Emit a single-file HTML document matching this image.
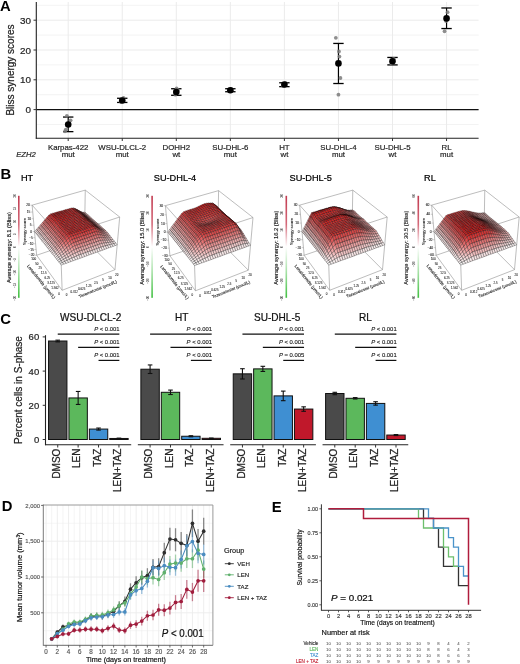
<!DOCTYPE html>
<html><head><meta charset="utf-8"><title>Figure</title>
<style>
html,body{margin:0;padding:0;background:#fff;}
svg{display:block;font-family:"Liberation Sans",Arial,sans-serif;}
</style></head><body>
<svg width="520" height="664" viewBox="0 0 520 664">
<rect width="520" height="664" fill="#fff"/>
<text x="0" y="10.8" font-size="14.8" font-weight="bold">A</text>
<text x="0.6" y="178.7" font-size="14.8" font-weight="bold">B</text>
<text x="0.2" y="324.4" font-size="14.8" font-weight="bold">C</text>
<text x="1.8" y="510.9" font-size="14.8" font-weight="bold">D</text>
<text x="271.8" y="512.2" font-size="14.8" font-weight="bold">E</text>
<line x1="36.3" y1="124.5" x2="478.6" y2="124.5" stroke="#ebebeb" stroke-width="0.6"/>
<line x1="36.3" y1="94.7" x2="478.6" y2="94.7" stroke="#ebebeb" stroke-width="0.6"/>
<line x1="36.3" y1="64.9" x2="478.6" y2="64.9" stroke="#ebebeb" stroke-width="0.6"/>
<line x1="36.3" y1="35.1" x2="478.6" y2="35.1" stroke="#ebebeb" stroke-width="0.6"/>
<line x1="36.3" y1="5.3" x2="478.6" y2="5.3" stroke="#ebebeb" stroke-width="0.6"/>
<line x1="36.3" y1="109.6" x2="478.6" y2="109.6" stroke="#ebebeb" stroke-width="1"/>
<line x1="36.3" y1="79.8" x2="478.6" y2="79.8" stroke="#ebebeb" stroke-width="1"/>
<line x1="36.3" y1="50" x2="478.6" y2="50" stroke="#ebebeb" stroke-width="1"/>
<line x1="36.3" y1="20.2" x2="478.6" y2="20.2" stroke="#ebebeb" stroke-width="1"/>
<line x1="68.2" y1="2" x2="68.2" y2="138.2" stroke="#ebebeb" stroke-width="1"/>
<line x1="122.25" y1="2" x2="122.25" y2="138.2" stroke="#ebebeb" stroke-width="1"/>
<line x1="176.3" y1="2" x2="176.3" y2="138.2" stroke="#ebebeb" stroke-width="1"/>
<line x1="230.35" y1="2" x2="230.35" y2="138.2" stroke="#ebebeb" stroke-width="1"/>
<line x1="284.4" y1="2" x2="284.4" y2="138.2" stroke="#ebebeb" stroke-width="1"/>
<line x1="338.45" y1="2" x2="338.45" y2="138.2" stroke="#ebebeb" stroke-width="1"/>
<line x1="392.5" y1="2" x2="392.5" y2="138.2" stroke="#ebebeb" stroke-width="1"/>
<line x1="446.55" y1="2" x2="446.55" y2="138.2" stroke="#ebebeb" stroke-width="1"/>
<line x1="36.3" y1="109.6" x2="478.6" y2="109.6" stroke="#111" stroke-width="1.1"/>
<line x1="36.3" y1="2" x2="36.3" y2="138.7" stroke="#222" stroke-width="1.1"/>
<line x1="35.8" y1="138.2" x2="478.6" y2="138.2" stroke="#222" stroke-width="1.1"/>
<line x1="33.5" y1="109.6" x2="36.3" y2="109.6" stroke="#333" stroke-width="1"/>
<text x="31" y="113.1" font-size="9.9" text-anchor="end" fill="#262626" stroke="#262626" stroke-width="0.22">0</text>
<line x1="33.5" y1="79.8" x2="36.3" y2="79.8" stroke="#333" stroke-width="1"/>
<text x="31" y="83.3" font-size="9.9" text-anchor="end" fill="#262626" stroke="#262626" stroke-width="0.22">10</text>
<line x1="33.5" y1="50" x2="36.3" y2="50" stroke="#333" stroke-width="1"/>
<text x="31" y="53.5" font-size="9.9" text-anchor="end" fill="#262626" stroke="#262626" stroke-width="0.22">20</text>
<line x1="33.5" y1="20.2" x2="36.3" y2="20.2" stroke="#333" stroke-width="1"/>
<text x="31" y="23.7" font-size="9.9" text-anchor="end" fill="#262626" stroke="#262626" stroke-width="0.22">30</text>
<line x1="68.2" y1="138.2" x2="68.2" y2="141" stroke="#333" stroke-width="1"/>
<text x="68.2" y="149.6" font-size="7.85" text-anchor="middle" fill="#262626" stroke="#262626" stroke-width="0.19">Karpas-422</text>
<text x="68.2" y="157.1" font-size="7.85" text-anchor="middle" fill="#262626" stroke="#262626" stroke-width="0.19">mut</text>
<line x1="122.25" y1="138.2" x2="122.25" y2="141" stroke="#333" stroke-width="1"/>
<text x="122.25" y="149.6" font-size="7.85" text-anchor="middle" fill="#262626" stroke="#262626" stroke-width="0.19">WSU-DLCL-2</text>
<text x="122.25" y="157.1" font-size="7.85" text-anchor="middle" fill="#262626" stroke="#262626" stroke-width="0.19">mut</text>
<line x1="176.3" y1="138.2" x2="176.3" y2="141" stroke="#333" stroke-width="1"/>
<text x="176.3" y="149.6" font-size="7.85" text-anchor="middle" fill="#262626" stroke="#262626" stroke-width="0.19">DOHH2</text>
<text x="176.3" y="157.1" font-size="7.85" text-anchor="middle" fill="#262626" stroke="#262626" stroke-width="0.19">wt</text>
<line x1="230.35" y1="138.2" x2="230.35" y2="141" stroke="#333" stroke-width="1"/>
<text x="230.35" y="149.6" font-size="7.85" text-anchor="middle" fill="#262626" stroke="#262626" stroke-width="0.19">SU-DHL-6</text>
<text x="230.35" y="157.1" font-size="7.85" text-anchor="middle" fill="#262626" stroke="#262626" stroke-width="0.19">mut</text>
<line x1="284.4" y1="138.2" x2="284.4" y2="141" stroke="#333" stroke-width="1"/>
<text x="284.4" y="149.6" font-size="7.85" text-anchor="middle" fill="#262626" stroke="#262626" stroke-width="0.19">HT</text>
<text x="284.4" y="157.1" font-size="7.85" text-anchor="middle" fill="#262626" stroke="#262626" stroke-width="0.19">wt</text>
<line x1="338.45" y1="138.2" x2="338.45" y2="141" stroke="#333" stroke-width="1"/>
<text x="338.45" y="149.6" font-size="7.85" text-anchor="middle" fill="#262626" stroke="#262626" stroke-width="0.19">SU-DHL-4</text>
<text x="338.45" y="157.1" font-size="7.85" text-anchor="middle" fill="#262626" stroke="#262626" stroke-width="0.19">mut</text>
<line x1="392.5" y1="138.2" x2="392.5" y2="141" stroke="#333" stroke-width="1"/>
<text x="392.5" y="149.6" font-size="7.85" text-anchor="middle" fill="#262626" stroke="#262626" stroke-width="0.19">SU-DHL-5</text>
<text x="392.5" y="157.1" font-size="7.85" text-anchor="middle" fill="#262626" stroke="#262626" stroke-width="0.19">wt</text>
<line x1="446.55" y1="138.2" x2="446.55" y2="141" stroke="#333" stroke-width="1"/>
<text x="446.55" y="149.6" font-size="7.85" text-anchor="middle" fill="#262626" stroke="#262626" stroke-width="0.19">RL</text>
<text x="446.55" y="157.1" font-size="7.85" text-anchor="middle" fill="#262626" stroke="#262626" stroke-width="0.19">mut</text>
<text x="16.2" y="157.1" font-size="7.7" fill="#262626" font-style="italic" stroke="#262626" stroke-width="0.19">EZH2</text>
<text x="14.3" y="70" font-size="10" text-anchor="middle" fill="#222" transform="rotate(-90 14.3 70)" stroke="#222" stroke-width="0.22">Bliss synergy scores</text>
<line x1="68.2" y1="117.05" x2="68.2" y2="131.65" stroke="#000" stroke-width="1.2"/>
<line x1="63" y1="117.05" x2="73.4" y2="117.05" stroke="#000" stroke-width="1.3"/>
<line x1="63" y1="131.65" x2="73.4" y2="131.65" stroke="#000" stroke-width="1.3"/>
<circle cx="66.9" cy="115.86" r="1.9" fill="#7a7a7a" fill-opacity="0.85"/>
<circle cx="70.6" cy="120.33" r="1.9" fill="#7a7a7a" fill-opacity="0.85"/>
<circle cx="65.8" cy="129.57" r="1.9" fill="#7a7a7a" fill-opacity="0.85"/>
<circle cx="65" cy="131.35" r="1.9" fill="#7a7a7a" fill-opacity="0.85"/>
<circle cx="68.2" cy="124.5" r="3.3" fill="#000"/>
<line x1="122.25" y1="98.28" x2="122.25" y2="102.45" stroke="#000" stroke-width="1.2"/>
<line x1="117.05" y1="98.28" x2="127.45" y2="98.28" stroke="#000" stroke-width="1.3"/>
<line x1="117.05" y1="102.45" x2="127.45" y2="102.45" stroke="#000" stroke-width="1.3"/>
<circle cx="120.75" cy="101.85" r="1.9" fill="#7a7a7a" fill-opacity="0.85"/>
<circle cx="123.45" cy="97.98" r="1.9" fill="#7a7a7a" fill-opacity="0.85"/>
<circle cx="122.75" cy="99.77" r="1.9" fill="#7a7a7a" fill-opacity="0.85"/>
<circle cx="122.25" cy="100.51" r="3.3" fill="#000"/>
<line x1="176.3" y1="88.74" x2="176.3" y2="95.3" stroke="#000" stroke-width="1.2"/>
<line x1="171.1" y1="88.74" x2="181.5" y2="88.74" stroke="#000" stroke-width="1.3"/>
<line x1="171.1" y1="95.3" x2="181.5" y2="95.3" stroke="#000" stroke-width="1.3"/>
<circle cx="175.3" cy="94.7" r="1.9" fill="#7a7a7a" fill-opacity="0.85"/>
<circle cx="177.8" cy="89.93" r="1.9" fill="#7a7a7a" fill-opacity="0.85"/>
<circle cx="176.6" cy="88.44" r="1.9" fill="#7a7a7a" fill-opacity="0.85"/>
<circle cx="176.3" cy="92.02" r="3.3" fill="#000"/>
<line x1="230.35" y1="88.74" x2="230.35" y2="91.72" stroke="#000" stroke-width="1.2"/>
<line x1="225.15" y1="88.74" x2="235.55" y2="88.74" stroke="#000" stroke-width="1.3"/>
<line x1="225.15" y1="91.72" x2="235.55" y2="91.72" stroke="#000" stroke-width="1.3"/>
<circle cx="229.35" cy="91.12" r="1.9" fill="#7a7a7a" fill-opacity="0.85"/>
<circle cx="231.35" cy="89.04" r="1.9" fill="#7a7a7a" fill-opacity="0.85"/>
<circle cx="230.35" cy="90.23" r="3.3" fill="#000"/>
<line x1="284.4" y1="82.78" x2="284.4" y2="86.65" stroke="#000" stroke-width="1.2"/>
<line x1="279.2" y1="82.78" x2="289.6" y2="82.78" stroke="#000" stroke-width="1.3"/>
<line x1="279.2" y1="86.65" x2="289.6" y2="86.65" stroke="#000" stroke-width="1.3"/>
<circle cx="282.9" cy="85.76" r="1.9" fill="#7a7a7a" fill-opacity="0.85"/>
<circle cx="285.6" cy="83.08" r="1.9" fill="#7a7a7a" fill-opacity="0.85"/>
<circle cx="284.4" cy="84.57" r="3.3" fill="#000"/>
<line x1="338.45" y1="43.44" x2="338.45" y2="83.52" stroke="#000" stroke-width="1.2"/>
<line x1="333.25" y1="43.44" x2="343.65" y2="43.44" stroke="#000" stroke-width="1.3"/>
<line x1="333.25" y1="83.52" x2="343.65" y2="83.52" stroke="#000" stroke-width="1.3"/>
<circle cx="335.85" cy="37.78" r="1.9" fill="#7a7a7a" fill-opacity="0.85"/>
<circle cx="338.95" cy="51.49" r="1.9" fill="#7a7a7a" fill-opacity="0.85"/>
<circle cx="339.45" cy="56.56" r="1.9" fill="#7a7a7a" fill-opacity="0.85"/>
<circle cx="340.45" cy="78.01" r="1.9" fill="#7a7a7a" fill-opacity="0.85"/>
<circle cx="338.45" cy="94.7" r="1.9" fill="#7a7a7a" fill-opacity="0.85"/>
<circle cx="338.45" cy="63.41" r="3.3" fill="#000"/>
<line x1="392.5" y1="57.45" x2="392.5" y2="64.9" stroke="#000" stroke-width="1.2"/>
<line x1="387.3" y1="57.45" x2="397.7" y2="57.45" stroke="#000" stroke-width="1.3"/>
<line x1="387.3" y1="64.9" x2="397.7" y2="64.9" stroke="#000" stroke-width="1.3"/>
<circle cx="391.3" cy="63.41" r="1.9" fill="#7a7a7a" fill-opacity="0.85"/>
<circle cx="393.8" cy="58.94" r="1.9" fill="#7a7a7a" fill-opacity="0.85"/>
<circle cx="392.5" cy="59.54" r="1.9" fill="#7a7a7a" fill-opacity="0.85"/>
<circle cx="392.5" cy="61.32" r="3.3" fill="#000"/>
<line x1="446.55" y1="7.98" x2="446.55" y2="28.54" stroke="#000" stroke-width="1.2"/>
<line x1="441.35" y1="7.98" x2="451.75" y2="7.98" stroke="#000" stroke-width="1.3"/>
<line x1="441.35" y1="28.54" x2="451.75" y2="28.54" stroke="#000" stroke-width="1.3"/>
<circle cx="447.55" cy="12.15" r="1.9" fill="#7a7a7a" fill-opacity="0.85"/>
<circle cx="446.05" cy="21.09" r="1.9" fill="#7a7a7a" fill-opacity="0.85"/>
<circle cx="444.55" cy="31.23" r="1.9" fill="#7a7a7a" fill-opacity="0.85"/>
<circle cx="446.55" cy="18.41" r="3.3" fill="#000"/>
<line x1="62.14" y1="290.31" x2="60.23" y2="236.53" stroke="#909090" stroke-width="0.6"/>
<line x1="62.14" y1="290.31" x2="36.65" y2="255.26" stroke="#909090" stroke-width="0.6"/>
<line x1="62.14" y1="290.31" x2="114.99" y2="269.68" stroke="#909090" stroke-width="0.6"/>
<line x1="60.23" y1="236.53" x2="32.13" y2="205.17" stroke="#909090" stroke-width="0.6"/>
<line x1="60.23" y1="236.53" x2="119.7" y2="217.02" stroke="#909090" stroke-width="0.6"/>
<line x1="36.65" y1="255.26" x2="32.13" y2="205.17" stroke="#909090" stroke-width="0.6"/>
<line x1="36.65" y1="255.26" x2="84.45" y2="238.99" stroke="#909090" stroke-width="0.6"/>
<line x1="32.13" y1="205.17" x2="85.28" y2="190.12" stroke="#909090" stroke-width="0.6"/>
<line x1="114.99" y1="269.68" x2="119.7" y2="217.02" stroke="#909090" stroke-width="0.6"/>
<line x1="114.99" y1="269.68" x2="84.45" y2="238.99" stroke="#909090" stroke-width="0.6"/>
<line x1="119.7" y1="217.02" x2="85.28" y2="190.12" stroke="#909090" stroke-width="0.6"/>
<line x1="84.45" y1="238.99" x2="85.28" y2="190.12" stroke="#909090" stroke-width="0.6"/>
<g stroke="#000" stroke-opacity="0.78" stroke-width="0.36">
<path d="M84.1 213.3L86.0 213.2L84.9 212.2L83.0 212.3Z" fill="#dba2a2"/>
<path d="M82.2 212.7L84.1 213.3L83.0 212.3L81.1 211.7Z" fill="#cf8e8e"/>
<path d="M85.3 214.3L87.2 214.2L86.0 213.2L84.1 213.3Z" fill="#dba2a2"/>
<path d="M83.4 213.8L85.3 214.3L84.1 213.3L82.2 212.7Z" fill="#cf8e8e"/>
<path d="M80.3 211.7L82.2 212.7L81.1 211.7L79.1 210.7Z" fill="#c67676"/>
<path d="M86.4 215.4L88.4 215.2L87.2 214.2L85.3 214.3Z" fill="#dba2a2"/>
<path d="M84.5 214.8L86.4 215.4L85.3 214.3L83.4 213.8Z" fill="#cf8e8e"/>
<path d="M81.4 212.7L83.4 213.8L82.2 212.7L80.3 211.7Z" fill="#c67676"/>
<path d="M87.6 216.4L89.6 216.3L88.4 215.2L86.4 215.4Z" fill="#dba2a2"/>
<path d="M78.3 210.5L80.3 211.7L79.1 210.7L77.2 209.5Z" fill="#c05d5d"/>
<path d="M85.7 215.8L87.6 216.4L86.4 215.4L84.5 214.8Z" fill="#cf8e8e"/>
<path d="M88.8 217.5L90.7 217.3L89.6 216.3L87.6 216.4Z" fill="#dba2a2"/>
<path d="M82.6 213.8L84.5 214.8L83.4 213.8L81.4 212.7Z" fill="#c67676"/>
<path d="M79.4 211.5L81.4 212.7L80.3 211.7L78.3 210.5Z" fill="#c05d5d"/>
<path d="M76.3 209.5L78.3 210.5L77.2 209.5L75.2 208.5Z" fill="#bd4747"/>
<path d="M86.9 216.9L88.8 217.5L87.6 216.4L85.7 215.8Z" fill="#cf8e8e"/>
<path d="M90.0 218.6L92.0 218.4L90.7 217.3L88.8 217.5Z" fill="#dba2a2"/>
<path d="M83.7 214.8L85.7 215.8L84.5 214.8L82.6 213.8Z" fill="#c67676"/>
<path d="M80.6 212.6L82.6 213.8L81.4 212.7L79.4 211.5Z" fill="#c05d5d"/>
<path d="M77.5 210.5L79.4 211.5L78.3 210.5L76.3 209.5Z" fill="#bd4747"/>
<path d="M74.3 208.9L76.3 209.5L75.2 208.5L73.2 207.9Z" fill="#bf3636"/>
<path d="M88.1 218.0L90.0 218.6L88.8 217.5L86.9 216.9Z" fill="#cf8e8e"/>
<path d="M91.2 219.6L93.2 219.5L92.0 218.4L90.0 218.6Z" fill="#dba2a2"/>
<path d="M84.9 215.9L86.9 216.9L85.7 215.8L83.7 214.8Z" fill="#c67676"/>
<path d="M81.8 213.6L83.7 214.8L82.6 213.8L80.6 212.6Z" fill="#c05d5d"/>
<path d="M72.3 209.1L74.3 208.9L73.2 207.9L71.2 208.1Z" fill="#c62d2d"/>
<path d="M78.6 211.5L80.6 212.6L79.4 211.5L77.5 210.5Z" fill="#bd4747"/>
<path d="M75.4 209.9L77.5 210.5L76.3 209.5L74.3 208.9Z" fill="#bf3535"/>
<path d="M70.3 209.6L72.3 209.1L71.2 208.1L69.2 208.7Z" fill="#c92a2a"/>
<path d="M89.3 219.1L91.2 219.6L90.0 218.6L88.1 218.0Z" fill="#cf8e8e"/>
<path d="M92.4 220.7L94.4 220.6L93.2 219.5L91.2 219.6Z" fill="#dba2a2"/>
<path d="M86.1 217.0L88.1 218.0L86.9 216.9L84.9 215.9Z" fill="#c67676"/>
<path d="M82.9 214.7L84.9 215.9L83.7 214.8L81.8 213.6Z" fill="#c05d5d"/>
<path d="M73.4 210.0L75.4 209.9L74.3 208.9L72.3 209.1Z" fill="#c62c2c"/>
<path d="M79.8 212.6L81.8 213.6L80.6 212.6L78.6 211.5Z" fill="#bd4646"/>
<path d="M68.2 210.2L70.3 209.6L69.2 208.7L67.1 209.2Z" fill="#c92a2a"/>
<path d="M76.6 210.9L78.6 211.5L77.5 210.5L75.4 209.9Z" fill="#bf3535"/>
<path d="M90.5 220.2L92.4 220.7L91.2 219.6L89.3 219.1Z" fill="#cf8e8e"/>
<path d="M93.7 221.8L95.6 221.7L94.4 220.6L92.4 220.7Z" fill="#dba2a2"/>
<path d="M71.4 210.6L73.4 210.0L72.3 209.1L70.3 209.6Z" fill="#c92929"/>
<path d="M87.3 218.0L89.3 219.1L88.1 218.0L86.1 217.0Z" fill="#c67676"/>
<path d="M66.2 210.7L68.2 210.2L67.1 209.2L65.1 209.8Z" fill="#c82929"/>
<path d="M84.1 215.8L86.1 217.0L84.9 215.9L82.9 214.7Z" fill="#c05d5d"/>
<path d="M74.6 211.0L76.6 210.9L75.4 209.9L73.4 210.0Z" fill="#c62c2c"/>
<path d="M80.9 213.6L82.9 214.7L81.8 213.6L79.8 212.6Z" fill="#bd4747"/>
<path d="M77.7 211.9L79.8 212.6L78.6 211.5L76.6 210.9Z" fill="#bf3535"/>
<path d="M69.3 211.1L71.4 210.6L70.3 209.6L68.2 210.2Z" fill="#c82828"/>
<path d="M64.1 211.2L66.2 210.7L65.1 209.8L63.1 210.4Z" fill="#c82828"/>
<path d="M91.7 221.3L93.7 221.8L92.4 220.7L90.5 220.2Z" fill="#cf8e8e"/>
<path d="M94.9 222.9L96.9 222.8L95.6 221.7L93.7 221.8Z" fill="#dba2a2"/>
<path d="M72.5 211.6L74.6 211.0L73.4 210.0L71.4 210.6Z" fill="#c92929"/>
<path d="M88.5 219.1L90.5 220.2L89.3 219.1L87.3 218.0Z" fill="#c67676"/>
<path d="M67.3 211.6L69.3 211.1L68.2 210.2L66.2 210.7Z" fill="#c72727"/>
<path d="M62.1 211.8L64.1 211.2L63.1 210.4L61.0 210.9Z" fill="#c72727"/>
<path d="M85.3 216.9L87.3 218.0L86.1 217.0L84.1 215.8Z" fill="#c05d5d"/>
<path d="M75.7 212.1L77.7 211.9L76.6 210.9L74.6 211.0Z" fill="#c62b2b"/>
<path d="M82.1 214.7L84.1 215.8L82.9 214.7L80.9 213.6Z" fill="#bd4747"/>
<path d="M78.9 213.0L80.9 213.6L79.8 212.6L77.7 211.9Z" fill="#bf3535"/>
<path d="M70.5 212.1L72.5 211.6L71.4 210.6L69.3 211.1Z" fill="#c82727"/>
<path d="M65.2 212.1L67.3 211.6L66.2 210.7L64.1 211.2Z" fill="#c72525"/>
<path d="M60.0 212.3L62.1 211.8L61.0 210.9L58.9 211.5Z" fill="#c62626"/>
<path d="M93.0 222.4L94.9 222.9L93.7 221.8L91.7 221.3Z" fill="#cf8e8e"/>
<path d="M96.2 224.1L98.2 223.9L96.9 222.8L94.9 222.9Z" fill="#dba2a2"/>
<path d="M89.8 220.3L91.7 221.3L90.5 220.2L88.5 219.1Z" fill="#c67676"/>
<path d="M73.7 212.6L75.7 212.1L74.6 211.0L72.5 211.6Z" fill="#c92828"/>
<path d="M68.4 212.6L70.5 212.1L69.3 211.1L67.3 211.6Z" fill="#c72525"/>
<path d="M86.5 218.0L88.5 219.1L87.3 218.0L85.3 216.9Z" fill="#c05e5e"/>
<path d="M57.9 212.9L60.0 212.3L58.9 211.5L56.9 212.1Z" fill="#c62525"/>
<path d="M63.1 212.6L65.2 212.1L64.1 211.2L62.1 211.8Z" fill="#c62424"/>
<path d="M76.9 213.2L78.9 213.0L77.7 211.9L75.7 212.1Z" fill="#c62c2c"/>
<path d="M83.3 215.8L85.3 216.9L84.1 215.8L82.1 214.7Z" fill="#be4747"/>
<path d="M80.1 214.1L82.1 214.7L80.9 213.6L78.9 213.0Z" fill="#bf3535"/>
<path d="M71.6 213.1L73.7 212.6L72.5 211.6L70.5 212.1Z" fill="#c92727"/>
<path d="M55.8 213.5L57.9 212.9L56.9 212.1L54.8 212.7Z" fill="#c52424"/>
<path d="M66.3 213.0L68.4 212.6L67.3 211.6L65.2 212.1Z" fill="#c72424"/>
<path d="M94.2 223.5L96.2 224.1L94.9 222.9L93.0 222.4Z" fill="#cf8e8e"/>
<path d="M97.5 225.2L99.5 225.0L98.2 223.9L96.2 224.1Z" fill="#dba2a2"/>
<path d="M61.1 213.1L63.1 212.6L62.1 211.8L60.0 212.3Z" fill="#c52222"/>
<path d="M91.0 221.4L93.0 222.4L91.7 221.3L89.8 220.3Z" fill="#c67676"/>
<path d="M74.8 213.7L76.9 213.2L75.7 212.1L73.7 212.6Z" fill="#ca2929"/>
<path d="M35.4 232.7L37.4 230.4L36.5 229.3L34.5 231.6Z" fill="#f0e2e2"/>
<path d="M87.8 219.1L89.8 220.3L88.5 219.1L86.5 218.0Z" fill="#c05e5e"/>
<path d="M69.5 213.6L71.6 213.1L70.5 212.1L68.4 212.6Z" fill="#c82525"/>
<path d="M53.7 214.1L55.8 213.5L54.8 212.7L52.7 213.3Z" fill="#c52424"/>
<path d="M37.4 230.4L39.4 228.1L38.5 227.0L36.5 229.3Z" fill="#ebc4c4"/>
<path d="M64.2 213.5L66.3 213.0L65.2 212.1L63.1 212.6Z" fill="#c62222"/>
<path d="M59.0 213.7L61.1 213.1L60.0 212.3L57.9 212.9Z" fill="#c52121"/>
<path d="M78.0 214.3L80.1 214.1L78.9 213.0L76.9 213.2Z" fill="#c72c2c"/>
<path d="M84.5 217.0L86.5 218.0L85.3 216.9L83.3 215.8Z" fill="#be4747"/>
<path d="M39.4 228.1L41.5 225.8L40.5 224.7L38.5 227.0Z" fill="#e5a8a8"/>
<path d="M81.3 215.3L83.3 215.8L82.1 214.7L80.1 214.1Z" fill="#bf3636"/>
<path d="M72.7 214.3L74.8 213.7L73.7 212.6L71.6 213.1Z" fill="#ca2727"/>
<path d="M41.5 225.8L43.5 223.5L42.5 222.4L40.5 224.7Z" fill="#e08d8d"/>
<path d="M51.6 214.7L53.7 214.1L52.7 213.3L50.6 213.9Z" fill="#c52424"/>
<path d="M95.5 224.7L97.5 225.2L96.2 224.1L94.2 223.5Z" fill="#cf8e8e"/>
<path d="M98.8 226.4L100.8 226.2L99.5 225.0L97.5 225.2Z" fill="#dba2a2"/>
<path d="M43.5 223.5L45.5 221.1L44.5 220.1L42.5 222.4Z" fill="#db7272"/>
<path d="M67.4 214.1L69.5 213.6L68.4 212.6L66.3 213.0Z" fill="#c82323"/>
<path d="M56.9 214.2L59.0 213.7L57.9 212.9L55.8 213.5Z" fill="#c42020"/>
<path d="M92.3 222.5L94.2 223.5L93.0 222.4L91.0 221.4Z" fill="#c67676"/>
<path d="M62.1 214.0L64.2 213.5L63.1 212.6L61.1 213.1Z" fill="#c52020"/>
<path d="M45.5 221.1L47.5 218.7L46.5 217.8L44.5 220.1Z" fill="#d55858"/>
<path d="M76.0 214.9L78.0 214.3L76.9 213.2L74.8 213.7Z" fill="#cb2929"/>
<path d="M49.5 216.2L51.6 214.7L50.6 213.9L48.5 215.4Z" fill="#cc2b2b"/>
<path d="M47.5 218.7L49.5 216.2L48.5 215.4L46.5 217.8Z" fill="#d03e3e"/>
<path d="M89.0 220.2L91.0 221.4L89.8 220.3L87.8 219.1Z" fill="#c05e5e"/>
<path d="M36.4 233.9L38.4 231.6L37.4 230.4L35.4 232.7Z" fill="#f0e2e2"/>
<path d="M70.7 214.8L72.7 214.3L71.6 213.1L69.5 213.6Z" fill="#c92525"/>
<path d="M79.2 215.5L81.3 215.3L80.1 214.1L78.0 214.3Z" fill="#c72d2d"/>
<path d="M38.4 231.6L40.4 229.3L39.4 228.1L37.4 230.4Z" fill="#eac3c3"/>
<path d="M54.7 214.8L56.9 214.2L55.8 213.5L53.7 214.1Z" fill="#c42020"/>
<path d="M85.7 218.1L87.8 219.1L86.5 218.0L84.5 217.0Z" fill="#be4747"/>
<path d="M65.3 214.6L67.4 214.1L66.3 213.0L64.2 213.5Z" fill="#c72121"/>
<path d="M60.0 214.5L62.1 214.0L61.1 213.1L59.0 213.7Z" fill="#c51e1e"/>
<path d="M82.5 216.4L84.5 217.0L83.3 215.8L81.3 215.3Z" fill="#c03636"/>
<path d="M40.4 229.3L42.4 226.9L41.5 225.8L39.4 228.1Z" fill="#e5a7a7"/>
<path d="M73.9 215.4L76.0 214.9L74.8 213.7L72.7 214.3Z" fill="#ca2828"/>
<path d="M96.8 225.8L98.8 226.4L97.5 225.2L95.5 224.7Z" fill="#cf8e8e"/>
<path d="M100.1 227.5L102.1 227.3L100.8 226.2L98.8 226.4Z" fill="#dba2a2"/>
<path d="M42.4 226.9L44.4 224.5L43.5 223.5L41.5 225.8Z" fill="#e08b8b"/>
<path d="M68.6 215.3L70.7 214.8L69.5 213.6L67.4 214.1Z" fill="#c92323"/>
<path d="M93.5 223.7L95.5 224.7L94.2 223.5L92.3 222.5Z" fill="#c67676"/>
<path d="M52.6 215.5L54.7 214.8L53.7 214.1L51.6 214.7Z" fill="#c42020"/>
<path d="M44.4 224.5L46.5 222.0L45.5 221.1L43.5 223.5Z" fill="#da7070"/>
<path d="M63.2 215.1L65.3 214.6L64.2 213.5L62.1 214.0Z" fill="#c71f1f"/>
<path d="M57.9 215.1L60.0 214.5L59.0 213.7L56.9 214.2Z" fill="#c51d1d"/>
<path d="M77.1 216.1L79.2 215.5L78.0 214.3L76.0 214.9Z" fill="#cb2a2a"/>
<path d="M46.5 222.0L48.5 219.6L47.5 218.7L45.5 221.1Z" fill="#d55555"/>
<path d="M90.3 221.3L92.3 222.5L91.0 221.4L89.0 220.2Z" fill="#c05e5e"/>
<path d="M50.5 217.1L52.6 215.5L51.6 214.7L49.5 216.2Z" fill="#cb2727"/>
<path d="M48.5 219.6L50.5 217.1L49.5 216.2L47.5 218.7Z" fill="#cf3b3b"/>
<path d="M37.3 235.1L39.4 232.8L38.4 231.6L36.4 233.9Z" fill="#f0e2e2"/>
<path d="M71.8 216.0L73.9 215.4L72.7 214.3L70.7 214.8Z" fill="#ca2727"/>
<path d="M80.4 216.6L82.5 216.4L81.3 215.3L79.2 215.5Z" fill="#c72d2d"/>
<path d="M87.0 219.2L89.0 220.2L87.8 219.1L85.7 218.1Z" fill="#be4848"/>
<path d="M66.5 215.8L68.6 215.3L67.4 214.1L65.3 214.6Z" fill="#c92121"/>
<path d="M39.4 232.8L41.4 230.4L40.4 229.3L38.4 231.6Z" fill="#eac3c3"/>
<path d="M83.7 217.5L85.7 218.1L84.5 217.0L82.5 216.4Z" fill="#c03636"/>
<path d="M55.8 215.7L57.9 215.1L56.9 214.2L54.7 214.8Z" fill="#c51c1c"/>
<path d="M61.1 215.6L63.2 215.1L62.1 214.0L60.0 214.5Z" fill="#c71d1d"/>
<path d="M101.4 228.7L103.4 228.5L102.1 227.3L100.1 227.5Z" fill="#dba2a2"/>
<path d="M75.1 216.7L77.1 216.1L76.0 214.9L73.9 215.4Z" fill="#cb2929"/>
<path d="M98.1 227.0L100.1 227.5L98.8 226.4L96.8 225.8Z" fill="#cf8e8e"/>
<path d="M41.4 230.4L43.4 228.0L42.4 226.9L40.4 229.3Z" fill="#e5a6a6"/>
<path d="M43.4 228.0L45.4 225.6L44.4 224.5L42.4 226.9Z" fill="#e08a8a"/>
<path d="M94.8 224.8L96.8 225.8L95.5 224.7L93.5 223.7Z" fill="#c67676"/>
<path d="M69.7 216.5L71.8 216.0L70.7 214.8L68.6 215.3Z" fill="#ca2525"/>
<path d="M45.4 225.6L47.5 223.1L46.5 222.0L44.4 224.5Z" fill="#da6e6e"/>
<path d="M64.3 216.3L66.5 215.8L65.3 214.6L63.2 215.1Z" fill="#c91f1f"/>
<path d="M78.3 217.2L80.4 216.6L79.2 215.5L77.1 216.1Z" fill="#cb2b2b"/>
<path d="M53.7 216.4L55.8 215.7L54.7 214.8L52.6 215.5Z" fill="#c51c1c"/>
<path d="M59.0 216.1L61.1 215.6L60.0 214.5L57.9 215.1Z" fill="#c71b1b"/>
<path d="M91.5 222.5L93.5 223.7L92.3 222.5L90.3 221.3Z" fill="#c05e5e"/>
<path d="M47.5 223.1L49.5 220.5L48.5 219.6L46.5 222.0Z" fill="#d55353"/>
<path d="M73.0 217.2L75.1 216.7L73.9 215.4L71.8 216.0Z" fill="#cb2828"/>
<path d="M38.3 236.3L40.3 234.0L39.4 232.8L37.3 235.1Z" fill="#f0e2e2"/>
<path d="M81.6 217.7L83.7 217.5L82.5 216.4L80.4 216.6Z" fill="#c72e2e"/>
<path d="M88.2 220.3L90.3 221.3L89.0 220.2L87.0 219.2Z" fill="#be4848"/>
<path d="M51.6 218.0L53.7 216.4L52.6 215.5L50.5 217.1Z" fill="#cb2424"/>
<path d="M49.5 220.5L51.6 218.0L50.5 217.1L48.5 219.6Z" fill="#cf3838"/>
<path d="M67.6 217.1L69.7 216.5L68.6 215.3L66.5 215.8Z" fill="#cb2424"/>
<path d="M84.9 218.7L87.0 219.2L85.7 218.1L83.7 217.5Z" fill="#c03737"/>
<path d="M40.3 234.0L42.4 231.6L41.4 230.4L39.4 232.8Z" fill="#ebc3c3"/>
<path d="M102.7 229.9L104.8 229.7L103.4 228.5L101.4 228.7Z" fill="#dba2a2"/>
<path d="M99.4 228.2L101.4 228.7L100.1 227.5L98.1 227.0Z" fill="#cf8e8e"/>
<path d="M62.2 216.8L64.3 216.3L63.2 215.1L61.1 215.6Z" fill="#c91e1e"/>
<path d="M76.2 217.9L78.3 217.2L77.1 216.1L75.1 216.7Z" fill="#cb2b2b"/>
<path d="M56.9 216.8L59.0 216.1L57.9 215.1L55.8 215.7Z" fill="#c71b1b"/>
<path d="M42.4 231.6L44.4 229.2L43.4 228.0L41.4 230.4Z" fill="#e5a6a6"/>
<path d="M96.1 226.0L98.1 227.0L96.8 225.8L94.8 224.8Z" fill="#c67676"/>
<path d="M70.9 217.8L73.0 217.2L71.8 216.0L69.7 216.5Z" fill="#cb2727"/>
<path d="M44.4 229.2L46.4 226.7L45.4 225.6L43.4 228.0Z" fill="#e08a8a"/>
<path d="M65.5 217.6L67.6 217.1L66.5 215.8L64.3 216.3Z" fill="#cb2222"/>
<path d="M79.5 218.4L81.6 217.7L80.4 216.6L78.3 217.2Z" fill="#cb2c2c"/>
<path d="M92.8 223.6L94.8 224.8L93.5 223.7L91.5 222.5Z" fill="#c05e5e"/>
<path d="M46.4 226.7L48.5 224.2L47.5 223.1L45.4 225.6Z" fill="#db6e6e"/>
<path d="M54.7 217.4L56.9 216.8L55.8 215.7L53.7 216.4Z" fill="#c71a1a"/>
<path d="M60.1 217.4L62.2 216.8L61.1 215.6L59.0 216.1Z" fill="#c91c1c"/>
<path d="M74.1 218.5L76.2 217.9L75.1 216.7L73.0 217.2Z" fill="#cb2a2a"/>
<path d="M48.5 224.2L50.5 221.6L49.5 220.5L47.5 223.1Z" fill="#d65252"/>
<path d="M89.5 221.5L91.5 222.5L90.3 221.3L88.2 220.3Z" fill="#be4848"/>
<path d="M39.3 237.5L41.3 235.2L40.3 234.0L38.3 236.3Z" fill="#f0e2e2"/>
<path d="M82.8 218.9L84.9 218.7L83.7 217.5L81.6 217.7Z" fill="#c72e2e"/>
<path d="M68.7 218.4L70.9 217.8L69.7 216.5L67.6 217.1Z" fill="#cc2626"/>
<path d="M86.2 219.8L88.2 220.3L87.0 219.2L84.9 218.7Z" fill="#c03737"/>
<path d="M50.5 221.6L52.6 219.1L51.6 218.0L49.5 220.5Z" fill="#d03737"/>
<path d="M52.6 219.1L54.7 217.4L53.7 216.4L51.6 218.0Z" fill="#cd2222"/>
<path d="M104.1 231.1L106.1 230.9L104.8 229.7L102.7 229.9Z" fill="#dba2a2"/>
<path d="M100.7 229.4L102.7 229.9L101.4 228.7L99.4 228.2Z" fill="#cf8e8e"/>
<path d="M41.3 235.2L43.4 232.8L42.4 231.6L40.3 234.0Z" fill="#ebc3c3"/>
<path d="M63.3 218.2L65.5 217.6L64.3 216.3L62.2 216.8Z" fill="#cb2121"/>
<path d="M77.4 219.0L79.5 218.4L78.3 217.2L76.2 217.9Z" fill="#cb2c2c"/>
<path d="M57.9 218.0L60.1 217.4L59.0 216.1L56.9 216.8Z" fill="#c91c1c"/>
<path d="M97.4 227.2L99.4 228.2L98.1 227.0L96.1 226.0Z" fill="#c67676"/>
<path d="M43.4 232.8L45.4 230.4L44.4 229.2L42.4 231.6Z" fill="#e6a7a7"/>
<path d="M72.0 219.1L74.1 218.5L73.0 217.2L70.9 217.8Z" fill="#cc2929"/>
<path d="M45.4 230.4L47.5 227.9L46.4 226.7L44.4 229.2Z" fill="#e18b8b"/>
<path d="M66.6 219.0L68.7 218.4L67.6 217.1L65.5 217.6Z" fill="#cc2525"/>
<path d="M80.7 219.5L82.8 218.9L81.6 217.7L79.5 218.4Z" fill="#cb2c2c"/>
<path d="M94.1 224.8L96.1 226.0L94.8 224.8L92.8 223.6Z" fill="#c05e5e"/>
<path d="M61.2 218.8L63.3 218.2L62.2 216.8L60.1 217.4Z" fill="#cb1f1f"/>
<path d="M47.5 227.9L49.5 225.4L48.5 224.2L46.4 226.7Z" fill="#dc6f6f"/>
<path d="M55.8 218.7L57.9 218.0L56.9 216.8L54.7 217.4Z" fill="#ca1c1c"/>
<path d="M75.3 219.7L77.4 219.0L76.2 217.9L74.1 218.5Z" fill="#cb2b2b"/>
<path d="M90.8 222.6L92.8 223.6L91.5 222.5L89.5 221.5Z" fill="#be4848"/>
<path d="M49.5 225.4L51.6 222.9L50.5 221.6L48.5 224.2Z" fill="#d75353"/>
<path d="M84.1 220.0L86.2 219.8L84.9 218.7L82.8 218.9Z" fill="#c72e2e"/>
<path d="M69.9 219.7L72.0 219.1L70.9 217.8L68.7 218.4Z" fill="#cc2929"/>
<path d="M105.4 232.6L107.5 232.4L106.1 230.9L104.1 231.1Z" fill="#e0a7a7"/>
<path d="M40.2 238.8L42.3 236.4L41.3 235.2L39.3 237.5Z" fill="#f0e2e2"/>
<path d="M87.4 220.9L89.5 221.5L88.2 220.3L86.2 219.8Z" fill="#c03737"/>
<path d="M102.1 230.6L104.1 231.1L102.7 229.9L100.7 229.4Z" fill="#cf8e8e"/>
<path d="M51.6 222.9L53.7 220.3L52.6 219.1L50.5 221.6Z" fill="#d23737"/>
<path d="M53.7 220.3L55.8 218.7L54.7 217.4L52.6 219.1Z" fill="#d02323"/>
<path d="M64.5 219.6L66.6 219.0L65.5 217.6L63.3 218.2Z" fill="#cc2424"/>
<path d="M42.3 236.4L44.4 234.0L43.4 232.8L41.3 235.2Z" fill="#ebc4c4"/>
<path d="M78.6 220.2L80.7 219.5L79.5 218.4L77.4 219.0Z" fill="#cb2c2c"/>
<path d="M59.0 219.4L61.2 218.8L60.1 217.4L57.9 218.0Z" fill="#cc1f1f"/>
<path d="M98.8 228.4L100.7 229.4L99.4 228.2L97.4 227.2Z" fill="#c67676"/>
<path d="M73.2 220.3L75.3 219.7L74.1 218.5L72.0 219.1Z" fill="#cc2b2b"/>
<path d="M44.4 234.0L46.4 231.6L45.4 230.4L43.4 232.8Z" fill="#e6a7a7"/>
<path d="M67.8 220.4L69.9 219.7L68.7 218.4L66.6 219.0Z" fill="#cc2828"/>
<path d="M46.4 231.6L48.5 229.2L47.5 227.9L45.4 230.4Z" fill="#e18c8c"/>
<path d="M95.4 226.0L97.4 227.2L96.1 226.0L94.1 224.8Z" fill="#c05e5e"/>
<path d="M82.0 220.7L84.1 220.0L82.8 218.9L80.7 219.5Z" fill="#cb2c2c"/>
<path d="M62.3 220.2L64.5 219.6L63.3 218.2L61.2 218.8Z" fill="#cc2323"/>
<path d="M106.8 234.4L108.8 234.1L107.5 232.4L105.4 232.6Z" fill="#e5b1b1"/>
<path d="M56.9 220.1L59.0 219.4L57.9 218.0L55.8 218.7Z" fill="#cc1f1f"/>
<path d="M48.5 229.2L50.6 226.7L49.5 225.4L47.5 227.9Z" fill="#dd7070"/>
<path d="M76.5 220.9L78.6 220.2L77.4 219.0L75.3 219.7Z" fill="#cb2c2c"/>
<path d="M92.1 223.8L94.1 224.8L92.8 223.6L90.8 222.6Z" fill="#be4848"/>
<path d="M103.4 232.2L105.4 232.6L104.1 231.1L102.1 230.6Z" fill="#d49494"/>
<path d="M85.3 221.2L87.4 220.9L86.2 219.8L84.1 220.0Z" fill="#c72e2e"/>
<path d="M71.1 221.0L73.2 220.3L72.0 219.1L69.9 219.7Z" fill="#cc2b2b"/>
<path d="M50.6 226.7L52.7 224.2L51.6 222.9L49.5 225.4Z" fill="#d85555"/>
<path d="M88.7 222.1L90.8 222.6L89.5 221.5L87.4 220.9Z" fill="#c03737"/>
<path d="M41.2 240.0L43.3 237.7L42.3 236.4L40.2 238.8Z" fill="#f0e2e2"/>
<path d="M65.6 221.0L67.8 220.4L66.6 219.0L64.5 219.6Z" fill="#cc2828"/>
<path d="M54.8 221.7L56.9 220.1L55.8 218.7L53.7 220.3Z" fill="#d12626"/>
<path d="M52.7 224.2L54.8 221.7L53.7 220.3L51.6 222.9Z" fill="#d43a3a"/>
<path d="M60.2 220.9L62.3 220.2L61.2 218.8L59.0 219.4Z" fill="#cd2323"/>
<path d="M79.9 221.4L82.0 220.7L80.7 219.5L78.6 220.2Z" fill="#cb2c2c"/>
<path d="M43.3 237.7L45.4 235.3L44.4 234.0L42.3 236.4Z" fill="#ebc4c4"/>
<path d="M100.1 229.6L102.1 230.6L100.7 229.4L98.8 228.4Z" fill="#c67676"/>
<path d="M74.4 221.5L76.5 220.9L75.3 219.7L73.2 220.3Z" fill="#cb2c2c"/>
<path d="M45.4 235.3L47.5 232.9L46.4 231.6L44.4 234.0Z" fill="#e6a8a8"/>
<path d="M108.1 236.2L110.2 235.9L108.8 234.1L106.8 234.4Z" fill="#e7baba"/>
<path d="M68.9 221.6L71.1 221.0L69.9 219.7L67.8 220.4Z" fill="#cc2a2a"/>
<path d="M96.7 227.2L98.8 228.4L97.4 227.2L95.4 226.0Z" fill="#c05e5e"/>
<path d="M47.5 232.9L49.6 230.5L48.5 229.2L46.4 231.6Z" fill="#e28d8d"/>
<path d="M83.2 221.9L85.3 221.2L84.1 220.0L82.0 220.7Z" fill="#cb2c2c"/>
<path d="M63.5 221.7L65.6 221.0L64.5 219.6L62.3 220.2Z" fill="#cd2727"/>
<path d="M104.8 234.1L106.8 234.4L105.4 232.6L103.4 232.2Z" fill="#da9f9f"/>
<path d="M58.0 221.6L60.2 220.9L59.0 219.4L56.9 220.1Z" fill="#cd2323"/>
<path d="M49.6 230.5L51.7 228.1L50.6 226.7L48.5 229.2Z" fill="#dd7272"/>
<path d="M77.7 222.1L79.9 221.4L78.6 220.2L76.5 220.9Z" fill="#cb2c2c"/>
<path d="M93.4 225.0L95.4 226.0L94.1 224.8L92.1 223.8Z" fill="#be4848"/>
<path d="M86.6 222.4L88.7 222.1L87.4 220.9L85.3 221.2Z" fill="#c72e2e"/>
<path d="M72.2 222.2L74.4 221.5L73.2 220.3L71.1 221.0Z" fill="#cb2c2c"/>
<path d="M51.7 228.1L53.8 225.6L52.7 224.2L50.6 226.7Z" fill="#d95858"/>
<path d="M90.0 223.3L92.1 223.8L90.8 222.6L88.7 222.1Z" fill="#c03737"/>
<path d="M66.8 222.3L68.9 221.6L67.8 220.4L65.6 221.0Z" fill="#cc2a2a"/>
<path d="M55.9 223.2L58.0 221.6L56.9 220.1L54.8 221.7Z" fill="#d22a2a"/>
<path d="M42.2 241.3L44.3 238.9L43.3 237.7L41.2 240.0Z" fill="#f0e2e2"/>
<path d="M53.8 225.6L55.9 223.2L54.8 221.7L52.7 224.2Z" fill="#d53e3e"/>
<path d="M101.4 231.3L103.4 232.2L102.1 230.6L100.1 229.6Z" fill="#cc7c7c"/>
<path d="M61.3 222.3L63.5 221.7L62.3 220.2L60.2 220.9Z" fill="#cd2727"/>
<path d="M109.5 238.1L111.6 237.6L110.2 235.9L108.1 236.2Z" fill="#e9c4c4"/>
<path d="M81.1 222.5L83.2 221.9L82.0 220.7L79.9 221.4Z" fill="#cb2c2c"/>
<path d="M44.3 238.9L46.4 236.6L45.4 235.3L43.3 237.7Z" fill="#ebc5c5"/>
<path d="M106.1 236.1L108.1 236.2L106.8 234.4L104.8 234.1Z" fill="#dfabab"/>
<path d="M75.6 222.7L77.7 222.1L76.5 220.9L74.4 221.5Z" fill="#cb2c2c"/>
<path d="M46.4 236.6L48.5 234.2L47.5 232.9L45.4 235.3Z" fill="#e6a9a9"/>
<path d="M70.1 222.9L72.2 222.2L71.1 221.0L68.9 221.6Z" fill="#cc2b2b"/>
<path d="M98.1 228.4L100.1 229.6L98.8 228.4L96.7 227.2Z" fill="#c05e5e"/>
<path d="M64.6 223.0L66.8 222.3L65.6 221.0L63.5 221.7Z" fill="#cc2a2a"/>
<path d="M84.5 223.0L86.6 222.4L85.3 221.2L83.2 221.9Z" fill="#cb2c2c"/>
<path d="M48.5 234.2L50.6 231.8L49.6 230.5L47.5 232.9Z" fill="#e28e8e"/>
<path d="M59.1 223.0L61.3 222.3L60.2 220.9L58.0 221.6Z" fill="#cd2727"/>
<path d="M50.6 231.8L52.7 229.4L51.7 228.1L49.6 230.5Z" fill="#dd7474"/>
<path d="M79.0 223.2L81.1 222.5L79.9 221.4L77.7 222.1Z" fill="#cb2c2c"/>
<path d="M102.8 233.5L104.8 234.1L103.4 232.2L101.4 231.3Z" fill="#d38989"/>
<path d="M94.7 226.2L96.7 227.2L95.4 226.0L93.4 225.0Z" fill="#be4848"/>
<path d="M110.9 240.0L113.0 239.4L111.6 237.6L109.5 238.1Z" fill="#eccece"/>
<path d="M87.9 223.5L90.0 223.3L88.7 222.1L86.6 222.4Z" fill="#c72e2e"/>
<path d="M52.7 229.4L54.8 227.0L53.8 225.6L51.7 228.1Z" fill="#d95a5a"/>
<path d="M73.4 223.4L75.6 222.7L74.4 221.5L72.2 222.2Z" fill="#cb2c2c"/>
<path d="M91.3 224.5L93.4 225.0L92.1 223.8L90.0 223.3Z" fill="#c03737"/>
<path d="M57.0 224.6L59.1 223.0L58.0 221.6L55.9 223.2Z" fill="#d32e2e"/>
<path d="M107.5 238.2L109.5 238.1L108.1 236.2L106.1 236.1Z" fill="#e3b7b7"/>
<path d="M67.9 223.6L70.1 222.9L68.9 221.6L66.8 222.3Z" fill="#cc2b2b"/>
<path d="M54.8 227.0L57.0 224.6L55.9 223.2L53.8 225.6Z" fill="#d54141"/>
<path d="M43.3 242.5L45.4 240.2L44.3 238.9L42.2 241.3Z" fill="#f0e2e2"/>
<path d="M62.4 223.7L64.6 223.0L63.5 221.7L61.3 222.3Z" fill="#cc2a2a"/>
<path d="M82.3 223.7L84.5 223.0L83.2 221.9L81.1 222.5Z" fill="#cb2c2c"/>
<path d="M45.4 240.2L47.5 237.8L46.4 236.6L44.3 238.9Z" fill="#ebc5c5"/>
<path d="M99.4 230.2L101.4 231.3L100.1 229.6L98.1 228.4Z" fill="#c76565"/>
<path d="M76.8 223.9L79.0 223.2L77.7 222.1L75.6 222.7Z" fill="#cb2c2c"/>
<path d="M104.1 235.7L106.1 236.1L104.8 234.1L102.8 233.5Z" fill="#d99898"/>
<path d="M47.5 237.8L49.6 235.5L48.5 234.2L46.4 236.6Z" fill="#e6a9a9"/>
<path d="M71.3 224.1L73.4 223.4L72.2 222.2L70.1 222.9Z" fill="#cb2c2c"/>
<path d="M112.3 241.8L114.4 241.2L113.0 239.4L110.9 240.0Z" fill="#eed8d8"/>
<path d="M65.8 224.2L67.9 223.6L66.8 222.3L64.6 223.0Z" fill="#cc2b2b"/>
<path d="M85.8 224.2L87.9 223.5L86.6 222.4L84.5 223.0Z" fill="#cb2c2c"/>
<path d="M60.2 224.3L62.4 223.7L61.3 222.3L59.1 223.0Z" fill="#cd2a2a"/>
<path d="M49.6 235.5L51.7 233.1L50.6 231.8L48.5 234.2Z" fill="#e28f8f"/>
<path d="M108.8 240.2L110.9 240.0L109.5 238.1L107.5 238.2Z" fill="#e7c4c4"/>
<path d="M96.0 227.4L98.1 228.4L96.7 227.2L94.7 226.2Z" fill="#be4848"/>
<path d="M51.7 233.1L53.8 230.7L52.7 229.4L50.6 231.8Z" fill="#dd7575"/>
<path d="M80.2 224.4L82.3 223.7L81.1 222.5L79.0 223.2Z" fill="#cb2c2c"/>
<path d="M89.2 224.7L91.3 224.5L90.0 223.3L87.9 223.5Z" fill="#c72e2e"/>
<path d="M53.8 230.7L55.9 228.3L54.8 227.0L52.7 229.4Z" fill="#d95c5c"/>
<path d="M74.6 224.6L76.8 223.9L75.6 222.7L73.4 223.4Z" fill="#cb2c2c"/>
<path d="M92.6 225.7L94.7 226.2L93.4 225.0L91.3 224.5Z" fill="#c03737"/>
<path d="M58.1 225.9L60.2 224.3L59.1 223.0L57.0 224.6Z" fill="#d23131"/>
<path d="M100.7 232.7L102.8 233.5L101.4 231.3L99.4 230.2Z" fill="#d07474"/>
<path d="M105.4 238.0L107.5 238.2L106.1 236.1L104.1 235.7Z" fill="#dea8a8"/>
<path d="M55.9 228.3L58.1 225.9L57.0 224.6L54.8 227.0Z" fill="#d54343"/>
<path d="M69.1 224.8L71.3 224.1L70.1 222.9L67.9 223.6Z" fill="#cb2c2c"/>
<path d="M63.6 224.9L65.8 224.2L64.6 223.0L62.4 223.7Z" fill="#cc2b2b"/>
<path d="M44.3 243.8L46.4 241.5L45.4 240.2L43.3 242.5Z" fill="#f0e2e2"/>
<path d="M83.6 224.9L85.8 224.2L84.5 223.0L82.3 223.7Z" fill="#cb2c2c"/>
<path d="M113.7 243.7L115.8 243.0L114.4 241.2L112.3 241.8Z" fill="#f1e3e3"/>
<path d="M46.4 241.5L48.5 239.1L47.5 237.8L45.4 240.2Z" fill="#ebc5c5"/>
<path d="M110.2 242.2L112.3 241.8L110.9 240.0L108.8 240.2Z" fill="#ecd1d1"/>
<path d="M78.0 225.1L80.2 224.4L79.0 223.2L76.8 223.9Z" fill="#cb2c2c"/>
<path d="M72.5 225.3L74.6 224.6L73.4 223.4L71.3 224.1Z" fill="#cb2c2c"/>
<path d="M48.5 239.1L50.7 236.7L49.6 235.5L47.5 237.8Z" fill="#e6aaaa"/>
<path d="M102.0 235.2L104.1 235.7L102.8 233.5L100.7 232.7Z" fill="#d68585"/>
<path d="M87.0 225.4L89.2 224.7L87.9 223.5L85.8 224.2Z" fill="#cb2c2c"/>
<path d="M66.9 225.5L69.1 224.8L67.9 223.6L65.8 224.2Z" fill="#cb2c2c"/>
<path d="M106.8 240.3L108.8 240.2L107.5 238.2L105.4 238.0Z" fill="#e4b8b8"/>
<path d="M97.4 229.4L99.4 230.2L98.1 228.4L96.0 227.4Z" fill="#c64f4f"/>
<path d="M61.4 225.6L63.6 224.9L62.4 223.7L60.2 224.3Z" fill="#cc2b2b"/>
<path d="M50.7 236.7L52.8 234.4L51.7 233.1L49.6 235.5Z" fill="#e28f8f"/>
<path d="M81.4 225.6L83.6 224.9L82.3 223.7L80.2 224.4Z" fill="#cb2c2c"/>
<path d="M52.8 234.4L54.9 232.0L53.8 230.7L51.7 233.1Z" fill="#dd7676"/>
<path d="M90.5 225.9L92.6 225.7L91.3 224.5L89.2 224.7Z" fill="#c72e2e"/>
<path d="M115.1 245.6L117.2 244.9L115.8 243.0L113.7 243.7Z" fill="#f4eeee"/>
<path d="M94.0 226.9L96.0 227.4L94.7 226.2L92.6 225.7Z" fill="#c03737"/>
<path d="M54.9 232.0L57.1 229.6L55.9 228.3L53.8 230.7Z" fill="#d95d5d"/>
<path d="M75.9 225.8L78.0 225.1L76.8 223.9L74.6 224.6Z" fill="#cb2c2c"/>
<path d="M111.6 244.3L113.7 243.7L112.3 241.8L110.2 242.2Z" fill="#f0dfdf"/>
<path d="M59.2 227.2L61.4 225.6L60.2 224.3L58.1 225.9Z" fill="#d23232"/>
<path d="M57.1 229.6L59.2 227.2L58.1 225.9L55.9 228.3Z" fill="#d44444"/>
<path d="M70.3 226.0L72.5 225.3L71.3 224.1L69.1 224.8Z" fill="#cb2c2c"/>
<path d="M103.4 237.7L105.4 238.0L104.1 235.7L102.0 235.2Z" fill="#dc9898"/>
<path d="M64.7 226.2L66.9 225.5L65.8 224.2L63.6 224.9Z" fill="#cb2c2c"/>
<path d="M45.3 245.1L47.5 242.8L46.4 241.5L44.3 243.8Z" fill="#f0e2e2"/>
<path d="M84.9 226.1L87.0 225.4L85.8 224.2L83.6 224.9Z" fill="#cb2c2c"/>
<path d="M108.1 242.5L110.2 242.2L108.8 240.2L106.8 240.3Z" fill="#eac8c8"/>
<path d="M98.7 232.1L100.7 232.7L99.4 230.2L97.4 229.4Z" fill="#cf6060"/>
<path d="M47.5 242.8L49.6 240.4L48.5 239.1L46.4 241.5Z" fill="#ebc5c5"/>
<path d="M79.3 226.3L81.4 225.6L80.2 224.4L78.0 225.1Z" fill="#cb2c2c"/>
<path d="M73.7 226.5L75.9 225.8L74.6 224.6L72.5 225.3Z" fill="#cb2c2c"/>
<path d="M49.6 240.4L51.7 238.0L50.7 236.7L48.5 239.1Z" fill="#e6aaaa"/>
<path d="M88.3 226.6L90.5 225.9L89.2 224.7L87.0 225.4Z" fill="#cb2c2c"/>
<path d="M104.7 240.3L106.8 240.3L105.4 238.0L103.4 237.7Z" fill="#e2abab"/>
<path d="M68.1 226.7L70.3 226.0L69.1 224.8L66.9 225.5Z" fill="#cb2c2c"/>
<path d="M113.0 246.4L115.1 245.6L113.7 243.7L111.6 244.3Z" fill="#f4eeee"/>
<path d="M62.5 226.9L64.7 226.2L63.6 224.9L61.4 225.6Z" fill="#cb2c2c"/>
<path d="M100.0 234.8L102.0 235.2L100.7 232.7L98.7 232.1Z" fill="#d57474"/>
<path d="M51.7 238.0L53.9 235.6L52.8 234.4L50.7 236.7Z" fill="#e19090"/>
<path d="M95.3 228.9L97.4 229.4L96.0 227.4L94.0 226.9Z" fill="#c93e3e"/>
<path d="M109.5 244.8L111.6 244.3L110.2 242.2L108.1 242.5Z" fill="#efdada"/>
<path d="M82.7 226.8L84.9 226.1L83.6 224.9L81.4 225.6Z" fill="#cb2c2c"/>
<path d="M53.9 235.6L56.0 233.2L54.9 232.0L52.8 234.4Z" fill="#dd7676"/>
<path d="M91.8 227.2L94.0 226.9L92.6 225.7L90.5 225.9Z" fill="#c72e2e"/>
<path d="M77.1 227.0L79.3 226.3L78.0 225.1L75.9 225.8Z" fill="#cb2c2c"/>
<path d="M56.0 233.2L58.2 230.8L57.1 229.6L54.9 232.0Z" fill="#d95d5d"/>
<path d="M60.3 228.4L62.5 226.9L61.4 225.6L59.2 227.2Z" fill="#d13333"/>
<path d="M58.2 230.8L60.3 228.4L59.2 227.2L57.1 229.6Z" fill="#d44545"/>
<path d="M71.5 227.2L73.7 226.5L72.5 225.3L70.3 226.0Z" fill="#cb2c2c"/>
<path d="M106.0 242.8L108.1 242.5L106.8 240.3L104.7 240.3Z" fill="#e9bfbf"/>
<path d="M101.3 237.6L103.4 237.7L102.0 235.2L100.0 234.8Z" fill="#dc8a8a"/>
<path d="M65.9 227.4L68.1 226.7L66.9 225.5L64.7 226.2Z" fill="#cb2c2c"/>
<path d="M86.2 227.4L88.3 226.6L87.0 225.4L84.9 226.1Z" fill="#cb2c2c"/>
<path d="M46.4 246.4L48.5 244.1L47.5 242.8L45.3 245.1Z" fill="#f0e2e2"/>
<path d="M96.6 231.8L98.7 232.1L97.4 229.4L95.3 228.9Z" fill="#d25050"/>
<path d="M110.9 247.2L113.0 246.4L111.6 244.3L109.5 244.8Z" fill="#f5eded"/>
<path d="M80.5 227.5L82.7 226.8L81.4 225.6L79.3 226.3Z" fill="#cb2c2c"/>
<path d="M48.5 244.1L50.7 241.7L49.6 240.4L47.5 242.8Z" fill="#ebc5c5"/>
<path d="M74.9 227.7L77.1 227.0L75.9 225.8L73.7 226.5Z" fill="#cb2c2c"/>
<path d="M89.7 227.9L91.8 227.2L90.5 225.9L88.3 226.6Z" fill="#cb2c2c"/>
<path d="M102.6 240.3L104.7 240.3L103.4 237.7L101.3 237.6Z" fill="#e2a0a0"/>
<path d="M107.4 245.4L109.5 244.8L108.1 242.5L106.0 242.8Z" fill="#efd5d5"/>
<path d="M50.7 241.7L52.8 239.3L51.7 238.0L49.6 240.4Z" fill="#e6aaaa"/>
<path d="M69.3 227.9L71.5 227.2L70.3 226.0L68.1 226.7Z" fill="#cb2c2c"/>
<path d="M93.1 229.3L95.3 228.9L94.0 226.9L91.8 227.2Z" fill="#d13636"/>
<path d="M63.7 228.1L65.9 227.4L64.7 226.2L62.5 226.9Z" fill="#cb2c2c"/>
<path d="M97.9 234.7L100.0 234.8L98.7 232.1L96.6 231.8Z" fill="#d86767"/>
<path d="M52.8 239.3L55.0 236.9L53.9 235.6L51.7 238.0Z" fill="#e19090"/>
<path d="M84.0 228.1L86.2 227.4L84.9 226.1L82.7 226.8Z" fill="#cb2c2c"/>
<path d="M55.0 236.9L57.1 234.5L56.0 233.2L53.9 235.6Z" fill="#dd7676"/>
<path d="M78.3 228.3L80.5 227.5L79.3 226.3L77.1 227.0Z" fill="#cb2c2c"/>
<path d="M103.9 243.1L106.0 242.8L104.7 240.3L102.6 240.3Z" fill="#e9b7b7"/>
<path d="M57.1 234.5L59.3 232.1L58.2 230.8L56.0 233.2Z" fill="#d85e5e"/>
<path d="M61.5 229.7L63.7 228.1L62.5 226.9L60.3 228.4Z" fill="#d13333"/>
<path d="M108.7 247.9L110.9 247.2L109.5 244.8L107.4 245.4Z" fill="#f6ecec"/>
<path d="M99.2 237.7L101.3 237.6L100.0 234.8L97.9 234.7Z" fill="#de7f7f"/>
<path d="M72.7 228.4L74.9 227.7L73.7 226.5L71.5 227.2Z" fill="#cb2c2c"/>
<path d="M59.3 232.1L61.5 229.7L60.3 228.4L58.2 230.8Z" fill="#d44545"/>
<path d="M87.5 228.6L89.7 227.9L88.3 226.6L86.2 227.4Z" fill="#cb2c2c"/>
<path d="M67.1 228.6L69.3 227.9L68.1 226.7L65.9 227.4Z" fill="#cb2c2c"/>
<path d="M94.4 232.2L96.6 231.8L95.3 228.9L93.1 229.3Z" fill="#d74949"/>
<path d="M47.4 247.8L49.6 245.4L48.5 244.1L46.4 246.4Z" fill="#f0e2e2"/>
<path d="M105.3 245.9L107.4 245.4L106.0 242.8L103.9 243.1Z" fill="#efd0d0"/>
<path d="M91.0 230.0L93.1 229.3L91.8 227.2L89.7 227.9Z" fill="#d43434"/>
<path d="M81.8 228.8L84.0 228.1L82.7 226.8L80.5 227.5Z" fill="#cb2c2c"/>
<path d="M49.6 245.4L51.8 243.0L50.7 241.7L48.5 244.1Z" fill="#ebc5c5"/>
<path d="M100.5 240.6L102.6 240.3L101.3 237.6L99.2 237.7Z" fill="#e49898"/>
<path d="M76.1 229.0L78.3 228.3L77.1 227.0L74.9 227.7Z" fill="#cb2c2c"/>
<path d="M95.7 235.2L97.9 234.7L96.6 231.8L94.4 232.2Z" fill="#dc6161"/>
<path d="M51.8 243.0L53.9 240.6L52.8 239.3L50.7 241.7Z" fill="#e6aaaa"/>
<path d="M70.5 229.2L72.7 228.4L71.5 227.2L69.3 227.9Z" fill="#cb2c2c"/>
<path d="M64.9 229.4L67.1 228.6L65.9 227.4L63.7 228.1Z" fill="#cb2c2c"/>
<path d="M106.6 248.7L108.7 247.9L107.4 245.4L105.3 245.9Z" fill="#f6eaea"/>
<path d="M53.9 240.6L56.1 238.2L55.0 236.9L52.8 239.3Z" fill="#e19090"/>
<path d="M85.3 229.3L87.5 228.6L86.2 227.4L84.0 228.1Z" fill="#cb2c2c"/>
<path d="M101.8 243.5L103.9 243.1L102.6 240.3L100.5 240.6Z" fill="#eab1b1"/>
<path d="M92.2 232.9L94.4 232.2L93.1 229.3L91.0 230.0Z" fill="#da4747"/>
<path d="M97.0 238.2L99.2 237.7L97.9 234.7L95.7 235.2Z" fill="#e17b7b"/>
<path d="M56.1 238.2L58.3 235.8L57.1 234.5L55.0 236.9Z" fill="#dd7676"/>
<path d="M79.6 229.5L81.8 228.8L80.5 227.5L78.3 228.3Z" fill="#cb2c2c"/>
<path d="M88.8 230.7L91.0 230.0L89.7 227.9L87.5 228.6Z" fill="#d43434"/>
<path d="M58.3 235.8L60.5 233.4L59.3 232.1L57.1 234.5Z" fill="#d85e5e"/>
<path d="M62.6 230.9L64.9 229.4L63.7 228.1L61.5 229.7Z" fill="#d13333"/>
<path d="M73.9 229.7L76.1 229.0L74.9 227.7L72.7 228.4Z" fill="#cb2c2c"/>
<path d="M103.1 246.5L105.3 245.9L103.9 243.1L101.8 243.5Z" fill="#f0cccc"/>
<path d="M60.5 233.4L62.6 230.9L61.5 229.7L59.3 232.1Z" fill="#d44545"/>
<path d="M68.3 229.9L70.5 229.2L69.3 227.9L67.1 228.6Z" fill="#cb2c2c"/>
<path d="M98.3 241.2L100.5 240.6L99.2 237.7L97.0 238.2Z" fill="#e69494"/>
<path d="M93.5 235.9L95.7 235.2L94.4 232.2L92.2 232.9Z" fill="#de6060"/>
<path d="M48.5 249.1L50.7 246.7L49.6 245.4L47.4 247.8Z" fill="#f0e2e2"/>
<path d="M83.1 230.0L85.3 229.3L84.0 228.1L81.8 228.8Z" fill="#cb2c2c"/>
<path d="M104.4 249.5L106.6 248.7L105.3 245.9L103.1 246.5Z" fill="#f7e9e9"/>
<path d="M50.7 246.7L52.9 244.3L51.8 243.0L49.6 245.4Z" fill="#ebc5c5"/>
<path d="M90.1 233.7L92.2 232.9L91.0 230.0L88.8 230.7Z" fill="#da4747"/>
<path d="M77.4 230.2L79.6 229.5L78.3 228.3L76.1 229.0Z" fill="#cb2c2c"/>
<path d="M99.6 244.2L101.8 243.5L100.5 240.6L98.3 241.2Z" fill="#ecafaf"/>
<path d="M94.8 238.9L97.0 238.2L95.7 235.2L93.5 235.9Z" fill="#e37a7a"/>
<path d="M86.6 231.4L88.8 230.7L87.5 228.6L85.3 229.3Z" fill="#d43434"/>
<path d="M52.9 244.3L55.0 241.9L53.9 240.6L51.8 243.0Z" fill="#e6aaaa"/>
<path d="M71.7 230.4L73.9 229.7L72.7 228.4L70.5 229.2Z" fill="#cb2c2c"/>
<path d="M66.0 230.6L68.3 229.9L67.1 228.6L64.9 229.4Z" fill="#cb2c2c"/>
<path d="M55.0 241.9L57.2 239.5L56.1 238.2L53.9 240.6Z" fill="#e19090"/>
<path d="M100.9 247.2L103.1 246.5L101.8 243.5L99.6 244.2Z" fill="#f1cbcb"/>
<path d="M91.4 236.7L93.5 235.9L92.2 232.9L90.1 233.7Z" fill="#de6060"/>
<path d="M96.1 241.9L98.3 241.2L97.0 238.2L94.8 238.9Z" fill="#e89494"/>
<path d="M57.2 239.5L59.4 237.1L58.3 235.8L56.1 238.2Z" fill="#dd7676"/>
<path d="M80.9 230.8L83.1 230.0L81.8 228.8L79.6 229.5Z" fill="#cb2c2c"/>
<path d="M59.4 237.1L61.6 234.6L60.5 233.4L58.3 235.8Z" fill="#d85e5e"/>
<path d="M63.8 232.2L66.0 230.6L64.9 229.4L62.6 230.9Z" fill="#d13333"/>
<path d="M75.2 230.9L77.4 230.2L76.1 229.0L73.9 229.7Z" fill="#cb2c2c"/>
<path d="M102.3 250.3L104.4 249.5L103.1 246.5L100.9 247.2Z" fill="#f7e9e9"/>
<path d="M87.9 234.4L90.1 233.7L88.8 230.7L86.6 231.4Z" fill="#da4747"/>
<path d="M61.6 234.6L63.8 232.2L62.6 230.9L60.5 233.4Z" fill="#d44545"/>
<path d="M97.5 245.0L99.6 244.2L98.3 241.2L96.1 241.9Z" fill="#edafaf"/>
<path d="M84.4 232.2L86.6 231.4L85.3 229.3L83.1 230.0Z" fill="#d43434"/>
<path d="M92.7 239.7L94.8 238.9L93.5 235.9L91.4 236.7Z" fill="#e37a7a"/>
<path d="M69.5 231.1L71.7 230.4L70.5 229.2L68.3 229.9Z" fill="#cb2c2c"/>
<path d="M49.6 250.5L51.8 248.1L50.7 246.7L48.5 249.1Z" fill="#f0e2e2"/>
<path d="M51.8 248.1L54.0 245.7L52.9 244.3L50.7 246.7Z" fill="#ebc5c5"/>
<path d="M89.2 237.4L91.4 236.7L90.1 233.7L87.9 234.4Z" fill="#de6060"/>
<path d="M98.8 248.0L100.9 247.2L99.6 244.2L97.5 245.0Z" fill="#f2caca"/>
<path d="M94.0 242.7L96.1 241.9L94.8 238.9L92.7 239.7Z" fill="#e89494"/>
<path d="M78.7 231.5L80.9 230.8L79.6 229.5L77.4 230.2Z" fill="#cb2c2c"/>
<path d="M54.0 245.7L56.2 243.2L55.0 241.9L52.9 244.3Z" fill="#e6aaaa"/>
<path d="M73.0 231.7L75.2 230.9L73.9 229.7L71.7 230.4Z" fill="#cb2c2c"/>
<path d="M85.7 235.2L87.9 234.4L86.6 231.4L84.4 232.2Z" fill="#da4747"/>
<path d="M67.2 231.9L69.5 231.1L68.3 229.9L66.0 230.6Z" fill="#cb2c2c"/>
<path d="M100.1 251.1L102.3 250.3L100.9 247.2L98.8 248.0Z" fill="#f7e9e9"/>
<path d="M82.2 232.9L84.4 232.2L83.1 230.0L80.9 230.8Z" fill="#d43434"/>
<path d="M56.2 243.2L58.4 240.8L57.2 239.5L55.0 241.9Z" fill="#e19090"/>
<path d="M90.5 240.4L92.7 239.7L91.4 236.7L89.2 237.4Z" fill="#e37a7a"/>
<path d="M95.3 245.7L97.5 245.0L96.1 241.9L94.0 242.7Z" fill="#edafaf"/>
<path d="M58.4 240.8L60.6 238.4L59.4 237.1L57.2 239.5Z" fill="#dd7676"/>
<path d="M60.6 238.4L62.8 235.9L61.6 234.6L59.4 237.1Z" fill="#d85e5e"/>
<path d="M87.0 238.2L89.2 237.4L87.9 234.4L85.7 235.2Z" fill="#de6060"/>
<path d="M76.4 232.2L78.7 231.5L77.4 230.2L75.2 230.9Z" fill="#cb2c2c"/>
<path d="M96.6 248.8L98.8 248.0L97.5 245.0L95.3 245.7Z" fill="#f2caca"/>
<path d="M65.0 233.5L67.2 231.9L66.0 230.6L63.8 232.2Z" fill="#d13333"/>
<path d="M91.8 243.5L94.0 242.7L92.7 239.7L90.5 240.4Z" fill="#e89494"/>
<path d="M62.8 235.9L65.0 233.5L63.8 232.2L61.6 234.6Z" fill="#d44545"/>
<path d="M70.7 232.4L73.0 231.7L71.7 230.4L69.5 231.1Z" fill="#cb2c2c"/>
<path d="M50.7 251.9L52.9 249.4L51.8 248.1L49.6 250.5Z" fill="#f0e2e2"/>
<path d="M83.5 235.9L85.7 235.2L84.4 232.2L82.2 232.9Z" fill="#da4747"/>
<path d="M80.0 233.6L82.2 232.9L80.9 230.8L78.7 231.5Z" fill="#d43434"/>
<path d="M97.9 251.8L100.1 251.1L98.8 248.0L96.6 248.8Z" fill="#f7e9e9"/>
<path d="M88.3 241.2L90.5 240.4L89.2 237.4L87.0 238.2Z" fill="#e37a7a"/>
<path d="M93.1 246.5L95.3 245.7L94.0 242.7L91.8 243.5Z" fill="#edafaf"/>
<path d="M52.9 249.4L55.1 247.0L54.0 245.7L51.8 248.1Z" fill="#ebc5c5"/>
<path d="M55.1 247.0L57.3 244.6L56.2 243.2L54.0 245.7Z" fill="#e6aaaa"/>
<path d="M74.2 233.0L76.4 232.2L75.2 230.9L73.0 231.7Z" fill="#cb2c2c"/>
<path d="M84.7 238.9L87.0 238.2L85.7 235.2L83.5 235.9Z" fill="#de6060"/>
<path d="M94.4 249.6L96.6 248.8L95.3 245.7L93.1 246.5Z" fill="#f2caca"/>
<path d="M89.6 244.2L91.8 243.5L90.5 240.4L88.3 241.2Z" fill="#e89494"/>
<path d="M68.5 233.2L70.7 232.4L69.5 231.1L67.2 231.9Z" fill="#cb2c2c"/>
<path d="M57.3 244.6L59.5 242.1L58.4 240.8L56.2 243.2Z" fill="#e19090"/>
<path d="M81.2 236.6L83.5 235.9L82.2 232.9L80.0 233.6Z" fill="#da4747"/>
<path d="M77.7 234.4L80.0 233.6L78.7 231.5L76.4 232.2Z" fill="#d43434"/>
<path d="M59.5 242.1L61.8 239.7L60.6 238.4L58.4 240.8Z" fill="#dd7676"/>
<path d="M95.7 252.6L97.9 251.8L96.6 248.8L94.4 249.6Z" fill="#f7e9e9"/>
<path d="M86.0 242.0L88.3 241.2L87.0 238.2L84.7 238.9Z" fill="#e37a7a"/>
<path d="M90.9 247.3L93.1 246.5L91.8 243.5L89.6 244.2Z" fill="#edafaf"/>
<path d="M61.8 239.7L64.0 237.2L62.8 235.9L60.6 238.4Z" fill="#d85e5e"/>
<path d="M66.2 234.8L68.5 233.2L67.2 231.9L65.0 233.5Z" fill="#d13333"/>
<path d="M64.0 237.2L66.2 234.8L65.0 233.5L62.8 235.9Z" fill="#d44545"/>
<path d="M71.9 233.7L74.2 233.0L73.0 231.7L70.7 232.4Z" fill="#cb2c2c"/>
<path d="M82.5 239.7L84.7 238.9L83.5 235.9L81.2 236.6Z" fill="#de6060"/>
<path d="M51.8 253.3L54.0 250.8L52.9 249.4L50.7 251.9Z" fill="#f0e2e2"/>
<path d="M92.2 250.4L94.4 249.6L93.1 246.5L90.9 247.3Z" fill="#f2caca"/>
<path d="M87.3 245.0L89.6 244.2L88.3 241.2L86.0 242.0Z" fill="#e89494"/>
<path d="M79.0 237.4L81.2 236.6L80.0 233.6L77.7 234.4Z" fill="#da4747"/>
<path d="M54.0 250.8L56.3 248.4L55.1 247.0L52.9 249.4Z" fill="#ebc5c5"/>
<path d="M75.5 235.1L77.7 234.4L76.4 232.2L74.2 233.0Z" fill="#d43434"/>
<path d="M83.8 242.7L86.0 242.0L84.7 238.9L82.5 239.7Z" fill="#e37a7a"/>
<path d="M93.5 253.4L95.7 252.6L94.4 249.6L92.2 250.4Z" fill="#f7e9e9"/>
<path d="M88.6 248.1L90.9 247.3L89.6 244.2L87.3 245.0Z" fill="#edafaf"/>
<path d="M56.3 248.4L58.5 245.9L57.3 244.6L55.1 247.0Z" fill="#e6aaaa"/>
<path d="M69.7 234.4L71.9 233.7L70.7 232.4L68.5 233.2Z" fill="#cb2c2c"/>
<path d="M58.5 245.9L60.7 243.5L59.5 242.1L57.3 244.6Z" fill="#e19090"/>
<path d="M80.3 240.4L82.5 239.7L81.2 236.6L79.0 237.4Z" fill="#de6060"/>
<path d="M85.1 245.8L87.3 245.0L86.0 242.0L83.8 242.7Z" fill="#e89494"/>
<path d="M89.9 251.2L92.2 250.4L90.9 247.3L88.6 248.1Z" fill="#f2caca"/>
<path d="M60.7 243.5L62.9 241.0L61.8 239.7L59.5 242.1Z" fill="#dd7676"/>
<path d="M76.7 238.2L79.0 237.4L77.7 234.4L75.5 235.1Z" fill="#da4747"/>
<path d="M73.2 235.9L75.5 235.1L74.2 233.0L71.9 233.7Z" fill="#d43434"/>
<path d="M62.9 241.0L65.2 238.5L64.0 237.2L61.8 239.7Z" fill="#d85e5e"/>
<path d="M67.4 236.1L69.7 234.4L68.5 233.2L66.2 234.8Z" fill="#d13333"/>
<path d="M81.6 243.5L83.8 242.7L82.5 239.7L80.3 240.4Z" fill="#e37a7a"/>
<path d="M91.3 254.2L93.5 253.4L92.2 250.4L89.9 251.2Z" fill="#f7e9e9"/>
<path d="M65.2 238.5L67.4 236.1L66.2 234.8L64.0 237.2Z" fill="#d44545"/>
<path d="M86.4 248.9L88.6 248.1L87.3 245.0L85.1 245.8Z" fill="#edafaf"/>
<path d="M53.0 254.7L55.2 252.3L54.0 250.8L51.8 253.3Z" fill="#f1e3e3"/>
<path d="M78.0 241.2L80.3 240.4L79.0 237.4L76.7 238.2Z" fill="#de6060"/>
<path d="M55.2 252.3L57.4 250.0L56.3 248.4L54.0 250.8Z" fill="#edc8c8"/>
<path d="M82.9 246.6L85.1 245.8L83.8 242.7L81.6 243.5Z" fill="#e89494"/>
<path d="M87.7 251.9L89.9 251.2L88.6 248.1L86.4 248.9Z" fill="#f2caca"/>
<path d="M74.5 238.9L76.7 238.2L75.5 235.1L73.2 235.9Z" fill="#da4747"/>
<path d="M70.9 236.6L73.2 235.9L71.9 233.7L69.7 234.4Z" fill="#d43434"/>
<path d="M57.4 250.0L59.7 247.6L58.5 245.9L56.3 248.4Z" fill="#eaaeae"/>
<path d="M79.3 244.3L81.6 243.5L80.3 240.4L78.0 241.2Z" fill="#e37a7a"/>
<path d="M59.7 247.6L61.9 245.3L60.7 243.5L58.5 245.9Z" fill="#e69595"/>
<path d="M89.0 255.0L91.3 254.2L89.9 251.2L87.7 251.9Z" fill="#f7e9e9"/>
<path d="M84.2 249.7L86.4 248.9L85.1 245.8L82.9 246.6Z" fill="#edafaf"/>
<path d="M61.9 245.3L64.2 242.9L62.9 241.0L60.7 243.5Z" fill="#e37d7d"/>
<path d="M75.8 242.0L78.0 241.2L76.7 238.2L74.5 238.9Z" fill="#de6060"/>
<path d="M64.2 242.9L66.4 240.6L65.2 238.5L62.9 241.0Z" fill="#df6565"/>
<path d="M68.7 238.2L70.9 236.6L69.7 234.4L67.4 236.1Z" fill="#d93b3b"/>
<path d="M80.6 247.4L82.9 246.6L81.6 243.5L79.3 244.3Z" fill="#e89494"/>
<path d="M66.4 240.6L68.7 238.2L67.4 236.1L65.2 238.5Z" fill="#db4d4d"/>
<path d="M85.5 252.7L87.7 251.9L86.4 248.9L84.2 249.7Z" fill="#f2caca"/>
<path d="M72.2 239.7L74.5 238.9L73.2 235.9L70.9 236.6Z" fill="#da4747"/>
<path d="M54.1 256.1L56.4 254.0L55.2 252.3L53.0 254.7Z" fill="#f2e6e6"/>
<path d="M77.0 245.1L79.3 244.3L78.0 241.2L75.8 242.0Z" fill="#e37a7a"/>
<path d="M56.4 254.0L58.6 251.8L57.4 250.0L55.2 252.3Z" fill="#f0cece"/>
<path d="M86.8 255.9L89.0 255.0L87.7 251.9L85.5 252.7Z" fill="#f7e9e9"/>
<path d="M81.9 250.4L84.2 249.7L82.9 246.6L80.6 247.4Z" fill="#edafaf"/>
<path d="M58.6 251.8L60.9 249.7L59.7 247.6L57.4 250.0Z" fill="#eeb7b7"/>
<path d="M73.5 242.8L75.8 242.0L74.5 238.9L72.2 239.7Z" fill="#de6060"/>
<path d="M60.9 249.7L63.1 247.6L61.9 245.3L59.7 247.6Z" fill="#eba1a1"/>
<path d="M69.9 241.1L72.2 239.7L70.9 236.6L68.7 238.2Z" fill="#de4e4e"/>
<path d="M63.1 247.6L65.4 245.4L64.2 242.9L61.9 245.3Z" fill="#e88b8b"/>
<path d="M78.3 248.1L80.6 247.4L79.3 244.3L77.0 245.1Z" fill="#e89494"/>
<path d="M65.4 245.4L67.7 243.3L66.4 240.6L64.2 242.9Z" fill="#e57575"/>
<path d="M67.7 243.3L69.9 241.1L68.7 238.2L66.4 240.6Z" fill="#e25e5e"/>
<path d="M83.2 253.6L85.5 252.7L84.2 249.7L81.9 250.4Z" fill="#f2caca"/>
<path d="M74.8 245.8L77.0 245.1L75.8 242.0L73.5 242.8Z" fill="#e37a7a"/>
<path d="M71.2 244.1L73.5 242.8L72.2 239.7L69.9 241.1Z" fill="#e36666"/>
<path d="M79.6 251.2L81.9 250.4L80.6 247.4L78.3 248.1Z" fill="#edafaf"/>
<path d="M84.5 256.7L86.8 255.9L85.5 252.7L83.2 253.6Z" fill="#f7e9e9"/>
<path d="M68.9 246.0L71.2 244.1L69.9 241.1L67.7 243.3Z" fill="#e67575"/>
<path d="M66.6 247.9L68.9 246.0L67.7 243.3L65.4 245.4Z" fill="#e98888"/>
<path d="M76.1 248.9L78.3 248.1L77.0 245.1L74.8 245.8Z" fill="#e89494"/>
<path d="M55.3 257.6L57.5 255.6L56.4 254.0L54.1 256.1Z" fill="#f3e8e8"/>
<path d="M64.4 249.9L66.6 247.9L65.4 245.4L63.1 247.6Z" fill="#eb9b9b"/>
<path d="M57.5 255.6L59.8 253.7L58.6 251.8L56.4 254.0Z" fill="#f2d4d4"/>
<path d="M62.1 251.8L64.4 249.9L63.1 247.6L60.9 249.7Z" fill="#eeaeae"/>
<path d="M59.8 253.7L62.1 251.8L60.9 249.7L58.6 251.8Z" fill="#f0c1c1"/>
<path d="M80.9 254.4L83.2 253.6L81.9 250.4L79.6 251.2Z" fill="#f2caca"/>
<path d="M72.5 247.1L74.8 245.8L73.5 242.8L71.2 244.1Z" fill="#e77f7f"/>
<path d="M77.4 252.1L79.6 251.2L78.3 248.1L76.1 248.9Z" fill="#edafaf"/>
<path d="M82.2 257.5L84.5 256.7L83.2 253.6L80.9 254.4Z" fill="#f7e9e9"/>
<path d="M70.2 248.8L72.5 247.1L71.2 244.1L68.9 246.0Z" fill="#ea8c8c"/>
<path d="M73.8 250.1L76.1 248.9L74.8 245.8L72.5 247.1Z" fill="#eb9898"/>
<path d="M67.9 250.5L70.2 248.8L68.9 246.0L66.6 247.9Z" fill="#ec9b9b"/>
<path d="M78.7 255.2L80.9 254.4L79.6 251.2L77.4 252.1Z" fill="#f2caca"/>
<path d="M65.6 252.2L67.9 250.5L66.6 247.9L64.4 249.9Z" fill="#eeabab"/>
<path d="M63.3 253.9L65.6 252.2L64.4 249.9L62.1 251.8Z" fill="#f0bbbb"/>
<path d="M71.5 251.6L73.8 250.1L72.5 247.1L70.2 248.8Z" fill="#eea3a3"/>
<path d="M75.1 253.1L77.4 252.1L76.1 248.9L73.8 250.1Z" fill="#efb2b2"/>
<path d="M61.0 255.6L63.3 253.9L62.1 251.8L59.8 253.7Z" fill="#f2caca"/>
<path d="M80.0 258.3L82.2 257.5L80.9 254.4L78.7 255.2Z" fill="#f7e9e9"/>
<path d="M58.7 257.3L61.0 255.6L59.8 253.7L57.5 255.6Z" fill="#f3dada"/>
<path d="M56.4 259.0L58.7 257.3L57.5 255.6L55.3 257.6Z" fill="#f3eaea"/>
<path d="M69.2 253.0L71.5 251.6L70.2 248.8L67.9 250.5Z" fill="#f0afaf"/>
<path d="M76.4 256.1L78.7 255.2L77.4 252.1L75.1 253.1Z" fill="#f3cdcd"/>
<path d="M72.8 254.4L75.1 253.1L73.8 250.1L71.5 251.6Z" fill="#f1baba"/>
<path d="M66.9 254.5L69.2 253.0L67.9 250.5L65.6 252.2Z" fill="#f1bcbc"/>
<path d="M64.6 256.0L66.9 254.5L65.6 252.2L63.3 253.9Z" fill="#f2c8c8"/>
<path d="M77.7 259.2L80.0 258.3L78.7 255.2L76.4 256.1Z" fill="#f8e9e9"/>
<path d="M70.5 255.6L72.8 254.4L71.5 251.6L69.2 253.0Z" fill="#f3c3c3"/>
<path d="M74.1 257.2L76.4 256.1L75.1 253.1L72.8 254.4Z" fill="#f5d2d2"/>
<path d="M62.2 257.5L64.6 256.0L63.3 253.9L61.0 255.6Z" fill="#f3d4d4"/>
<path d="M59.9 259.0L62.2 257.5L61.0 255.6L58.7 257.3Z" fill="#f3e0e0"/>
<path d="M68.1 256.9L70.5 255.6L69.2 253.0L66.9 254.5Z" fill="#f4cccc"/>
<path d="M57.6 260.5L59.9 259.0L58.7 257.3L56.4 259.0Z" fill="#f3ecec"/>
<path d="M75.4 260.0L77.7 259.2L76.4 256.1L74.1 257.2Z" fill="#f8ebeb"/>
<path d="M71.7 258.2L74.1 257.2L72.8 254.4L70.5 255.6Z" fill="#f5d8d8"/>
<path d="M65.8 258.2L68.1 256.9L66.9 254.5L64.6 256.0Z" fill="#f4d5d5"/>
<path d="M63.5 259.4L65.8 258.2L64.6 256.0L62.2 257.5Z" fill="#f4dddd"/>
<path d="M69.4 259.3L71.7 258.2L70.5 255.6L68.1 256.9Z" fill="#f6dddd"/>
<path d="M73.0 260.8L75.4 260.0L74.1 257.2L71.7 258.2Z" fill="#f8eded"/>
<path d="M61.1 260.7L63.5 259.4L62.2 257.5L59.9 259.0Z" fill="#f4e5e5"/>
<path d="M67.1 260.3L69.4 259.3L68.1 256.9L65.8 258.2Z" fill="#f6e2e2"/>
<path d="M58.8 262.0L61.1 260.7L59.9 259.0L57.6 260.5Z" fill="#f3eeee"/>
<path d="M70.7 261.7L73.0 260.8L71.7 258.2L69.4 259.3Z" fill="#f8eeee"/>
<path d="M64.7 261.4L67.1 260.3L65.8 258.2L63.5 259.4Z" fill="#f5e6e6"/>
<path d="M68.4 262.5L70.7 261.7L69.4 259.3L67.1 260.3Z" fill="#f7efef"/>
<path d="M62.4 262.5L64.7 261.4L63.5 259.4L61.1 260.7Z" fill="#f4ebeb"/>
<path d="M60.0 263.5L62.4 262.5L61.1 260.7L58.8 262.0Z" fill="#f2efef"/>
<path d="M66.0 263.4L68.4 262.5L67.1 260.3L64.7 261.4Z" fill="#f5f0f0"/>
<path d="M63.6 264.2L66.0 263.4L64.7 261.4L62.4 262.5Z" fill="#f3f0f0"/>
<path d="M61.2 265.1L63.6 264.2L62.4 262.5L60.0 263.5Z" fill="#f1efef"/>
</g>
<text x="20.9" y="181.2" font-size="9.2" stroke="#000" stroke-width="0.22">HT</text>
<defs><linearGradient id="cb0" x1="0" y1="0" x2="0" y2="1"><stop offset="0" stop-color="#c23a50"/><stop offset="0.28" stop-color="#d46a7a"/><stop offset="0.5" stop-color="#ffffff"/><stop offset="0.72" stop-color="#b0e4b0"/><stop offset="1" stop-color="#40c040"/></linearGradient></defs>
<rect x="18" y="195.8" width="1.6" height="102" fill="url(#cb0)"/>
<text x="15.6" y="298.3" font-size="3" text-anchor="middle" fill="#444" transform="rotate(-90 15.6 298.3)" stroke="#444" stroke-width="0.07">−20</text>
<text x="15.6" y="285.49" font-size="3" text-anchor="middle" fill="#444" transform="rotate(-90 15.6 285.49)" stroke="#444" stroke-width="0.07">−15</text>
<text x="15.6" y="272.68" font-size="3" text-anchor="middle" fill="#444" transform="rotate(-90 15.6 272.68)" stroke="#444" stroke-width="0.07">−10</text>
<text x="15.6" y="259.86" font-size="3" text-anchor="middle" fill="#444" transform="rotate(-90 15.6 259.86)" stroke="#444" stroke-width="0.07">−5</text>
<text x="15.6" y="247.05" font-size="3" text-anchor="middle" fill="#444" transform="rotate(-90 15.6 247.05)" stroke="#444" stroke-width="0.07">0</text>
<text x="15.6" y="234.24" font-size="3" text-anchor="middle" fill="#444" transform="rotate(-90 15.6 234.24)" stroke="#444" stroke-width="0.07">5</text>
<text x="15.6" y="221.43" font-size="3" text-anchor="middle" fill="#444" transform="rotate(-90 15.6 221.43)" stroke="#444" stroke-width="0.07">10</text>
<text x="15.6" y="208.61" font-size="3" text-anchor="middle" fill="#444" transform="rotate(-90 15.6 208.61)" stroke="#444" stroke-width="0.07">15</text>
<text x="15.6" y="195.8" font-size="3" text-anchor="middle" fill="#444" transform="rotate(-90 15.6 195.8)" stroke="#444" stroke-width="0.07">20</text>
<text x="10.6" y="247.6" font-size="5.7" text-anchor="middle" fill="#111" transform="rotate(-90 10.6 247.6)" stroke="#111" stroke-width="0.14">Average synergy: 8.1 (Bliss)</text>
<line x1="34.85" y1="255.26" x2="36.65" y2="255.26" stroke="#888" stroke-width="0.4"/>
<text x="34.35" y="256.46" font-size="3.3" text-anchor="end" fill="#222" stroke="#222" stroke-width="0.08">−20</text>
<line x1="34.33" y1="249.56" x2="36.13" y2="249.56" stroke="#888" stroke-width="0.4"/>
<text x="33.83" y="250.76" font-size="3.3" text-anchor="end" fill="#222" stroke="#222" stroke-width="0.08">−15</text>
<line x1="33.8" y1="243.72" x2="35.6" y2="243.72" stroke="#888" stroke-width="0.4"/>
<text x="33.3" y="244.92" font-size="3.3" text-anchor="end" fill="#222" stroke="#222" stroke-width="0.08">−10</text>
<line x1="33.26" y1="237.72" x2="35.06" y2="237.72" stroke="#888" stroke-width="0.4"/>
<text x="32.76" y="238.92" font-size="3.3" text-anchor="end" fill="#222" stroke="#222" stroke-width="0.08">−5</text>
<line x1="32.71" y1="231.56" x2="34.51" y2="231.56" stroke="#888" stroke-width="0.4"/>
<text x="32.21" y="232.76" font-size="3.3" text-anchor="end" fill="#222" stroke="#222" stroke-width="0.08">0</text>
<line x1="32.14" y1="225.23" x2="33.94" y2="225.23" stroke="#888" stroke-width="0.4"/>
<text x="31.64" y="226.43" font-size="3.3" text-anchor="end" fill="#222" stroke="#222" stroke-width="0.08">5</text>
<line x1="31.55" y1="218.73" x2="33.35" y2="218.73" stroke="#888" stroke-width="0.4"/>
<text x="31.05" y="219.93" font-size="3.3" text-anchor="end" fill="#222" stroke="#222" stroke-width="0.08">10</text>
<line x1="30.95" y1="212.05" x2="32.75" y2="212.05" stroke="#888" stroke-width="0.4"/>
<text x="30.45" y="213.25" font-size="3.3" text-anchor="end" fill="#222" stroke="#222" stroke-width="0.08">15</text>
<line x1="30.33" y1="205.17" x2="32.13" y2="205.17" stroke="#888" stroke-width="0.4"/>
<text x="29.83" y="206.37" font-size="3.3" text-anchor="end" fill="#222" stroke="#222" stroke-width="0.08">20</text>
<text x="25.91" y="231.56" font-size="4.2" text-anchor="middle" fill="#222" transform="rotate(-90 25.91 231.56)" stroke="#222" stroke-width="0.1">Synergy score</text>
<text x="59.14" y="295.11" font-size="3" text-anchor="middle" fill="#222" stroke="#222" stroke-width="0.07">0</text>
<text x="55.05" y="289.48" font-size="3" text-anchor="middle" fill="#222" stroke="#222" stroke-width="0.07">1.562</text>
<text x="51.12" y="284.09" font-size="3" text-anchor="middle" fill="#222" stroke="#222" stroke-width="0.07">3.125</text>
<text x="47.35" y="278.9" font-size="3" text-anchor="middle" fill="#222" stroke="#222" stroke-width="0.07">6.25</text>
<text x="43.73" y="273.92" font-size="3" text-anchor="middle" fill="#222" stroke="#222" stroke-width="0.07">12.5</text>
<text x="40.24" y="269.12" font-size="3" text-anchor="middle" fill="#222" stroke="#222" stroke-width="0.07">25</text>
<text x="36.88" y="264.51" font-size="3" text-anchor="middle" fill="#222" stroke="#222" stroke-width="0.07">50</text>
<text x="33.65" y="260.06" font-size="3" text-anchor="middle" fill="#222" stroke="#222" stroke-width="0.07">100</text>
<text x="40.12" y="282.69" font-size="4.3" text-anchor="middle" fill="#222" transform="rotate(51 40.12 282.69)" stroke="#222" stroke-width="0.11">Lenalidomide (µmol/L)</text>
<text x="66.64" y="296.41" font-size="2.9" text-anchor="middle" fill="#222" stroke="#222" stroke-width="0.07">0</text>
<text x="74.2" y="293.3" font-size="2.9" text-anchor="middle" fill="#222" stroke="#222" stroke-width="0.07">0.312</text>
<text x="81.62" y="290.25" font-size="2.9" text-anchor="middle" fill="#222" stroke="#222" stroke-width="0.07">0.625</text>
<text x="88.9" y="287.25" font-size="2.9" text-anchor="middle" fill="#222" stroke="#222" stroke-width="0.07">1.25</text>
<text x="96.04" y="284.31" font-size="2.9" text-anchor="middle" fill="#222" stroke="#222" stroke-width="0.07">2.5</text>
<text x="103.05" y="281.42" font-size="2.9" text-anchor="middle" fill="#222" stroke="#222" stroke-width="0.07">5</text>
<text x="109.93" y="278.58" font-size="2.9" text-anchor="middle" fill="#222" stroke="#222" stroke-width="0.07">10</text>
<text x="116.69" y="275.78" font-size="2.9" text-anchor="middle" fill="#222" stroke="#222" stroke-width="0.07">20</text>
<text x="98.39" y="290.28" font-size="4.1" text-anchor="middle" fill="#222" transform="rotate(-22 98.39 290.28)" stroke="#222" stroke-width="0.1">Tazemetostat (µmol/L)</text>
<line x1="195.44" y1="290.81" x2="193.53" y2="237.03" stroke="#909090" stroke-width="0.6"/>
<line x1="195.44" y1="290.81" x2="169.95" y2="255.76" stroke="#909090" stroke-width="0.6"/>
<line x1="195.44" y1="290.81" x2="248.29" y2="270.18" stroke="#909090" stroke-width="0.6"/>
<line x1="193.53" y1="237.03" x2="165.43" y2="205.67" stroke="#909090" stroke-width="0.6"/>
<line x1="193.53" y1="237.03" x2="253" y2="217.52" stroke="#909090" stroke-width="0.6"/>
<line x1="169.95" y1="255.76" x2="165.43" y2="205.67" stroke="#909090" stroke-width="0.6"/>
<line x1="169.95" y1="255.76" x2="217.75" y2="239.49" stroke="#909090" stroke-width="0.6"/>
<line x1="165.43" y1="205.67" x2="218.58" y2="190.62" stroke="#909090" stroke-width="0.6"/>
<line x1="248.29" y1="270.18" x2="253" y2="217.52" stroke="#909090" stroke-width="0.6"/>
<line x1="248.29" y1="270.18" x2="217.75" y2="239.49" stroke="#909090" stroke-width="0.6"/>
<line x1="253" y1="217.52" x2="218.58" y2="190.62" stroke="#909090" stroke-width="0.6"/>
<line x1="217.75" y1="239.49" x2="218.58" y2="190.62" stroke="#909090" stroke-width="0.6"/>
<g stroke="#000" stroke-opacity="0.78" stroke-width="0.36">
<path d="M217.5 208.8L219.4 210.5L218.3 209.5L216.4 207.8Z" fill="#bf7070"/>
<path d="M218.7 209.8L220.6 211.5L219.4 210.5L217.5 208.8Z" fill="#bf7070"/>
<path d="M215.6 205.3L217.5 208.8L216.4 207.8L214.4 204.3Z" fill="#b14b4b"/>
<path d="M219.8 210.9L221.8 212.5L220.6 211.5L218.7 209.8Z" fill="#bf7070"/>
<path d="M216.8 206.3L218.7 209.8L217.5 208.8L215.6 205.3Z" fill="#b14b4b"/>
<path d="M221.0 212.0L222.9 213.6L221.8 212.5L219.8 210.9Z" fill="#c07171"/>
<path d="M213.6 203.8L215.6 205.3L214.4 204.3L212.5 202.9Z" fill="#b63030"/>
<path d="M217.9 207.4L219.8 210.9L218.7 209.8L216.8 206.3Z" fill="#b14c4c"/>
<path d="M222.2 213.1L224.1 214.7L222.9 213.6L221.0 212.0Z" fill="#c07272"/>
<path d="M211.6 203.9L213.6 203.8L212.5 202.9L210.5 203.0Z" fill="#c42727"/>
<path d="M214.8 204.9L216.8 206.3L215.6 205.3L213.6 203.8Z" fill="#b73131"/>
<path d="M219.1 208.6L221.0 212.0L219.8 210.9L217.9 207.4Z" fill="#b14d4d"/>
<path d="M223.4 214.2L225.4 215.7L224.1 214.7L222.2 213.1Z" fill="#c17272"/>
<path d="M209.6 204.0L211.6 203.9L210.5 203.0L208.5 203.1Z" fill="#c32222"/>
<path d="M216.0 206.1L217.9 207.4L216.8 206.3L214.8 204.9Z" fill="#b83232"/>
<path d="M212.8 205.0L214.8 204.9L213.6 203.8L211.6 203.9Z" fill="#c72828"/>
<path d="M220.3 209.8L222.2 213.1L221.0 212.0L219.1 208.6Z" fill="#b14e4e"/>
<path d="M207.6 204.2L209.6 204.0L208.5 203.1L206.5 203.3Z" fill="#c41d1d"/>
<path d="M224.7 215.3L226.6 216.8L225.4 215.7L223.4 214.2Z" fill="#c17373"/>
<path d="M210.8 205.2L212.8 205.0L211.6 203.9L209.6 204.0Z" fill="#c62323"/>
<path d="M217.1 207.3L219.1 208.6L217.9 207.4L216.0 206.1Z" fill="#b93434"/>
<path d="M214.0 206.3L216.0 206.1L214.8 204.9L212.8 205.0Z" fill="#c92a2a"/>
<path d="M205.6 204.7L207.6 204.2L206.5 203.3L204.4 203.7Z" fill="#c61b1b"/>
<path d="M221.5 210.9L223.4 214.2L222.2 213.1L220.3 209.8Z" fill="#b14e4e"/>
<path d="M208.7 205.4L210.8 205.2L209.6 204.0L207.6 204.2Z" fill="#c71f1f"/>
<path d="M225.9 216.4L227.8 217.9L226.6 216.8L224.7 215.3Z" fill="#c17373"/>
<path d="M203.5 205.4L205.6 204.7L204.4 203.7L202.4 204.5Z" fill="#c81b1b"/>
<path d="M211.9 206.5L214.0 206.3L212.8 205.0L210.8 205.2Z" fill="#c92626"/>
<path d="M218.3 208.6L220.3 209.8L219.1 208.6L217.1 207.3Z" fill="#bb3636"/>
<path d="M215.1 207.7L217.1 207.3L216.0 206.1L214.0 206.3Z" fill="#cb2d2d"/>
<path d="M206.7 205.9L208.7 205.4L207.6 204.2L205.6 204.7Z" fill="#c91c1c"/>
<path d="M201.5 206.4L203.5 205.4L202.4 204.5L200.4 205.4Z" fill="#ca1e1e"/>
<path d="M222.8 212.1L224.7 215.3L223.4 214.2L221.5 210.9Z" fill="#b14f4f"/>
<path d="M209.9 206.9L211.9 206.5L210.8 205.2L208.7 205.4Z" fill="#ca2222"/>
<path d="M227.1 217.5L229.1 219.0L227.8 217.9L225.9 216.4Z" fill="#c17474"/>
<path d="M199.4 207.4L201.5 206.4L200.4 205.4L198.3 206.4Z" fill="#cb2222"/>
<path d="M213.1 208.0L215.1 207.7L214.0 206.3L211.9 206.5Z" fill="#cc2a2a"/>
<path d="M204.6 206.6L206.7 205.9L205.6 204.7L203.5 205.4Z" fill="#cc1c1c"/>
<path d="M216.3 209.0L218.3 208.6L217.1 207.3L215.1 207.7Z" fill="#cd3131"/>
<path d="M219.5 209.8L221.5 210.9L220.3 209.8L218.3 208.6Z" fill="#bb3838"/>
<path d="M197.4 208.4L199.4 207.4L198.3 206.4L196.3 207.4Z" fill="#cc2727"/>
<path d="M207.8 207.4L209.9 206.9L208.7 205.4L206.7 205.9Z" fill="#cc2020"/>
<path d="M202.6 207.6L204.6 206.6L203.5 205.4L201.5 206.4Z" fill="#cd1f1f"/>
<path d="M224.0 213.2L225.9 216.4L224.7 215.3L222.8 212.1Z" fill="#b15050"/>
<path d="M211.1 208.4L213.1 208.0L211.9 206.5L209.9 206.9Z" fill="#cd2727"/>
<path d="M195.3 209.2L197.4 208.4L196.3 207.4L194.2 208.2Z" fill="#cb2a2a"/>
<path d="M214.3 209.5L216.3 209.0L215.1 207.7L213.1 208.0Z" fill="#cd2e2e"/>
<path d="M228.4 218.6L230.3 220.1L229.1 219.0L227.1 217.5Z" fill="#c17474"/>
<path d="M200.5 208.6L202.6 207.6L201.5 206.4L199.4 207.4Z" fill="#ce2323"/>
<path d="M205.8 208.1L207.8 207.4L206.7 205.9L204.6 206.6Z" fill="#ce2020"/>
<path d="M217.5 210.4L219.5 209.8L218.3 208.6L216.3 209.0Z" fill="#ce3333"/>
<path d="M220.8 211.0L222.8 212.1L221.5 210.9L219.5 209.8Z" fill="#bc3939"/>
<path d="M193.2 209.9L195.3 209.2L194.2 208.2L192.1 208.9Z" fill="#ca2b2b"/>
<path d="M209.0 208.9L211.1 208.4L209.9 206.9L207.8 207.4Z" fill="#cf2626"/>
<path d="M198.5 209.5L200.5 208.6L199.4 207.4L197.4 208.4Z" fill="#ce2727"/>
<path d="M203.7 209.0L205.8 208.1L204.6 206.6L202.6 207.6Z" fill="#d02323"/>
<path d="M212.2 210.0L214.3 209.5L213.1 208.0L211.1 208.4Z" fill="#cf2c2c"/>
<path d="M225.3 214.3L227.1 217.5L225.9 216.4L224.0 213.2Z" fill="#b15050"/>
<path d="M215.5 210.9L217.5 210.4L216.3 209.0L214.3 209.5Z" fill="#cf3232"/>
<path d="M191.1 210.5L193.2 209.9L192.1 208.9L190.0 209.5Z" fill="#c92b2b"/>
<path d="M168.7 233.2L170.7 230.5L169.8 229.3L167.8 232.1Z" fill="#efe1e1"/>
<path d="M229.7 219.8L231.6 221.2L230.3 220.1L228.4 218.6Z" fill="#c17474"/>
<path d="M196.4 210.3L198.5 209.5L197.4 208.4L195.3 209.2Z" fill="#cd2a2a"/>
<path d="M206.9 209.6L209.0 208.9L207.8 207.4L205.8 208.1Z" fill="#d02626"/>
<path d="M201.6 209.9L203.7 209.0L202.6 207.6L200.5 208.6Z" fill="#d02626"/>
<path d="M218.7 211.7L220.8 211.0L219.5 209.8L217.5 210.4Z" fill="#cf3636"/>
<path d="M222.0 212.2L224.0 213.2L222.8 212.1L220.8 211.0Z" fill="#bd3b3b"/>
<path d="M210.2 210.6L212.2 210.0L211.1 208.4L209.0 208.9Z" fill="#d02b2b"/>
<path d="M170.7 230.5L172.7 227.8L171.7 226.6L169.8 229.3Z" fill="#eac3c3"/>
<path d="M189.0 211.1L191.1 210.5L190.0 209.5L187.9 210.2Z" fill="#c92b2b"/>
<path d="M194.3 211.0L196.4 210.3L195.3 209.2L193.2 209.9Z" fill="#cc2b2b"/>
<path d="M199.6 210.8L201.6 209.9L200.5 208.6L198.5 209.5Z" fill="#d02a2a"/>
<path d="M204.9 210.5L206.9 209.6L205.8 208.1L203.7 209.0Z" fill="#d12828"/>
<path d="M213.4 211.5L215.5 210.9L214.3 209.5L212.2 210.0Z" fill="#d03131"/>
<path d="M172.7 227.8L174.7 225.1L173.7 223.9L171.7 226.6Z" fill="#e5a8a8"/>
<path d="M226.5 215.5L228.4 218.6L227.1 217.5L225.3 214.3Z" fill="#b25151"/>
<path d="M216.7 212.3L218.7 211.7L217.5 210.4L215.5 210.9Z" fill="#d03636"/>
<path d="M208.1 211.2L210.2 210.6L209.0 208.9L206.9 209.6Z" fill="#d12c2c"/>
<path d="M174.7 225.1L176.7 222.4L175.7 221.3L173.7 223.9Z" fill="#e08f8f"/>
<path d="M186.9 211.9L189.0 211.1L187.9 210.2L185.8 210.9Z" fill="#ca2c2c"/>
<path d="M231.0 220.9L232.9 222.4L231.6 221.2L229.7 219.8Z" fill="#c17474"/>
<path d="M197.5 211.6L199.6 210.8L198.5 209.5L196.4 210.3Z" fill="#cf2c2c"/>
<path d="M192.2 211.6L194.3 211.0L193.2 209.9L191.1 210.5Z" fill="#cb2b2b"/>
<path d="M202.8 211.3L204.9 210.5L203.7 209.0L201.6 209.9Z" fill="#d12b2b"/>
<path d="M169.7 234.4L171.7 231.7L170.7 230.5L168.7 233.2Z" fill="#efe1e1"/>
<path d="M220.0 212.9L222.0 212.2L220.8 211.0L218.7 211.7Z" fill="#d03838"/>
<path d="M211.3 212.1L213.4 211.5L212.2 210.0L210.2 210.6Z" fill="#d13131"/>
<path d="M176.7 222.4L178.7 219.7L177.7 218.6L175.7 221.3Z" fill="#dc7676"/>
<path d="M223.3 213.4L225.3 214.3L224.0 213.2L222.0 212.2Z" fill="#bd3c3c"/>
<path d="M184.8 212.7L186.9 211.9L185.8 210.9L183.7 211.7Z" fill="#cc2e2e"/>
<path d="M171.7 231.7L173.6 228.9L172.7 227.8L170.7 230.5Z" fill="#eac3c3"/>
<path d="M206.0 212.0L208.1 211.2L206.9 209.6L204.9 210.5Z" fill="#d22d2d"/>
<path d="M178.7 219.7L180.7 217.1L179.7 216.0L177.7 218.6Z" fill="#d75e5e"/>
<path d="M214.6 213.0L216.7 212.3L215.5 210.9L213.4 211.5Z" fill="#d13636"/>
<path d="M200.7 212.2L202.8 211.3L201.6 209.9L199.6 210.8Z" fill="#d12d2d"/>
<path d="M195.4 212.2L197.5 211.6L196.4 210.3L194.3 211.0Z" fill="#ce2d2d"/>
<path d="M190.1 212.2L192.2 211.6L191.1 210.5L189.0 211.1Z" fill="#cc2b2b"/>
<path d="M180.7 217.1L182.7 214.4L181.7 213.4L179.7 216.0Z" fill="#d34747"/>
<path d="M227.8 216.6L229.7 219.8L228.4 218.6L226.5 215.5Z" fill="#b25151"/>
<path d="M182.7 214.4L184.8 212.7L183.7 211.7L181.7 213.4Z" fill="#d13636"/>
<path d="M173.6 228.9L175.6 226.2L174.7 225.1L172.7 227.8Z" fill="#e5a8a8"/>
<path d="M209.3 212.9L211.3 212.1L210.2 210.6L208.1 211.2Z" fill="#d23232"/>
<path d="M217.9 213.7L220.0 212.9L218.7 211.7L216.7 212.3Z" fill="#d13939"/>
<path d="M203.9 212.8L206.0 212.0L204.9 210.5L202.8 211.3Z" fill="#d22f2f"/>
<path d="M232.3 222.0L234.2 223.5L232.9 222.4L231.0 220.9Z" fill="#c17373"/>
<path d="M198.6 212.9L200.7 212.2L199.6 210.8L197.5 211.6Z" fill="#d02f2f"/>
<path d="M175.6 226.2L177.6 223.5L176.7 222.4L174.7 225.1Z" fill="#e08f8f"/>
<path d="M187.9 213.0L190.1 212.2L189.0 211.1L186.9 211.9Z" fill="#cd2c2c"/>
<path d="M212.5 213.8L214.6 213.0L213.4 211.5L211.3 212.1Z" fill="#d33737"/>
<path d="M193.3 212.9L195.4 212.2L194.3 211.0L192.2 211.6Z" fill="#cd2d2d"/>
<path d="M170.6 235.6L172.6 232.8L171.7 231.7L169.7 234.4Z" fill="#efe1e1"/>
<path d="M221.2 214.2L223.3 213.4L222.0 212.2L220.0 212.9Z" fill="#d03a3a"/>
<path d="M224.5 214.6L226.5 215.5L225.3 214.3L223.3 213.4Z" fill="#bd3c3c"/>
<path d="M177.6 223.5L179.7 220.9L178.7 219.7L176.7 222.4Z" fill="#dc7676"/>
<path d="M207.2 213.6L209.3 212.9L208.1 211.2L206.0 212.0Z" fill="#d33333"/>
<path d="M215.8 214.5L217.9 213.7L216.7 212.3L214.6 213.0Z" fill="#d33b3b"/>
<path d="M201.8 213.6L203.9 212.8L202.8 211.3L200.7 212.2Z" fill="#d23131"/>
<path d="M172.6 232.8L174.6 230.1L173.6 228.9L171.7 231.7Z" fill="#eac3c3"/>
<path d="M185.8 213.8L187.9 213.0L186.9 211.9L184.8 212.7Z" fill="#cd2e2e"/>
<path d="M196.5 213.6L198.6 212.9L197.5 211.6L195.4 212.2Z" fill="#cf3030"/>
<path d="M179.7 220.9L181.7 218.2L180.7 217.1L178.7 219.7Z" fill="#d85e5e"/>
<path d="M191.1 213.5L193.3 212.9L192.2 211.6L190.1 212.2Z" fill="#ce2d2d"/>
<path d="M210.4 214.6L212.5 213.8L211.3 212.1L209.3 212.9Z" fill="#d43838"/>
<path d="M229.1 217.6L231.0 220.9L229.7 219.8L227.8 216.6Z" fill="#b15050"/>
<path d="M219.1 215.1L221.2 214.2L220.0 212.9L217.9 213.7Z" fill="#d23c3c"/>
<path d="M181.7 218.2L183.7 215.5L182.7 214.4L180.7 217.1Z" fill="#d44747"/>
<path d="M183.7 215.5L185.8 213.8L184.8 212.7L182.7 214.4Z" fill="#d23636"/>
<path d="M174.6 230.1L176.6 227.4L175.6 226.2L173.6 228.9Z" fill="#e5a8a8"/>
<path d="M205.1 214.4L207.2 213.6L206.0 212.0L203.9 212.8Z" fill="#d33535"/>
<path d="M213.7 215.4L215.8 214.5L214.6 213.0L212.5 213.8Z" fill="#d53d3d"/>
<path d="M233.6 223.1L235.6 224.6L234.2 223.5L232.3 222.0Z" fill="#c17373"/>
<path d="M199.7 214.3L201.8 213.6L200.7 212.2L198.6 212.9Z" fill="#d13333"/>
<path d="M194.4 214.2L196.5 213.6L195.4 212.2L193.3 212.9Z" fill="#cf3030"/>
<path d="M189.0 214.2L191.1 213.5L190.1 212.2L187.9 213.0Z" fill="#ce2e2e"/>
<path d="M176.6 227.4L178.6 224.7L177.6 223.5L175.6 226.2Z" fill="#e08f8f"/>
<path d="M222.4 215.4L224.5 214.6L223.3 213.4L221.2 214.2Z" fill="#d03b3b"/>
<path d="M208.4 215.4L210.4 214.6L209.3 212.9L207.2 213.6Z" fill="#d53a3a"/>
<path d="M171.6 236.8L173.6 234.0L172.6 232.8L170.6 235.6Z" fill="#efe1e1"/>
<path d="M225.8 215.6L227.8 216.6L226.5 215.5L224.5 214.6Z" fill="#bd3c3c"/>
<path d="M217.0 216.0L219.1 215.1L217.9 213.7L215.8 214.5Z" fill="#d43f3f"/>
<path d="M203.0 215.2L205.1 214.4L203.9 212.8L201.8 213.6Z" fill="#d33636"/>
<path d="M178.6 224.7L180.7 222.0L179.7 220.9L177.6 223.5Z" fill="#dc7676"/>
<path d="M211.6 216.3L213.7 215.4L212.5 213.8L210.4 214.6Z" fill="#d63f3f"/>
<path d="M197.6 215.0L199.7 214.3L198.6 212.9L196.5 213.6Z" fill="#d03333"/>
<path d="M186.9 215.1L189.0 214.2L187.9 213.0L185.8 213.8Z" fill="#cf2f2f"/>
<path d="M173.6 234.0L175.6 231.3L174.6 230.1L172.6 232.8Z" fill="#eac3c3"/>
<path d="M192.2 214.9L194.4 214.2L193.3 212.9L191.1 213.5Z" fill="#cf3030"/>
<path d="M180.7 222.0L182.7 219.3L181.7 218.2L179.7 220.9Z" fill="#d85e5e"/>
<path d="M230.4 218.7L232.3 222.0L231.0 220.9L229.1 217.6Z" fill="#b15050"/>
<path d="M220.4 216.3L222.4 215.4L221.2 214.2L219.1 215.1Z" fill="#d13d3d"/>
<path d="M206.3 216.2L208.4 215.4L207.2 213.6L205.1 214.4Z" fill="#d63c3c"/>
<path d="M214.9 217.0L217.0 216.0L215.8 214.5L213.7 215.4Z" fill="#d64242"/>
<path d="M182.7 219.3L184.8 216.7L183.7 215.5L181.7 218.2Z" fill="#d44747"/>
<path d="M184.8 216.7L186.9 215.1L185.8 213.8L183.7 215.5Z" fill="#d33737"/>
<path d="M175.6 231.3L177.6 228.5L176.6 227.4L174.6 230.1Z" fill="#e5a8a8"/>
<path d="M200.9 215.9L203.0 215.2L201.8 213.6L199.7 214.3Z" fill="#d23737"/>
<path d="M235.0 224.3L236.9 225.8L235.6 224.6L233.6 223.1Z" fill="#c17373"/>
<path d="M209.5 217.2L211.6 216.3L210.4 214.6L208.4 215.4Z" fill="#d84242"/>
<path d="M195.5 215.6L197.6 215.0L196.5 213.6L194.4 214.2Z" fill="#d03333"/>
<path d="M190.1 215.6L192.2 214.9L191.1 213.5L189.0 214.2Z" fill="#d03030"/>
<path d="M223.7 216.4L225.8 215.6L224.5 214.6L222.4 215.4Z" fill="#ce3b3b"/>
<path d="M177.6 228.5L179.7 225.8L178.6 224.7L176.6 227.4Z" fill="#e08f8f"/>
<path d="M218.3 217.3L220.4 216.3L219.1 215.1L217.0 216.0Z" fill="#d34141"/>
<path d="M204.1 216.9L206.3 216.2L205.1 214.4L203.0 215.2Z" fill="#d53d3d"/>
<path d="M227.1 216.7L229.1 217.6L227.8 216.6L225.8 215.6Z" fill="#bc3c3c"/>
<path d="M172.6 238.0L174.6 235.2L173.6 234.0L171.6 236.8Z" fill="#efe1e1"/>
<path d="M212.8 218.0L214.9 217.0L213.7 215.4L211.6 216.3Z" fill="#d84646"/>
<path d="M198.7 216.5L200.9 215.9L199.7 214.3L197.6 215.0Z" fill="#d23737"/>
<path d="M179.7 225.8L181.7 223.2L180.7 222.0L178.6 224.7Z" fill="#dc7676"/>
<path d="M207.4 218.1L209.5 217.2L208.4 215.4L206.3 216.2Z" fill="#d84444"/>
<path d="M193.3 216.3L195.5 215.6L194.4 214.2L192.2 214.9Z" fill="#d03333"/>
<path d="M187.9 216.4L190.1 215.6L189.0 214.2L186.9 215.1Z" fill="#d03232"/>
<path d="M174.6 235.2L176.6 232.5L175.6 231.3L173.6 234.0Z" fill="#eac3c3"/>
<path d="M231.7 219.9L233.6 223.1L232.3 222.0L230.4 218.7Z" fill="#b15050"/>
<path d="M181.7 223.2L183.8 220.5L182.7 219.3L180.7 222.0Z" fill="#d85f5f"/>
<path d="M221.6 217.3L223.7 216.4L222.4 215.4L220.4 216.3Z" fill="#cf3d3d"/>
<path d="M216.2 218.3L218.3 217.3L217.0 216.0L214.9 217.0Z" fill="#d44545"/>
<path d="M202.0 217.6L204.1 216.9L203.0 215.2L200.9 215.9Z" fill="#d53e3e"/>
<path d="M210.7 219.1L212.8 218.0L211.6 216.3L209.5 217.2Z" fill="#d94a4a"/>
<path d="M236.3 225.4L238.2 227.0L236.9 225.8L235.0 224.3Z" fill="#c17373"/>
<path d="M185.8 217.9L187.9 216.4L186.9 215.1L184.8 216.7Z" fill="#d43838"/>
<path d="M183.8 220.5L185.8 217.9L184.8 216.7L182.7 219.3Z" fill="#d54848"/>
<path d="M176.6 232.5L178.6 229.7L177.6 228.5L175.6 231.3Z" fill="#e5a8a8"/>
<path d="M196.6 217.1L198.7 216.5L197.6 215.0L195.5 215.6Z" fill="#d13737"/>
<path d="M205.3 218.9L207.4 218.1L206.3 216.2L204.1 216.9Z" fill="#d84646"/>
<path d="M191.2 217.0L193.3 216.3L192.2 214.9L190.1 215.6Z" fill="#d03333"/>
<path d="M225.0 217.5L227.1 216.7L225.8 215.6L223.7 216.4Z" fill="#cd3a3a"/>
<path d="M214.1 219.4L216.2 218.3L214.9 217.0L212.8 218.0Z" fill="#d64949"/>
<path d="M219.5 218.3L221.6 217.3L220.4 216.3L218.3 217.3Z" fill="#d04040"/>
<path d="M178.6 229.7L180.7 227.0L179.7 225.8L177.6 228.5Z" fill="#e18f8f"/>
<path d="M228.4 217.8L230.4 218.7L229.1 217.6L227.1 216.7Z" fill="#bc3b3b"/>
<path d="M208.6 220.0L210.7 219.1L209.5 217.2L207.4 218.1Z" fill="#da4d4d"/>
<path d="M199.9 218.2L202.0 217.6L200.9 215.9L198.7 216.5Z" fill="#d43d3d"/>
<path d="M173.5 239.3L175.6 236.5L174.6 235.2L172.6 238.0Z" fill="#efe1e1"/>
<path d="M194.4 217.7L196.6 217.1L195.5 215.6L193.3 216.3Z" fill="#d13737"/>
<path d="M180.7 227.0L182.7 224.3L181.7 223.2L179.7 225.8Z" fill="#dc7777"/>
<path d="M203.2 219.5L205.3 218.9L204.1 216.9L202.0 217.6Z" fill="#d74646"/>
<path d="M189.0 217.7L191.2 217.0L190.1 215.6L187.9 216.4Z" fill="#d03434"/>
<path d="M233.1 221.0L235.0 224.3L233.6 223.1L231.7 219.9Z" fill="#b15050"/>
<path d="M211.9 220.5L214.1 219.4L212.8 218.0L210.7 219.1Z" fill="#d74e4e"/>
<path d="M175.6 236.5L177.6 233.7L176.6 232.5L174.6 235.2Z" fill="#eac3c3"/>
<path d="M217.4 219.3L219.5 218.3L218.3 217.3L216.2 218.3Z" fill="#d04444"/>
<path d="M222.9 218.3L225.0 217.5L223.7 216.4L221.6 217.3Z" fill="#cd3b3b"/>
<path d="M182.7 224.3L184.8 221.7L183.8 220.5L181.7 223.2Z" fill="#d95f5f"/>
<path d="M206.5 220.8L208.6 220.0L207.4 218.1L205.3 218.9Z" fill="#da4f4f"/>
<path d="M237.7 226.6L239.6 228.2L238.2 227.0L236.3 225.4Z" fill="#c17373"/>
<path d="M197.7 218.8L199.9 218.2L198.7 216.5L196.6 217.1Z" fill="#d33d3d"/>
<path d="M186.9 219.2L189.0 217.7L187.9 216.4L185.8 217.9Z" fill="#d43a3a"/>
<path d="M184.8 221.7L186.9 219.2L185.8 217.9L183.8 220.5Z" fill="#d54a4a"/>
<path d="M177.6 233.7L179.7 230.9L178.6 229.7L176.6 232.5Z" fill="#e5a8a8"/>
<path d="M192.3 218.4L194.4 217.7L193.3 216.3L191.2 217.0Z" fill="#d03636"/>
<path d="M209.8 221.5L211.9 220.5L210.7 219.1L208.6 220.0Z" fill="#d75252"/>
<path d="M201.0 220.1L203.2 219.5L202.0 217.6L199.9 218.2Z" fill="#d64545"/>
<path d="M226.3 218.5L228.4 217.8L227.1 216.7L225.0 217.5Z" fill="#cd3939"/>
<path d="M215.3 220.4L217.4 219.3L216.2 218.3L214.1 219.4Z" fill="#d04848"/>
<path d="M229.7 218.9L231.7 219.9L230.4 218.7L228.4 217.8Z" fill="#bb3b3b"/>
<path d="M220.8 219.2L222.9 218.3L221.6 217.3L219.5 218.3Z" fill="#cd3d3d"/>
<path d="M179.7 230.9L181.7 228.2L180.7 227.0L178.6 229.7Z" fill="#e18f8f"/>
<path d="M204.4 221.4L206.5 220.8L205.3 218.9L203.2 219.5Z" fill="#d84f4f"/>
<path d="M174.5 240.5L176.6 237.7L175.6 236.5L173.5 239.3Z" fill="#efe1e1"/>
<path d="M195.6 219.3L197.7 218.8L196.6 217.1L194.4 217.7Z" fill="#d23b3b"/>
<path d="M190.1 219.0L192.3 218.4L191.2 217.0L189.0 217.7Z" fill="#d03636"/>
<path d="M181.7 228.2L183.8 225.5L182.7 224.3L180.7 227.0Z" fill="#dc7777"/>
<path d="M234.4 222.2L236.3 225.4L235.0 224.3L233.1 221.0Z" fill="#b15050"/>
<path d="M207.7 222.3L209.8 221.5L208.6 220.0L206.5 220.8Z" fill="#d75454"/>
<path d="M213.2 221.4L215.3 220.4L214.1 219.4L211.9 220.5Z" fill="#d04c4c"/>
<path d="M239.0 228.3L241.0 229.7L239.6 228.2L237.7 226.6Z" fill="#c67878"/>
<path d="M198.9 220.5L201.0 220.1L199.9 218.2L197.7 218.8Z" fill="#d54444"/>
<path d="M176.6 237.7L178.6 234.9L177.6 233.7L175.6 236.5Z" fill="#eac3c3"/>
<path d="M224.2 219.2L226.3 218.5L225.0 217.5L222.9 218.3Z" fill="#cc3939"/>
<path d="M183.8 225.5L185.9 222.9L184.8 221.7L182.7 224.3Z" fill="#d96060"/>
<path d="M218.7 220.1L220.8 219.2L219.5 218.3L217.4 219.3Z" fill="#cc4040"/>
<path d="M188.0 220.5L190.1 219.0L189.0 217.7L186.9 219.2Z" fill="#d43c3c"/>
<path d="M202.2 221.9L204.4 221.4L203.2 219.5L201.0 220.1Z" fill="#d74d4d"/>
<path d="M185.9 222.9L188.0 220.5L186.9 219.2L184.8 221.7Z" fill="#d64b4b"/>
<path d="M193.4 219.8L195.6 219.3L194.4 217.7L192.3 218.4Z" fill="#d13a3a"/>
<path d="M178.6 234.9L180.7 232.1L179.7 230.9L177.6 233.7Z" fill="#e5a8a8"/>
<path d="M211.0 222.3L213.2 221.4L211.9 220.5L209.8 221.5Z" fill="#d04f4f"/>
<path d="M205.5 222.9L207.7 222.3L206.5 220.8L204.4 221.4Z" fill="#d65454"/>
<path d="M227.6 219.6L229.7 218.9L228.4 217.8L226.3 218.5Z" fill="#cd3838"/>
<path d="M231.1 220.0L233.1 221.0L231.7 219.9L229.7 218.9Z" fill="#bb3a3a"/>
<path d="M216.5 221.0L218.7 220.1L217.4 219.3L215.3 220.4Z" fill="#cb4343"/>
<path d="M196.7 220.9L198.9 220.5L197.7 218.8L195.6 219.3Z" fill="#d34141"/>
<path d="M222.1 220.0L224.2 219.2L222.9 218.3L220.8 219.2Z" fill="#cc3b3b"/>
<path d="M240.4 230.7L242.3 231.8L241.0 229.7L239.0 228.3Z" fill="#ce8484"/>
<path d="M180.7 232.1L182.8 229.4L181.7 228.2L179.7 230.9Z" fill="#e18f8f"/>
<path d="M175.5 241.8L177.6 238.9L176.6 237.7L174.5 240.5Z" fill="#efe1e1"/>
<path d="M191.2 220.4L193.4 219.8L192.3 218.4L190.1 219.0Z" fill="#d03939"/>
<path d="M200.1 222.3L202.2 221.9L201.0 220.1L198.9 220.5Z" fill="#d54a4a"/>
<path d="M235.8 223.3L237.7 226.6L236.3 225.4L234.4 222.2Z" fill="#b15050"/>
<path d="M182.8 229.4L184.9 226.8L183.8 225.5L181.7 228.2Z" fill="#dd7777"/>
<path d="M208.9 223.1L211.0 222.3L209.8 221.5L207.7 222.3Z" fill="#cf5151"/>
<path d="M203.4 223.4L205.5 222.9L204.4 221.4L202.2 221.9Z" fill="#d35252"/>
<path d="M214.4 221.9L216.5 221.0L215.3 220.4L213.2 221.4Z" fill="#ca4646"/>
<path d="M225.5 220.3L227.6 219.6L226.3 218.5L224.2 219.2Z" fill="#cc3838"/>
<path d="M177.6 238.9L179.7 236.1L178.6 234.9L176.6 237.7Z" fill="#eac3c3"/>
<path d="M184.9 226.8L187.0 224.2L185.9 222.9L183.8 225.5Z" fill="#d96161"/>
<path d="M194.5 221.4L196.7 220.9L195.6 219.3L193.4 219.8Z" fill="#d23f3f"/>
<path d="M219.9 220.8L222.1 220.0L220.8 219.2L218.7 220.1Z" fill="#cb3c3c"/>
<path d="M241.7 233.1L243.7 233.9L242.3 231.8L240.4 230.7Z" fill="#d49292"/>
<path d="M189.1 221.8L191.2 220.4L190.1 219.0L188.0 220.5Z" fill="#d53e3e"/>
<path d="M187.0 224.2L189.1 221.8L188.0 220.5L185.9 222.9Z" fill="#d64c4c"/>
<path d="M179.7 236.1L181.7 233.4L180.7 232.1L178.6 234.9Z" fill="#e5a8a8"/>
<path d="M197.9 222.6L200.1 222.3L198.9 220.5L196.7 220.9Z" fill="#d24747"/>
<path d="M228.9 220.7L231.1 220.0L229.7 218.9L227.6 219.6Z" fill="#cd3737"/>
<path d="M206.7 223.8L208.9 223.1L207.7 222.3L205.5 222.9Z" fill="#cd5151"/>
<path d="M232.4 221.2L234.4 222.2L233.1 221.0L231.1 220.0Z" fill="#bb3a3a"/>
<path d="M212.3 222.8L214.4 221.9L213.2 221.4L211.0 222.3Z" fill="#c84848"/>
<path d="M237.2 225.2L239.0 228.3L237.7 226.6L235.8 223.3Z" fill="#b55454"/>
<path d="M223.4 221.0L225.5 220.3L224.2 219.2L222.1 220.0Z" fill="#cc3939"/>
<path d="M201.2 223.7L203.4 223.4L202.2 221.9L200.1 222.3Z" fill="#d14e4e"/>
<path d="M181.7 233.4L183.8 230.6L182.8 229.4L180.7 232.1Z" fill="#e18f8f"/>
<path d="M243.0 235.6L245.0 236.2L243.7 233.9L241.7 233.1Z" fill="#daa2a2"/>
<path d="M217.8 221.7L219.9 220.8L218.7 220.1L216.5 221.0Z" fill="#c93e3e"/>
<path d="M192.4 221.8L194.5 221.4L193.4 219.8L191.2 220.4Z" fill="#d03c3c"/>
<path d="M176.6 243.0L178.6 240.2L177.6 238.9L175.5 241.8Z" fill="#efe1e1"/>
<path d="M183.8 230.6L185.9 228.0L184.9 226.8L182.8 229.4Z" fill="#dd7777"/>
<path d="M204.6 224.3L206.7 223.8L205.5 222.9L203.4 223.4Z" fill="#cb4f4f"/>
<path d="M195.7 222.9L197.9 222.6L196.7 220.9L194.5 221.4Z" fill="#d14343"/>
<path d="M226.8 221.4L228.9 220.7L227.6 219.6L225.5 220.3Z" fill="#cd3737"/>
<path d="M210.1 223.6L212.3 222.8L211.0 222.3L208.9 223.1Z" fill="#c74949"/>
<path d="M178.6 240.2L180.7 237.4L179.7 236.1L177.6 238.9Z" fill="#eac3c3"/>
<path d="M185.9 228.0L188.1 225.4L187.0 224.2L184.9 226.8Z" fill="#d96161"/>
<path d="M190.2 223.1L192.4 221.8L191.2 220.4L189.1 221.8Z" fill="#d54040"/>
<path d="M244.4 238.2L246.4 238.4L245.0 236.2L243.0 235.6Z" fill="#e1b3b3"/>
<path d="M215.7 222.5L217.8 221.7L216.5 221.0L214.4 221.9Z" fill="#c83f3f"/>
<path d="M238.5 228.1L240.4 230.7L239.0 228.3L237.2 225.2Z" fill="#be6161"/>
<path d="M221.2 221.7L223.4 221.0L222.1 220.0L219.9 220.8Z" fill="#cb3939"/>
<path d="M188.1 225.4L190.2 223.1L189.1 221.8L187.0 224.2Z" fill="#d74d4d"/>
<path d="M199.0 224.0L201.2 223.7L200.1 222.3L197.9 222.6Z" fill="#cf4949"/>
<path d="M230.3 221.8L232.4 221.2L231.1 220.0L228.9 220.7Z" fill="#cd3737"/>
<path d="M233.8 222.3L235.8 223.3L234.4 222.2L232.4 221.2Z" fill="#bc3a3a"/>
<path d="M180.7 237.4L182.8 234.6L181.7 233.4L179.7 236.1Z" fill="#e5a8a8"/>
<path d="M207.9 224.2L210.1 223.6L208.9 223.1L206.7 223.8Z" fill="#c54848"/>
<path d="M245.7 240.8L247.7 240.7L246.4 238.4L244.4 238.2Z" fill="#e8c5c5"/>
<path d="M193.5 223.2L195.7 222.9L194.5 221.4L192.4 221.8Z" fill="#cf3f3f"/>
<path d="M224.7 222.1L226.8 221.4L225.5 220.3L223.4 221.0Z" fill="#cc3838"/>
<path d="M239.8 231.1L241.7 233.1L240.4 230.7L238.5 228.1Z" fill="#c57272"/>
<path d="M202.4 224.6L204.6 224.3L203.4 223.4L201.2 223.7Z" fill="#ca4b4b"/>
<path d="M182.8 234.6L184.9 231.9L183.8 230.6L181.7 233.4Z" fill="#e18f8f"/>
<path d="M177.6 244.3L179.7 241.5L178.6 240.2L176.6 243.0Z" fill="#efe1e1"/>
<path d="M213.5 223.3L215.7 222.5L214.4 221.9L212.3 222.8Z" fill="#c64040"/>
<path d="M219.1 222.5L221.2 221.7L219.9 220.8L217.8 221.7Z" fill="#ca3a3a"/>
<path d="M184.9 231.9L187.0 229.2L185.9 228.0L183.8 230.6Z" fill="#dd7878"/>
<path d="M196.8 224.2L199.0 224.0L197.9 222.6L195.7 222.9Z" fill="#ce4545"/>
<path d="M228.2 222.5L230.3 221.8L228.9 220.7L226.8 221.4Z" fill="#cd3737"/>
<path d="M241.1 234.1L243.0 235.6L241.7 233.1L239.8 231.1Z" fill="#cd8585"/>
<path d="M247.1 243.4L249.1 243.0L247.7 240.7L245.7 240.8Z" fill="#efd8d8"/>
<path d="M179.7 241.5L181.8 238.6L180.7 237.4L178.6 240.2Z" fill="#eac3c3"/>
<path d="M191.3 224.4L193.5 223.2L192.4 221.8L190.2 223.1Z" fill="#d54242"/>
<path d="M187.0 229.2L189.2 226.7L188.1 225.4L185.9 228.0Z" fill="#d96262"/>
<path d="M205.8 224.8L207.9 224.2L206.7 223.8L204.6 224.3Z" fill="#c44747"/>
<path d="M235.1 224.3L237.2 225.2L235.8 223.3L233.8 222.3Z" fill="#c44040"/>
<path d="M189.2 226.7L191.3 224.4L190.2 223.1L188.1 225.4Z" fill="#d74f4f"/>
<path d="M222.5 222.8L224.7 222.1L223.4 221.0L221.2 221.7Z" fill="#cc3838"/>
<path d="M211.3 224.0L213.5 223.3L212.3 222.8L210.1 223.6Z" fill="#c54141"/>
<path d="M200.2 225.0L202.4 224.6L201.2 223.7L199.0 224.0Z" fill="#c94747"/>
<path d="M231.7 223.0L233.8 222.3L232.4 221.2L230.3 221.8Z" fill="#cd3737"/>
<path d="M216.9 223.2L219.1 222.5L217.8 221.7L215.7 222.5Z" fill="#c93b3b"/>
<path d="M242.4 237.2L244.4 238.2L243.0 235.6L241.1 234.1Z" fill="#d69a9a"/>
<path d="M181.8 238.6L183.9 235.9L182.8 234.6L180.7 237.4Z" fill="#e5a8a8"/>
<path d="M248.4 246.1L250.5 245.4L249.1 243.0L247.1 243.4Z" fill="#f6eded"/>
<path d="M194.6 224.5L196.8 224.2L195.7 222.9L193.5 223.2Z" fill="#cd4141"/>
<path d="M226.0 223.2L228.2 222.5L226.8 221.4L224.7 222.1Z" fill="#cd3737"/>
<path d="M243.7 240.4L245.7 240.8L244.4 238.2L242.4 237.2Z" fill="#e0b2b2"/>
<path d="M183.9 235.9L186.0 233.1L184.9 231.9L182.8 234.6Z" fill="#e18f8f"/>
<path d="M236.4 227.4L238.5 228.1L237.2 225.2L235.1 224.3Z" fill="#ce5050"/>
<path d="M178.6 245.6L180.7 242.8L179.7 241.5L177.6 244.3Z" fill="#efe1e1"/>
<path d="M203.6 225.3L205.8 224.8L204.6 224.3L202.4 224.6Z" fill="#c44545"/>
<path d="M209.2 224.7L211.3 224.0L210.1 223.6L207.9 224.2Z" fill="#c44141"/>
<path d="M220.4 223.5L222.5 222.8L221.2 221.7L219.1 222.5Z" fill="#cb3838"/>
<path d="M214.8 224.0L216.9 223.2L215.7 222.5L213.5 223.3Z" fill="#c83b3b"/>
<path d="M186.0 233.1L188.1 230.5L187.0 229.2L184.9 231.9Z" fill="#dd7878"/>
<path d="M229.5 223.7L231.7 223.0L230.3 221.8L228.2 222.5Z" fill="#cd3737"/>
<path d="M198.0 225.3L200.2 225.0L199.0 224.0L196.8 224.2Z" fill="#c94343"/>
<path d="M245.0 243.6L247.1 243.4L245.7 240.8L243.7 240.4Z" fill="#eacdcd"/>
<path d="M237.7 230.6L239.8 231.1L238.5 228.1L236.4 227.4Z" fill="#d46565"/>
<path d="M192.4 225.7L194.6 224.5L193.5 223.2L191.3 224.4Z" fill="#d34343"/>
<path d="M180.7 242.8L182.8 239.9L181.8 238.6L179.7 241.5Z" fill="#eac3c3"/>
<path d="M188.1 230.5L190.3 228.0L189.2 226.7L187.0 229.2Z" fill="#d96262"/>
<path d="M233.0 225.0L235.1 224.3L233.8 222.3L231.7 223.0Z" fill="#d53e3e"/>
<path d="M190.3 228.0L192.4 225.7L191.3 224.4L189.2 226.7Z" fill="#d64f4f"/>
<path d="M223.9 223.9L226.0 223.2L224.7 222.1L222.5 222.8Z" fill="#cd3737"/>
<path d="M246.3 246.9L248.4 246.1L247.1 243.4L245.0 243.6Z" fill="#f5eaea"/>
<path d="M239.0 233.9L241.1 234.1L239.8 231.1L237.7 230.6Z" fill="#da7b7b"/>
<path d="M207.0 225.3L209.2 224.7L207.9 224.2L205.8 224.8Z" fill="#c34040"/>
<path d="M218.2 224.2L220.4 223.5L219.1 222.5L216.9 223.2Z" fill="#cb3838"/>
<path d="M201.4 225.7L203.6 225.3L202.4 224.6L200.2 225.0Z" fill="#c54242"/>
<path d="M182.8 239.9L185.0 237.1L183.9 235.9L181.8 238.6Z" fill="#e5a8a8"/>
<path d="M212.6 224.7L214.8 224.0L213.5 223.3L211.3 224.0Z" fill="#c73b3b"/>
<path d="M240.3 237.3L242.4 237.2L241.1 234.1L239.0 233.9Z" fill="#e19494"/>
<path d="M227.4 224.4L229.5 223.7L228.2 222.5L226.0 223.2Z" fill="#cd3737"/>
<path d="M195.8 225.6L198.0 225.3L196.8 224.2L194.6 224.5Z" fill="#ca4040"/>
<path d="M234.3 228.1L236.4 227.4L235.1 224.3L233.0 225.0Z" fill="#db4d4d"/>
<path d="M185.0 237.1L187.1 234.4L186.0 233.1L183.9 235.9Z" fill="#e18f8f"/>
<path d="M241.6 240.7L243.7 240.4L242.4 237.2L240.3 237.3Z" fill="#e8aeae"/>
<path d="M179.7 246.9L181.8 244.1L180.7 242.8L178.6 245.6Z" fill="#efe1e1"/>
<path d="M230.8 225.7L233.0 225.0L231.7 223.0L229.5 223.7Z" fill="#d53e3e"/>
<path d="M221.7 224.7L223.9 223.9L222.5 222.8L220.4 223.5Z" fill="#cc3737"/>
<path d="M242.9 244.1L245.0 243.6L243.7 240.4L241.6 240.7Z" fill="#efc9c9"/>
<path d="M235.6 231.3L237.7 230.6L236.4 227.4L234.3 228.1Z" fill="#df6363"/>
<path d="M187.1 234.4L189.2 231.7L188.1 230.5L186.0 233.1Z" fill="#dd7878"/>
<path d="M244.2 247.7L246.3 246.9L245.0 243.6L242.9 244.1Z" fill="#f6e8e8"/>
<path d="M216.0 224.9L218.2 224.2L216.9 223.2L214.8 224.0Z" fill="#ca3939"/>
<path d="M204.8 225.9L207.0 225.3L205.8 224.8L203.6 225.3Z" fill="#c43f3f"/>
<path d="M210.4 225.4L212.6 224.7L211.3 224.0L209.2 224.7Z" fill="#c73b3b"/>
<path d="M199.2 226.2L201.4 225.7L200.2 225.0L198.0 225.3Z" fill="#c64040"/>
<path d="M193.6 226.8L195.8 225.6L194.6 224.5L192.4 225.7Z" fill="#d14343"/>
<path d="M181.8 244.1L183.9 241.2L182.8 239.9L180.7 242.8Z" fill="#eac3c3"/>
<path d="M189.2 231.7L191.4 229.2L190.3 228.0L188.1 230.5Z" fill="#d96262"/>
<path d="M236.9 234.6L239.0 233.9L237.7 230.6L235.6 231.3Z" fill="#e37b7b"/>
<path d="M225.2 225.1L227.4 224.4L226.0 223.2L223.9 223.9Z" fill="#cd3737"/>
<path d="M191.4 229.2L193.6 226.8L192.4 225.7L190.3 228.0Z" fill="#d54f4f"/>
<path d="M232.1 228.8L234.3 228.1L233.0 225.0L230.8 225.7Z" fill="#db4d4d"/>
<path d="M238.2 238.0L240.3 237.3L239.0 233.9L236.9 234.6Z" fill="#e89393"/>
<path d="M228.7 226.4L230.8 225.7L229.5 223.7L227.4 224.4Z" fill="#d53e3e"/>
<path d="M219.5 225.4L221.7 224.7L220.4 223.5L218.2 224.2Z" fill="#cc3737"/>
<path d="M183.9 241.2L186.1 238.4L185.0 237.1L182.8 239.9Z" fill="#e5a8a8"/>
<path d="M239.5 241.4L241.6 240.7L240.3 237.3L238.2 238.0Z" fill="#ecaeae"/>
<path d="M233.4 232.0L235.6 231.3L234.3 228.1L232.1 228.8Z" fill="#df6363"/>
<path d="M213.9 225.7L216.0 224.9L214.8 224.0L212.6 224.7Z" fill="#ca3939"/>
<path d="M240.7 244.9L242.9 244.1L241.6 240.7L239.5 241.4Z" fill="#f1caca"/>
<path d="M208.2 226.1L210.4 225.4L209.2 224.7L207.0 225.3Z" fill="#c73b3b"/>
<path d="M202.6 226.5L204.8 225.9L203.6 225.3L201.4 225.7Z" fill="#c53d3d"/>
<path d="M242.0 248.4L244.2 247.7L242.9 244.1L240.7 244.9Z" fill="#f7e8e8"/>
<path d="M196.9 226.6L199.2 226.2L198.0 225.3L195.8 225.6Z" fill="#c83d3d"/>
<path d="M186.1 238.4L188.2 235.6L187.1 234.4L185.0 237.1Z" fill="#e18f8f"/>
<path d="M180.7 248.3L182.9 245.4L181.8 244.1L179.7 246.9Z" fill="#efe1e1"/>
<path d="M234.7 235.4L236.9 234.6L235.6 231.3L233.4 232.0Z" fill="#e37b7b"/>
<path d="M223.0 225.9L225.2 225.1L223.9 223.9L221.7 224.7Z" fill="#cd3737"/>
<path d="M230.0 229.5L232.1 228.8L230.8 225.7L228.7 226.4Z" fill="#db4d4d"/>
<path d="M236.0 238.7L238.2 238.0L236.9 234.6L234.7 235.4Z" fill="#e89393"/>
<path d="M188.2 235.6L190.4 232.9L189.2 231.7L187.1 234.4Z" fill="#dc7878"/>
<path d="M217.3 226.1L219.5 225.4L218.2 224.2L216.0 224.9Z" fill="#cc3838"/>
<path d="M226.5 227.2L228.7 226.4L227.4 224.4L225.2 225.1Z" fill="#d53e3e"/>
<path d="M182.9 245.4L185.0 242.5L183.9 241.2L181.8 244.1Z" fill="#eac3c3"/>
<path d="M237.3 242.2L239.5 241.4L238.2 238.0L236.0 238.7Z" fill="#ecaeae"/>
<path d="M211.7 226.4L213.9 225.7L212.6 224.7L210.4 225.4Z" fill="#ca3939"/>
<path d="M194.7 227.9L196.9 226.6L195.8 225.6L193.6 226.8Z" fill="#d04141"/>
<path d="M190.4 232.9L192.5 230.3L191.4 229.2L189.2 231.7Z" fill="#d86262"/>
<path d="M206.0 226.7L208.2 226.1L207.0 225.3L204.8 225.9Z" fill="#c73b3b"/>
<path d="M231.3 232.8L233.4 232.0L232.1 228.8L230.0 229.5Z" fill="#df6363"/>
<path d="M200.3 227.0L202.6 226.5L201.4 225.7L199.2 226.2Z" fill="#c73c3c"/>
<path d="M238.6 245.7L240.7 244.9L239.5 241.4L237.3 242.2Z" fill="#f1caca"/>
<path d="M192.5 230.3L194.7 227.9L193.6 226.8L191.4 229.2Z" fill="#d54e4e"/>
<path d="M239.9 249.2L242.0 248.4L240.7 244.9L238.6 245.7Z" fill="#f7e8e8"/>
<path d="M220.8 226.6L223.0 225.9L221.7 224.7L219.5 225.4Z" fill="#cd3737"/>
<path d="M232.6 236.1L234.7 235.4L233.4 232.0L231.3 232.8Z" fill="#e37b7b"/>
<path d="M185.0 242.5L187.2 239.7L186.1 238.4L183.9 241.2Z" fill="#e5a8a8"/>
<path d="M227.8 230.3L230.0 229.5L228.7 226.4L226.5 227.2Z" fill="#db4d4d"/>
<path d="M215.1 226.8L217.3 226.1L216.0 224.9L213.9 225.7Z" fill="#cc3838"/>
<path d="M233.9 239.5L236.0 238.7L234.7 235.4L232.6 236.1Z" fill="#e89393"/>
<path d="M224.3 227.9L226.5 227.2L225.2 225.1L223.0 225.9Z" fill="#d53e3e"/>
<path d="M209.4 227.1L211.7 226.4L210.4 225.4L208.2 226.1Z" fill="#ca3939"/>
<path d="M187.2 239.7L189.3 236.9L188.2 235.6L186.1 238.4Z" fill="#e08f8f"/>
<path d="M181.8 249.6L184.0 246.7L182.9 245.4L180.7 248.3Z" fill="#efe1e1"/>
<path d="M203.8 227.4L206.0 226.7L204.8 225.9L202.6 226.5Z" fill="#c83a3a"/>
<path d="M235.2 242.9L237.3 242.2L236.0 238.7L233.9 239.5Z" fill="#ecaeae"/>
<path d="M198.1 227.6L200.3 227.0L199.2 226.2L196.9 226.6Z" fill="#c83b3b"/>
<path d="M229.1 233.5L231.3 232.8L230.0 229.5L227.8 230.3Z" fill="#df6363"/>
<path d="M236.4 246.4L238.6 245.7L237.3 242.2L235.2 242.9Z" fill="#f1caca"/>
<path d="M237.7 250.0L239.9 249.2L238.6 245.7L236.4 246.4Z" fill="#f7e8e8"/>
<path d="M189.3 236.9L191.5 234.1L190.4 232.9L188.2 235.6Z" fill="#dc7777"/>
<path d="M218.6 227.3L220.8 226.6L219.5 225.4L217.3 226.1Z" fill="#cd3737"/>
<path d="M230.4 236.8L232.6 236.1L231.3 232.8L229.1 233.5Z" fill="#e37b7b"/>
<path d="M184.0 246.7L186.1 243.8L185.0 242.5L182.9 245.4Z" fill="#eac3c3"/>
<path d="M225.6 231.0L227.8 230.3L226.5 227.2L224.3 227.9Z" fill="#db4d4d"/>
<path d="M212.9 227.5L215.1 226.8L213.9 225.7L211.7 226.4Z" fill="#cc3838"/>
<path d="M191.5 234.1L193.7 231.5L192.5 230.3L190.4 232.9Z" fill="#d86161"/>
<path d="M195.9 229.0L198.1 227.6L196.9 226.6L194.7 227.9Z" fill="#d03f3f"/>
<path d="M231.7 240.2L233.9 239.5L232.6 236.1L230.4 236.8Z" fill="#e89393"/>
<path d="M222.1 228.6L224.3 227.9L223.0 225.9L220.8 226.6Z" fill="#d53e3e"/>
<path d="M207.2 227.8L209.4 227.1L208.2 226.1L206.0 226.7Z" fill="#ca3838"/>
<path d="M201.5 228.0L203.8 227.4L202.6 226.5L200.3 227.0Z" fill="#c93939"/>
<path d="M193.7 231.5L195.9 229.0L194.7 227.9L192.5 230.3Z" fill="#d44d4d"/>
<path d="M233.0 243.7L235.2 242.9L233.9 239.5L231.7 240.2Z" fill="#ecaeae"/>
<path d="M226.9 234.2L229.1 233.5L227.8 230.3L225.6 231.0Z" fill="#df6363"/>
<path d="M186.1 243.8L188.3 241.0L187.2 239.7L185.0 242.5Z" fill="#e5a8a8"/>
<path d="M234.3 247.2L236.4 246.4L235.2 242.9L233.0 243.7Z" fill="#f1caca"/>
<path d="M235.6 250.8L237.7 250.0L236.4 246.4L234.3 247.2Z" fill="#f7e8e8"/>
<path d="M216.4 228.0L218.6 227.3L217.3 226.1L215.1 226.8Z" fill="#cd3737"/>
<path d="M228.2 237.6L230.4 236.8L229.1 233.5L226.9 234.2Z" fill="#e37b7b"/>
<path d="M182.9 251.0L185.1 248.1L184.0 246.7L181.8 249.6Z" fill="#efe1e1"/>
<path d="M210.7 228.2L212.9 227.5L211.7 226.4L209.4 227.1Z" fill="#cc3737"/>
<path d="M188.3 241.0L190.5 238.2L189.3 236.9L187.2 239.7Z" fill="#e08f8f"/>
<path d="M223.4 231.7L225.6 231.0L224.3 227.9L222.1 228.6Z" fill="#db4d4d"/>
<path d="M205.0 228.5L207.2 227.8L206.0 226.7L203.8 227.4Z" fill="#cb3838"/>
<path d="M219.9 229.3L222.1 228.6L220.8 226.6L218.6 227.3Z" fill="#d53e3e"/>
<path d="M229.5 241.0L231.7 240.2L230.4 236.8L228.2 237.6Z" fill="#e89393"/>
<path d="M199.3 228.7L201.5 228.0L200.3 227.0L198.1 227.6Z" fill="#ca3939"/>
<path d="M190.5 238.2L192.6 235.4L191.5 234.1L189.3 236.9Z" fill="#dc7777"/>
<path d="M230.8 244.5L233.0 243.7L231.7 240.2L229.5 241.0Z" fill="#ecaeae"/>
<path d="M224.7 235.0L226.9 234.2L225.6 231.0L223.4 231.7Z" fill="#df6363"/>
<path d="M185.1 248.1L187.2 245.2L186.1 243.8L184.0 246.7Z" fill="#eac3c3"/>
<path d="M232.1 248.0L234.3 247.2L233.0 243.7L230.8 244.5Z" fill="#f1caca"/>
<path d="M214.2 228.7L216.4 228.0L215.1 226.8L212.9 227.5Z" fill="#cd3737"/>
<path d="M233.4 251.6L235.6 250.8L234.3 247.2L232.1 248.0Z" fill="#f7e8e8"/>
<path d="M192.6 235.4L194.8 232.7L193.7 231.5L191.5 234.1Z" fill="#d86060"/>
<path d="M197.0 230.2L199.3 228.7L198.1 227.6L195.9 229.0Z" fill="#d13e3e"/>
<path d="M226.0 238.3L228.2 237.6L226.9 234.2L224.7 235.0Z" fill="#e37b7b"/>
<path d="M208.5 228.9L210.7 228.2L209.4 227.1L207.2 227.8Z" fill="#cc3737"/>
<path d="M221.2 232.4L223.4 231.7L222.1 228.6L219.9 229.3Z" fill="#db4d4d"/>
<path d="M194.8 232.7L197.0 230.2L195.9 229.0L193.7 231.5Z" fill="#d44c4c"/>
<path d="M202.7 229.2L205.0 228.5L203.8 227.4L201.5 228.0Z" fill="#cb3838"/>
<path d="M217.7 230.1L219.9 229.3L218.6 227.3L216.4 228.0Z" fill="#d53e3e"/>
<path d="M187.2 245.2L189.4 242.3L188.3 241.0L186.1 243.8Z" fill="#e5a8a8"/>
<path d="M227.3 241.8L229.5 241.0L228.2 237.6L226.0 238.3Z" fill="#e89393"/>
<path d="M228.6 245.2L230.8 244.5L229.5 241.0L227.3 241.8Z" fill="#ecaeae"/>
<path d="M222.5 235.7L224.7 235.0L223.4 231.7L221.2 232.4Z" fill="#df6363"/>
<path d="M184.0 252.4L186.2 249.4L185.1 248.1L182.9 251.0Z" fill="#efe1e1"/>
<path d="M229.9 248.8L232.1 248.0L230.8 244.5L228.6 245.2Z" fill="#f1caca"/>
<path d="M212.0 229.5L214.2 228.7L212.9 227.5L210.7 228.2Z" fill="#cd3737"/>
<path d="M189.4 242.3L191.6 239.5L190.5 238.2L188.3 241.0Z" fill="#e08f8f"/>
<path d="M231.2 252.3L233.4 251.6L232.1 248.0L229.9 248.8Z" fill="#f7e8e8"/>
<path d="M206.2 229.7L208.5 228.9L207.2 227.8L205.0 228.5Z" fill="#cc3737"/>
<path d="M223.8 239.1L226.0 238.3L224.7 235.0L222.5 235.7Z" fill="#e37b7b"/>
<path d="M200.5 229.9L202.7 229.2L201.5 228.0L199.3 228.7Z" fill="#cc3838"/>
<path d="M219.0 233.2L221.2 232.4L219.9 229.3L217.7 230.1Z" fill="#db4d4d"/>
<path d="M215.5 230.8L217.7 230.1L216.4 228.0L214.2 228.7Z" fill="#d53e3e"/>
<path d="M191.6 239.5L193.8 236.7L192.6 235.4L190.5 238.2Z" fill="#dc7777"/>
<path d="M225.1 242.5L227.3 241.8L226.0 238.3L223.8 239.1Z" fill="#e89393"/>
<path d="M186.2 249.4L188.4 246.5L187.2 245.2L185.1 248.1Z" fill="#eac3c3"/>
<path d="M226.4 246.0L228.6 245.2L227.3 241.8L225.1 242.5Z" fill="#ecaeae"/>
<path d="M193.8 236.7L196.0 234.0L194.8 232.7L192.6 235.4Z" fill="#d86060"/>
<path d="M220.3 236.5L222.5 235.7L221.2 232.4L219.0 233.2Z" fill="#df6363"/>
<path d="M209.7 230.2L212.0 229.5L210.7 228.2L208.5 228.9Z" fill="#cd3737"/>
<path d="M198.2 231.4L200.5 229.9L199.3 228.7L197.0 230.2Z" fill="#d13d3d"/>
<path d="M227.7 249.6L229.9 248.8L228.6 245.2L226.4 246.0Z" fill="#f1caca"/>
<path d="M196.0 234.0L198.2 231.4L197.0 230.2L194.8 232.7Z" fill="#d54b4b"/>
<path d="M204.0 230.4L206.2 229.7L205.0 228.5L202.7 229.2Z" fill="#cc3737"/>
<path d="M229.0 253.1L231.2 252.3L229.9 248.8L227.7 249.6Z" fill="#f7e8e8"/>
<path d="M188.4 246.5L190.6 243.6L189.4 242.3L187.2 245.2Z" fill="#e5a8a8"/>
<path d="M221.6 239.8L223.8 239.1L222.5 235.7L220.3 236.5Z" fill="#e37b7b"/>
<path d="M216.8 233.9L219.0 233.2L217.7 230.1L215.5 230.8Z" fill="#db4d4d"/>
<path d="M213.3 231.5L215.5 230.8L214.2 228.7L212.0 229.5Z" fill="#d53e3e"/>
<path d="M222.9 243.3L225.1 242.5L223.8 239.1L221.6 239.8Z" fill="#e89393"/>
<path d="M185.1 253.8L187.3 250.8L186.2 249.4L184.0 252.4Z" fill="#efe1e1"/>
<path d="M190.6 243.6L192.8 240.8L191.6 239.5L189.4 242.3Z" fill="#e08f8f"/>
<path d="M224.2 246.8L226.4 246.0L225.1 242.5L222.9 243.3Z" fill="#ecaeae"/>
<path d="M218.1 237.2L220.3 236.5L219.0 233.2L216.8 233.9Z" fill="#df6363"/>
<path d="M207.5 230.9L209.7 230.2L208.5 228.9L206.2 229.7Z" fill="#cd3737"/>
<path d="M225.5 250.3L227.7 249.6L226.4 246.0L224.2 246.8Z" fill="#f1caca"/>
<path d="M201.7 231.1L204.0 230.4L202.7 229.2L200.5 229.9Z" fill="#cc3737"/>
<path d="M192.8 240.8L195.0 238.0L193.8 236.7L191.6 239.5Z" fill="#dc7777"/>
<path d="M226.8 253.9L229.0 253.1L227.7 249.6L225.5 250.3Z" fill="#f7e8e8"/>
<path d="M219.4 240.6L221.6 239.8L220.3 236.5L218.1 237.2Z" fill="#e37b7b"/>
<path d="M187.3 250.8L189.5 247.9L188.4 246.5L186.2 249.4Z" fill="#eac3c3"/>
<path d="M214.6 234.7L216.8 233.9L215.5 230.8L213.3 231.5Z" fill="#db4d4d"/>
<path d="M211.0 232.3L213.3 231.5L212.0 229.5L209.7 230.2Z" fill="#d53e3e"/>
<path d="M195.0 238.0L197.2 235.3L196.0 234.0L193.8 236.7Z" fill="#d86060"/>
<path d="M220.7 244.1L222.9 243.3L221.6 239.8L219.4 240.6Z" fill="#e89393"/>
<path d="M199.4 232.7L201.7 231.1L200.5 229.9L198.2 231.4Z" fill="#d23d3d"/>
<path d="M197.2 235.3L199.4 232.7L198.2 231.4L196.0 234.0Z" fill="#d54b4b"/>
<path d="M205.2 231.7L207.5 230.9L206.2 229.7L204.0 230.4Z" fill="#cd3737"/>
<path d="M215.8 238.0L218.1 237.2L216.8 233.9L214.6 234.7Z" fill="#df6363"/>
<path d="M222.0 247.6L224.2 246.8L222.9 243.3L220.7 244.1Z" fill="#ecaeae"/>
<path d="M189.5 247.9L191.7 245.0L190.6 243.6L188.4 246.5Z" fill="#e5a8a8"/>
<path d="M223.3 251.1L225.5 250.3L224.2 246.8L222.0 247.6Z" fill="#f1caca"/>
<path d="M224.6 254.7L226.8 253.9L225.5 250.3L223.3 251.1Z" fill="#f7e8e8"/>
<path d="M217.1 241.4L219.4 240.6L218.1 237.2L215.8 238.0Z" fill="#e37b7b"/>
<path d="M212.3 235.4L214.6 234.7L213.3 231.5L211.0 232.3Z" fill="#db4d4d"/>
<path d="M186.3 255.2L188.5 252.3L187.3 250.8L185.1 253.8Z" fill="#f0e2e2"/>
<path d="M208.8 233.0L211.0 232.3L209.7 230.2L207.5 230.9Z" fill="#d53e3e"/>
<path d="M191.7 245.0L193.9 242.1L192.8 240.8L190.6 243.6Z" fill="#e08f8f"/>
<path d="M218.4 244.8L220.7 244.1L219.4 240.6L217.1 241.4Z" fill="#e89393"/>
<path d="M202.9 232.4L205.2 231.7L204.0 230.4L201.7 231.1Z" fill="#cd3737"/>
<path d="M213.6 238.7L215.8 238.0L214.6 234.7L212.3 235.4Z" fill="#df6363"/>
<path d="M219.7 248.4L222.0 247.6L220.7 244.1L218.4 244.8Z" fill="#ecaeae"/>
<path d="M193.9 242.1L196.2 239.3L195.0 238.0L192.8 240.8Z" fill="#dc7777"/>
<path d="M188.5 252.3L190.7 249.5L189.5 247.9L187.3 250.8Z" fill="#ecc6c6"/>
<path d="M221.0 251.9L223.3 251.1L222.0 247.6L219.7 248.4Z" fill="#f1caca"/>
<path d="M222.3 255.5L224.6 254.7L223.3 251.1L221.0 251.9Z" fill="#f7e8e8"/>
<path d="M214.9 242.1L217.1 241.4L215.8 238.0L213.6 238.7Z" fill="#e37b7b"/>
<path d="M196.2 239.3L198.4 236.6L197.2 235.3L195.0 238.0Z" fill="#d86060"/>
<path d="M210.0 236.2L212.3 235.4L211.0 232.3L208.8 233.0Z" fill="#db4d4d"/>
<path d="M206.5 233.8L208.8 233.0L207.5 230.9L205.2 231.7Z" fill="#d53e3e"/>
<path d="M200.7 233.9L202.9 232.4L201.7 231.1L199.4 232.7Z" fill="#d23d3d"/>
<path d="M190.7 249.5L192.9 246.7L191.7 245.0L189.5 247.9Z" fill="#e8acac"/>
<path d="M198.4 236.6L200.7 233.9L199.4 232.7L197.2 235.3Z" fill="#d54b4b"/>
<path d="M216.2 245.6L218.4 244.8L217.1 241.4L214.9 242.1Z" fill="#e89393"/>
<path d="M211.3 239.5L213.6 238.7L212.3 235.4L210.0 236.2Z" fill="#df6363"/>
<path d="M217.5 249.2L219.7 248.4L218.4 244.8L216.2 245.6Z" fill="#ecaeae"/>
<path d="M187.4 256.6L189.6 254.0L188.5 252.3L186.3 255.2Z" fill="#f1e4e4"/>
<path d="M192.9 246.7L195.1 243.9L193.9 242.1L191.7 245.0Z" fill="#e59494"/>
<path d="M218.8 252.7L221.0 251.9L219.7 248.4L217.5 249.2Z" fill="#f1caca"/>
<path d="M220.1 256.4L222.3 255.5L221.0 251.9L218.8 252.7Z" fill="#f7e8e8"/>
<path d="M212.6 242.9L214.9 242.1L213.6 238.7L211.3 239.5Z" fill="#e37b7b"/>
<path d="M207.8 236.9L210.0 236.2L208.8 233.0L206.5 233.8Z" fill="#db4d4d"/>
<path d="M204.2 234.5L206.5 233.8L205.2 231.7L202.9 232.4Z" fill="#d53e3e"/>
<path d="M195.1 243.9L197.4 241.2L196.2 239.3L193.9 242.1Z" fill="#e17c7c"/>
<path d="M189.6 254.0L191.9 251.4L190.7 249.5L188.5 252.3Z" fill="#efcccc"/>
<path d="M213.9 246.4L216.2 245.6L214.9 242.1L212.6 242.9Z" fill="#e89393"/>
<path d="M209.1 240.3L211.3 239.5L210.0 236.2L207.8 236.9Z" fill="#df6363"/>
<path d="M197.4 241.2L199.7 238.5L198.4 236.6L196.2 239.3Z" fill="#de6666"/>
<path d="M215.2 249.9L217.5 249.2L216.2 245.6L213.9 246.4Z" fill="#ecaeae"/>
<path d="M191.9 251.4L194.1 248.9L192.9 246.7L190.7 249.5Z" fill="#edb5b5"/>
<path d="M201.9 236.0L204.2 234.5L202.9 232.4L200.7 233.9Z" fill="#da4343"/>
<path d="M216.5 253.5L218.8 252.7L217.5 249.2L215.2 249.9Z" fill="#f1caca"/>
<path d="M199.7 238.5L201.9 236.0L200.7 233.9L198.4 236.6Z" fill="#db5151"/>
<path d="M217.8 257.2L220.1 256.4L218.8 252.7L216.5 253.5Z" fill="#f7e8e8"/>
<path d="M205.5 237.7L207.8 236.9L206.5 233.8L204.2 234.5Z" fill="#db4d4d"/>
<path d="M210.3 243.7L212.6 242.9L211.3 239.5L209.1 240.3Z" fill="#e37b7b"/>
<path d="M194.1 248.9L196.4 246.3L195.1 243.9L192.9 246.7Z" fill="#ea9e9e"/>
<path d="M211.6 247.2L213.9 246.4L212.6 242.9L210.3 243.7Z" fill="#e89393"/>
<path d="M188.6 258.1L190.8 255.7L189.6 254.0L187.4 256.6Z" fill="#f3e7e7"/>
<path d="M196.4 246.3L198.6 243.8L197.4 241.2L195.1 243.9Z" fill="#e88989"/>
<path d="M206.8 241.0L209.1 240.3L207.8 236.9L205.5 237.7Z" fill="#df6363"/>
<path d="M212.9 250.7L215.2 249.9L213.9 246.4L211.6 247.2Z" fill="#ecaeae"/>
<path d="M203.2 239.1L205.5 237.7L204.2 234.5L201.9 236.0Z" fill="#df5252"/>
<path d="M190.8 255.7L193.1 253.4L191.9 251.4L189.6 254.0Z" fill="#f1d2d2"/>
<path d="M198.6 243.8L200.9 241.4L199.7 238.5L197.4 241.2Z" fill="#e57474"/>
<path d="M214.2 254.4L216.5 253.5L215.2 249.9L212.9 250.7Z" fill="#f1caca"/>
<path d="M200.9 241.4L203.2 239.1L201.9 236.0L199.7 238.5Z" fill="#e26060"/>
<path d="M208.1 244.5L210.3 243.7L209.1 240.3L206.8 241.0Z" fill="#e37b7b"/>
<path d="M215.6 258.0L217.8 257.2L216.5 253.5L214.2 254.4Z" fill="#f7e8e8"/>
<path d="M193.1 253.4L195.4 251.1L194.1 248.9L191.9 251.4Z" fill="#f0bebe"/>
<path d="M195.4 251.1L197.6 248.8L196.4 246.3L194.1 248.9Z" fill="#eeabab"/>
<path d="M204.5 242.4L206.8 241.0L205.5 237.7L203.2 239.1Z" fill="#e36868"/>
<path d="M209.4 248.0L211.6 247.2L210.3 243.7L208.1 244.5Z" fill="#e89393"/>
<path d="M197.6 248.8L199.9 246.6L198.6 243.8L196.4 246.3Z" fill="#eb9898"/>
<path d="M199.9 246.6L202.2 244.4L200.9 241.4L198.6 243.8Z" fill="#e98686"/>
<path d="M202.2 244.4L204.5 242.4L203.2 239.1L200.9 241.4Z" fill="#e67474"/>
<path d="M210.7 251.6L212.9 250.7L211.6 247.2L209.4 248.0Z" fill="#ecaeae"/>
<path d="M205.8 245.7L208.1 244.5L206.8 241.0L204.5 242.4Z" fill="#e77f7f"/>
<path d="M212.0 255.2L214.2 254.4L212.9 250.7L210.7 251.6Z" fill="#f1caca"/>
<path d="M213.3 258.8L215.6 258.0L214.2 254.4L212.0 255.2Z" fill="#f7e8e8"/>
<path d="M189.7 259.5L192.0 257.5L190.8 255.7L188.6 258.1Z" fill="#f4eaea"/>
<path d="M207.1 249.1L209.4 248.0L208.1 244.5L205.8 245.7Z" fill="#ea9797"/>
<path d="M203.5 247.5L205.8 245.7L204.5 242.4L202.2 244.4Z" fill="#ea8a8a"/>
<path d="M192.0 257.5L194.3 255.4L193.1 253.4L190.8 255.7Z" fill="#f3d9d9"/>
<path d="M194.3 255.4L196.6 253.4L195.4 251.1L193.1 253.4Z" fill="#f2c8c8"/>
<path d="M201.2 249.5L203.5 247.5L202.2 244.4L199.9 246.6Z" fill="#ec9999"/>
<path d="M196.6 253.4L198.9 251.4L197.6 248.8L195.4 251.1Z" fill="#f1b8b8"/>
<path d="M198.9 251.4L201.2 249.5L199.9 246.6L197.6 248.8Z" fill="#efa8a8"/>
<path d="M208.4 252.6L210.7 251.6L209.4 248.0L207.1 249.1Z" fill="#eeb1b1"/>
<path d="M204.8 250.7L207.1 249.1L205.8 245.7L203.5 247.5Z" fill="#eea1a1"/>
<path d="M209.7 256.1L212.0 255.2L210.7 251.6L208.4 252.6Z" fill="#f3cccc"/>
<path d="M211.0 259.7L213.3 258.8L212.0 255.2L209.7 256.1Z" fill="#f7e9e9"/>
<path d="M202.5 252.4L204.8 250.7L203.5 247.5L201.2 249.5Z" fill="#f0acac"/>
<path d="M206.1 253.9L208.4 252.6L207.1 249.1L204.8 250.7Z" fill="#f1b8b8"/>
<path d="M200.2 254.0L202.5 252.4L201.2 249.5L198.9 251.4Z" fill="#f2b9b9"/>
<path d="M197.8 255.8L200.2 254.0L198.9 251.4L196.6 253.4Z" fill="#f3c6c6"/>
<path d="M207.4 257.2L209.7 256.1L208.4 252.6L206.1 253.9Z" fill="#f5d1d1"/>
<path d="M195.5 257.5L197.8 255.8L196.6 253.4L194.3 255.4Z" fill="#f4d3d3"/>
<path d="M203.7 255.3L206.1 253.9L204.8 250.7L202.5 252.4Z" fill="#f3c1c1"/>
<path d="M193.2 259.2L195.5 257.5L194.3 255.4L192.0 257.5Z" fill="#f5dfdf"/>
<path d="M190.9 261.0L193.2 259.2L192.0 257.5L189.7 259.5Z" fill="#f4ecec"/>
<path d="M208.7 260.5L211.0 259.7L209.7 256.1L207.4 257.2Z" fill="#f8ebeb"/>
<path d="M201.4 256.7L203.7 255.3L202.5 252.4L200.2 254.0Z" fill="#f5caca"/>
<path d="M205.0 258.3L207.4 257.2L206.1 253.9L203.7 255.3Z" fill="#f6d6d6"/>
<path d="M199.1 258.1L201.4 256.7L200.2 254.0L197.8 255.8Z" fill="#f6d4d4"/>
<path d="M206.3 261.3L208.7 260.5L207.4 257.2L205.0 258.3Z" fill="#f9eded"/>
<path d="M196.8 259.6L199.1 258.1L197.8 255.8L195.5 257.5Z" fill="#f6dddd"/>
<path d="M202.7 259.4L205.0 258.3L203.7 255.3L201.4 256.7Z" fill="#f7dcdc"/>
<path d="M194.4 261.0L196.8 259.6L195.5 257.5L193.2 259.2Z" fill="#f6e6e6"/>
<path d="M192.1 262.5L194.4 261.0L193.2 259.2L190.9 261.0Z" fill="#f4eeee"/>
<path d="M200.4 260.6L202.7 259.4L201.4 256.7L199.1 258.1Z" fill="#f7e2e2"/>
<path d="M204.0 262.2L206.3 261.3L205.0 258.3L202.7 259.4Z" fill="#f9efef"/>
<path d="M198.0 261.7L200.4 260.6L199.1 258.1L196.8 259.6Z" fill="#f7e7e7"/>
<path d="M201.7 263.0L204.0 262.2L202.7 259.4L200.4 260.6Z" fill="#f8f1f1"/>
<path d="M195.7 262.9L198.0 261.7L196.8 259.6L194.4 261.0Z" fill="#f6ecec"/>
<path d="M193.3 264.0L195.7 262.9L194.4 261.0L192.1 262.5Z" fill="#f3f0f0"/>
<path d="M199.3 263.9L201.7 263.0L200.4 260.6L198.0 261.7Z" fill="#f7f1f1"/>
<path d="M196.9 264.7L199.3 263.9L198.0 261.7L195.7 262.9Z" fill="#f5f1f1"/>
<path d="M194.5 265.6L196.9 264.7L195.7 262.9L193.3 264.0Z" fill="#f2f0f0"/>
</g>
<text x="153.8" y="181.2" font-size="9.2" stroke="#000" stroke-width="0.22">SU-DHL-4</text>
<defs><linearGradient id="cb133" x1="0" y1="0" x2="0" y2="1"><stop offset="0" stop-color="#c23a50"/><stop offset="0.28" stop-color="#d46a7a"/><stop offset="0.5" stop-color="#ffffff"/><stop offset="0.72" stop-color="#b0e4b0"/><stop offset="1" stop-color="#40c040"/></linearGradient></defs>
<rect x="151.3" y="195.8" width="1.6" height="102" fill="url(#cb133)"/>
<text x="148.9" y="298.3" font-size="3" text-anchor="middle" fill="#444" transform="rotate(-90 148.9 298.3)" stroke="#444" stroke-width="0.07">−30</text>
<text x="148.9" y="281.22" font-size="3" text-anchor="middle" fill="#444" transform="rotate(-90 148.9 281.22)" stroke="#444" stroke-width="0.07">−20</text>
<text x="148.9" y="264.13" font-size="3" text-anchor="middle" fill="#444" transform="rotate(-90 148.9 264.13)" stroke="#444" stroke-width="0.07">−10</text>
<text x="148.9" y="247.05" font-size="3" text-anchor="middle" fill="#444" transform="rotate(-90 148.9 247.05)" stroke="#444" stroke-width="0.07">0</text>
<text x="148.9" y="229.97" font-size="3" text-anchor="middle" fill="#444" transform="rotate(-90 148.9 229.97)" stroke="#444" stroke-width="0.07">10</text>
<text x="148.9" y="212.88" font-size="3" text-anchor="middle" fill="#444" transform="rotate(-90 148.9 212.88)" stroke="#444" stroke-width="0.07">20</text>
<text x="148.9" y="195.8" font-size="3" text-anchor="middle" fill="#444" transform="rotate(-90 148.9 195.8)" stroke="#444" stroke-width="0.07">30</text>
<text x="143.9" y="247.6" font-size="5.7" text-anchor="middle" fill="#111" transform="rotate(-90 143.9 247.6)" stroke="#111" stroke-width="0.14">Average synergy: 15.0 (Bliss)</text>
<line x1="168.15" y1="255.76" x2="169.95" y2="255.76" stroke="#888" stroke-width="0.4"/>
<text x="167.65" y="256.96" font-size="3.3" text-anchor="end" fill="#222" stroke="#222" stroke-width="0.08">−30</text>
<line x1="167.46" y1="248.13" x2="169.26" y2="248.13" stroke="#888" stroke-width="0.4"/>
<text x="166.96" y="249.33" font-size="3.3" text-anchor="end" fill="#222" stroke="#222" stroke-width="0.08">−20</text>
<line x1="166.75" y1="240.23" x2="168.55" y2="240.23" stroke="#888" stroke-width="0.4"/>
<text x="166.25" y="241.43" font-size="3.3" text-anchor="end" fill="#222" stroke="#222" stroke-width="0.08">−10</text>
<line x1="166.01" y1="232.06" x2="167.81" y2="232.06" stroke="#888" stroke-width="0.4"/>
<text x="165.51" y="233.26" font-size="3.3" text-anchor="end" fill="#222" stroke="#222" stroke-width="0.08">0</text>
<line x1="165.24" y1="223.58" x2="167.04" y2="223.58" stroke="#888" stroke-width="0.4"/>
<text x="164.74" y="224.78" font-size="3.3" text-anchor="end" fill="#222" stroke="#222" stroke-width="0.08">10</text>
<line x1="164.45" y1="214.79" x2="166.25" y2="214.79" stroke="#888" stroke-width="0.4"/>
<text x="163.95" y="215.99" font-size="3.3" text-anchor="end" fill="#222" stroke="#222" stroke-width="0.08">20</text>
<line x1="163.63" y1="205.67" x2="165.43" y2="205.67" stroke="#888" stroke-width="0.4"/>
<text x="163.13" y="206.87" font-size="3.3" text-anchor="end" fill="#222" stroke="#222" stroke-width="0.08">30</text>
<text x="159.21" y="232.06" font-size="4.2" text-anchor="middle" fill="#222" transform="rotate(-90 159.21 232.06)" stroke="#222" stroke-width="0.1">Synergy score</text>
<text x="192.44" y="295.61" font-size="3" text-anchor="middle" fill="#222" stroke="#222" stroke-width="0.07">0</text>
<text x="188.35" y="289.98" font-size="3" text-anchor="middle" fill="#222" stroke="#222" stroke-width="0.07">1.562</text>
<text x="184.42" y="284.59" font-size="3" text-anchor="middle" fill="#222" stroke="#222" stroke-width="0.07">3.125</text>
<text x="180.65" y="279.4" font-size="3" text-anchor="middle" fill="#222" stroke="#222" stroke-width="0.07">6.25</text>
<text x="177.03" y="274.42" font-size="3" text-anchor="middle" fill="#222" stroke="#222" stroke-width="0.07">12.5</text>
<text x="173.54" y="269.62" font-size="3" text-anchor="middle" fill="#222" stroke="#222" stroke-width="0.07">25</text>
<text x="170.18" y="265.01" font-size="3" text-anchor="middle" fill="#222" stroke="#222" stroke-width="0.07">50</text>
<text x="166.95" y="260.56" font-size="3" text-anchor="middle" fill="#222" stroke="#222" stroke-width="0.07">100</text>
<text x="173.42" y="283.19" font-size="4.3" text-anchor="middle" fill="#222" transform="rotate(51 173.42 283.19)" stroke="#222" stroke-width="0.11">Lenalidomide (µmol/L)</text>
<text x="199.94" y="296.91" font-size="2.9" text-anchor="middle" fill="#222" stroke="#222" stroke-width="0.07">0</text>
<text x="207.5" y="293.8" font-size="2.9" text-anchor="middle" fill="#222" stroke="#222" stroke-width="0.07">0.312</text>
<text x="214.92" y="290.75" font-size="2.9" text-anchor="middle" fill="#222" stroke="#222" stroke-width="0.07">0.625</text>
<text x="222.2" y="287.75" font-size="2.9" text-anchor="middle" fill="#222" stroke="#222" stroke-width="0.07">1.25</text>
<text x="229.34" y="284.81" font-size="2.9" text-anchor="middle" fill="#222" stroke="#222" stroke-width="0.07">2.5</text>
<text x="236.35" y="281.92" font-size="2.9" text-anchor="middle" fill="#222" stroke="#222" stroke-width="0.07">5</text>
<text x="243.23" y="279.08" font-size="2.9" text-anchor="middle" fill="#222" stroke="#222" stroke-width="0.07">10</text>
<text x="249.99" y="276.28" font-size="2.9" text-anchor="middle" fill="#222" stroke="#222" stroke-width="0.07">20</text>
<text x="231.69" y="290.77" font-size="4.1" text-anchor="middle" fill="#222" transform="rotate(-22 231.69 290.77)" stroke="#222" stroke-width="0.1">Tazemetostat (µmol/L)</text>
<line x1="329.64" y1="290.31" x2="327.73" y2="236.53" stroke="#909090" stroke-width="0.6"/>
<line x1="329.64" y1="290.31" x2="304.15" y2="255.26" stroke="#909090" stroke-width="0.6"/>
<line x1="329.64" y1="290.31" x2="382.49" y2="269.68" stroke="#909090" stroke-width="0.6"/>
<line x1="327.73" y1="236.53" x2="299.63" y2="205.17" stroke="#909090" stroke-width="0.6"/>
<line x1="327.73" y1="236.53" x2="387.2" y2="217.02" stroke="#909090" stroke-width="0.6"/>
<line x1="304.15" y1="255.26" x2="299.63" y2="205.17" stroke="#909090" stroke-width="0.6"/>
<line x1="304.15" y1="255.26" x2="351.95" y2="238.99" stroke="#909090" stroke-width="0.6"/>
<line x1="299.63" y1="205.17" x2="352.78" y2="190.12" stroke="#909090" stroke-width="0.6"/>
<line x1="382.49" y1="269.68" x2="387.2" y2="217.02" stroke="#909090" stroke-width="0.6"/>
<line x1="382.49" y1="269.68" x2="351.95" y2="238.99" stroke="#909090" stroke-width="0.6"/>
<line x1="387.2" y1="217.02" x2="352.78" y2="190.12" stroke="#909090" stroke-width="0.6"/>
<line x1="351.95" y1="238.99" x2="352.78" y2="190.12" stroke="#909090" stroke-width="0.6"/>
<g stroke="#000" stroke-opacity="0.78" stroke-width="0.36">
<path d="M351.7 210.9L353.6 210.6L352.4 209.8L350.5 210.2Z" fill="#d89393"/>
<path d="M349.7 210.9L351.7 210.9L350.5 210.2L348.6 210.2Z" fill="#d28b8b"/>
<path d="M352.8 211.6L354.8 211.3L353.6 210.6L351.7 210.9Z" fill="#d58e8e"/>
<path d="M347.8 210.6L349.7 210.9L348.6 210.2L346.6 210.0Z" fill="#cc8080"/>
<path d="M350.9 211.5L352.8 211.6L351.7 210.9L349.7 210.9Z" fill="#ce8585"/>
<path d="M354.0 212.6L355.9 212.3L354.8 211.3L352.8 211.6Z" fill="#da9090"/>
<path d="M345.8 210.1L347.8 210.6L346.6 210.0L344.7 209.5Z" fill="#c77373"/>
<path d="M348.9 211.1L350.9 211.5L349.7 210.9L347.8 210.6Z" fill="#c87979"/>
<path d="M352.0 212.5L354.0 212.6L352.8 211.6L350.9 211.5Z" fill="#d48686"/>
<path d="M355.2 214.0L357.1 213.7L355.9 212.3L354.0 212.6Z" fill="#df9595"/>
<path d="M343.8 209.5L345.8 210.1L344.7 209.5L342.7 208.9Z" fill="#c26666"/>
<path d="M347.0 210.5L348.9 211.1L347.8 210.6L345.8 210.1Z" fill="#c26c6c"/>
<path d="M350.1 212.2L352.0 212.5L350.9 211.5L348.9 211.1Z" fill="#ce7b7b"/>
<path d="M353.2 214.0L355.2 214.0L354.0 212.6L352.0 212.5Z" fill="#da8d8d"/>
<path d="M356.4 215.3L358.3 214.9L357.1 213.7L355.2 214.0Z" fill="#df9898"/>
<path d="M341.8 208.8L343.8 209.5L342.7 208.9L340.7 208.3Z" fill="#bf5858"/>
<path d="M345.0 209.8L347.0 210.5L345.8 210.1L343.8 209.5Z" fill="#be5e5e"/>
<path d="M354.4 215.4L356.4 215.3L355.2 214.0L353.2 214.0Z" fill="#da9090"/>
<path d="M351.2 213.7L353.2 214.0L352.0 212.5L350.1 212.2Z" fill="#d58181"/>
<path d="M348.1 211.6L350.1 212.2L348.9 211.1L347.0 210.5Z" fill="#c96d6d"/>
<path d="M357.6 216.5L359.5 216.0L358.3 214.9L356.4 215.3Z" fill="#dd9898"/>
<path d="M339.8 208.1L341.8 208.8L340.7 208.3L338.7 207.7Z" fill="#bc4b4b"/>
<path d="M352.4 215.1L354.4 215.4L353.2 214.0L351.2 213.7Z" fill="#d58686"/>
<path d="M355.6 216.5L357.6 216.5L356.4 215.3L354.4 215.4Z" fill="#d89191"/>
<path d="M342.9 209.0L345.0 209.8L343.8 209.5L341.8 208.8Z" fill="#ba5050"/>
<path d="M349.3 213.2L351.2 213.7L350.1 212.2L348.1 211.6Z" fill="#d17474"/>
<path d="M346.1 210.9L348.1 211.6L347.0 210.5L345.0 209.8Z" fill="#c55f5f"/>
<path d="M358.8 217.5L360.8 217.1L359.5 216.0L357.6 216.5Z" fill="#dc9898"/>
<path d="M337.8 207.6L339.8 208.1L338.7 207.7L336.7 207.2Z" fill="#bb4040"/>
<path d="M353.6 216.3L355.6 216.5L354.4 215.4L352.4 215.1Z" fill="#d38686"/>
<path d="M350.4 214.7L352.4 215.1L351.2 213.7L349.3 213.2Z" fill="#d17979"/>
<path d="M356.8 217.5L358.8 217.5L357.6 216.5L355.6 216.5Z" fill="#d69090"/>
<path d="M340.9 208.3L342.9 209.0L341.8 208.8L339.8 208.1Z" fill="#b74343"/>
<path d="M347.3 212.6L349.3 213.2L348.1 211.6L346.1 210.9Z" fill="#cd6666"/>
<path d="M344.1 210.1L346.1 210.9L345.0 209.8L342.9 209.0Z" fill="#c25050"/>
<path d="M360.0 218.4L362.0 218.0L360.8 217.1L358.8 217.5Z" fill="#d99494"/>
<path d="M335.7 207.2L337.8 207.6L336.7 207.2L334.6 206.8Z" fill="#ba3636"/>
<path d="M351.6 215.9L353.6 216.3L352.4 215.1L350.4 214.7Z" fill="#ce7a7a"/>
<path d="M354.8 217.3L356.8 217.5L355.6 216.5L353.6 216.3Z" fill="#d18585"/>
<path d="M348.4 214.1L350.4 214.7L349.3 213.2L347.3 212.6Z" fill="#cd6b6b"/>
<path d="M338.9 207.7L340.9 208.3L339.8 208.1L337.8 207.6Z" fill="#b53737"/>
<path d="M358.0 218.4L360.0 218.4L358.8 217.5L356.8 217.5Z" fill="#d38c8c"/>
<path d="M345.2 211.9L347.3 212.6L346.1 210.9L344.1 210.1Z" fill="#cb5858"/>
<path d="M342.1 209.3L344.1 210.1L342.9 209.0L340.9 208.3Z" fill="#c04343"/>
<path d="M361.3 219.1L363.3 218.8L362.0 218.0L360.0 218.4Z" fill="#d69090"/>
<path d="M333.6 207.1L335.7 207.2L334.6 206.8L332.5 206.8Z" fill="#bb2e2e"/>
<path d="M349.6 215.3L351.6 215.9L350.4 214.7L348.4 214.1Z" fill="#ca6c6c"/>
<path d="M352.8 216.9L354.8 217.3L353.6 216.3L351.6 215.9Z" fill="#cc7979"/>
<path d="M346.4 213.5L348.4 214.1L347.3 212.6L345.2 211.9Z" fill="#cb5e5e"/>
<path d="M356.0 218.1L358.0 218.4L356.8 217.5L354.8 217.3Z" fill="#cd8181"/>
<path d="M336.8 207.2L338.9 207.7L337.8 207.6L335.7 207.2Z" fill="#b42d2d"/>
<path d="M343.2 211.3L345.2 211.9L344.1 210.1L342.1 209.3Z" fill="#c94a4a"/>
<path d="M359.3 219.1L361.3 219.1L360.0 218.4L358.0 218.4Z" fill="#d08787"/>
<path d="M331.5 207.4L333.6 207.1L332.5 206.8L330.5 207.1Z" fill="#bd2a2a"/>
<path d="M340.0 208.7L342.1 209.3L340.9 208.3L338.9 207.7Z" fill="#bf3636"/>
<path d="M362.5 220.2L364.5 219.9L363.3 218.8L361.3 219.1Z" fill="#da9191"/>
<path d="M329.5 207.9L331.5 207.4L330.5 207.1L328.4 207.7Z" fill="#bf2929"/>
<path d="M334.7 207.1L336.8 207.2L335.7 207.2L333.6 207.1Z" fill="#b42525"/>
<path d="M350.8 216.3L352.8 216.9L351.6 215.9L349.6 215.3Z" fill="#c86b6b"/>
<path d="M347.6 214.7L349.6 215.3L348.4 214.1L346.4 213.5Z" fill="#c75f5f"/>
<path d="M354.0 217.6L356.0 218.1L354.8 217.3L352.8 216.9Z" fill="#c87474"/>
<path d="M344.4 212.9L346.4 213.5L345.2 211.9L343.2 211.3Z" fill="#c95151"/>
<path d="M357.3 218.7L359.3 219.1L358.0 218.4L356.0 218.1Z" fill="#c97b7b"/>
<path d="M341.1 210.7L343.2 211.3L342.1 209.3L340.0 208.7Z" fill="#c93d3d"/>
<path d="M360.5 220.2L362.5 220.2L361.3 219.1L359.3 219.1Z" fill="#d48888"/>
<path d="M337.9 208.3L340.0 208.7L338.9 207.7L336.8 207.2Z" fill="#bf2b2b"/>
<path d="M363.8 221.7L365.8 221.3L364.5 219.9L362.5 220.2Z" fill="#df9696"/>
<path d="M327.4 208.5L329.5 207.9L328.4 207.7L326.3 208.3Z" fill="#bf2828"/>
<path d="M332.6 207.3L334.7 207.1L333.6 207.1L331.5 207.4Z" fill="#b52020"/>
<path d="M345.5 214.1L347.6 214.7L346.4 213.5L344.4 212.9Z" fill="#c55252"/>
<path d="M348.8 215.7L350.8 216.3L349.6 215.3L347.6 214.7Z" fill="#c55e5e"/>
<path d="M325.3 209.2L327.4 208.5L326.3 208.3L324.2 208.9Z" fill="#bf2828"/>
<path d="M302.9 232.7L304.8 228.9L303.9 227.9L302.0 231.6Z" fill="#ead6d6"/>
<path d="M352.0 217.0L354.0 217.6L352.8 216.9L350.8 216.3Z" fill="#c36767"/>
<path d="M342.3 212.4L344.4 212.9L343.2 211.3L341.1 210.7Z" fill="#c94545"/>
<path d="M335.8 208.1L337.9 208.3L336.8 207.2L334.7 207.1Z" fill="#c12222"/>
<path d="M355.3 218.2L357.3 218.7L356.0 218.1L354.0 217.6Z" fill="#c46e6e"/>
<path d="M339.1 210.3L341.1 210.7L340.0 208.7L337.9 208.3Z" fill="#ca3232"/>
<path d="M361.8 221.7L363.8 221.7L362.5 220.2L360.5 220.2Z" fill="#da8d8d"/>
<path d="M358.5 219.9L360.5 220.2L359.3 219.1L357.3 218.7Z" fill="#ce7c7c"/>
<path d="M330.5 207.8L332.6 207.3L331.5 207.4L329.5 207.9Z" fill="#b71e1e"/>
<path d="M365.1 223.0L367.1 222.6L365.8 221.3L363.8 221.7Z" fill="#df9898"/>
<path d="M323.2 209.8L325.3 209.2L324.2 208.9L322.1 209.5Z" fill="#bf2828"/>
<path d="M304.8 228.9L306.7 225.1L305.8 224.1L303.9 227.9Z" fill="#e2adad"/>
<path d="M328.4 208.4L330.5 207.8L329.5 207.9L327.4 208.5Z" fill="#b71e1e"/>
<path d="M333.7 208.3L335.8 208.1L334.7 207.1L332.6 207.3Z" fill="#c41d1d"/>
<path d="M343.5 213.6L345.5 214.1L344.4 212.9L342.3 212.4Z" fill="#c54747"/>
<path d="M340.2 212.1L342.3 212.4L341.1 210.7L339.1 210.3Z" fill="#ca3a3a"/>
<path d="M346.7 215.1L348.8 215.7L347.6 214.7L345.5 214.1Z" fill="#c35151"/>
<path d="M321.0 210.4L323.2 209.8L322.1 209.5L320.0 210.1Z" fill="#bf2828"/>
<path d="M337.0 210.2L339.1 210.3L337.9 208.3L335.8 208.1Z" fill="#cc2a2a"/>
<path d="M350.0 216.3L352.0 217.0L350.8 216.3L348.8 215.7Z" fill="#c05959"/>
<path d="M363.1 223.1L365.1 223.0L363.8 221.7L361.8 221.7Z" fill="#d99090"/>
<path d="M303.9 233.9L305.8 230.0L304.8 228.9L302.9 232.7Z" fill="#ead5d5"/>
<path d="M359.8 221.4L361.8 221.7L360.5 220.2L358.5 219.9Z" fill="#d58282"/>
<path d="M353.3 217.5L355.3 218.2L354.0 217.6L352.0 217.0Z" fill="#bf6060"/>
<path d="M366.4 224.2L368.4 223.8L367.1 222.6L365.1 223.0Z" fill="#dd9898"/>
<path d="M356.5 219.3L358.5 219.9L357.3 218.7L355.3 218.2Z" fill="#c96f6f"/>
<path d="M326.3 209.0L328.4 208.4L327.4 208.5L325.3 209.2Z" fill="#b71e1e"/>
<path d="M306.7 225.1L308.6 221.2L307.7 220.4L305.8 224.1Z" fill="#da8686"/>
<path d="M318.9 211.1L321.0 210.4L320.0 210.1L317.9 210.8Z" fill="#c02929"/>
<path d="M331.6 208.9L333.7 208.3L332.6 207.3L330.5 207.8Z" fill="#c71b1b"/>
<path d="M334.9 210.5L337.0 210.2L335.8 208.1L333.7 208.3Z" fill="#cf2424"/>
<path d="M338.1 212.0L340.2 212.1L339.1 210.3L337.0 210.2Z" fill="#cc3232"/>
<path d="M341.4 213.3L343.5 213.6L342.3 212.4L340.2 212.1Z" fill="#c53d3d"/>
<path d="M324.2 209.7L326.3 209.0L325.3 209.2L323.2 209.8Z" fill="#b71e1e"/>
<path d="M305.8 230.0L307.7 226.0L306.7 225.1L304.8 228.9Z" fill="#e1aaaa"/>
<path d="M316.8 211.8L318.9 211.1L317.9 210.8L315.8 211.4Z" fill="#c02929"/>
<path d="M344.6 214.6L346.7 215.1L345.5 214.1L343.5 213.6Z" fill="#c24646"/>
<path d="M361.1 222.9L363.1 223.1L361.8 221.7L359.8 221.4Z" fill="#d48686"/>
<path d="M364.4 224.3L366.4 224.2L365.1 223.0L363.1 223.1Z" fill="#d89191"/>
<path d="M329.5 209.5L331.6 208.9L330.5 207.8L328.4 208.4Z" fill="#c71a1a"/>
<path d="M347.9 215.6L350.0 216.3L348.8 215.7L346.7 215.1Z" fill="#bd4c4c"/>
<path d="M357.8 221.0L359.8 221.4L358.5 219.9L356.5 219.3Z" fill="#d07575"/>
<path d="M308.6 221.2L310.5 217.2L309.6 216.5L307.7 220.4Z" fill="#d26161"/>
<path d="M367.7 225.4L369.7 224.9L368.4 223.8L366.4 224.2Z" fill="#dd9898"/>
<path d="M304.8 235.1L306.7 231.2L305.8 230.0L303.9 233.9Z" fill="#ead5d5"/>
<path d="M351.2 216.7L353.3 217.5L352.0 217.0L350.0 216.3Z" fill="#bb5252"/>
<path d="M354.5 218.6L356.5 219.3L355.3 218.2L353.3 217.5Z" fill="#c56060"/>
<path d="M322.0 210.4L324.2 209.7L323.2 209.8L321.0 210.4Z" fill="#b81e1e"/>
<path d="M332.8 211.1L334.9 210.5L333.7 208.3L331.6 208.9Z" fill="#d22222"/>
<path d="M314.6 212.5L316.8 211.8L315.8 211.4L313.6 212.1Z" fill="#c12a2a"/>
<path d="M336.0 212.3L338.1 212.0L337.0 210.2L334.9 210.5Z" fill="#cf2e2e"/>
<path d="M327.4 210.1L329.5 209.5L328.4 208.4L326.3 209.0Z" fill="#c81a1a"/>
<path d="M307.7 226.0L309.6 221.9L308.6 221.2L306.7 225.1Z" fill="#d88282"/>
<path d="M339.3 213.3L341.4 213.3L340.2 212.1L338.1 212.0Z" fill="#c73636"/>
<path d="M310.5 217.2L312.5 213.2L311.5 212.7L309.6 216.5Z" fill="#cb3d3d"/>
<path d="M319.9 211.1L322.0 210.4L321.0 210.4L318.9 211.1Z" fill="#b81e1e"/>
<path d="M312.5 213.2L314.6 212.5L313.6 212.1L311.5 212.7Z" fill="#c22a2a"/>
<path d="M362.3 224.1L364.4 224.3L363.1 223.1L361.1 222.9Z" fill="#d38686"/>
<path d="M342.6 214.3L344.6 214.6L343.5 213.6L341.4 213.3Z" fill="#c23c3c"/>
<path d="M365.7 225.5L367.7 225.4L366.4 224.2L364.4 224.3Z" fill="#d79191"/>
<path d="M330.6 211.7L332.8 211.1L331.6 208.9L329.5 209.5Z" fill="#d22222"/>
<path d="M359.0 222.5L361.1 222.9L359.8 221.4L357.8 221.0Z" fill="#d07979"/>
<path d="M306.7 231.2L308.6 227.1L307.7 226.0L305.8 230.0Z" fill="#e2aaaa"/>
<path d="M345.8 215.1L347.9 215.6L346.7 215.1L344.6 214.6Z" fill="#bb4040"/>
<path d="M369.0 226.6L371.0 226.1L369.7 224.9L367.7 225.4Z" fill="#dd9898"/>
<path d="M325.2 210.8L327.4 210.1L326.3 209.0L324.2 209.7Z" fill="#c81a1a"/>
<path d="M333.9 213.0L336.0 212.3L334.9 210.5L332.8 211.1Z" fill="#d22d2d"/>
<path d="M355.7 220.3L357.8 221.0L356.5 219.3L354.5 218.6Z" fill="#cd6767"/>
<path d="M305.8 236.3L307.7 232.5L306.7 231.2L304.8 235.1Z" fill="#ebd6d6"/>
<path d="M349.1 215.9L351.2 216.7L350.0 216.3L347.9 215.6Z" fill="#b84444"/>
<path d="M317.7 211.8L319.9 211.1L318.9 211.1L316.8 211.8Z" fill="#b91f1f"/>
<path d="M352.4 217.8L354.5 218.6L353.3 217.5L351.2 216.7Z" fill="#c25252"/>
<path d="M309.6 221.9L311.5 217.7L310.5 217.2L308.6 221.2Z" fill="#d05b5b"/>
<path d="M337.2 213.6L339.3 213.3L338.1 212.0L336.0 212.3Z" fill="#cb3131"/>
<path d="M328.5 212.4L330.6 211.7L329.5 209.5L327.4 210.1Z" fill="#d22222"/>
<path d="M323.1 211.4L325.2 210.8L324.2 209.7L322.0 210.4Z" fill="#c81b1b"/>
<path d="M331.8 213.6L333.9 213.0L332.8 211.1L330.6 211.7Z" fill="#d22c2c"/>
<path d="M340.4 214.2L342.6 214.3L341.4 213.3L339.3 213.3Z" fill="#c43535"/>
<path d="M308.6 227.1L310.6 223.0L309.6 221.9L307.7 226.0Z" fill="#db8181"/>
<path d="M315.6 212.6L317.7 211.8L316.8 211.8L314.6 212.5Z" fill="#ba2020"/>
<path d="M363.6 225.3L365.7 225.5L364.4 224.3L362.3 224.1Z" fill="#d28686"/>
<path d="M360.3 223.7L362.3 224.1L361.1 222.9L359.0 222.5Z" fill="#ce7a7a"/>
<path d="M367.0 226.7L369.0 226.6L367.7 225.4L365.7 225.5Z" fill="#d79191"/>
<path d="M357.0 221.9L359.0 222.5L357.8 221.0L355.7 220.3Z" fill="#cd6c6c"/>
<path d="M326.4 213.0L328.5 212.4L327.4 210.1L325.2 210.8Z" fill="#d32222"/>
<path d="M307.7 232.5L309.6 228.6L308.6 227.1L306.7 231.2Z" fill="#e4adad"/>
<path d="M335.0 214.2L337.2 213.6L336.0 212.3L333.9 213.0Z" fill="#ce3030"/>
<path d="M343.7 214.7L345.8 215.1L344.6 214.6L342.6 214.3Z" fill="#bb3636"/>
<path d="M370.4 227.7L372.4 227.3L371.0 226.1L369.0 226.6Z" fill="#dd9898"/>
<path d="M311.5 217.7L313.4 213.3L312.5 213.2L310.5 217.2Z" fill="#c73535"/>
<path d="M321.0 212.2L323.1 211.4L322.0 210.4L319.9 211.1Z" fill="#c91b1b"/>
<path d="M329.6 214.3L331.8 213.6L330.6 211.7L328.5 212.4Z" fill="#d22c2c"/>
<path d="M313.4 213.3L315.6 212.6L314.6 212.5L312.5 213.2Z" fill="#bc2121"/>
<path d="M353.7 219.7L355.7 220.3L354.5 218.6L352.4 217.8Z" fill="#ca5959"/>
<path d="M306.8 237.5L308.7 233.7L307.7 232.5L305.8 236.3Z" fill="#ebd7d7"/>
<path d="M347.1 215.3L349.1 215.9L347.9 215.6L345.8 215.1Z" fill="#b63838"/>
<path d="M350.4 217.1L352.4 217.8L351.2 216.7L349.1 215.9Z" fill="#c04444"/>
<path d="M338.3 214.6L340.4 214.2L339.3 213.3L337.2 213.6Z" fill="#c73131"/>
<path d="M324.2 213.7L326.4 213.0L325.2 210.8L323.1 211.4Z" fill="#d32222"/>
<path d="M310.6 223.0L312.5 218.8L311.5 217.7L309.6 221.9Z" fill="#d35a5a"/>
<path d="M318.8 212.9L321.0 212.2L319.9 211.1L317.7 211.8Z" fill="#c91c1c"/>
<path d="M332.9 214.9L335.0 214.2L333.9 213.0L331.8 213.6Z" fill="#ce3030"/>
<path d="M327.5 214.9L329.6 214.3L328.5 212.4L326.4 213.0Z" fill="#d32c2c"/>
<path d="M309.6 228.6L311.6 224.6L310.6 223.0L308.6 227.1Z" fill="#de8585"/>
<path d="M365.0 226.5L367.0 226.7L365.7 225.5L363.6 225.3Z" fill="#d28686"/>
<path d="M361.6 224.9L363.6 225.3L362.3 224.1L360.3 223.7Z" fill="#cd7a7a"/>
<path d="M368.3 227.8L370.4 227.7L369.0 226.6L367.0 226.7Z" fill="#d79191"/>
<path d="M341.6 214.7L343.7 214.7L342.6 214.3L340.4 214.2Z" fill="#bc2f2f"/>
<path d="M358.3 223.2L360.3 223.7L359.0 222.5L357.0 221.9Z" fill="#ca6d6d"/>
<path d="M371.7 228.9L373.8 228.4L372.4 227.3L370.4 227.7Z" fill="#dd9898"/>
<path d="M322.1 214.4L324.2 213.7L323.1 211.4L321.0 212.2Z" fill="#d32323"/>
<path d="M308.7 233.7L310.7 229.9L309.6 228.6L307.7 232.5Z" fill="#e4aeae"/>
<path d="M316.6 213.7L318.8 212.9L317.7 211.8L315.6 212.6Z" fill="#c91d1d"/>
<path d="M354.9 221.3L357.0 221.9L355.7 220.3L353.7 219.7Z" fill="#ca5e5e"/>
<path d="M336.2 215.2L338.3 214.6L337.2 213.6L335.0 214.2Z" fill="#ca3030"/>
<path d="M330.8 215.5L332.9 214.9L331.8 213.6L329.6 214.3Z" fill="#ce3030"/>
<path d="M325.3 215.6L327.5 214.9L326.4 213.0L324.2 213.7Z" fill="#d32d2d"/>
<path d="M344.9 214.9L347.1 215.3L345.8 215.1L343.7 214.7Z" fill="#b52e2e"/>
<path d="M312.5 218.8L314.4 214.5L313.4 213.3L311.5 217.7Z" fill="#cc3333"/>
<path d="M351.6 219.0L353.7 219.7L352.4 217.8L350.4 217.1Z" fill="#c94b4b"/>
<path d="M307.7 238.8L309.7 235.0L308.7 233.7L306.8 237.5Z" fill="#ebd7d7"/>
<path d="M314.4 214.5L316.6 213.7L315.6 212.6L313.4 213.3Z" fill="#ca1f1f"/>
<path d="M319.9 215.1L322.1 214.4L321.0 212.2L318.8 212.9Z" fill="#d32323"/>
<path d="M348.3 216.4L350.4 217.1L349.1 215.9L347.1 215.3Z" fill="#bf3737"/>
<path d="M311.6 224.6L313.6 220.6L312.5 218.8L310.6 223.0Z" fill="#d85e5e"/>
<path d="M334.0 215.9L336.2 215.2L335.0 214.2L332.9 214.9Z" fill="#ca2f2f"/>
<path d="M339.5 215.0L341.6 214.7L340.4 214.2L338.3 214.6Z" fill="#be2b2b"/>
<path d="M328.6 216.2L330.8 215.5L329.6 214.3L327.5 214.9Z" fill="#ce3030"/>
<path d="M366.3 227.7L368.3 227.8L367.0 226.7L365.0 226.5Z" fill="#d28686"/>
<path d="M310.7 229.9L312.6 226.1L311.6 224.6L309.6 228.6Z" fill="#de8888"/>
<path d="M323.2 216.2L325.3 215.6L324.2 213.7L322.1 214.4Z" fill="#d22d2d"/>
<path d="M362.9 226.1L365.0 226.5L363.6 225.3L361.6 224.9Z" fill="#cd7a7a"/>
<path d="M369.7 229.0L371.7 228.9L370.4 227.7L368.3 227.8Z" fill="#d79191"/>
<path d="M359.6 224.3L361.6 224.9L360.3 223.7L358.3 223.2Z" fill="#c96d6d"/>
<path d="M373.1 230.1L375.1 229.7L373.8 228.4L371.7 228.9Z" fill="#dd9898"/>
<path d="M317.7 215.8L319.9 215.1L318.8 212.9L316.6 213.7Z" fill="#d32424"/>
<path d="M356.2 222.6L358.3 223.2L357.0 221.9L354.9 221.3Z" fill="#c75f5f"/>
<path d="M309.7 235.0L311.7 231.2L310.7 229.9L308.7 233.7Z" fill="#e4afaf"/>
<path d="M352.8 220.7L354.9 221.3L353.7 219.7L351.6 219.0Z" fill="#c95151"/>
<path d="M331.9 216.5L334.0 215.9L332.9 214.9L330.8 215.5Z" fill="#ca2f2f"/>
<path d="M326.5 216.9L328.6 216.2L327.5 214.9L325.3 215.6Z" fill="#ce3030"/>
<path d="M342.8 214.8L344.9 214.9L343.7 214.7L341.6 214.7Z" fill="#b52626"/>
<path d="M337.3 215.6L339.5 215.0L338.3 214.6L336.2 215.2Z" fill="#c02929"/>
<path d="M321.0 216.9L323.2 216.2L322.1 214.4L319.9 215.1Z" fill="#d22d2d"/>
<path d="M313.6 220.6L315.5 216.5L314.4 214.5L312.5 218.8Z" fill="#d23838"/>
<path d="M349.5 218.5L351.6 219.0L350.4 217.1L348.3 216.4Z" fill="#c93e3e"/>
<path d="M308.7 240.0L310.7 236.2L309.7 235.0L307.7 238.8Z" fill="#ebd7d7"/>
<path d="M315.5 216.5L317.7 215.8L316.6 213.7L314.4 214.5Z" fill="#d32525"/>
<path d="M312.6 226.1L314.6 222.2L313.6 220.6L311.6 224.6Z" fill="#d86363"/>
<path d="M346.2 216.0L348.3 216.4L347.1 215.3L344.9 214.9Z" fill="#bf2c2c"/>
<path d="M324.3 217.5L326.5 216.9L325.3 215.6L323.2 216.2Z" fill="#ce3030"/>
<path d="M329.7 217.2L331.9 216.5L330.8 215.5L328.6 216.2Z" fill="#ca3030"/>
<path d="M367.6 228.9L369.7 229.0L368.3 227.8L366.3 227.7Z" fill="#d28686"/>
<path d="M371.0 230.3L373.1 230.1L371.7 228.9L369.7 229.0Z" fill="#d79191"/>
<path d="M318.8 217.6L321.0 216.9L319.9 215.1L317.7 215.8Z" fill="#d22d2d"/>
<path d="M364.2 227.3L366.3 227.7L365.0 226.5L362.9 226.1Z" fill="#cd7a7a"/>
<path d="M311.7 231.2L313.7 227.3L312.6 226.1L310.7 229.9Z" fill="#dd8989"/>
<path d="M374.5 231.6L376.5 231.1L375.1 229.7L373.1 230.1Z" fill="#e09c9c"/>
<path d="M335.2 216.3L337.3 215.6L336.2 215.2L334.0 215.9Z" fill="#c02929"/>
<path d="M360.9 225.5L362.9 226.1L361.6 224.9L359.6 224.3Z" fill="#c96d6d"/>
<path d="M357.5 223.8L359.6 224.3L358.3 223.2L356.2 222.6Z" fill="#c65f5f"/>
<path d="M340.7 215.1L342.8 214.8L341.6 214.7L339.5 215.0Z" fill="#b72121"/>
<path d="M354.1 222.0L356.2 222.6L354.9 221.3L352.8 220.7Z" fill="#c65252"/>
<path d="M310.7 236.2L312.7 232.4L311.7 231.2L309.7 235.0Z" fill="#e3afaf"/>
<path d="M314.6 222.2L316.6 218.3L315.5 216.5L313.6 220.6Z" fill="#d23f3f"/>
<path d="M350.7 220.2L352.8 220.7L351.6 219.0L349.5 218.5Z" fill="#c84545"/>
<path d="M322.1 218.2L324.3 217.5L323.2 216.2L321.0 216.9Z" fill="#ce3030"/>
<path d="M316.6 218.3L318.8 217.6L317.7 215.8L315.5 216.5Z" fill="#d22e2e"/>
<path d="M327.6 217.9L329.7 217.2L328.6 216.2L326.5 216.9Z" fill="#ca3030"/>
<path d="M347.4 218.1L349.5 218.5L348.3 216.4L346.2 216.0Z" fill="#ca3333"/>
<path d="M333.0 217.0L335.2 216.3L334.0 215.9L331.9 216.5Z" fill="#c12929"/>
<path d="M344.0 215.9L346.2 216.0L344.9 214.9L342.8 214.8Z" fill="#c12424"/>
<path d="M309.7 241.3L311.7 237.4L310.7 236.2L308.7 240.0Z" fill="#ebd7d7"/>
<path d="M313.7 227.3L315.7 223.4L314.6 222.2L312.6 226.1Z" fill="#d76565"/>
<path d="M375.8 233.9L377.9 233.4L376.5 231.1L374.5 231.6Z" fill="#e9a9a9"/>
<path d="M338.5 215.7L340.7 215.1L339.5 215.0L337.3 215.6Z" fill="#b92020"/>
<path d="M372.4 231.8L374.5 231.6L373.1 230.1L371.0 230.3Z" fill="#db9595"/>
<path d="M369.0 230.1L371.0 230.3L369.7 229.0L367.6 228.9Z" fill="#d28686"/>
<path d="M319.9 218.9L322.1 218.2L321.0 216.9L318.8 217.6Z" fill="#ce3030"/>
<path d="M365.6 228.5L367.6 228.9L366.3 227.7L364.2 227.3Z" fill="#cd7a7a"/>
<path d="M325.4 218.5L327.6 217.9L326.5 216.9L324.3 217.5Z" fill="#ca3030"/>
<path d="M362.2 226.7L364.2 227.3L362.9 226.1L360.9 225.5Z" fill="#c96d6d"/>
<path d="M312.7 232.4L314.7 228.5L313.7 227.3L311.7 231.2Z" fill="#dc8989"/>
<path d="M330.8 217.7L333.0 217.0L331.9 216.5L329.7 217.2Z" fill="#c12a2a"/>
<path d="M358.8 224.9L360.9 225.5L359.6 224.3L357.5 223.8Z" fill="#c65f5f"/>
<path d="M355.4 223.2L357.5 223.8L356.2 222.6L354.1 222.0Z" fill="#c45353"/>
<path d="M352.0 221.5L354.1 222.0L352.8 220.7L350.7 220.2Z" fill="#c54747"/>
<path d="M377.1 236.2L379.2 235.6L377.9 233.4L375.8 233.9Z" fill="#ebb6b6"/>
<path d="M315.7 223.4L317.7 219.5L316.6 218.3L314.6 222.2Z" fill="#d14242"/>
<path d="M348.6 219.9L350.7 220.2L349.5 218.5L347.4 218.1Z" fill="#c93b3b"/>
<path d="M336.3 216.3L338.5 215.7L337.3 215.6L335.2 216.3Z" fill="#b92020"/>
<path d="M341.9 216.2L344.0 215.9L342.8 214.8L340.7 215.1Z" fill="#c51f1f"/>
<path d="M317.7 219.5L319.9 218.9L318.8 217.6L316.6 218.3Z" fill="#ce3030"/>
<path d="M311.7 237.4L313.7 233.5L312.7 232.4L310.7 236.2Z" fill="#e3aeae"/>
<path d="M345.2 218.1L347.4 218.1L346.2 216.0L344.0 215.9Z" fill="#cc2b2b"/>
<path d="M323.2 219.2L325.4 218.5L324.3 217.5L322.1 218.2Z" fill="#ca3030"/>
<path d="M373.7 234.2L375.8 233.9L374.5 231.6L372.4 231.8Z" fill="#e5a2a2"/>
<path d="M328.7 218.4L330.8 217.7L329.7 217.2L327.6 217.9Z" fill="#c22a2a"/>
<path d="M310.8 242.5L312.8 238.6L311.7 237.4L309.7 241.3Z" fill="#ead6d6"/>
<path d="M314.7 228.5L316.7 224.6L315.7 223.4L313.7 227.3Z" fill="#d66565"/>
<path d="M370.4 231.6L372.4 231.8L371.0 230.3L369.0 230.1Z" fill="#d68a8a"/>
<path d="M378.5 238.6L380.6 237.9L379.2 235.6L377.1 236.2Z" fill="#eec4c4"/>
<path d="M366.9 229.7L369.0 230.1L367.6 228.9L365.6 228.5Z" fill="#cd7a7a"/>
<path d="M334.2 217.0L336.3 216.3L335.2 216.3L333.0 217.0Z" fill="#ba2020"/>
<path d="M321.0 219.9L323.2 219.2L322.1 218.2L319.9 218.9Z" fill="#ca3030"/>
<path d="M363.5 227.9L365.6 228.5L364.2 227.3L362.2 226.7Z" fill="#c96d6d"/>
<path d="M339.7 216.8L341.9 216.2L340.7 215.1L338.5 215.7Z" fill="#c81d1d"/>
<path d="M375.1 236.6L377.1 236.2L375.8 233.9L373.7 234.2Z" fill="#e8b1b1"/>
<path d="M360.1 226.1L362.2 226.7L360.9 225.5L358.8 224.9Z" fill="#c65f5f"/>
<path d="M313.7 233.5L315.7 229.5L314.7 228.5L312.7 232.4Z" fill="#db8787"/>
<path d="M326.5 219.1L328.7 218.4L327.6 217.9L325.4 218.5Z" fill="#c22a2a"/>
<path d="M356.7 224.4L358.8 224.9L357.5 223.8L355.4 223.2Z" fill="#c45353"/>
<path d="M346.5 219.9L348.6 219.9L347.4 218.1L345.2 218.1Z" fill="#cc3333"/>
<path d="M349.9 221.2L352.0 221.5L350.7 220.2L348.6 219.9Z" fill="#c53d3d"/>
<path d="M353.3 222.7L355.4 223.2L354.1 222.0L352.0 221.5Z" fill="#c44747"/>
<path d="M343.1 218.4L345.2 218.1L344.0 215.9L341.9 216.2Z" fill="#cf2626"/>
<path d="M379.9 240.9L381.9 240.2L380.6 237.9L378.5 238.6Z" fill="#f1d1d1"/>
<path d="M316.7 224.6L318.8 220.6L317.7 219.5L315.7 223.4Z" fill="#cf4242"/>
<path d="M371.7 234.2L373.7 234.2L372.4 231.8L370.4 231.6Z" fill="#e19999"/>
<path d="M332.0 217.8L334.2 217.0L333.0 217.0L330.8 217.7Z" fill="#ba2020"/>
<path d="M318.8 220.6L321.0 219.9L319.9 218.9L317.7 219.5Z" fill="#cb3030"/>
<path d="M312.8 238.6L314.8 234.6L313.7 233.5L311.7 237.4Z" fill="#e2acac"/>
<path d="M376.4 239.0L378.5 238.6L377.1 236.2L375.1 236.6Z" fill="#ecbfbf"/>
<path d="M337.5 217.5L339.7 216.8L338.5 215.7L336.3 216.3Z" fill="#c81d1d"/>
<path d="M324.3 219.9L326.5 219.1L325.4 218.5L323.2 219.2Z" fill="#c32b2b"/>
<path d="M311.8 243.8L313.8 239.9L312.8 238.6L310.8 242.5Z" fill="#ead6d6"/>
<path d="M368.3 231.3L370.4 231.6L369.0 230.1L366.9 229.7Z" fill="#d27e7e"/>
<path d="M381.2 243.3L383.3 242.5L381.9 240.2L379.9 240.9Z" fill="#f4e0e0"/>
<path d="M315.7 229.5L317.8 225.5L316.7 224.6L314.7 228.5Z" fill="#d46262"/>
<path d="M340.9 219.1L343.1 218.4L341.9 216.2L339.7 216.8Z" fill="#d22424"/>
<path d="M373.0 236.8L375.1 236.6L373.7 234.2L371.7 234.2Z" fill="#e5a9a9"/>
<path d="M364.9 229.2L366.9 229.7L365.6 228.5L363.5 227.9Z" fill="#c96d6d"/>
<path d="M329.8 218.6L332.0 217.8L330.8 217.7L328.7 218.4Z" fill="#bb2121"/>
<path d="M344.3 220.3L346.5 219.9L345.2 218.1L343.1 218.4Z" fill="#cf2e2e"/>
<path d="M377.8 241.5L379.9 240.9L378.5 238.6L376.4 239.0Z" fill="#efcece"/>
<path d="M361.4 227.4L363.5 227.9L362.2 226.7L360.1 226.1Z" fill="#c65f5f"/>
<path d="M347.7 221.3L349.9 221.2L348.6 219.9L346.5 219.9Z" fill="#c73636"/>
<path d="M322.0 220.6L324.3 219.9L323.2 219.2L321.0 219.9Z" fill="#c42b2b"/>
<path d="M335.3 218.2L337.5 217.5L336.3 216.3L334.2 217.0Z" fill="#c91d1d"/>
<path d="M358.0 225.6L360.1 226.1L358.8 224.9L356.7 224.4Z" fill="#c45353"/>
<path d="M351.1 222.4L353.3 222.7L352.0 221.5L349.9 221.2Z" fill="#c43d3d"/>
<path d="M354.6 223.9L356.7 224.4L355.4 223.2L353.3 222.7Z" fill="#c44747"/>
<path d="M314.8 234.6L316.8 230.5L315.7 229.5L313.7 233.5Z" fill="#da8585"/>
<path d="M382.6 245.6L384.7 244.9L383.3 242.5L381.2 243.3Z" fill="#f7f0f0"/>
<path d="M374.3 239.3L376.4 239.0L375.1 236.6L373.0 236.8Z" fill="#e9b9b9"/>
<path d="M369.6 234.0L371.7 234.2L370.4 231.6L368.3 231.3Z" fill="#dd8e8e"/>
<path d="M338.7 219.7L340.9 219.1L339.7 216.8L337.5 217.5Z" fill="#d22424"/>
<path d="M327.6 219.4L329.8 218.6L328.7 218.4L326.5 219.1Z" fill="#bc2222"/>
<path d="M317.8 225.5L319.8 221.4L318.8 220.6L316.7 224.6Z" fill="#cc3f3f"/>
<path d="M379.1 243.9L381.2 243.3L379.9 240.9L377.8 241.5Z" fill="#f3dede"/>
<path d="M313.8 239.9L315.8 235.8L314.8 234.6L312.8 238.6Z" fill="#e3acac"/>
<path d="M342.1 220.9L344.3 220.3L343.1 218.4L340.9 219.1Z" fill="#d22d2d"/>
<path d="M319.8 221.4L322.0 220.6L321.0 219.9L318.8 220.6Z" fill="#c52c2c"/>
<path d="M333.1 219.0L335.3 218.2L334.2 217.0L332.0 217.8Z" fill="#c91d1d"/>
<path d="M312.8 245.1L314.9 241.2L313.8 239.9L311.8 243.8Z" fill="#ebd7d7"/>
<path d="M366.2 230.8L368.3 231.3L366.9 229.7L364.9 229.2Z" fill="#ce7171"/>
<path d="M370.9 236.8L373.0 236.8L371.7 234.2L369.6 234.0Z" fill="#e29f9f"/>
<path d="M375.7 241.9L377.8 241.5L376.4 239.0L374.3 239.3Z" fill="#eecaca"/>
<path d="M345.5 221.6L347.7 221.3L346.5 219.9L344.3 220.3Z" fill="#cb3232"/>
<path d="M325.4 220.2L327.6 219.4L326.5 219.1L324.3 219.9Z" fill="#be2323"/>
<path d="M336.5 220.4L338.7 219.7L337.5 217.5L335.3 218.2Z" fill="#d22424"/>
<path d="M316.8 230.5L318.8 226.2L317.8 225.5L315.7 229.5Z" fill="#d25f5f"/>
<path d="M380.5 246.4L382.6 245.6L381.2 243.3L379.1 243.9Z" fill="#f7efef"/>
<path d="M362.8 228.6L364.9 229.2L363.5 227.9L361.4 227.4Z" fill="#c65f5f"/>
<path d="M349.0 222.5L351.1 222.4L349.9 221.2L347.7 221.3Z" fill="#c63636"/>
<path d="M359.3 226.8L361.4 227.4L360.1 226.1L358.0 225.6Z" fill="#c45353"/>
<path d="M330.9 219.7L333.1 219.0L332.0 217.8L329.8 218.6Z" fill="#c91e1e"/>
<path d="M339.9 221.6L342.1 220.9L340.9 219.1L338.7 219.7Z" fill="#d22d2d"/>
<path d="M352.4 223.6L354.6 223.9L353.3 222.7L351.1 222.4Z" fill="#c43d3d"/>
<path d="M355.9 225.1L358.0 225.6L356.7 224.4L354.6 223.9Z" fill="#c44747"/>
<path d="M372.2 239.6L374.3 239.3L373.0 236.8L370.9 236.8Z" fill="#e7b2b2"/>
<path d="M377.0 244.5L379.1 243.9L377.8 241.5L375.7 241.9Z" fill="#f2dbdb"/>
<path d="M315.8 235.8L317.9 231.7L316.8 230.5L314.8 234.6Z" fill="#db8484"/>
<path d="M323.1 221.0L325.4 220.2L324.3 219.9L322.0 220.6Z" fill="#bf2424"/>
<path d="M367.5 233.8L369.6 234.0L368.3 231.3L366.2 230.8Z" fill="#da8282"/>
<path d="M343.4 222.3L345.5 221.6L344.3 220.3L342.1 220.9Z" fill="#ce3131"/>
<path d="M334.3 221.2L336.5 220.4L335.3 218.2L333.1 219.0Z" fill="#d32424"/>
<path d="M314.9 241.2L316.9 237.3L315.8 235.8L313.8 239.9Z" fill="#e4aeae"/>
<path d="M373.6 242.3L375.7 241.9L374.3 239.3L372.2 239.6Z" fill="#edc4c4"/>
<path d="M328.7 220.5L330.9 219.7L329.8 218.6L327.6 219.4Z" fill="#ca2020"/>
<path d="M378.4 247.2L380.5 246.4L379.1 243.9L377.0 244.5Z" fill="#f7eeee"/>
<path d="M337.7 222.3L339.9 221.6L338.7 219.7L336.5 220.4Z" fill="#d22d2d"/>
<path d="M318.8 226.2L320.9 221.9L319.8 221.4L317.8 225.5Z" fill="#ca3939"/>
<path d="M368.8 236.7L370.9 236.8L369.6 234.0L367.5 233.8Z" fill="#e09595"/>
<path d="M313.9 246.4L315.9 242.6L314.9 241.2L312.8 245.1Z" fill="#ebd7d7"/>
<path d="M346.8 222.8L349.0 222.5L347.7 221.3L345.5 221.6Z" fill="#c93232"/>
<path d="M320.9 221.9L323.1 221.0L322.0 220.6L319.8 221.4Z" fill="#c12626"/>
<path d="M364.1 230.3L366.2 230.8L364.9 229.2L362.8 228.6Z" fill="#cc6464"/>
<path d="M374.9 245.1L377.0 244.5L375.7 241.9L373.6 242.3Z" fill="#f2d8d8"/>
<path d="M332.1 221.9L334.3 221.2L333.1 219.0L330.9 219.7Z" fill="#d32525"/>
<path d="M341.2 223.0L343.4 222.3L342.1 220.9L339.9 221.6Z" fill="#ce3131"/>
<path d="M350.3 223.7L352.4 223.6L351.1 222.4L349.0 222.5Z" fill="#c63636"/>
<path d="M360.7 228.0L362.8 228.6L361.4 227.4L359.3 226.8Z" fill="#c45353"/>
<path d="M317.9 231.7L319.9 227.4L318.8 226.2L316.8 230.5Z" fill="#d45e5e"/>
<path d="M326.5 221.4L328.7 220.5L327.6 219.4L325.4 220.2Z" fill="#ca2121"/>
<path d="M370.1 239.7L372.2 239.6L370.9 236.8L368.8 236.7Z" fill="#e6a9a9"/>
<path d="M353.7 224.9L355.9 225.1L354.6 223.9L352.4 223.6Z" fill="#c43d3d"/>
<path d="M357.2 226.3L359.3 226.8L358.0 225.6L355.9 225.1Z" fill="#c44747"/>
<path d="M335.5 223.0L337.7 222.3L336.5 220.4L334.3 221.2Z" fill="#d22d2d"/>
<path d="M316.9 237.3L319.0 233.2L317.9 231.7L315.8 235.8Z" fill="#dd8787"/>
<path d="M376.2 247.9L378.4 247.2L377.0 244.5L374.9 245.1Z" fill="#f7eded"/>
<path d="M365.4 233.5L367.5 233.8L366.2 230.8L364.1 230.3Z" fill="#d87676"/>
<path d="M344.6 223.5L346.8 222.8L345.5 221.6L343.4 222.3Z" fill="#cc3131"/>
<path d="M371.4 242.7L373.6 242.3L372.2 239.6L370.1 239.7Z" fill="#ebbebe"/>
<path d="M329.9 222.6L332.1 221.9L330.9 219.7L328.7 220.5Z" fill="#d32626"/>
<path d="M315.9 242.6L318.0 238.6L316.9 237.3L314.9 241.2Z" fill="#e4afaf"/>
<path d="M324.2 222.2L326.5 221.4L325.4 220.2L323.1 221.0Z" fill="#ca2222"/>
<path d="M339.0 223.7L341.2 223.0L339.9 221.6L337.7 222.3Z" fill="#ce3131"/>
<path d="M366.7 236.7L368.8 236.7L367.5 233.8L365.4 233.5Z" fill="#de8b8b"/>
<path d="M372.8 245.7L374.9 245.1L373.6 242.3L371.4 242.7Z" fill="#f1d4d4"/>
<path d="M333.3 223.7L335.5 223.0L334.3 221.2L332.1 221.9Z" fill="#d22d2d"/>
<path d="M348.1 224.0L350.3 223.7L349.0 222.5L346.8 222.8Z" fill="#c93232"/>
<path d="M314.9 247.8L317.0 243.9L315.9 242.6L313.9 246.4Z" fill="#ebd7d7"/>
<path d="M319.9 227.4L322.0 223.1L320.9 221.9L318.8 226.2Z" fill="#cd3838"/>
<path d="M362.0 229.8L364.1 230.3L362.8 228.6L360.7 228.0Z" fill="#cb5858"/>
<path d="M342.4 224.2L344.6 223.5L343.4 222.3L341.2 223.0Z" fill="#cc3131"/>
<path d="M322.0 223.1L324.2 222.2L323.1 221.0L320.9 221.9Z" fill="#cb2424"/>
<path d="M327.7 223.4L329.9 222.6L328.7 220.5L326.5 221.4Z" fill="#d32727"/>
<path d="M368.0 239.8L370.1 239.7L368.8 236.7L366.7 236.7Z" fill="#e4a1a1"/>
<path d="M351.5 224.9L353.7 224.9L352.4 223.6L350.3 223.7Z" fill="#c63636"/>
<path d="M374.1 248.7L376.2 247.9L374.9 245.1L372.8 245.7Z" fill="#f7ecec"/>
<path d="M319.0 233.2L321.1 229.1L319.9 227.4L317.9 231.7Z" fill="#d76161"/>
<path d="M358.5 227.6L360.7 228.0L359.3 226.8L357.2 226.3Z" fill="#c44747"/>
<path d="M355.0 226.1L357.2 226.3L355.9 225.1L353.7 224.9Z" fill="#c43d3d"/>
<path d="M336.7 224.4L339.0 223.7L337.7 222.3L335.5 223.0Z" fill="#ce3131"/>
<path d="M369.3 243.0L371.4 242.7L370.1 239.7L368.0 239.8Z" fill="#eab8b8"/>
<path d="M318.0 238.6L320.1 234.7L319.0 233.2L316.9 237.3Z" fill="#de8989"/>
<path d="M331.1 224.5L333.3 223.7L332.1 221.9L329.9 222.6Z" fill="#d22e2e"/>
<path d="M345.9 224.7L348.1 224.0L346.8 222.8L344.6 223.5Z" fill="#cc3131"/>
<path d="M363.3 233.2L365.4 233.5L364.1 230.3L362.0 229.8Z" fill="#d76a6a"/>
<path d="M325.4 224.2L327.7 223.4L326.5 221.4L324.2 222.2Z" fill="#d22828"/>
<path d="M370.6 246.3L372.8 245.7L371.4 242.7L369.3 243.0Z" fill="#f1d1d1"/>
<path d="M340.2 224.9L342.4 224.2L341.2 223.0L339.0 223.7Z" fill="#cc3131"/>
<path d="M317.0 243.9L319.1 240.0L318.0 238.6L315.9 242.6Z" fill="#e4afaf"/>
<path d="M334.5 225.1L336.7 224.4L335.5 223.0L333.3 223.7Z" fill="#ce3131"/>
<path d="M364.6 236.6L366.7 236.7L365.4 233.5L363.3 233.2Z" fill="#dd8181"/>
<path d="M371.9 249.5L374.1 248.7L372.8 245.7L370.6 246.3Z" fill="#f7ebeb"/>
<path d="M349.4 225.3L351.5 224.9L350.3 223.7L348.1 224.0Z" fill="#c93232"/>
<path d="M328.8 225.2L331.1 224.5L329.9 222.6L327.7 223.4Z" fill="#d22e2e"/>
<path d="M321.1 229.1L323.2 225.0L322.0 223.1L319.9 227.4Z" fill="#d13c3c"/>
<path d="M316.0 249.1L318.1 245.2L317.0 243.9L314.9 247.8Z" fill="#ebd7d7"/>
<path d="M365.9 240.0L368.0 239.8L366.7 236.7L364.6 236.6Z" fill="#e39999"/>
<path d="M323.2 225.0L325.4 224.2L324.2 222.2L322.0 223.1Z" fill="#d22929"/>
<path d="M359.9 229.4L362.0 229.8L360.7 228.0L358.5 227.6Z" fill="#ca4c4c"/>
<path d="M352.9 226.1L355.0 226.1L353.7 224.9L351.5 224.9Z" fill="#c63636"/>
<path d="M343.6 225.4L345.9 224.7L344.6 223.5L342.4 224.2Z" fill="#cc3131"/>
<path d="M320.1 234.7L322.2 230.7L321.1 229.1L319.0 233.2Z" fill="#d76464"/>
<path d="M356.4 227.3L358.5 227.6L357.2 226.3L355.0 226.1Z" fill="#c43d3d"/>
<path d="M367.2 243.4L369.3 243.0L368.0 239.8L365.9 240.0Z" fill="#eab2b2"/>
<path d="M338.0 225.6L340.2 224.9L339.0 223.7L336.7 224.4Z" fill="#cc3131"/>
<path d="M332.3 225.8L334.5 225.1L333.3 223.7L331.1 224.5Z" fill="#ce3131"/>
<path d="M368.5 246.8L370.6 246.3L369.3 243.0L367.2 243.4Z" fill="#f0cdcd"/>
<path d="M319.1 240.0L321.2 236.0L320.1 234.7L318.0 238.6Z" fill="#dd8989"/>
<path d="M326.6 225.9L328.8 225.2L327.7 223.4L325.4 224.2Z" fill="#d12e2e"/>
<path d="M347.1 226.0L349.4 225.3L348.1 224.0L345.9 224.7Z" fill="#cc3131"/>
<path d="M369.8 250.3L371.9 249.5L370.6 246.3L368.5 246.8Z" fill="#f7e9e9"/>
<path d="M361.1 233.0L363.3 233.2L362.0 229.8L359.9 229.4Z" fill="#d65f5f"/>
<path d="M341.4 226.2L343.6 225.4L342.4 224.2L340.2 224.9Z" fill="#cc3131"/>
<path d="M318.1 245.2L320.2 241.3L319.1 240.0L317.0 243.9Z" fill="#e4afaf"/>
<path d="M362.4 236.6L364.6 236.6L363.3 233.2L361.1 233.0Z" fill="#dc7878"/>
<path d="M335.7 226.4L338.0 225.6L336.7 224.4L334.5 225.1Z" fill="#cc3131"/>
<path d="M322.2 230.7L324.3 226.6L323.2 225.0L321.1 229.1Z" fill="#d24040"/>
<path d="M330.0 226.5L332.3 225.8L331.1 224.5L328.8 225.2Z" fill="#cd3131"/>
<path d="M350.6 226.5L352.9 226.1L351.5 224.9L349.4 225.3Z" fill="#c93232"/>
<path d="M363.7 240.2L365.9 240.0L364.6 236.6L362.4 236.6Z" fill="#e39292"/>
<path d="M324.3 226.6L326.6 225.9L325.4 224.2L323.2 225.0Z" fill="#d12f2f"/>
<path d="M317.1 250.5L319.2 246.6L318.1 245.2L316.0 249.1Z" fill="#ebd7d7"/>
<path d="M365.0 243.8L367.2 243.4L365.9 240.0L363.7 240.2Z" fill="#e9adad"/>
<path d="M357.7 229.2L359.9 229.4L358.5 227.6L356.4 227.3Z" fill="#cb4343"/>
<path d="M354.2 227.4L356.4 227.3L355.0 226.1L352.9 226.1Z" fill="#c63636"/>
<path d="M321.2 236.0L323.3 232.0L322.2 230.7L320.1 234.7Z" fill="#d76565"/>
<path d="M344.9 226.7L347.1 226.0L345.9 224.7L343.6 225.4Z" fill="#cc3131"/>
<path d="M366.3 247.4L368.5 246.8L367.2 243.4L365.0 243.8Z" fill="#f0c9c9"/>
<path d="M367.6 251.1L369.8 250.3L368.5 246.8L366.3 247.4Z" fill="#f6e8e8"/>
<path d="M339.2 226.9L341.4 226.2L340.2 224.9L338.0 225.6Z" fill="#cc3131"/>
<path d="M333.5 227.1L335.7 226.4L334.5 225.1L332.3 225.8Z" fill="#cc3131"/>
<path d="M327.7 227.3L330.0 226.5L328.8 225.2L326.6 225.9Z" fill="#cd3131"/>
<path d="M320.2 241.3L322.3 237.3L321.2 236.0L319.1 240.0Z" fill="#dd8989"/>
<path d="M359.0 233.0L361.1 233.0L359.9 229.4L357.7 229.2Z" fill="#d65555"/>
<path d="M348.4 227.2L350.6 226.5L349.4 225.3L347.1 226.0Z" fill="#cc3131"/>
<path d="M360.3 236.7L362.4 236.6L361.1 233.0L359.0 233.0Z" fill="#dc7070"/>
<path d="M342.7 227.4L344.9 226.7L343.6 225.4L341.4 226.2Z" fill="#cc3131"/>
<path d="M319.2 246.6L321.3 242.6L320.2 241.3L318.1 245.2Z" fill="#e4afaf"/>
<path d="M361.5 240.5L363.7 240.2L362.4 236.6L360.3 236.7Z" fill="#e28c8c"/>
<path d="M323.3 232.0L325.5 228.0L324.3 226.6L322.2 230.7Z" fill="#d04242"/>
<path d="M336.9 227.6L339.2 226.9L338.0 225.6L335.7 226.4Z" fill="#cc3131"/>
<path d="M362.8 244.3L365.0 243.8L363.7 240.2L361.5 240.5Z" fill="#e9a8a8"/>
<path d="M331.2 227.8L333.5 227.1L332.3 225.8L330.0 226.5Z" fill="#cc3131"/>
<path d="M325.5 228.0L327.7 227.3L326.6 225.9L324.3 226.6Z" fill="#cd3131"/>
<path d="M364.1 248.1L366.3 247.4L365.0 243.8L362.8 244.3Z" fill="#efc6c6"/>
<path d="M365.4 251.8L367.6 251.1L366.3 247.4L364.1 248.1Z" fill="#f6e7e7"/>
<path d="M352.0 227.8L354.2 227.4L352.9 226.1L350.6 226.5Z" fill="#c93232"/>
<path d="M318.2 251.9L320.3 247.9L319.2 246.6L317.1 250.5Z" fill="#ebd7d7"/>
<path d="M355.5 229.3L357.7 229.2L356.4 227.3L354.2 227.4Z" fill="#cd3b3b"/>
<path d="M346.2 227.9L348.4 227.2L347.1 226.0L344.9 226.7Z" fill="#cc3131"/>
<path d="M322.3 237.3L324.5 233.3L323.3 232.0L321.2 236.0Z" fill="#d66565"/>
<path d="M340.4 228.1L342.7 227.4L341.4 226.2L339.2 226.9Z" fill="#cc3131"/>
<path d="M334.7 228.3L336.9 227.6L335.7 226.4L333.5 227.1Z" fill="#cc3131"/>
<path d="M328.9 228.5L331.2 227.8L330.0 226.5L327.7 227.3Z" fill="#cc3131"/>
<path d="M356.8 233.2L359.0 233.0L357.7 229.2L355.5 229.3Z" fill="#d74e4e"/>
<path d="M321.3 242.6L323.5 238.6L322.3 237.3L320.2 241.3Z" fill="#dd8989"/>
<path d="M358.1 237.1L360.3 236.7L359.0 233.0L356.8 233.2Z" fill="#dd6a6a"/>
<path d="M363.2 252.6L365.4 251.8L364.1 248.1L361.9 248.7Z" fill="#f6e6e6"/>
<path d="M359.3 240.9L361.5 240.5L360.3 236.7L358.1 237.1Z" fill="#e38787"/>
<path d="M349.7 228.5L352.0 227.8L350.6 226.5L348.4 227.2Z" fill="#cc3131"/>
<path d="M361.9 248.7L364.1 248.1L362.8 244.3L360.6 244.8Z" fill="#efc4c4"/>
<path d="M360.6 244.8L362.8 244.3L361.5 240.5L359.3 240.9Z" fill="#e9a5a5"/>
<path d="M343.9 228.7L346.2 227.9L344.9 226.7L342.7 227.4Z" fill="#cc3131"/>
<path d="M320.3 247.9L322.5 244.0L321.3 242.6L319.2 246.6Z" fill="#e4afaf"/>
<path d="M353.3 229.7L355.5 229.3L354.2 227.4L352.0 227.8Z" fill="#d13737"/>
<path d="M324.5 233.3L326.6 229.3L325.5 228.0L323.3 232.0Z" fill="#d04242"/>
<path d="M338.2 228.9L340.4 228.1L339.2 226.9L336.9 227.6Z" fill="#cc3131"/>
<path d="M332.4 229.1L334.7 228.3L333.5 227.1L331.2 227.8Z" fill="#cc3131"/>
<path d="M326.6 229.3L328.9 228.5L327.7 227.3L325.5 228.0Z" fill="#cc3131"/>
<path d="M319.3 253.3L321.5 249.3L320.3 247.9L318.2 251.9Z" fill="#ebd7d7"/>
<path d="M347.5 229.2L349.7 228.5L348.4 227.2L346.2 227.9Z" fill="#cc3131"/>
<path d="M361.0 253.4L363.2 252.6L361.9 248.7L359.7 249.5Z" fill="#f6e5e5"/>
<path d="M323.5 238.6L325.6 234.6L324.5 233.3L322.3 237.3Z" fill="#d66565"/>
<path d="M354.6 233.6L356.8 233.2L355.5 229.3L353.3 229.7Z" fill="#d84a4a"/>
<path d="M359.7 249.5L361.9 248.7L360.6 244.8L358.4 245.5Z" fill="#efc3c3"/>
<path d="M355.8 237.6L358.1 237.1L356.8 233.2L354.6 233.6Z" fill="#de6767"/>
<path d="M358.4 245.5L360.6 244.8L359.3 240.9L357.1 241.6Z" fill="#e9a3a3"/>
<path d="M357.1 241.6L359.3 240.9L358.1 237.1L355.8 237.6Z" fill="#e38585"/>
<path d="M341.7 229.4L343.9 228.7L342.7 227.4L340.4 228.1Z" fill="#cc3131"/>
<path d="M335.9 229.6L338.2 228.9L336.9 227.6L334.7 228.3Z" fill="#cc3131"/>
<path d="M330.1 229.8L332.4 229.1L331.2 227.8L328.9 228.5Z" fill="#cc3131"/>
<path d="M351.0 230.4L353.3 229.7L352.0 227.8L349.7 228.5Z" fill="#d33636"/>
<path d="M322.5 244.0L324.6 240.0L323.5 238.6L321.3 242.6Z" fill="#dd8989"/>
<path d="M345.2 229.9L347.5 229.2L346.2 227.9L343.9 228.7Z" fill="#cc3131"/>
<path d="M321.5 249.3L323.6 245.3L322.5 244.0L320.3 247.9Z" fill="#e4afaf"/>
<path d="M358.8 254.2L361.0 253.4L359.7 249.5L357.5 250.3Z" fill="#f6e5e5"/>
<path d="M352.3 234.4L354.6 233.6L353.3 229.7L351.0 230.4Z" fill="#da4949"/>
<path d="M357.5 250.3L359.7 249.5L358.4 245.5L356.2 246.3Z" fill="#f0c3c3"/>
<path d="M339.4 230.1L341.7 229.4L340.4 228.1L338.2 228.9Z" fill="#cc3131"/>
<path d="M325.6 234.6L327.8 230.5L326.6 229.3L324.5 233.3Z" fill="#d04242"/>
<path d="M353.6 238.4L355.8 237.6L354.6 233.6L352.3 234.4Z" fill="#df6666"/>
<path d="M356.2 246.3L358.4 245.5L357.1 241.6L354.9 242.3Z" fill="#eaa3a3"/>
<path d="M354.9 242.3L357.1 241.6L355.8 237.6L353.6 238.4Z" fill="#e48484"/>
<path d="M333.6 230.3L335.9 229.6L334.7 228.3L332.4 229.1Z" fill="#cc3131"/>
<path d="M327.8 230.5L330.1 229.8L328.9 228.5L326.6 229.3Z" fill="#cc3131"/>
<path d="M320.5 254.7L322.6 250.7L321.5 249.3L319.3 253.3Z" fill="#ebd7d7"/>
<path d="M348.8 231.2L351.0 230.4L349.7 228.5L347.5 229.2Z" fill="#d33636"/>
<path d="M324.6 240.0L326.8 235.9L325.6 234.6L323.5 238.6Z" fill="#d66565"/>
<path d="M343.0 230.7L345.2 229.9L343.9 228.7L341.7 229.4Z" fill="#cc3131"/>
<path d="M356.5 255.0L358.8 254.2L357.5 250.3L355.2 251.1Z" fill="#f6e5e5"/>
<path d="M337.1 230.9L339.4 230.1L338.2 228.9L335.9 229.6Z" fill="#cc3131"/>
<path d="M355.2 251.1L357.5 250.3L356.2 246.3L353.9 247.1Z" fill="#f0c3c3"/>
<path d="M350.1 235.1L352.3 234.4L351.0 230.4L348.8 231.2Z" fill="#da4949"/>
<path d="M331.3 231.1L333.6 230.3L332.4 229.1L330.1 229.8Z" fill="#cc3131"/>
<path d="M353.9 247.1L356.2 246.3L354.9 242.3L352.7 243.1Z" fill="#eaa3a3"/>
<path d="M351.4 239.1L353.6 238.4L352.3 234.4L350.1 235.1Z" fill="#df6666"/>
<path d="M352.7 243.1L354.9 242.3L353.6 238.4L351.4 239.1Z" fill="#e48484"/>
<path d="M323.6 245.3L325.8 241.3L324.6 240.0L322.5 244.0Z" fill="#dd8989"/>
<path d="M346.5 231.9L348.8 231.2L347.5 229.2L345.2 229.9Z" fill="#d33636"/>
<path d="M322.6 250.7L324.8 246.7L323.6 245.3L321.5 249.3Z" fill="#e4afaf"/>
<path d="M340.7 231.4L343.0 230.7L341.7 229.4L339.4 230.1Z" fill="#cc3131"/>
<path d="M326.8 235.9L329.0 231.8L327.8 230.5L325.6 234.6Z" fill="#d04242"/>
<path d="M334.8 231.6L337.1 230.9L335.9 229.6L333.6 230.3Z" fill="#cc3131"/>
<path d="M354.3 255.9L356.5 255.0L355.2 251.1L353.0 251.9Z" fill="#f6e5e5"/>
<path d="M329.0 231.8L331.3 231.1L330.1 229.8L327.8 230.5Z" fill="#cc3131"/>
<path d="M321.6 256.1L323.8 252.3L322.6 250.7L320.5 254.7Z" fill="#ecd8d8"/>
<path d="M353.0 251.9L355.2 251.1L353.9 247.1L351.7 247.9Z" fill="#f0c3c3"/>
<path d="M347.8 235.9L350.1 235.1L348.8 231.2L346.5 231.9Z" fill="#da4949"/>
<path d="M351.7 247.9L353.9 247.1L352.7 243.1L350.4 243.9Z" fill="#eaa3a3"/>
<path d="M349.1 239.9L351.4 239.1L350.1 235.1L347.8 235.9Z" fill="#df6666"/>
<path d="M350.4 243.9L352.7 243.1L351.4 239.1L349.1 239.9Z" fill="#e48484"/>
<path d="M344.2 232.7L346.5 231.9L345.2 229.9L343.0 230.7Z" fill="#d33636"/>
<path d="M325.8 241.3L328.0 237.2L326.8 235.9L324.6 240.0Z" fill="#d66565"/>
<path d="M338.4 232.2L340.7 231.4L339.4 230.1L337.1 230.9Z" fill="#cc3131"/>
<path d="M332.5 232.4L334.8 231.6L333.6 230.3L331.3 231.1Z" fill="#cc3131"/>
<path d="M352.0 256.7L354.3 255.9L353.0 251.9L350.7 252.7Z" fill="#f6e5e5"/>
<path d="M324.8 246.7L327.0 242.7L325.8 241.3L323.6 245.3Z" fill="#dd8989"/>
<path d="M350.7 252.7L353.0 251.9L351.7 247.9L349.4 248.7Z" fill="#f0c3c3"/>
<path d="M345.5 236.7L347.8 235.9L346.5 231.9L344.2 232.7Z" fill="#da4949"/>
<path d="M349.4 248.7L351.7 247.9L350.4 243.9L348.1 244.7Z" fill="#eaa3a3"/>
<path d="M346.8 240.7L349.1 239.9L347.8 235.9L345.5 236.7Z" fill="#df6666"/>
<path d="M348.1 244.7L350.4 243.9L349.1 239.9L346.8 240.7Z" fill="#e48484"/>
<path d="M323.8 252.3L326.0 248.4L324.8 246.7L322.6 250.7Z" fill="#e6b1b1"/>
<path d="M342.0 233.4L344.2 232.7L343.0 230.7L340.7 231.4Z" fill="#d33636"/>
<path d="M322.8 257.6L325.0 254.2L323.8 252.3L321.6 256.1Z" fill="#efdddd"/>
<path d="M328.0 237.2L330.2 233.1L329.0 231.8L326.8 235.9Z" fill="#d04242"/>
<path d="M336.1 232.9L338.4 232.2L337.1 230.9L334.8 231.6Z" fill="#cc3131"/>
<path d="M330.2 233.1L332.5 232.4L331.3 231.1L329.0 231.8Z" fill="#cc3131"/>
<path d="M349.8 257.5L352.0 256.7L350.7 252.7L348.4 253.5Z" fill="#f6e5e5"/>
<path d="M348.4 253.5L350.7 252.7L349.4 248.7L347.1 249.5Z" fill="#f0c3c3"/>
<path d="M343.3 237.4L345.5 236.7L344.2 232.7L342.0 233.4Z" fill="#da4949"/>
<path d="M347.1 249.5L349.4 248.7L348.1 244.7L345.8 245.4Z" fill="#eaa3a3"/>
<path d="M344.6 241.4L346.8 240.7L345.5 236.7L343.3 237.4Z" fill="#df6666"/>
<path d="M345.8 245.4L348.1 244.7L346.8 240.7L344.6 241.4Z" fill="#e48484"/>
<path d="M327.0 242.7L329.2 238.6L328.0 237.2L325.8 241.3Z" fill="#d66565"/>
<path d="M339.7 234.2L342.0 233.4L340.7 231.4L338.4 232.2Z" fill="#d33636"/>
<path d="M326.0 248.4L328.2 244.4L327.0 242.7L324.8 246.7Z" fill="#e08d8d"/>
<path d="M333.8 233.7L336.1 232.9L334.8 231.6L332.5 232.4Z" fill="#cc3131"/>
<path d="M325.0 254.2L327.2 250.8L326.0 248.4L323.8 252.3Z" fill="#ecbbbb"/>
<path d="M347.5 258.3L349.8 257.5L348.4 253.5L346.2 254.3Z" fill="#f6e5e5"/>
<path d="M346.2 254.3L348.4 253.5L347.1 249.5L344.9 250.3Z" fill="#f0c3c3"/>
<path d="M341.0 238.2L343.3 237.4L342.0 233.4L339.7 234.2Z" fill="#da4949"/>
<path d="M344.9 250.3L347.1 249.5L345.8 245.4L343.6 246.2Z" fill="#eaa3a3"/>
<path d="M342.3 242.2L344.6 241.4L343.3 237.4L341.0 238.2Z" fill="#df6666"/>
<path d="M343.6 246.2L345.8 245.4L344.6 241.4L342.3 242.2Z" fill="#e48484"/>
<path d="M323.9 259.0L326.2 256.2L325.0 254.2L322.8 257.6Z" fill="#f1e2e2"/>
<path d="M337.3 234.9L339.7 234.2L338.4 232.2L336.1 232.9Z" fill="#d33636"/>
<path d="M329.2 238.6L331.4 234.5L330.2 233.1L328.0 237.2Z" fill="#d04242"/>
<path d="M331.4 234.5L333.8 233.7L332.5 232.4L330.2 233.1Z" fill="#cc3131"/>
<path d="M327.2 250.8L329.4 247.4L328.2 244.4L326.0 248.4Z" fill="#e89b9b"/>
<path d="M328.2 244.4L330.4 240.5L329.2 238.6L327.0 242.7Z" fill="#da6a6a"/>
<path d="M345.2 259.2L347.5 258.3L346.2 254.3L343.9 255.1Z" fill="#f6e5e5"/>
<path d="M326.2 256.2L328.4 253.3L327.2 250.8L325.0 254.2Z" fill="#f0c7c7"/>
<path d="M343.9 255.1L346.2 254.3L344.9 250.3L342.6 251.1Z" fill="#f0c3c3"/>
<path d="M338.6 239.0L341.0 238.2L339.7 234.2L337.3 234.9Z" fill="#da4949"/>
<path d="M342.6 251.1L344.9 250.3L343.6 246.2L341.3 247.0Z" fill="#eaa3a3"/>
<path d="M339.9 243.0L342.3 242.2L341.0 238.2L338.6 239.0Z" fill="#df6666"/>
<path d="M341.3 247.0L343.6 246.2L342.3 242.2L339.9 243.0Z" fill="#e48484"/>
<path d="M335.0 235.7L337.3 234.9L336.1 232.9L333.8 233.7Z" fill="#d33636"/>
<path d="M328.4 253.3L330.7 250.4L329.4 247.4L327.2 250.8Z" fill="#edacac"/>
<path d="M325.1 260.5L327.4 258.1L326.2 256.2L323.9 259.0Z" fill="#f3e7e7"/>
<path d="M342.9 260.0L345.2 259.2L343.9 255.1L341.6 255.9Z" fill="#f6e5e5"/>
<path d="M329.4 247.4L331.7 244.0L330.4 240.5L328.2 244.4Z" fill="#e47a7a"/>
<path d="M341.6 255.9L343.9 255.1L342.6 251.1L340.2 251.9Z" fill="#f0c3c3"/>
<path d="M336.3 239.7L338.6 239.0L337.3 234.9L335.0 235.7Z" fill="#da4949"/>
<path d="M340.2 251.9L342.6 251.1L341.3 247.0L338.9 247.8Z" fill="#eaa3a3"/>
<path d="M337.6 243.8L339.9 243.0L338.6 239.0L336.3 239.7Z" fill="#df6666"/>
<path d="M330.4 240.5L332.7 236.5L331.4 234.5L329.2 238.6Z" fill="#d54747"/>
<path d="M338.9 247.8L341.3 247.0L339.9 243.0L337.6 243.8Z" fill="#e48484"/>
<path d="M332.7 236.5L335.0 235.7L333.8 233.7L331.4 234.5Z" fill="#d33636"/>
<path d="M327.4 258.1L329.7 255.8L328.4 253.3L326.2 256.2Z" fill="#f3d3d3"/>
<path d="M330.7 250.4L333.0 247.5L331.7 244.0L329.4 247.4Z" fill="#e99090"/>
<path d="M329.7 255.8L332.0 253.4L330.7 250.4L328.4 253.3Z" fill="#f2bdbd"/>
<path d="M340.5 260.8L342.9 260.0L341.6 255.9L339.2 256.8Z" fill="#f6e5e5"/>
<path d="M331.7 244.0L334.0 240.5L332.7 236.5L330.4 240.5Z" fill="#df5a5a"/>
<path d="M339.2 256.8L341.6 255.9L340.2 251.9L337.9 252.7Z" fill="#f0c3c3"/>
<path d="M334.0 240.5L336.3 239.7L335.0 235.7L332.7 236.5Z" fill="#da4949"/>
<path d="M332.0 253.4L334.3 251.0L333.0 247.5L330.7 250.4Z" fill="#efa7a7"/>
<path d="M337.9 252.7L340.2 251.9L338.9 247.8L336.6 248.6Z" fill="#eaa3a3"/>
<path d="M335.3 244.6L337.6 243.8L336.3 239.7L334.0 240.5Z" fill="#df6666"/>
<path d="M336.6 248.6L338.9 247.8L337.6 243.8L335.3 244.6Z" fill="#e48484"/>
<path d="M333.0 247.5L335.3 244.6L334.0 240.5L331.7 244.0Z" fill="#e57575"/>
<path d="M326.3 262.0L328.6 260.2L327.4 258.1L325.1 260.5Z" fill="#f5ecec"/>
<path d="M334.3 251.0L336.6 248.6L335.3 244.6L333.0 247.5Z" fill="#eb9191"/>
<path d="M328.6 260.2L331.0 258.3L329.7 255.8L327.4 258.1Z" fill="#f6dede"/>
<path d="M331.0 258.3L333.3 256.4L332.0 253.4L329.7 255.8Z" fill="#f6cfcf"/>
<path d="M335.6 254.6L337.9 252.7L336.6 248.6L334.3 251.0Z" fill="#f0aeae"/>
<path d="M333.3 256.4L335.6 254.6L334.3 251.0L332.0 253.4Z" fill="#f3bfbf"/>
<path d="M336.9 258.1L339.2 256.8L337.9 252.7L335.6 254.6Z" fill="#f5cbcb"/>
<path d="M338.2 261.7L340.5 260.8L339.2 256.8L336.9 258.1Z" fill="#f8e9e9"/>
<path d="M334.6 259.5L336.9 258.1L335.6 254.6L333.3 256.4Z" fill="#f7d6d6"/>
<path d="M332.2 260.8L334.6 259.5L333.3 256.4L331.0 258.3Z" fill="#f9e0e0"/>
<path d="M335.9 262.5L338.2 261.7L336.9 258.1L334.6 259.5Z" fill="#f9eded"/>
<path d="M329.9 262.2L332.2 260.8L331.0 258.3L328.6 260.2Z" fill="#f8e9e9"/>
<path d="M327.5 263.5L329.9 262.2L328.6 260.2L326.3 262.0Z" fill="#f5f0f0"/>
<path d="M333.5 263.4L335.9 262.5L334.6 259.5L332.2 260.8Z" fill="#faf1f1"/>
<path d="M331.1 264.2L333.5 263.4L332.2 260.8L329.9 262.2Z" fill="#f8f2f2"/>
<path d="M328.7 265.1L331.1 264.2L329.9 262.2L327.5 263.5Z" fill="#f4f2f2"/>
</g>
<text x="289.5" y="181.2" font-size="9.2" stroke="#000" stroke-width="0.22">SU-DHL-5</text>
<defs><linearGradient id="cb267" x1="0" y1="0" x2="0" y2="1"><stop offset="0" stop-color="#c23a50"/><stop offset="0.28" stop-color="#d46a7a"/><stop offset="0.5" stop-color="#ffffff"/><stop offset="0.72" stop-color="#b0e4b0"/><stop offset="1" stop-color="#40c040"/></linearGradient></defs>
<rect x="285.5" y="195.8" width="1.6" height="102" fill="url(#cb267)"/>
<text x="283.1" y="298.3" font-size="3" text-anchor="middle" fill="#444" transform="rotate(-90 283.1 298.3)" stroke="#444" stroke-width="0.07">−30</text>
<text x="283.1" y="281.22" font-size="3" text-anchor="middle" fill="#444" transform="rotate(-90 283.1 281.22)" stroke="#444" stroke-width="0.07">−20</text>
<text x="283.1" y="264.13" font-size="3" text-anchor="middle" fill="#444" transform="rotate(-90 283.1 264.13)" stroke="#444" stroke-width="0.07">−10</text>
<text x="283.1" y="247.05" font-size="3" text-anchor="middle" fill="#444" transform="rotate(-90 283.1 247.05)" stroke="#444" stroke-width="0.07">0</text>
<text x="283.1" y="229.97" font-size="3" text-anchor="middle" fill="#444" transform="rotate(-90 283.1 229.97)" stroke="#444" stroke-width="0.07">10</text>
<text x="283.1" y="212.88" font-size="3" text-anchor="middle" fill="#444" transform="rotate(-90 283.1 212.88)" stroke="#444" stroke-width="0.07">20</text>
<text x="283.1" y="195.8" font-size="3" text-anchor="middle" fill="#444" transform="rotate(-90 283.1 195.8)" stroke="#444" stroke-width="0.07">30</text>
<text x="278.1" y="247.6" font-size="5.7" text-anchor="middle" fill="#111" transform="rotate(-90 278.1 247.6)" stroke="#111" stroke-width="0.14">Average synergy: 16.2 (Bliss)</text>
<line x1="302.35" y1="255.26" x2="304.15" y2="255.26" stroke="#888" stroke-width="0.4"/>
<text x="301.85" y="256.46" font-size="3.3" text-anchor="end" fill="#222" stroke="#222" stroke-width="0.08">−30</text>
<line x1="301.66" y1="247.63" x2="303.46" y2="247.63" stroke="#888" stroke-width="0.4"/>
<text x="301.16" y="248.83" font-size="3.3" text-anchor="end" fill="#222" stroke="#222" stroke-width="0.08">−20</text>
<line x1="300.95" y1="239.73" x2="302.75" y2="239.73" stroke="#888" stroke-width="0.4"/>
<text x="300.45" y="240.93" font-size="3.3" text-anchor="end" fill="#222" stroke="#222" stroke-width="0.08">−10</text>
<line x1="300.21" y1="231.56" x2="302.01" y2="231.56" stroke="#888" stroke-width="0.4"/>
<text x="299.71" y="232.76" font-size="3.3" text-anchor="end" fill="#222" stroke="#222" stroke-width="0.08">0</text>
<line x1="299.44" y1="223.08" x2="301.24" y2="223.08" stroke="#888" stroke-width="0.4"/>
<text x="298.94" y="224.28" font-size="3.3" text-anchor="end" fill="#222" stroke="#222" stroke-width="0.08">10</text>
<line x1="298.65" y1="214.29" x2="300.45" y2="214.29" stroke="#888" stroke-width="0.4"/>
<text x="298.15" y="215.49" font-size="3.3" text-anchor="end" fill="#222" stroke="#222" stroke-width="0.08">20</text>
<line x1="297.83" y1="205.17" x2="299.63" y2="205.17" stroke="#888" stroke-width="0.4"/>
<text x="297.33" y="206.37" font-size="3.3" text-anchor="end" fill="#222" stroke="#222" stroke-width="0.08">30</text>
<text x="293.41" y="231.56" font-size="4.2" text-anchor="middle" fill="#222" transform="rotate(-90 293.41 231.56)" stroke="#222" stroke-width="0.1">Synergy score</text>
<text x="326.64" y="295.11" font-size="3" text-anchor="middle" fill="#222" stroke="#222" stroke-width="0.07">0</text>
<text x="322.55" y="289.48" font-size="3" text-anchor="middle" fill="#222" stroke="#222" stroke-width="0.07">1.562</text>
<text x="318.62" y="284.09" font-size="3" text-anchor="middle" fill="#222" stroke="#222" stroke-width="0.07">3.125</text>
<text x="314.85" y="278.9" font-size="3" text-anchor="middle" fill="#222" stroke="#222" stroke-width="0.07">6.25</text>
<text x="311.23" y="273.92" font-size="3" text-anchor="middle" fill="#222" stroke="#222" stroke-width="0.07">12.5</text>
<text x="307.74" y="269.12" font-size="3" text-anchor="middle" fill="#222" stroke="#222" stroke-width="0.07">25</text>
<text x="304.38" y="264.51" font-size="3" text-anchor="middle" fill="#222" stroke="#222" stroke-width="0.07">50</text>
<text x="301.15" y="260.06" font-size="3" text-anchor="middle" fill="#222" stroke="#222" stroke-width="0.07">100</text>
<text x="307.62" y="282.69" font-size="4.3" text-anchor="middle" fill="#222" transform="rotate(51 307.62 282.69)" stroke="#222" stroke-width="0.11">Lenalidomide (µmol/L)</text>
<text x="334.14" y="296.41" font-size="2.9" text-anchor="middle" fill="#222" stroke="#222" stroke-width="0.07">0</text>
<text x="341.7" y="293.3" font-size="2.9" text-anchor="middle" fill="#222" stroke="#222" stroke-width="0.07">0.312</text>
<text x="349.12" y="290.25" font-size="2.9" text-anchor="middle" fill="#222" stroke="#222" stroke-width="0.07">0.625</text>
<text x="356.4" y="287.25" font-size="2.9" text-anchor="middle" fill="#222" stroke="#222" stroke-width="0.07">1.25</text>
<text x="363.54" y="284.31" font-size="2.9" text-anchor="middle" fill="#222" stroke="#222" stroke-width="0.07">2.5</text>
<text x="370.55" y="281.42" font-size="2.9" text-anchor="middle" fill="#222" stroke="#222" stroke-width="0.07">5</text>
<text x="377.43" y="278.57" font-size="2.9" text-anchor="middle" fill="#222" stroke="#222" stroke-width="0.07">10</text>
<text x="384.19" y="275.78" font-size="2.9" text-anchor="middle" fill="#222" stroke="#222" stroke-width="0.07">20</text>
<text x="365.89" y="290.27" font-size="4.1" text-anchor="middle" fill="#222" transform="rotate(-22 365.89 290.27)" stroke="#222" stroke-width="0.1">Tazemetostat (µmol/L)</text>
<line x1="461.64" y1="290.31" x2="459.73" y2="236.53" stroke="#909090" stroke-width="0.6"/>
<line x1="461.64" y1="290.31" x2="436.15" y2="255.26" stroke="#909090" stroke-width="0.6"/>
<line x1="461.64" y1="290.31" x2="514.49" y2="269.68" stroke="#909090" stroke-width="0.6"/>
<line x1="459.73" y1="236.53" x2="431.63" y2="205.17" stroke="#909090" stroke-width="0.6"/>
<line x1="459.73" y1="236.53" x2="519.2" y2="217.02" stroke="#909090" stroke-width="0.6"/>
<line x1="436.15" y1="255.26" x2="431.63" y2="205.17" stroke="#909090" stroke-width="0.6"/>
<line x1="436.15" y1="255.26" x2="483.95" y2="238.99" stroke="#909090" stroke-width="0.6"/>
<line x1="431.63" y1="205.17" x2="484.78" y2="190.12" stroke="#909090" stroke-width="0.6"/>
<line x1="514.49" y1="269.68" x2="519.2" y2="217.02" stroke="#909090" stroke-width="0.6"/>
<line x1="514.49" y1="269.68" x2="483.95" y2="238.99" stroke="#909090" stroke-width="0.6"/>
<line x1="519.2" y1="217.02" x2="484.78" y2="190.12" stroke="#909090" stroke-width="0.6"/>
<line x1="483.95" y1="238.99" x2="484.78" y2="190.12" stroke="#909090" stroke-width="0.6"/>
<g stroke="#000" stroke-opacity="0.78" stroke-width="0.36">
<path d="M483.6 213.9L485.5 213.4L484.4 212.4L482.5 212.9Z" fill="#e2b2b2"/>
<path d="M481.7 214.1L483.6 213.9L482.5 212.9L480.6 213.0Z" fill="#dfacac"/>
<path d="M484.8 215.0L486.7 214.4L485.5 213.4L483.6 213.9Z" fill="#e3b3b3"/>
<path d="M479.7 214.1L481.7 214.1L480.6 213.0L478.6 213.0Z" fill="#dba3a3"/>
<path d="M482.8 215.2L484.8 215.0L483.6 213.9L481.7 214.1Z" fill="#dfadad"/>
<path d="M485.9 216.0L487.9 215.5L486.7 214.4L484.8 215.0Z" fill="#e3b3b3"/>
<path d="M477.8 214.0L479.7 214.1L478.6 213.0L476.7 212.8Z" fill="#d79797"/>
<path d="M480.9 215.3L482.8 215.2L481.7 214.1L479.7 214.1Z" fill="#dca5a5"/>
<path d="M484.0 216.3L485.9 216.0L484.8 215.0L482.8 215.2Z" fill="#e0aeae"/>
<path d="M487.1 217.1L489.0 216.5L487.9 215.5L485.9 216.0Z" fill="#e3b3b3"/>
<path d="M475.8 213.7L477.8 214.0L476.7 212.8L474.7 212.4Z" fill="#d38a8a"/>
<path d="M478.9 215.2L480.9 215.3L479.7 214.1L477.8 214.0Z" fill="#d89a9a"/>
<path d="M482.0 216.5L484.0 216.3L482.8 215.2L480.9 215.3Z" fill="#dca6a6"/>
<path d="M485.1 217.4L487.1 217.1L485.9 216.0L484.0 216.3Z" fill="#e0aeae"/>
<path d="M488.3 218.1L490.2 217.5L489.0 216.5L487.1 217.1Z" fill="#e2b2b2"/>
<path d="M473.8 213.2L475.8 213.7L474.7 212.4L472.7 212.0Z" fill="#d07c7c"/>
<path d="M476.9 214.9L478.9 215.2L477.8 214.0L475.8 213.7Z" fill="#d58d8d"/>
<path d="M480.1 216.4L482.0 216.5L480.9 215.3L478.9 215.2Z" fill="#d99c9c"/>
<path d="M483.2 217.6L485.1 217.4L484.0 216.3L482.0 216.5Z" fill="#dca7a7"/>
<path d="M486.3 218.4L488.3 218.1L487.1 217.1L485.1 217.4Z" fill="#dfaeae"/>
<path d="M489.5 219.1L491.5 218.5L490.2 217.5L488.3 218.1Z" fill="#e1b1b1"/>
<path d="M471.8 212.7L473.8 213.2L472.7 212.0L470.7 211.5Z" fill="#cd6e6e"/>
<path d="M475.0 214.5L476.9 214.9L475.8 213.7L473.8 213.2Z" fill="#d17f7f"/>
<path d="M478.1 216.2L480.1 216.4L478.9 215.2L476.9 214.9Z" fill="#d59090"/>
<path d="M481.2 217.5L483.2 217.6L482.0 216.5L480.1 216.4Z" fill="#d99d9d"/>
<path d="M484.4 218.6L486.3 218.4L485.1 217.4L483.2 217.6Z" fill="#dba6a6"/>
<path d="M487.5 219.4L489.5 219.1L488.3 218.1L486.3 218.4Z" fill="#deacac"/>
<path d="M469.8 212.2L471.8 212.7L470.7 211.5L468.7 211.0Z" fill="#ca5f5f"/>
<path d="M472.9 214.0L475.0 214.5L473.8 213.2L471.8 212.7Z" fill="#cd7171"/>
<path d="M476.1 215.8L478.1 216.2L476.9 214.9L475.0 214.5Z" fill="#d18282"/>
<path d="M490.7 220.0L492.7 219.5L491.5 218.5L489.5 219.1Z" fill="#e1afaf"/>
<path d="M479.2 217.3L481.2 217.5L480.1 216.4L478.1 216.2Z" fill="#d59191"/>
<path d="M482.4 218.6L484.4 218.6L483.2 217.6L481.2 217.5Z" fill="#d89d9d"/>
<path d="M485.5 219.5L487.5 219.4L486.3 218.4L484.4 218.6Z" fill="#daa4a4"/>
<path d="M488.7 220.3L490.7 220.0L489.5 219.1L487.5 219.4Z" fill="#dca9a9"/>
<path d="M467.8 211.8L469.8 212.2L468.7 211.0L466.7 210.7Z" fill="#c85252"/>
<path d="M470.9 213.5L472.9 214.0L471.8 212.7L469.8 212.2Z" fill="#ca6262"/>
<path d="M474.1 215.3L476.1 215.8L475.0 214.5L472.9 214.0Z" fill="#cd7373"/>
<path d="M477.2 216.9L479.2 217.3L478.1 216.2L476.1 215.8Z" fill="#d08383"/>
<path d="M491.9 221.0L493.9 220.4L492.7 219.5L490.7 220.0Z" fill="#e0adad"/>
<path d="M480.4 218.4L482.4 218.6L481.2 217.5L479.2 217.3Z" fill="#d39191"/>
<path d="M483.6 219.5L485.5 219.5L484.4 218.6L482.4 218.6Z" fill="#d59a9a"/>
<path d="M486.8 220.4L488.7 220.3L487.5 219.4L485.5 219.5Z" fill="#d8a0a0"/>
<path d="M490.0 221.2L491.9 221.0L490.7 220.0L488.7 220.3Z" fill="#dba6a6"/>
<path d="M465.7 211.6L467.8 211.8L466.7 210.7L464.6 210.5Z" fill="#c84747"/>
<path d="M468.9 213.0L470.9 213.5L469.8 212.2L467.8 211.8Z" fill="#c85454"/>
<path d="M472.0 214.7L474.1 215.3L472.9 214.0L470.9 213.5Z" fill="#c96363"/>
<path d="M475.2 216.4L477.2 216.9L476.1 215.8L474.1 215.3Z" fill="#cc7474"/>
<path d="M478.4 218.0L480.4 218.4L479.2 217.3L477.2 216.9Z" fill="#ce8282"/>
<path d="M493.2 221.9L495.2 221.4L493.9 220.4L491.9 221.0Z" fill="#dfabab"/>
<path d="M481.6 219.2L483.6 219.5L482.4 218.6L480.4 218.4Z" fill="#d18d8d"/>
<path d="M484.8 220.3L486.8 220.4L485.5 219.5L483.6 219.5Z" fill="#d39595"/>
<path d="M488.0 221.2L490.0 221.2L488.7 220.3L486.8 220.4Z" fill="#d69c9c"/>
<path d="M463.6 211.6L465.7 211.6L464.6 210.5L462.6 210.5Z" fill="#c94040"/>
<path d="M466.8 212.7L468.9 213.0L467.8 211.8L465.7 211.6Z" fill="#c74848"/>
<path d="M491.2 222.1L493.2 221.9L491.9 221.0L490.0 221.2Z" fill="#daa3a3"/>
<path d="M470.0 214.1L472.0 214.7L470.9 213.5L468.9 213.0Z" fill="#c75555"/>
<path d="M473.2 215.8L475.2 216.4L474.1 215.3L472.0 214.7Z" fill="#c86464"/>
<path d="M476.4 217.4L478.4 218.0L477.2 216.9L475.2 216.4Z" fill="#c97373"/>
<path d="M479.6 218.8L481.6 219.2L480.4 218.4L478.4 218.0Z" fill="#cb7f7f"/>
<path d="M494.4 222.9L496.4 222.4L495.2 221.4L493.2 221.9Z" fill="#dfa9a9"/>
<path d="M482.8 220.0L484.8 220.3L483.6 219.5L481.6 219.2Z" fill="#cd8888"/>
<path d="M461.6 212.0L463.6 211.6L462.6 210.5L460.5 210.9Z" fill="#cc3b3b"/>
<path d="M486.0 221.0L488.0 221.2L486.8 220.4L484.8 220.3Z" fill="#d09090"/>
<path d="M464.7 212.7L466.8 212.7L465.7 211.6L463.6 211.6Z" fill="#c84040"/>
<path d="M489.2 222.1L491.2 222.1L490.0 221.2L488.0 221.2Z" fill="#d49999"/>
<path d="M459.5 212.5L461.6 212.0L460.5 210.9L458.4 211.5Z" fill="#cd3a3a"/>
<path d="M467.9 213.7L470.0 214.1L468.9 213.0L466.8 212.7Z" fill="#c64848"/>
<path d="M492.4 223.1L494.4 222.9L493.2 221.9L491.2 222.1Z" fill="#d9a1a1"/>
<path d="M471.1 215.2L473.2 215.8L472.0 214.7L470.0 214.1Z" fill="#c55555"/>
<path d="M474.3 216.7L476.4 217.4L475.2 216.4L473.2 215.8Z" fill="#c56363"/>
<path d="M477.5 218.2L479.6 218.8L478.4 218.0L476.4 217.4Z" fill="#c66f6f"/>
<path d="M495.7 224.0L497.7 223.5L496.4 222.4L494.4 222.9Z" fill="#dea7a7"/>
<path d="M480.7 219.5L482.8 220.0L481.6 219.2L479.6 218.8Z" fill="#c87a7a"/>
<path d="M462.7 213.0L464.7 212.7L463.6 211.6L461.6 212.0Z" fill="#cb3b3b"/>
<path d="M457.4 213.1L459.5 212.5L458.4 211.5L456.4 212.1Z" fill="#cd3a3a"/>
<path d="M484.0 220.7L486.0 221.0L484.8 220.3L482.8 220.0Z" fill="#cb8383"/>
<path d="M487.2 221.8L489.2 222.1L488.0 221.2L486.0 221.0Z" fill="#cf8c8c"/>
<path d="M465.8 213.7L467.9 213.7L466.8 212.7L464.7 212.7Z" fill="#c73f3f"/>
<path d="M490.4 223.0L492.4 223.1L491.2 222.1L489.2 222.1Z" fill="#d39595"/>
<path d="M455.3 213.8L457.4 213.1L456.4 212.1L454.3 212.7Z" fill="#cd3a3a"/>
<path d="M493.7 224.1L495.7 224.0L494.4 222.9L492.4 223.1Z" fill="#d99f9f"/>
<path d="M469.0 214.7L471.1 215.2L470.0 214.1L467.9 213.7Z" fill="#c44848"/>
<path d="M460.6 213.5L462.7 213.0L461.6 212.0L459.5 212.5Z" fill="#cc3939"/>
<path d="M472.3 216.1L474.3 216.7L473.2 215.8L471.1 215.2Z" fill="#c35353"/>
<path d="M475.5 217.6L477.5 218.2L476.4 217.4L474.3 216.7Z" fill="#c35f5f"/>
<path d="M497.0 225.0L499.0 224.6L497.7 223.5L495.7 224.0Z" fill="#dea6a6"/>
<path d="M478.7 218.9L480.7 219.5L479.6 218.8L477.5 218.2Z" fill="#c46a6a"/>
<path d="M481.9 220.2L484.0 220.7L482.8 220.0L480.7 219.5Z" fill="#c67474"/>
<path d="M453.2 214.4L455.3 213.8L454.3 212.7L452.2 213.3Z" fill="#cd3939"/>
<path d="M463.7 214.0L465.8 213.7L464.7 212.7L462.7 213.0Z" fill="#c93a3a"/>
<path d="M434.9 232.7L436.9 230.1L436.0 228.9L434.0 231.6Z" fill="#efe0e0"/>
<path d="M458.5 214.1L460.6 213.5L459.5 212.5L457.4 213.1Z" fill="#cc3939"/>
<path d="M485.2 221.4L487.2 221.8L486.0 221.0L484.0 220.7Z" fill="#c97d7d"/>
<path d="M488.4 222.6L490.4 223.0L489.2 222.1L487.2 221.8Z" fill="#ce8888"/>
<path d="M436.9 230.1L438.9 227.5L437.9 226.3L436.0 228.9Z" fill="#e9c0c0"/>
<path d="M466.9 214.6L469.0 214.7L467.9 213.7L465.8 213.7Z" fill="#c53e3e"/>
<path d="M491.7 223.9L493.7 224.1L492.4 223.1L490.4 223.0Z" fill="#d39393"/>
<path d="M451.1 215.0L453.2 214.4L452.2 213.3L450.1 214.0Z" fill="#cd3939"/>
<path d="M495.0 225.1L497.0 225.0L495.7 224.0L493.7 224.1Z" fill="#d99e9e"/>
<path d="M470.2 215.7L472.3 216.1L471.1 215.2L469.0 214.7Z" fill="#c24646"/>
<path d="M456.4 214.7L458.5 214.1L457.4 213.1L455.3 213.8Z" fill="#cc3939"/>
<path d="M461.7 214.5L463.7 214.0L462.7 213.0L460.6 213.5Z" fill="#cb3838"/>
<path d="M438.9 227.5L440.9 224.8L439.9 223.7L437.9 226.3Z" fill="#e4a2a2"/>
<path d="M498.3 226.1L500.3 225.7L499.0 224.6L497.0 225.0Z" fill="#dea6a6"/>
<path d="M473.4 216.9L475.5 217.6L474.3 216.7L472.3 216.1Z" fill="#c05050"/>
<path d="M476.6 218.3L478.7 218.9L477.5 218.2L475.5 217.6Z" fill="#c05a5a"/>
<path d="M440.9 224.8L442.9 222.1L441.9 221.1L439.9 223.7Z" fill="#df8585"/>
<path d="M479.9 219.6L481.9 220.2L480.7 219.5L478.7 218.9Z" fill="#c16464"/>
<path d="M449.0 215.7L451.1 215.0L450.1 214.0L448.0 214.6Z" fill="#cd3939"/>
<path d="M435.9 233.9L437.9 231.2L436.9 230.1L434.9 232.7Z" fill="#efdfdf"/>
<path d="M464.8 214.9L466.9 214.6L465.8 213.7L463.7 214.0Z" fill="#c83838"/>
<path d="M454.3 215.4L456.4 214.7L455.3 213.8L453.2 214.4Z" fill="#cc3838"/>
<path d="M483.2 220.8L485.2 221.4L484.0 220.7L481.9 220.2Z" fill="#c46e6e"/>
<path d="M459.6 215.1L461.7 214.5L460.6 213.5L458.5 214.1Z" fill="#cb3737"/>
<path d="M442.9 222.1L444.9 219.5L443.9 218.4L441.9 221.1Z" fill="#da6a6a"/>
<path d="M486.4 222.2L488.4 222.6L487.2 221.8L485.2 221.4Z" fill="#c87979"/>
<path d="M489.7 223.6L491.7 223.9L490.4 223.0L488.4 222.6Z" fill="#cd8585"/>
<path d="M446.9 216.8L449.0 215.7L448.0 214.6L445.9 215.7Z" fill="#d13e3e"/>
<path d="M493.0 224.9L495.0 225.1L493.7 224.1L491.7 223.9Z" fill="#d39191"/>
<path d="M444.9 219.5L446.9 216.8L445.9 215.7L443.9 218.4Z" fill="#d54e4e"/>
<path d="M437.9 231.2L439.9 228.6L438.9 227.5L436.9 230.1Z" fill="#e9bfbf"/>
<path d="M468.1 215.5L470.2 215.7L469.0 214.7L466.9 214.6Z" fill="#c33c3c"/>
<path d="M496.3 226.2L498.3 226.1L497.0 225.0L495.0 225.1Z" fill="#d99d9d"/>
<path d="M452.1 216.0L454.3 215.4L453.2 214.4L451.1 215.0Z" fill="#cc3838"/>
<path d="M499.6 227.3L501.6 226.8L500.3 225.7L498.3 226.1Z" fill="#dfa5a5"/>
<path d="M457.4 215.7L459.6 215.1L458.5 214.1L456.4 214.7Z" fill="#cb3737"/>
<path d="M471.3 216.5L473.4 216.9L472.3 216.1L470.2 215.7Z" fill="#c04343"/>
<path d="M462.7 215.4L464.8 214.9L463.7 214.0L461.7 214.5Z" fill="#ca3636"/>
<path d="M439.9 228.6L441.9 225.9L440.9 224.8L438.9 227.5Z" fill="#e3a1a1"/>
<path d="M474.6 217.7L476.6 218.3L475.5 217.6L473.4 216.9Z" fill="#be4b4b"/>
<path d="M441.9 225.9L443.9 223.2L442.9 222.1L440.9 224.8Z" fill="#de8585"/>
<path d="M477.8 218.9L479.9 219.6L478.7 218.9L476.6 218.3Z" fill="#be5555"/>
<path d="M450.0 216.7L452.1 216.0L451.1 215.0L449.0 215.7Z" fill="#cc3838"/>
<path d="M481.1 220.2L483.2 220.8L481.9 220.2L479.9 219.6Z" fill="#c05f5f"/>
<path d="M436.8 235.1L438.8 232.4L437.9 231.2L435.9 233.9Z" fill="#efdfdf"/>
<path d="M466.0 215.8L468.1 215.5L466.9 214.6L464.8 214.9Z" fill="#c63636"/>
<path d="M455.3 216.3L457.4 215.7L456.4 214.7L454.3 215.4Z" fill="#cb3737"/>
<path d="M484.4 221.6L486.4 222.2L485.2 221.4L483.2 220.8Z" fill="#c46969"/>
<path d="M443.9 223.2L445.9 220.5L444.9 219.5L442.9 222.1Z" fill="#d96969"/>
<path d="M460.6 216.0L462.7 215.4L461.7 214.5L459.6 215.1Z" fill="#ca3535"/>
<path d="M487.7 223.0L489.7 223.6L488.4 222.6L486.4 222.2Z" fill="#c87575"/>
<path d="M491.0 224.5L493.0 224.9L491.7 223.9L489.7 223.6Z" fill="#cd8383"/>
<path d="M494.3 226.0L496.3 226.2L495.0 225.1L493.0 224.9Z" fill="#d39090"/>
<path d="M497.6 227.4L499.6 227.3L498.3 226.1L496.3 226.2Z" fill="#d99d9d"/>
<path d="M447.9 217.8L450.0 216.7L449.0 215.7L446.9 216.8Z" fill="#d03d3d"/>
<path d="M438.8 232.4L440.8 229.7L439.9 228.6L437.9 231.2Z" fill="#e9bfbf"/>
<path d="M445.9 220.5L447.9 217.8L446.9 216.8L444.9 219.5Z" fill="#d44e4e"/>
<path d="M469.2 216.4L471.3 216.5L470.2 215.7L468.1 215.5Z" fill="#c13939"/>
<path d="M500.9 228.4L502.9 228.0L501.6 226.8L499.6 227.3Z" fill="#dfa5a5"/>
<path d="M453.2 217.0L455.3 216.3L454.3 215.4L452.1 216.0Z" fill="#cb3737"/>
<path d="M458.5 216.6L460.6 216.0L459.6 215.1L457.4 215.7Z" fill="#ca3535"/>
<path d="M440.8 229.7L442.8 227.0L441.9 225.9L439.9 228.6Z" fill="#e3a0a0"/>
<path d="M463.8 216.3L466.0 215.8L464.8 214.9L462.7 215.4Z" fill="#c83434"/>
<path d="M472.5 217.2L474.6 217.7L473.4 216.9L471.3 216.5Z" fill="#be3f3f"/>
<path d="M475.7 218.4L477.8 218.9L476.6 218.3L474.6 217.7Z" fill="#bd4646"/>
<path d="M442.8 227.0L444.9 224.3L443.9 223.2L441.9 225.9Z" fill="#de8383"/>
<path d="M479.0 219.6L481.1 220.2L479.9 219.6L477.8 218.9Z" fill="#be4f4f"/>
<path d="M451.0 217.6L453.2 217.0L452.1 216.0L450.0 216.7Z" fill="#cb3737"/>
<path d="M437.8 236.3L439.8 233.6L438.8 232.4L436.8 235.1Z" fill="#efdfdf"/>
<path d="M482.3 220.9L484.4 221.6L483.2 220.8L481.1 220.2Z" fill="#c05a5a"/>
<path d="M467.1 216.6L469.2 216.4L468.1 215.5L466.0 215.8Z" fill="#c53333"/>
<path d="M456.4 217.2L458.5 216.6L457.4 215.7L455.3 216.3Z" fill="#ca3434"/>
<path d="M485.6 222.4L487.7 223.0L486.4 222.2L484.4 221.6Z" fill="#c46666"/>
<path d="M444.9 224.3L446.9 221.5L445.9 220.5L443.9 223.2Z" fill="#d86767"/>
<path d="M492.2 225.6L494.3 226.0L493.0 224.9L491.0 224.5Z" fill="#cd8282"/>
<path d="M495.6 227.2L497.6 227.4L496.3 226.2L494.3 226.0Z" fill="#d39090"/>
<path d="M488.9 224.0L491.0 224.5L489.7 223.6L487.7 223.0Z" fill="#c87373"/>
<path d="M461.7 216.9L463.8 216.3L462.7 215.4L460.6 216.0Z" fill="#c93333"/>
<path d="M498.9 228.5L500.9 228.4L499.6 227.3L497.6 227.4Z" fill="#d99c9c"/>
<path d="M502.3 229.6L504.3 229.1L502.9 228.0L500.9 228.4Z" fill="#dfa5a5"/>
<path d="M439.8 233.6L441.8 230.8L440.8 229.7L438.8 232.4Z" fill="#e8bebe"/>
<path d="M448.9 218.8L451.0 217.6L450.0 216.7L447.9 217.8Z" fill="#cf3b3b"/>
<path d="M446.9 221.5L448.9 218.8L447.9 217.8L445.9 220.5Z" fill="#d34c4c"/>
<path d="M470.3 217.1L472.5 217.2L471.3 216.5L469.2 216.4Z" fill="#c03535"/>
<path d="M454.2 217.9L456.4 217.2L455.3 216.3L453.2 217.0Z" fill="#ca3434"/>
<path d="M441.8 230.8L443.8 228.1L442.8 227.0L440.8 229.7Z" fill="#e39f9f"/>
<path d="M459.6 217.5L461.7 216.9L460.6 216.0L458.5 216.6Z" fill="#c93232"/>
<path d="M465.0 217.2L467.1 216.6L466.0 215.8L463.8 216.3Z" fill="#c73131"/>
<path d="M473.6 218.0L475.7 218.4L474.6 217.7L472.5 217.2Z" fill="#bd3a3a"/>
<path d="M476.9 219.1L479.0 219.6L477.8 218.9L475.7 218.4Z" fill="#bc4141"/>
<path d="M443.8 228.1L445.9 225.3L444.9 224.3L442.8 227.0Z" fill="#dd8282"/>
<path d="M438.8 237.5L440.8 234.7L439.8 233.6L437.8 236.3Z" fill="#eedede"/>
<path d="M452.1 218.5L454.2 217.9L453.2 217.0L451.0 217.6Z" fill="#ca3434"/>
<path d="M496.9 228.3L498.9 228.5L497.6 227.4L495.6 227.2Z" fill="#d39090"/>
<path d="M480.2 220.3L482.3 220.9L481.1 220.2L479.0 219.6Z" fill="#be4b4b"/>
<path d="M493.5 226.7L495.6 227.2L494.3 226.0L492.2 225.6Z" fill="#cd8181"/>
<path d="M500.2 229.7L502.3 229.6L500.9 228.4L498.9 228.5Z" fill="#d99c9c"/>
<path d="M490.2 225.0L492.2 225.6L491.0 224.5L488.9 224.0Z" fill="#c87272"/>
<path d="M483.6 221.7L485.6 222.4L484.4 221.6L482.3 220.9Z" fill="#c05656"/>
<path d="M486.9 223.3L488.9 224.0L487.7 223.0L485.6 222.4Z" fill="#c46363"/>
<path d="M457.4 218.1L459.6 217.5L458.5 216.6L456.4 217.2Z" fill="#c93232"/>
<path d="M468.2 217.4L470.3 217.1L469.2 216.4L467.1 216.6Z" fill="#c42f2f"/>
<path d="M445.9 225.3L447.9 222.5L446.9 221.5L444.9 224.3Z" fill="#d86666"/>
<path d="M503.6 230.8L505.6 230.3L504.3 229.1L502.3 229.6Z" fill="#dfa5a5"/>
<path d="M462.8 217.7L465.0 217.2L463.8 216.3L461.7 216.9Z" fill="#c83030"/>
<path d="M440.8 234.7L442.8 231.9L441.8 230.8L439.8 233.6Z" fill="#e8bdbd"/>
<path d="M449.9 219.7L452.1 218.5L451.0 217.6L448.9 218.8Z" fill="#ce3939"/>
<path d="M447.9 222.5L449.9 219.7L448.9 218.8L446.9 221.5Z" fill="#d24a4a"/>
<path d="M471.5 217.9L473.6 218.0L472.5 217.2L470.3 217.1Z" fill="#bf3131"/>
<path d="M455.3 218.8L457.4 218.1L456.4 217.2L454.2 217.9Z" fill="#c93232"/>
<path d="M442.8 231.9L444.8 229.1L443.8 228.1L441.8 230.8Z" fill="#e29e9e"/>
<path d="M460.7 218.4L462.8 217.7L461.7 216.9L459.6 217.5Z" fill="#c82f2f"/>
<path d="M466.1 218.0L468.2 217.4L467.1 216.6L465.0 217.2Z" fill="#c62d2d"/>
<path d="M474.8 218.7L476.9 219.1L475.7 218.4L473.6 218.0Z" fill="#bd3535"/>
<path d="M498.2 229.5L500.2 229.7L498.9 228.5L496.9 228.3Z" fill="#d39090"/>
<path d="M444.8 229.1L446.9 226.3L445.9 225.3L443.8 228.1Z" fill="#dc8080"/>
<path d="M501.6 230.9L503.6 230.8L502.3 229.6L500.2 229.7Z" fill="#d99c9c"/>
<path d="M494.8 227.9L496.9 228.3L495.6 227.2L493.5 226.7Z" fill="#ce8181"/>
<path d="M478.1 219.8L480.2 220.3L479.0 219.6L476.9 219.1Z" fill="#bc3d3d"/>
<path d="M439.7 238.7L441.8 235.9L440.8 234.7L438.8 237.5Z" fill="#eedede"/>
<path d="M491.5 226.1L493.5 226.7L492.2 225.6L490.2 225.0Z" fill="#c97171"/>
<path d="M505.0 232.0L507.0 231.6L505.6 230.3L503.6 230.8Z" fill="#dfa5a5"/>
<path d="M453.1 219.5L455.3 218.8L454.2 217.9L452.1 218.5Z" fill="#c93232"/>
<path d="M481.5 221.1L483.6 221.7L482.3 220.9L480.2 220.3Z" fill="#be4747"/>
<path d="M488.2 224.4L490.2 225.0L488.9 224.0L486.9 223.3Z" fill="#c46161"/>
<path d="M484.8 222.7L486.9 223.3L485.6 222.4L483.6 221.7Z" fill="#c15353"/>
<path d="M458.5 219.0L460.7 218.4L459.6 217.5L457.4 218.1Z" fill="#c82f2f"/>
<path d="M469.4 218.3L471.5 217.9L470.3 217.1L468.2 217.4Z" fill="#c32c2c"/>
<path d="M446.9 226.3L448.9 223.5L447.9 222.5L445.9 225.3Z" fill="#d76363"/>
<path d="M463.9 218.6L466.1 218.0L465.0 217.2L462.8 217.7Z" fill="#c72c2c"/>
<path d="M441.8 235.9L443.8 233.1L442.8 231.9L440.8 234.7Z" fill="#e8bcbc"/>
<path d="M451.0 220.7L453.1 219.5L452.1 218.5L449.9 219.7Z" fill="#cd3636"/>
<path d="M448.9 223.5L451.0 220.7L449.9 219.7L447.9 222.5Z" fill="#d24747"/>
<path d="M472.7 218.7L474.8 218.7L473.6 218.0L471.5 217.9Z" fill="#bf2d2d"/>
<path d="M443.8 233.1L445.9 230.2L444.8 229.1L442.8 231.9Z" fill="#e29c9c"/>
<path d="M456.4 219.7L458.5 219.0L457.4 218.1L455.3 218.8Z" fill="#c82f2f"/>
<path d="M461.8 219.2L463.9 218.6L462.8 217.7L460.7 218.4Z" fill="#c72c2c"/>
<path d="M467.2 218.8L469.4 218.3L468.2 217.4L466.1 218.0Z" fill="#c62a2a"/>
<path d="M499.5 230.7L501.6 230.9L500.2 229.7L498.2 229.5Z" fill="#d39090"/>
<path d="M502.9 232.2L505.0 232.0L503.6 230.8L501.6 230.9Z" fill="#d99c9c"/>
<path d="M496.2 229.1L498.2 229.5L496.9 228.3L494.8 227.9Z" fill="#ce8181"/>
<path d="M476.0 219.5L478.1 219.8L476.9 219.1L474.8 218.7Z" fill="#bd3131"/>
<path d="M506.3 233.5L508.4 233.0L507.0 231.6L505.0 232.0Z" fill="#e2a9a9"/>
<path d="M492.8 227.3L494.8 227.9L493.5 226.7L491.5 226.1Z" fill="#c97171"/>
<path d="M445.9 230.2L447.9 227.4L446.9 226.3L444.8 229.1Z" fill="#dc7e7e"/>
<path d="M440.7 240.0L442.8 237.1L441.8 235.9L439.7 238.7Z" fill="#eedede"/>
<path d="M479.4 220.7L481.5 221.1L480.2 220.3L478.1 219.8Z" fill="#bd3939"/>
<path d="M489.4 225.5L491.5 226.1L490.2 225.0L488.2 224.4Z" fill="#c56060"/>
<path d="M486.1 223.7L488.2 224.4L486.9 223.3L484.8 222.7Z" fill="#c15151"/>
<path d="M482.7 222.1L484.8 222.7L483.6 221.7L481.5 221.1Z" fill="#bf4444"/>
<path d="M454.2 220.3L456.4 219.7L455.3 218.8L453.1 219.5Z" fill="#c82f2f"/>
<path d="M447.9 227.4L450.0 224.5L448.9 223.5L446.9 226.3Z" fill="#d66161"/>
<path d="M459.6 219.9L461.8 219.2L460.7 218.4L458.5 219.0Z" fill="#c72c2c"/>
<path d="M470.5 219.1L472.7 218.7L471.5 217.9L469.4 218.3Z" fill="#c32828"/>
<path d="M465.1 219.5L467.2 218.8L466.1 218.0L463.9 218.6Z" fill="#c62929"/>
<path d="M442.8 237.1L444.8 234.2L443.8 233.1L441.8 235.9Z" fill="#e8bbbb"/>
<path d="M452.0 221.6L454.2 220.3L453.1 219.5L451.0 220.7Z" fill="#cd3333"/>
<path d="M450.0 224.5L452.0 221.6L451.0 220.7L448.9 223.5Z" fill="#d14545"/>
<path d="M507.7 235.4L509.8 234.9L508.4 233.0L506.3 233.5Z" fill="#e9b4b4"/>
<path d="M473.9 219.5L476.0 219.5L474.8 218.7L472.7 218.7Z" fill="#bf2929"/>
<path d="M504.3 233.6L506.3 233.5L505.0 232.0L502.9 232.2Z" fill="#dca0a0"/>
<path d="M444.8 234.2L446.9 231.3L445.9 230.2L443.8 233.1Z" fill="#e19b9b"/>
<path d="M500.9 232.0L502.9 232.2L501.6 230.9L499.5 230.7Z" fill="#d39090"/>
<path d="M457.5 220.6L459.6 219.9L458.5 219.0L456.4 219.7Z" fill="#c72c2c"/>
<path d="M497.5 230.3L499.5 230.7L498.2 229.5L496.2 229.1Z" fill="#ce8181"/>
<path d="M462.9 220.1L465.1 219.5L463.9 218.6L461.8 219.2Z" fill="#c62929"/>
<path d="M468.4 219.7L470.5 219.1L469.4 218.3L467.2 218.8Z" fill="#c52626"/>
<path d="M494.1 228.5L496.2 229.1L494.8 227.9L492.8 227.3Z" fill="#c97171"/>
<path d="M477.2 220.4L479.4 220.7L478.1 219.8L476.0 219.5Z" fill="#be2e2e"/>
<path d="M441.7 241.3L443.8 238.3L442.8 237.1L440.7 240.0Z" fill="#eedddd"/>
<path d="M490.7 226.6L492.8 227.3L491.5 226.1L489.4 225.5Z" fill="#c56060"/>
<path d="M446.9 231.3L448.9 228.4L447.9 227.4L445.9 230.2Z" fill="#db7c7c"/>
<path d="M480.6 221.6L482.7 222.1L481.5 221.1L479.4 220.7Z" fill="#be3636"/>
<path d="M487.4 224.8L489.4 225.5L488.2 224.4L486.1 223.7Z" fill="#c25050"/>
<path d="M484.0 223.1L486.1 223.7L484.8 222.7L482.7 222.1Z" fill="#bf4242"/>
<path d="M509.1 237.5L511.1 236.9L509.8 234.9L507.7 235.4Z" fill="#ebbfbf"/>
<path d="M455.3 221.2L457.5 220.6L456.4 219.7L454.2 220.3Z" fill="#c72c2c"/>
<path d="M448.9 228.4L451.0 225.4L450.0 224.5L447.9 227.4Z" fill="#d65f5f"/>
<path d="M460.7 220.8L462.9 220.1L461.8 219.2L459.6 219.9Z" fill="#c72828"/>
<path d="M471.7 220.0L473.9 219.5L472.7 218.7L470.5 219.1Z" fill="#c32424"/>
<path d="M443.8 238.3L445.9 235.4L444.8 234.2L442.8 237.1Z" fill="#e7baba"/>
<path d="M505.6 235.7L507.7 235.4L506.3 233.5L504.3 233.6Z" fill="#e4acac"/>
<path d="M466.2 220.4L468.4 219.7L467.2 218.8L465.1 219.5Z" fill="#c62626"/>
<path d="M502.3 233.5L504.3 233.6L502.9 232.2L500.9 232.0Z" fill="#d79393"/>
<path d="M453.1 222.5L455.3 221.2L454.2 220.3L452.0 221.6Z" fill="#cc3030"/>
<path d="M451.0 225.4L453.1 222.5L452.0 221.6L450.0 224.5Z" fill="#d04242"/>
<path d="M498.9 231.5L500.9 232.0L499.5 230.7L497.5 230.3Z" fill="#ce8181"/>
<path d="M445.9 235.4L447.9 232.4L446.9 231.3L444.8 234.2Z" fill="#e19999"/>
<path d="M475.1 220.4L477.2 220.4L476.0 219.5L473.9 219.5Z" fill="#c02626"/>
<path d="M495.4 229.7L497.5 230.3L496.2 229.1L494.1 228.5Z" fill="#c97171"/>
<path d="M510.4 239.5L512.5 238.8L511.1 236.9L509.1 237.5Z" fill="#eecaca"/>
<path d="M458.6 221.5L460.7 220.8L459.6 219.9L457.5 220.6Z" fill="#c72828"/>
<path d="M492.0 227.9L494.1 228.5L492.8 227.3L490.7 226.6Z" fill="#c56060"/>
<path d="M464.1 221.0L466.2 220.4L465.1 219.5L462.9 220.1Z" fill="#c62525"/>
<path d="M469.6 220.6L471.7 220.0L470.5 219.1L468.4 219.7Z" fill="#c52323"/>
<path d="M442.8 242.5L444.8 239.5L443.8 238.3L441.7 241.3Z" fill="#eedddd"/>
<path d="M507.0 237.8L509.1 237.5L507.7 235.4L505.6 235.7Z" fill="#e8b8b8"/>
<path d="M478.5 221.3L480.6 221.6L479.4 220.7L477.2 220.4Z" fill="#be2b2b"/>
<path d="M488.6 226.0L490.7 226.6L489.4 225.5L487.4 224.8Z" fill="#c25050"/>
<path d="M447.9 232.4L450.0 229.4L448.9 228.4L446.9 231.3Z" fill="#db7a7a"/>
<path d="M481.9 222.6L484.0 223.1L482.7 222.1L480.6 221.6Z" fill="#be3434"/>
<path d="M485.3 224.2L487.4 224.8L486.1 223.7L484.0 223.1Z" fill="#c04141"/>
<path d="M503.6 235.7L505.6 235.7L504.3 233.6L502.3 233.5Z" fill="#e0a1a1"/>
<path d="M456.4 222.1L458.6 221.5L457.5 220.6L455.3 221.2Z" fill="#c72828"/>
<path d="M444.8 239.5L446.9 236.5L445.9 235.4L443.8 238.3Z" fill="#e7b9b9"/>
<path d="M450.0 229.4L452.1 226.4L451.0 225.4L448.9 228.4Z" fill="#d55c5c"/>
<path d="M472.9 220.9L475.1 220.4L473.9 219.5L471.7 220.0Z" fill="#c32121"/>
<path d="M461.9 221.7L464.1 221.0L462.9 220.1L460.7 220.8Z" fill="#c62525"/>
<path d="M511.8 241.5L513.9 240.8L512.5 238.8L510.4 239.5Z" fill="#f0d6d6"/>
<path d="M467.4 221.3L469.6 220.6L468.4 219.7L466.2 220.4Z" fill="#c62323"/>
<path d="M500.2 233.1L502.3 233.5L500.9 232.0L498.9 231.5Z" fill="#d28585"/>
<path d="M508.3 239.9L510.4 239.5L509.1 237.5L507.0 237.8Z" fill="#ebc5c5"/>
<path d="M496.8 231.0L498.9 231.5L497.5 230.3L495.4 229.7Z" fill="#c97171"/>
<path d="M452.1 226.4L454.2 223.4L453.1 222.5L451.0 225.4Z" fill="#cf3f3f"/>
<path d="M454.2 223.4L456.4 222.1L455.3 221.2L453.1 222.5Z" fill="#cb2d2d"/>
<path d="M446.9 236.5L449.0 233.5L447.9 232.4L445.9 235.4Z" fill="#e19898"/>
<path d="M476.3 221.4L478.5 221.3L477.2 220.4L475.1 220.4Z" fill="#c02323"/>
<path d="M504.9 238.0L507.0 237.8L505.6 235.7L503.6 235.7Z" fill="#e4afaf"/>
<path d="M493.4 229.1L495.4 229.7L494.1 228.5L492.0 227.9Z" fill="#c56060"/>
<path d="M459.7 222.4L461.9 221.7L460.7 220.8L458.6 221.5Z" fill="#c62525"/>
<path d="M443.8 243.8L445.9 240.8L444.8 239.5L442.8 242.5Z" fill="#eedcdc"/>
<path d="M490.0 227.2L492.0 227.9L490.7 226.6L488.6 226.0Z" fill="#c25050"/>
<path d="M465.2 222.0L467.4 221.3L466.2 220.4L464.1 221.0Z" fill="#c62222"/>
<path d="M479.7 222.4L481.9 222.6L480.6 221.6L478.5 221.3Z" fill="#bf2929"/>
<path d="M470.7 221.6L472.9 220.9L471.7 220.0L469.6 220.6Z" fill="#c52020"/>
<path d="M513.2 243.6L515.3 242.8L513.9 240.8L511.8 241.5Z" fill="#f3e2e2"/>
<path d="M486.5 225.4L488.6 226.0L487.4 224.8L485.3 224.2Z" fill="#c04141"/>
<path d="M483.1 223.7L485.3 224.2L484.0 223.1L481.9 222.6Z" fill="#bf3333"/>
<path d="M449.0 233.5L451.1 230.5L450.0 229.4L447.9 232.4Z" fill="#db7878"/>
<path d="M509.7 242.1L511.8 241.5L510.4 239.5L508.3 239.9Z" fill="#eed2d2"/>
<path d="M501.5 235.5L503.6 235.7L502.3 233.5L500.2 233.1Z" fill="#dc9393"/>
<path d="M506.3 240.2L508.3 239.9L507.0 237.8L504.9 238.0Z" fill="#e9bebe"/>
<path d="M445.9 240.8L447.9 237.7L446.9 236.5L444.8 239.5Z" fill="#e7b8b8"/>
<path d="M457.5 223.1L459.7 222.4L458.6 221.5L456.4 222.1Z" fill="#c62525"/>
<path d="M474.1 221.9L476.3 221.4L475.1 220.4L472.9 220.9Z" fill="#c41f1f"/>
<path d="M451.1 230.5L453.2 227.4L452.1 226.4L450.0 229.4Z" fill="#d55a5a"/>
<path d="M463.0 222.6L465.2 222.0L464.1 221.0L461.9 221.7Z" fill="#c62222"/>
<path d="M468.6 222.2L470.7 221.6L469.6 220.6L467.4 221.3Z" fill="#c62020"/>
<path d="M498.1 232.6L500.2 233.1L498.9 231.5L496.8 231.0Z" fill="#ce7575"/>
<path d="M514.6 245.6L516.7 244.9L515.3 242.8L513.2 243.6Z" fill="#f5efef"/>
<path d="M502.8 238.0L504.9 238.0L503.6 235.7L501.5 235.5Z" fill="#e1a4a4"/>
<path d="M511.1 244.2L513.2 243.6L511.8 241.5L509.7 242.1Z" fill="#f2e0e0"/>
<path d="M494.7 230.3L496.8 231.0L495.4 229.7L493.4 229.1Z" fill="#c56060"/>
<path d="M453.2 227.4L455.3 224.4L454.2 223.4L452.1 226.4Z" fill="#cf3c3c"/>
<path d="M447.9 237.7L450.0 234.6L449.0 233.5L446.9 236.5Z" fill="#e09797"/>
<path d="M455.3 224.4L457.5 223.1L456.4 222.1L454.2 223.4Z" fill="#cb2a2a"/>
<path d="M477.5 222.5L479.7 222.4L478.5 221.3L476.3 221.4Z" fill="#c12121"/>
<path d="M507.6 242.5L509.7 242.1L508.3 239.9L506.3 240.2Z" fill="#edcdcd"/>
<path d="M491.3 228.4L493.4 229.1L492.0 227.9L490.0 227.2Z" fill="#c25050"/>
<path d="M444.8 245.1L446.9 242.0L445.9 240.8L443.8 243.8Z" fill="#eddcdc"/>
<path d="M481.0 223.5L483.1 223.7L481.9 222.6L479.7 222.4Z" fill="#c02828"/>
<path d="M460.8 223.3L463.0 222.6L461.9 221.7L459.7 222.4Z" fill="#c62222"/>
<path d="M487.8 226.6L490.0 227.2L488.6 226.0L486.5 225.4Z" fill="#c14141"/>
<path d="M472.0 222.6L474.1 221.9L472.9 220.9L470.7 221.6Z" fill="#c61e1e"/>
<path d="M484.4 224.9L486.5 225.4L485.3 224.2L483.1 223.7Z" fill="#c03333"/>
<path d="M466.4 222.9L468.6 222.2L467.4 221.3L465.2 222.0Z" fill="#c62020"/>
<path d="M499.4 235.2L501.5 235.5L500.2 233.1L498.1 232.6Z" fill="#d98585"/>
<path d="M450.0 234.6L452.1 231.6L451.1 230.5L449.0 233.5Z" fill="#da7777"/>
<path d="M504.2 240.4L506.3 240.2L504.9 238.0L502.8 238.0Z" fill="#e7b5b5"/>
<path d="M512.5 246.4L514.6 245.6L513.2 243.6L511.1 244.2Z" fill="#f5efef"/>
<path d="M446.9 242.0L449.0 238.9L447.9 237.7L445.9 240.8Z" fill="#e7b7b7"/>
<path d="M509.0 244.8L511.1 244.2L509.7 242.1L507.6 242.5Z" fill="#f1dddd"/>
<path d="M475.4 222.9L477.5 222.5L476.3 221.4L474.1 221.9Z" fill="#c41d1d"/>
<path d="M458.6 224.0L460.8 223.3L459.7 222.4L457.5 223.1Z" fill="#c62222"/>
<path d="M452.1 231.6L454.3 228.5L453.2 227.4L451.1 230.5Z" fill="#d45757"/>
<path d="M464.2 223.6L466.4 222.9L465.2 222.0L463.0 222.6Z" fill="#c62020"/>
<path d="M469.8 223.2L472.0 222.6L470.7 221.6L468.6 222.2Z" fill="#c61d1d"/>
<path d="M496.1 232.0L498.1 232.6L496.8 231.0L494.7 230.3Z" fill="#ca6565"/>
<path d="M500.8 237.9L502.8 238.0L501.5 235.5L499.4 235.2Z" fill="#df9898"/>
<path d="M505.5 242.9L507.6 242.5L506.3 240.2L504.2 240.4Z" fill="#ecc7c7"/>
<path d="M478.8 223.6L481.0 223.5L479.7 222.4L477.5 222.5Z" fill="#c22020"/>
<path d="M449.0 238.9L451.1 235.8L450.0 234.6L447.9 237.7Z" fill="#e09595"/>
<path d="M492.6 229.6L494.7 230.3L493.4 229.1L491.3 228.4Z" fill="#c25050"/>
<path d="M454.3 228.5L456.4 225.3L455.3 224.4L453.2 227.4Z" fill="#ce3939"/>
<path d="M456.4 225.3L458.6 224.0L457.5 223.1L455.3 224.4Z" fill="#cb2727"/>
<path d="M489.2 227.8L491.3 228.4L490.0 227.2L487.8 226.6Z" fill="#c14141"/>
<path d="M510.4 247.2L512.5 246.4L511.1 244.2L509.0 244.8Z" fill="#f6eeee"/>
<path d="M445.9 246.4L448.0 243.3L446.9 242.0L444.8 245.1Z" fill="#eddcdc"/>
<path d="M482.2 224.7L484.4 224.9L483.1 223.7L481.0 223.5Z" fill="#c02828"/>
<path d="M485.7 226.1L487.8 226.6L486.5 225.4L484.4 224.9Z" fill="#c03333"/>
<path d="M502.1 240.6L504.2 240.4L502.8 238.0L500.8 237.9Z" fill="#e5abab"/>
<path d="M473.2 223.6L475.4 222.9L474.1 221.9L472.0 222.6Z" fill="#c61c1c"/>
<path d="M461.9 224.3L464.2 223.6L463.0 222.6L460.8 223.3Z" fill="#c62020"/>
<path d="M467.5 223.9L469.8 223.2L468.6 222.2L466.4 222.9Z" fill="#c61d1d"/>
<path d="M506.9 245.4L509.0 244.8L507.6 242.5L505.5 242.9Z" fill="#f1d9d9"/>
<path d="M497.4 234.8L499.4 235.2L498.1 232.6L496.1 232.0Z" fill="#d77676"/>
<path d="M451.1 235.8L453.2 232.7L452.1 231.6L450.0 234.6Z" fill="#da7575"/>
<path d="M448.0 243.3L450.1 240.2L449.0 238.9L446.9 242.0Z" fill="#e6b7b7"/>
<path d="M503.4 243.3L505.5 242.9L504.2 240.4L502.1 240.6Z" fill="#ebc0c0"/>
<path d="M476.6 224.1L478.8 223.6L477.5 222.5L475.4 222.9Z" fill="#c51c1c"/>
<path d="M498.7 237.7L500.8 237.9L499.4 235.2L497.4 234.8Z" fill="#dd8b8b"/>
<path d="M459.7 225.0L461.9 224.3L460.8 223.3L458.6 224.0Z" fill="#c62020"/>
<path d="M453.2 232.7L455.4 229.5L454.3 228.5L452.1 231.6Z" fill="#d45555"/>
<path d="M471.0 224.3L473.2 223.6L472.0 222.6L469.8 223.2Z" fill="#c61c1c"/>
<path d="M508.2 247.9L510.4 247.2L509.0 244.8L506.9 245.4Z" fill="#f6eded"/>
<path d="M465.3 224.6L467.5 223.9L466.4 222.9L464.2 223.6Z" fill="#c61d1d"/>
<path d="M494.0 231.4L496.1 232.0L494.7 230.3L492.6 229.6Z" fill="#c85454"/>
<path d="M480.1 224.8L482.2 224.7L481.0 223.5L478.8 223.6Z" fill="#c21f1f"/>
<path d="M450.1 240.2L452.2 237.0L451.1 235.8L449.0 238.9Z" fill="#e09494"/>
<path d="M490.5 229.0L492.6 229.6L491.3 228.4L489.2 227.8Z" fill="#c14141"/>
<path d="M504.8 246.0L506.9 245.4L505.5 242.9L503.4 243.3Z" fill="#f0d5d5"/>
<path d="M483.5 225.9L485.7 226.1L484.4 224.9L482.2 224.7Z" fill="#c02828"/>
<path d="M455.4 229.5L457.5 226.3L456.4 225.3L454.3 228.5Z" fill="#ce3737"/>
<path d="M500.0 240.7L502.1 240.6L500.8 237.9L498.7 237.7Z" fill="#e3a1a1"/>
<path d="M487.0 227.4L489.2 227.8L487.8 226.6L485.7 226.1Z" fill="#c03333"/>
<path d="M446.9 247.8L449.1 244.6L448.0 243.3L445.9 246.4Z" fill="#eddbdb"/>
<path d="M457.5 226.3L459.7 225.0L458.6 224.0L456.4 225.3Z" fill="#cb2424"/>
<path d="M474.4 224.8L476.6 224.1L475.4 222.9L473.2 223.6Z" fill="#c71b1b"/>
<path d="M463.1 225.3L465.3 224.6L464.2 223.6L461.9 224.3Z" fill="#c61d1d"/>
<path d="M468.7 225.0L471.0 224.3L469.8 223.2L467.5 223.9Z" fill="#c61c1c"/>
<path d="M495.2 234.5L497.4 234.8L496.1 232.0L494.0 231.4Z" fill="#d56767"/>
<path d="M452.2 237.0L454.3 233.8L453.2 232.7L451.1 235.8Z" fill="#da7474"/>
<path d="M506.1 248.7L508.2 247.9L506.9 245.4L504.8 246.0Z" fill="#f6ecec"/>
<path d="M501.3 243.6L503.4 243.3L502.1 240.6L500.0 240.7Z" fill="#eab8b8"/>
<path d="M449.1 244.6L451.2 241.4L450.1 240.2L448.0 243.3Z" fill="#e6b6b6"/>
<path d="M477.9 225.3L480.1 224.8L478.8 223.6L476.6 224.1Z" fill="#c61b1b"/>
<path d="M496.5 237.6L498.7 237.7L497.4 234.8L495.2 234.5Z" fill="#db7e7e"/>
<path d="M472.2 225.5L474.4 224.8L473.2 223.6L471.0 224.3Z" fill="#c71b1b"/>
<path d="M502.6 246.5L504.8 246.0L503.4 243.3L501.3 243.6Z" fill="#f0d0d0"/>
<path d="M454.3 233.8L456.5 230.6L455.4 229.5L453.2 232.7Z" fill="#d45454"/>
<path d="M460.9 226.1L463.1 225.3L461.9 224.3L459.7 225.0Z" fill="#c61d1d"/>
<path d="M466.5 225.7L468.7 225.0L467.5 223.9L465.3 224.6Z" fill="#c61c1c"/>
<path d="M491.8 230.8L494.0 231.4L492.6 229.6L490.5 229.0Z" fill="#c74545"/>
<path d="M481.3 226.0L483.5 225.9L482.2 224.7L480.1 224.8Z" fill="#c31f1f"/>
<path d="M497.8 240.8L500.0 240.7L498.7 237.7L496.5 237.6Z" fill="#e29797"/>
<path d="M451.2 241.4L453.3 238.2L452.2 237.0L450.1 240.2Z" fill="#e09494"/>
<path d="M484.8 227.1L487.0 227.4L485.7 226.1L483.5 225.9Z" fill="#c02828"/>
<path d="M488.3 228.6L490.5 229.0L489.2 227.8L487.0 227.4Z" fill="#c03333"/>
<path d="M448.0 249.1L450.1 245.9L449.1 244.6L446.9 247.8Z" fill="#eddbdb"/>
<path d="M503.9 249.5L506.1 248.7L504.8 246.0L502.6 246.5Z" fill="#f7ebeb"/>
<path d="M456.5 230.6L458.6 227.4L457.5 226.3L455.4 229.5Z" fill="#ce3535"/>
<path d="M458.6 227.4L460.9 226.1L459.7 225.0L457.5 226.3Z" fill="#cb2222"/>
<path d="M475.6 226.0L477.9 225.3L476.6 224.1L474.4 224.8Z" fill="#c81a1a"/>
<path d="M499.1 243.9L501.3 243.6L500.0 240.7L497.8 240.8Z" fill="#e9b1b1"/>
<path d="M470.0 226.2L472.2 225.5L471.0 224.3L468.7 225.0Z" fill="#c71b1b"/>
<path d="M464.3 226.4L466.5 225.7L465.3 224.6L463.1 225.3Z" fill="#c61c1c"/>
<path d="M493.1 234.2L495.2 234.5L494.0 231.4L491.8 230.8Z" fill="#d35858"/>
<path d="M453.3 238.2L455.5 235.0L454.3 233.8L452.2 237.0Z" fill="#da7373"/>
<path d="M500.5 247.1L502.6 246.5L501.3 243.6L499.1 243.9Z" fill="#efcccc"/>
<path d="M450.1 245.9L452.3 242.7L451.2 241.4L449.1 244.6Z" fill="#e6b6b6"/>
<path d="M479.1 226.5L481.3 226.0L480.1 224.8L477.9 225.3Z" fill="#c61b1b"/>
<path d="M494.4 237.5L496.5 237.6L495.2 234.5L493.1 234.2Z" fill="#da7272"/>
<path d="M501.8 250.3L503.9 249.5L502.6 246.5L500.5 247.1Z" fill="#f6e9e9"/>
<path d="M473.4 226.7L475.6 226.0L474.4 224.8L472.2 225.5Z" fill="#c81a1a"/>
<path d="M455.5 235.0L457.6 231.8L456.5 230.6L454.3 233.8Z" fill="#d45252"/>
<path d="M462.0 227.2L464.3 226.4L463.1 225.3L460.9 226.1Z" fill="#c61c1c"/>
<path d="M467.7 226.9L470.0 226.2L468.7 225.0L466.5 225.7Z" fill="#c71b1b"/>
<path d="M495.7 240.9L497.8 240.8L496.5 237.6L494.4 237.5Z" fill="#e18d8d"/>
<path d="M482.6 227.2L484.8 227.1L483.5 225.9L481.3 226.0Z" fill="#c31f1f"/>
<path d="M489.7 230.4L491.8 230.8L490.5 229.0L488.3 228.6Z" fill="#c63838"/>
<path d="M486.2 228.4L488.3 228.6L487.0 227.4L484.8 227.1Z" fill="#c02828"/>
<path d="M452.3 242.7L454.4 239.5L453.3 238.2L451.2 241.4Z" fill="#e09393"/>
<path d="M497.0 244.3L499.1 243.9L497.8 240.8L495.7 240.9Z" fill="#e8a9a9"/>
<path d="M449.1 250.5L451.3 247.3L450.1 245.9L448.0 249.1Z" fill="#eddbdb"/>
<path d="M457.6 231.8L459.8 228.5L458.6 227.4L456.5 230.6Z" fill="#ce3333"/>
<path d="M476.9 227.2L479.1 226.5L477.9 225.3L475.6 226.0Z" fill="#c81a1a"/>
<path d="M459.8 228.5L462.0 227.2L460.9 226.1L458.6 227.4Z" fill="#cb2020"/>
<path d="M498.3 247.7L500.5 247.1L499.1 243.9L497.0 244.3Z" fill="#efc7c7"/>
<path d="M471.2 227.4L473.4 226.7L472.2 225.5L470.0 226.2Z" fill="#c81a1a"/>
<path d="M490.9 234.0L493.1 234.2L491.8 230.8L489.7 230.4Z" fill="#d34b4b"/>
<path d="M465.5 227.6L467.7 226.9L466.5 225.7L464.3 226.4Z" fill="#c71b1b"/>
<path d="M499.6 251.1L501.8 250.3L500.5 247.1L498.3 247.7Z" fill="#f6e7e7"/>
<path d="M454.4 239.5L456.6 236.3L455.5 235.0L453.3 238.2Z" fill="#da7272"/>
<path d="M492.2 237.5L494.4 237.5L493.1 234.2L490.9 234.0Z" fill="#d96767"/>
<path d="M451.3 247.3L453.4 244.1L452.3 242.7L450.1 245.9Z" fill="#e7b6b6"/>
<path d="M480.4 227.7L482.6 227.2L481.3 226.0L479.1 226.5Z" fill="#c61b1b"/>
<path d="M493.5 241.1L495.7 240.9L494.4 237.5L492.2 237.5Z" fill="#e08585"/>
<path d="M474.7 227.9L476.9 227.2L475.6 226.0L473.4 226.7Z" fill="#c81a1a"/>
<path d="M484.0 228.5L486.2 228.4L484.8 227.1L482.6 227.2Z" fill="#c31f1f"/>
<path d="M487.5 230.3L489.7 230.4L488.3 228.6L486.2 228.4Z" fill="#c72c2c"/>
<path d="M494.8 244.7L497.0 244.3L495.7 240.9L493.5 241.1Z" fill="#e7a3a3"/>
<path d="M468.9 228.1L471.2 227.4L470.0 226.2L467.7 226.9Z" fill="#c81a1a"/>
<path d="M456.6 236.3L458.8 233.0L457.6 231.8L455.5 235.0Z" fill="#d45252"/>
<path d="M463.2 228.3L465.5 227.6L464.3 226.4L462.0 227.2Z" fill="#c71b1b"/>
<path d="M496.1 248.3L498.3 247.7L497.0 244.3L494.8 244.7Z" fill="#eec3c3"/>
<path d="M453.4 244.1L455.6 240.8L454.4 239.5L452.3 242.7Z" fill="#e09393"/>
<path d="M450.2 251.9L452.4 248.7L451.3 247.3L449.1 250.5Z" fill="#eddbdb"/>
<path d="M497.4 251.8L499.6 251.1L498.3 247.7L496.1 248.3Z" fill="#f6e6e6"/>
<path d="M478.2 228.5L480.4 227.7L479.1 226.5L476.9 227.2Z" fill="#c81a1a"/>
<path d="M458.8 233.0L461.0 229.7L459.8 228.5L457.6 231.8Z" fill="#ce3232"/>
<path d="M488.8 234.0L490.9 234.0L489.7 230.4L487.5 230.3Z" fill="#d34040"/>
<path d="M461.0 229.7L463.2 228.3L462.0 227.2L459.8 228.5Z" fill="#cc1f1f"/>
<path d="M472.4 228.7L474.7 227.9L473.4 226.7L471.2 227.4Z" fill="#c81a1a"/>
<path d="M466.7 228.9L468.9 228.1L467.7 226.9L465.5 227.6Z" fill="#c81a1a"/>
<path d="M490.0 237.7L492.2 237.5L490.9 234.0L488.8 234.0Z" fill="#d95e5e"/>
<path d="M455.6 240.8L457.7 237.6L456.6 236.3L454.4 239.5Z" fill="#da7272"/>
<path d="M491.3 241.4L493.5 241.1L492.2 237.5L490.0 237.7Z" fill="#e07e7e"/>
<path d="M481.7 229.0L484.0 228.5L482.6 227.2L480.4 227.7Z" fill="#c61b1b"/>
<path d="M452.4 248.7L454.5 245.4L453.4 244.1L451.3 247.3Z" fill="#e7b6b6"/>
<path d="M492.6 245.2L494.8 244.7L493.5 241.1L491.3 241.4Z" fill="#e79e9e"/>
<path d="M493.9 248.9L496.1 248.3L494.8 244.7L492.6 245.2Z" fill="#eec0c0"/>
<path d="M485.3 230.4L487.5 230.3L486.2 228.4L484.0 228.5Z" fill="#ca2424"/>
<path d="M495.2 252.6L497.4 251.8L496.1 248.3L493.9 248.9Z" fill="#f6e4e4"/>
<path d="M475.9 229.2L478.2 228.5L476.9 227.2L474.7 227.9Z" fill="#c81a1a"/>
<path d="M470.2 229.4L472.4 228.7L471.2 227.4L468.9 228.1Z" fill="#c81a1a"/>
<path d="M457.7 237.6L459.9 234.3L458.8 233.0L456.6 236.3Z" fill="#d45252"/>
<path d="M464.4 229.6L466.7 228.9L465.5 227.6L463.2 228.3Z" fill="#c81a1a"/>
<path d="M454.5 245.4L456.7 242.2L455.6 240.8L453.4 244.1Z" fill="#e09393"/>
<path d="M451.3 253.3L453.5 250.0L452.4 248.7L450.2 251.9Z" fill="#eddbdb"/>
<path d="M486.5 234.2L488.8 234.0L487.5 230.3L485.3 230.4Z" fill="#d33939"/>
<path d="M479.5 229.7L481.7 229.0L480.4 227.7L478.2 228.5Z" fill="#c81a1a"/>
<path d="M487.8 238.1L490.0 237.7L488.8 234.0L486.5 234.2Z" fill="#da5858"/>
<path d="M459.9 234.3L462.1 231.0L461.0 229.7L458.8 233.0Z" fill="#cf3232"/>
<path d="M489.1 241.9L491.3 241.4L490.0 237.7L487.8 238.1Z" fill="#e07979"/>
<path d="M473.7 229.9L475.9 229.2L474.7 227.9L472.4 228.7Z" fill="#c81a1a"/>
<path d="M462.1 231.0L464.4 229.6L463.2 228.3L461.0 229.7Z" fill="#cc1f1f"/>
<path d="M490.4 245.7L492.6 245.2L491.3 241.4L489.1 241.9Z" fill="#e79a9a"/>
<path d="M493.0 253.4L495.2 252.6L493.9 248.9L491.7 249.6Z" fill="#f6e3e3"/>
<path d="M491.7 249.6L493.9 248.9L492.6 245.2L490.4 245.7Z" fill="#eebdbd"/>
<path d="M467.9 230.1L470.2 229.4L468.9 228.1L466.7 228.9Z" fill="#c81a1a"/>
<path d="M483.0 230.9L485.3 230.4L484.0 228.5L481.7 229.0Z" fill="#cd2020"/>
<path d="M456.7 242.2L458.9 238.9L457.7 237.6L455.6 240.8Z" fill="#da7272"/>
<path d="M453.5 250.0L455.7 246.8L454.5 245.4L452.4 248.7Z" fill="#e7b6b6"/>
<path d="M477.2 230.5L479.5 229.7L478.2 228.5L475.9 229.2Z" fill="#c81a1a"/>
<path d="M484.3 234.8L486.5 234.2L485.3 230.4L483.0 230.9Z" fill="#d53535"/>
<path d="M471.4 230.7L473.7 229.9L472.4 228.7L470.2 229.4Z" fill="#c81a1a"/>
<path d="M458.9 238.9L461.1 235.6L459.9 234.3L457.7 237.6Z" fill="#d45151"/>
<path d="M485.6 238.7L487.8 238.1L486.5 234.2L484.3 234.8Z" fill="#db5555"/>
<path d="M465.6 230.9L467.9 230.1L466.7 228.9L464.4 229.6Z" fill="#c81a1a"/>
<path d="M490.8 254.2L493.0 253.4L491.7 249.6L489.5 250.3Z" fill="#f6e3e3"/>
<path d="M486.9 242.6L489.1 241.9L487.8 238.1L485.6 238.7Z" fill="#e17676"/>
<path d="M489.5 250.3L491.7 249.6L490.4 245.7L488.2 246.5Z" fill="#eebcbc"/>
<path d="M488.2 246.5L490.4 245.7L489.1 241.9L486.9 242.6Z" fill="#e89999"/>
<path d="M455.7 246.8L457.9 243.5L456.7 242.2L454.5 245.4Z" fill="#e09393"/>
<path d="M480.8 231.7L483.0 230.9L481.7 229.0L479.5 229.7Z" fill="#cf1f1f"/>
<path d="M452.5 254.7L454.6 251.4L453.5 250.0L451.3 253.3Z" fill="#eddbdb"/>
<path d="M461.1 235.6L463.3 232.3L462.1 231.0L459.9 234.3Z" fill="#cf3232"/>
<path d="M475.0 231.2L477.2 230.5L475.9 229.2L473.7 229.9Z" fill="#c81a1a"/>
<path d="M463.3 232.3L465.6 230.9L464.4 229.6L462.1 231.0Z" fill="#cc1f1f"/>
<path d="M469.1 231.4L471.4 230.7L470.2 229.4L467.9 230.1Z" fill="#c81a1a"/>
<path d="M482.1 235.6L484.3 234.8L483.0 230.9L480.8 231.7Z" fill="#d63434"/>
<path d="M457.9 243.5L460.1 240.2L458.9 238.9L456.7 242.2Z" fill="#da7272"/>
<path d="M483.4 239.5L485.6 238.7L484.3 234.8L482.1 235.6Z" fill="#dc5454"/>
<path d="M488.5 255.0L490.8 254.2L489.5 250.3L487.2 251.1Z" fill="#f6e3e3"/>
<path d="M454.6 251.4L456.8 248.2L455.7 246.8L453.5 250.0Z" fill="#e7b6b6"/>
<path d="M484.6 243.3L486.9 242.6L485.6 238.7L483.4 239.5Z" fill="#e27676"/>
<path d="M487.2 251.1L489.5 250.3L488.2 246.5L485.9 247.2Z" fill="#efbcbc"/>
<path d="M485.9 247.2L488.2 246.5L486.9 242.6L484.6 243.3Z" fill="#e89898"/>
<path d="M478.5 232.4L480.8 231.7L479.5 229.7L477.2 230.5Z" fill="#cf1f1f"/>
<path d="M472.7 232.0L475.0 231.2L473.7 229.9L471.4 230.7Z" fill="#c81a1a"/>
<path d="M460.1 240.2L462.3 236.9L461.1 235.6L458.9 238.9Z" fill="#d45151"/>
<path d="M466.8 232.2L469.1 231.4L467.9 230.1L465.6 230.9Z" fill="#c81a1a"/>
<path d="M453.6 256.1L455.8 252.9L454.6 251.4L452.5 254.7Z" fill="#eedcdc"/>
<path d="M456.8 248.2L459.1 244.9L457.9 243.5L455.7 246.8Z" fill="#e09393"/>
<path d="M479.8 236.3L482.1 235.6L480.8 231.7L478.5 232.4Z" fill="#d63434"/>
<path d="M481.1 240.2L483.4 239.5L482.1 235.6L479.8 236.3Z" fill="#dc5454"/>
<path d="M486.3 255.9L488.5 255.0L487.2 251.1L485.0 251.9Z" fill="#f6e3e3"/>
<path d="M482.4 244.1L484.6 243.3L483.4 239.5L481.1 240.2Z" fill="#e27676"/>
<path d="M485.0 251.9L487.2 251.1L485.9 247.2L483.7 248.0Z" fill="#efbcbc"/>
<path d="M483.7 248.0L485.9 247.2L484.6 243.3L482.4 244.1Z" fill="#e89898"/>
<path d="M476.2 233.2L478.5 232.4L477.2 230.5L475.0 231.2Z" fill="#cf1f1f"/>
<path d="M462.3 236.9L464.6 233.6L463.3 232.3L461.1 235.6Z" fill="#cf3232"/>
<path d="M464.6 233.6L466.8 232.2L465.6 230.9L463.3 232.3Z" fill="#cc1f1f"/>
<path d="M470.4 232.7L472.7 232.0L471.4 230.7L469.1 231.4Z" fill="#c81a1a"/>
<path d="M459.1 244.9L461.3 241.6L460.1 240.2L457.9 243.5Z" fill="#da7272"/>
<path d="M455.8 252.9L458.0 249.8L456.8 248.2L454.6 251.4Z" fill="#e8b8b8"/>
<path d="M477.5 237.1L479.8 236.3L478.5 232.4L476.2 233.2Z" fill="#d63434"/>
<path d="M478.8 241.0L481.1 240.2L479.8 236.3L477.5 237.1Z" fill="#dc5454"/>
<path d="M484.0 256.7L486.3 255.9L485.0 251.9L482.7 252.8Z" fill="#f6e3e3"/>
<path d="M480.1 244.9L482.4 244.1L481.1 240.2L478.8 241.0Z" fill="#e27676"/>
<path d="M482.7 252.8L485.0 251.9L483.7 248.0L481.4 248.8Z" fill="#efbcbc"/>
<path d="M481.4 248.8L483.7 248.0L482.4 244.1L480.1 244.9Z" fill="#e89898"/>
<path d="M474.0 233.9L476.2 233.2L475.0 231.2L472.7 232.0Z" fill="#cf1f1f"/>
<path d="M461.3 241.6L463.5 238.2L462.3 236.9L460.1 240.2Z" fill="#d45151"/>
<path d="M468.1 233.5L470.4 232.7L469.1 231.4L466.8 232.2Z" fill="#c81a1a"/>
<path d="M454.8 257.6L457.0 254.8L455.8 252.9L453.6 256.1Z" fill="#f1e0e0"/>
<path d="M458.0 249.8L460.3 246.6L459.1 244.9L456.8 248.2Z" fill="#e39696"/>
<path d="M475.3 237.9L477.5 237.1L476.2 233.2L474.0 233.9Z" fill="#d63434"/>
<path d="M476.6 241.8L478.8 241.0L477.5 237.1L475.3 237.9Z" fill="#dc5454"/>
<path d="M481.8 257.5L484.0 256.7L482.7 252.8L480.4 253.6Z" fill="#f6e3e3"/>
<path d="M477.8 245.7L480.1 244.9L478.8 241.0L476.6 241.8Z" fill="#e27676"/>
<path d="M480.4 253.6L482.7 252.8L481.4 248.8L479.1 249.6Z" fill="#efbcbc"/>
<path d="M471.7 234.7L474.0 233.9L472.7 232.0L470.4 232.7Z" fill="#cf1f1f"/>
<path d="M479.1 249.6L481.4 248.8L480.1 244.9L477.8 245.7Z" fill="#e89898"/>
<path d="M463.5 238.2L465.8 234.9L464.6 233.6L462.3 236.9Z" fill="#cf3232"/>
<path d="M457.0 254.8L459.2 252.0L458.0 249.8L455.8 252.9Z" fill="#eec1c1"/>
<path d="M465.8 234.9L468.1 233.5L466.8 232.2L464.6 233.6Z" fill="#cc1f1f"/>
<path d="M460.3 246.6L462.5 243.3L461.3 241.6L459.1 244.9Z" fill="#de7676"/>
<path d="M473.0 238.6L475.3 237.9L474.0 233.9L471.7 234.7Z" fill="#d63434"/>
<path d="M459.2 252.0L461.5 249.2L460.3 246.6L458.0 249.8Z" fill="#eba3a3"/>
<path d="M474.3 242.6L476.6 241.8L475.3 237.9L473.0 238.6Z" fill="#dc5454"/>
<path d="M479.5 258.3L481.8 257.5L480.4 253.6L478.2 254.4Z" fill="#f6e3e3"/>
<path d="M462.5 243.3L464.8 240.1L463.5 238.2L461.3 241.6Z" fill="#d95656"/>
<path d="M475.6 246.5L477.8 245.7L476.6 241.8L474.3 242.6Z" fill="#e27676"/>
<path d="M469.3 235.5L471.7 234.7L470.4 232.7L468.1 233.5Z" fill="#cf1f1f"/>
<path d="M478.2 254.4L480.4 253.6L479.1 249.6L476.9 250.4Z" fill="#efbcbc"/>
<path d="M476.9 250.4L479.1 249.6L477.8 245.7L475.6 246.5Z" fill="#e89898"/>
<path d="M455.9 259.0L458.2 256.6L457.0 254.8L454.8 257.6Z" fill="#f2e5e5"/>
<path d="M461.5 249.2L463.8 246.4L462.5 243.3L460.3 246.6Z" fill="#e78585"/>
<path d="M458.2 256.6L460.5 254.2L459.2 252.0L457.0 254.8Z" fill="#f1cccc"/>
<path d="M464.8 240.1L467.0 236.8L465.8 234.9L463.5 238.2Z" fill="#d43636"/>
<path d="M467.0 236.8L469.3 235.5L468.1 233.5L465.8 234.9Z" fill="#d32323"/>
<path d="M470.6 239.4L473.0 238.6L471.7 234.7L469.3 235.5Z" fill="#d63434"/>
<path d="M460.5 254.2L462.8 251.8L461.5 249.2L459.2 252.0Z" fill="#efb3b3"/>
<path d="M472.0 243.3L474.3 242.6L473.0 238.6L470.6 239.4Z" fill="#dc5454"/>
<path d="M477.2 259.2L479.5 258.3L478.2 254.4L475.9 255.2Z" fill="#f6e3e3"/>
<path d="M473.3 247.3L475.6 246.5L474.3 242.6L472.0 243.3Z" fill="#e27676"/>
<path d="M475.9 255.2L478.2 254.4L476.9 250.4L474.6 251.2Z" fill="#efbcbc"/>
<path d="M474.6 251.2L476.9 250.4L475.6 246.5L473.3 247.3Z" fill="#e89898"/>
<path d="M463.8 246.4L466.1 243.5L464.8 240.1L462.5 243.3Z" fill="#e26868"/>
<path d="M462.8 251.8L465.0 249.4L463.8 246.4L461.5 249.2Z" fill="#eb9a9a"/>
<path d="M468.3 240.7L470.6 239.4L469.3 235.5L467.0 236.8Z" fill="#d93838"/>
<path d="M466.1 243.5L468.3 240.7L467.0 236.8L464.8 240.1Z" fill="#dd4a4a"/>
<path d="M465.0 249.4L467.3 247.0L466.1 243.5L463.8 246.4Z" fill="#e88181"/>
<path d="M457.1 260.5L459.4 258.5L458.2 256.6L455.9 259.0Z" fill="#f4e9e9"/>
<path d="M469.6 244.5L472.0 243.3L470.6 239.4L468.3 240.7Z" fill="#df5858"/>
<path d="M470.9 248.4L473.3 247.3L472.0 243.3L469.6 244.5Z" fill="#e47979"/>
<path d="M459.4 258.5L461.7 256.5L460.5 254.2L458.2 256.6Z" fill="#f4d6d6"/>
<path d="M474.9 260.0L477.2 259.2L475.9 255.2L473.6 256.1Z" fill="#f6e4e4"/>
<path d="M472.2 252.2L474.6 251.2L473.3 247.3L470.9 248.4Z" fill="#ea9b9b"/>
<path d="M473.6 256.1L475.9 255.2L474.6 251.2L472.2 252.2Z" fill="#f0bebe"/>
<path d="M467.3 247.0L469.6 244.5L468.3 240.7L466.1 243.5Z" fill="#e36868"/>
<path d="M461.7 256.5L464.0 254.5L462.8 251.8L460.5 254.2Z" fill="#f2c2c2"/>
<path d="M464.0 254.5L466.3 252.4L465.0 249.4L462.8 251.8Z" fill="#f0afaf"/>
<path d="M466.3 252.4L468.6 250.4L467.3 247.0L465.0 249.4Z" fill="#ed9b9b"/>
<path d="M468.6 250.4L470.9 248.4L469.6 244.5L467.3 247.0Z" fill="#e98787"/>
<path d="M469.9 253.9L472.2 252.2L470.9 248.4L468.6 250.4Z" fill="#efa6a6"/>
<path d="M471.2 257.3L473.6 256.1L472.2 252.2L469.9 253.9Z" fill="#f3c6c6"/>
<path d="M467.6 255.5L469.9 253.9L468.6 250.4L466.3 252.4Z" fill="#f2b5b5"/>
<path d="M472.5 260.8L474.9 260.0L473.6 256.1L471.2 257.3Z" fill="#f8e7e7"/>
<path d="M465.3 257.1L467.6 255.5L466.3 252.4L464.0 254.5Z" fill="#f4c4c4"/>
<path d="M463.0 258.8L465.3 257.1L464.0 254.5L461.7 256.5Z" fill="#f5d2d2"/>
<path d="M468.9 258.6L471.2 257.3L469.9 253.9L467.6 255.5Z" fill="#f5cfcf"/>
<path d="M460.6 260.4L463.0 258.8L461.7 256.5L459.4 258.5Z" fill="#f6e0e0"/>
<path d="M458.3 262.0L460.6 260.4L459.4 258.5L457.1 260.5Z" fill="#f5ecec"/>
<path d="M470.2 261.7L472.5 260.8L471.2 257.3L468.9 258.6Z" fill="#f9ebeb"/>
<path d="M466.6 259.8L468.9 258.6L467.6 255.5L465.3 257.1Z" fill="#f7d9d9"/>
<path d="M464.2 261.0L466.6 259.8L465.3 257.1L463.0 258.8Z" fill="#f7e1e1"/>
<path d="M467.9 262.5L470.2 261.7L468.9 258.6L466.6 259.8Z" fill="#f9eeee"/>
<path d="M461.9 262.3L464.2 261.0L463.0 258.8L460.6 260.4Z" fill="#f7e9e9"/>
<path d="M459.5 263.5L461.9 262.3L460.6 260.4L458.3 262.0Z" fill="#f4efef"/>
<path d="M465.5 263.4L467.9 262.5L466.6 259.8L464.2 261.0Z" fill="#f8f0f0"/>
<path d="M463.1 264.2L465.5 263.4L464.2 261.0L461.9 262.3Z" fill="#f6f1f1"/>
<path d="M460.7 265.1L463.1 264.2L461.9 262.3L459.5 263.5Z" fill="#f2f0f0"/>
</g>
<text x="424" y="181.2" font-size="9.2" stroke="#000" stroke-width="0.22">RL</text>
<defs><linearGradient id="cb399" x1="0" y1="0" x2="0" y2="1"><stop offset="0" stop-color="#c23a50"/><stop offset="0.28" stop-color="#d46a7a"/><stop offset="0.5" stop-color="#ffffff"/><stop offset="0.72" stop-color="#b0e4b0"/><stop offset="1" stop-color="#40c040"/></linearGradient></defs>
<rect x="417.5" y="195.8" width="1.6" height="102" fill="url(#cb399)"/>
<text x="415.1" y="298.3" font-size="3" text-anchor="middle" fill="#444" transform="rotate(-90 415.1 298.3)" stroke="#444" stroke-width="0.07">−60</text>
<text x="415.1" y="281.22" font-size="3" text-anchor="middle" fill="#444" transform="rotate(-90 415.1 281.22)" stroke="#444" stroke-width="0.07">−40</text>
<text x="415.1" y="264.13" font-size="3" text-anchor="middle" fill="#444" transform="rotate(-90 415.1 264.13)" stroke="#444" stroke-width="0.07">−20</text>
<text x="415.1" y="247.05" font-size="3" text-anchor="middle" fill="#444" transform="rotate(-90 415.1 247.05)" stroke="#444" stroke-width="0.07">0</text>
<text x="415.1" y="229.97" font-size="3" text-anchor="middle" fill="#444" transform="rotate(-90 415.1 229.97)" stroke="#444" stroke-width="0.07">20</text>
<text x="415.1" y="212.88" font-size="3" text-anchor="middle" fill="#444" transform="rotate(-90 415.1 212.88)" stroke="#444" stroke-width="0.07">40</text>
<text x="415.1" y="195.8" font-size="3" text-anchor="middle" fill="#444" transform="rotate(-90 415.1 195.8)" stroke="#444" stroke-width="0.07">60</text>
<text x="407.6" y="247.6" font-size="5.7" text-anchor="middle" fill="#222" transform="rotate(-90 407.6 247.6)" stroke="#222" stroke-width="0.14">Average synergy: 30.5 (Bliss)</text>
<line x1="434.35" y1="255.26" x2="436.15" y2="255.26" stroke="#888" stroke-width="0.4"/>
<text x="433.85" y="256.46" font-size="3.3" text-anchor="end" fill="#222" stroke="#222" stroke-width="0.08">−60</text>
<line x1="433.66" y1="247.63" x2="435.46" y2="247.63" stroke="#888" stroke-width="0.4"/>
<text x="433.16" y="248.83" font-size="3.3" text-anchor="end" fill="#222" stroke="#222" stroke-width="0.08">−40</text>
<line x1="432.95" y1="239.73" x2="434.75" y2="239.73" stroke="#888" stroke-width="0.4"/>
<text x="432.45" y="240.93" font-size="3.3" text-anchor="end" fill="#222" stroke="#222" stroke-width="0.08">−20</text>
<line x1="432.21" y1="231.56" x2="434.01" y2="231.56" stroke="#888" stroke-width="0.4"/>
<text x="431.71" y="232.76" font-size="3.3" text-anchor="end" fill="#222" stroke="#222" stroke-width="0.08">0</text>
<line x1="431.44" y1="223.08" x2="433.24" y2="223.08" stroke="#888" stroke-width="0.4"/>
<text x="430.94" y="224.28" font-size="3.3" text-anchor="end" fill="#222" stroke="#222" stroke-width="0.08">20</text>
<line x1="430.65" y1="214.29" x2="432.45" y2="214.29" stroke="#888" stroke-width="0.4"/>
<text x="430.15" y="215.49" font-size="3.3" text-anchor="end" fill="#222" stroke="#222" stroke-width="0.08">40</text>
<line x1="429.83" y1="205.17" x2="431.63" y2="205.17" stroke="#888" stroke-width="0.4"/>
<text x="429.33" y="206.37" font-size="3.3" text-anchor="end" fill="#222" stroke="#222" stroke-width="0.08">60</text>
<text x="425.41" y="231.56" font-size="4.2" text-anchor="middle" fill="#222" transform="rotate(-90 425.41 231.56)" stroke="#222" stroke-width="0.1">Synergy score</text>
<text x="458.64" y="295.11" font-size="3" text-anchor="middle" fill="#222" stroke="#222" stroke-width="0.07">0</text>
<text x="454.55" y="289.48" font-size="3" text-anchor="middle" fill="#222" stroke="#222" stroke-width="0.07">1.562</text>
<text x="450.62" y="284.09" font-size="3" text-anchor="middle" fill="#222" stroke="#222" stroke-width="0.07">3.125</text>
<text x="446.85" y="278.9" font-size="3" text-anchor="middle" fill="#222" stroke="#222" stroke-width="0.07">6.25</text>
<text x="443.23" y="273.92" font-size="3" text-anchor="middle" fill="#222" stroke="#222" stroke-width="0.07">12.5</text>
<text x="439.74" y="269.12" font-size="3" text-anchor="middle" fill="#222" stroke="#222" stroke-width="0.07">25</text>
<text x="436.38" y="264.51" font-size="3" text-anchor="middle" fill="#222" stroke="#222" stroke-width="0.07">50</text>
<text x="433.15" y="260.06" font-size="3" text-anchor="middle" fill="#222" stroke="#222" stroke-width="0.07">100</text>
<text x="439.62" y="282.68" font-size="4.3" text-anchor="middle" fill="#222" transform="rotate(51 439.62 282.68)" stroke="#222" stroke-width="0.11">Lenalidomide (µmol/L)</text>
<text x="466.14" y="296.41" font-size="2.9" text-anchor="middle" fill="#222" stroke="#222" stroke-width="0.07">0</text>
<text x="473.7" y="293.3" font-size="2.9" text-anchor="middle" fill="#222" stroke="#222" stroke-width="0.07">0.312</text>
<text x="481.12" y="290.25" font-size="2.9" text-anchor="middle" fill="#222" stroke="#222" stroke-width="0.07">0.625</text>
<text x="488.4" y="287.25" font-size="2.9" text-anchor="middle" fill="#222" stroke="#222" stroke-width="0.07">1.25</text>
<text x="495.54" y="284.31" font-size="2.9" text-anchor="middle" fill="#222" stroke="#222" stroke-width="0.07">2.5</text>
<text x="502.55" y="281.42" font-size="2.9" text-anchor="middle" fill="#222" stroke="#222" stroke-width="0.07">5</text>
<text x="509.43" y="278.57" font-size="2.9" text-anchor="middle" fill="#222" stroke="#222" stroke-width="0.07">10</text>
<text x="516.19" y="275.78" font-size="2.9" text-anchor="middle" fill="#222" stroke="#222" stroke-width="0.07">20</text>
<text x="497.89" y="290.27" font-size="4.1" text-anchor="middle" fill="#222" transform="rotate(-22 497.89 290.27)" stroke="#222" stroke-width="0.1">Tazemetostat (µmol/L)</text>
<text x="90.75" y="321.2" font-size="10.05" text-anchor="middle" fill="#111" stroke="#111" stroke-width="0.22">WSU-DLCL-2</text>
<rect x="48.54" y="341" width="18.4" height="98.5" fill="#4a4a4a" stroke="#111" stroke-width="1"/>
<line x1="57.74" y1="340.15" x2="57.74" y2="341.86" stroke="#111" stroke-width="1.1"/>
<line x1="55.44" y1="340.15" x2="60.04" y2="340.15" stroke="#111" stroke-width="1.1"/>
<line x1="55.44" y1="341.86" x2="60.04" y2="341.86" stroke="#111" stroke-width="1.1"/>
<rect x="68.94" y="397.95" width="18.4" height="41.55" fill="#5cb85c" stroke="#111" stroke-width="1"/>
<line x1="78.14" y1="391.45" x2="78.14" y2="404.44" stroke="#111" stroke-width="1.1"/>
<line x1="75.84" y1="391.45" x2="80.44" y2="391.45" stroke="#111" stroke-width="1.1"/>
<line x1="75.84" y1="404.44" x2="80.44" y2="404.44" stroke="#111" stroke-width="1.1"/>
<rect x="89.34" y="429.07" width="18.4" height="10.43" fill="#3f8fd2" stroke="#111" stroke-width="1"/>
<line x1="98.54" y1="428.04" x2="98.54" y2="430.1" stroke="#111" stroke-width="1.1"/>
<line x1="96.24" y1="428.04" x2="100.84" y2="428.04" stroke="#111" stroke-width="1.1"/>
<line x1="96.24" y1="430.1" x2="100.84" y2="430.1" stroke="#111" stroke-width="1.1"/>
<rect x="109.74" y="438.47" width="18.4" height="1.03" fill="#c0182b" stroke="#111" stroke-width="1"/>
<line x1="118.94" y1="438.13" x2="118.94" y2="438.82" stroke="#111" stroke-width="1.1"/>
<line x1="116.64" y1="438.13" x2="121.24" y2="438.13" stroke="#111" stroke-width="1.1"/>
<line x1="116.64" y1="438.82" x2="121.24" y2="438.82" stroke="#111" stroke-width="1.1"/>
<line x1="45.5" y1="444.8" x2="131.2" y2="444.8" stroke="#222" stroke-width="1.1"/>
<line x1="57.74" y1="444.8" x2="57.74" y2="447.5" stroke="#333" stroke-width="1"/>
<text x="60.04" y="448.6" font-size="10" text-anchor="end" fill="#222" transform="rotate(-90 60.04 448.6)" stroke="#222" stroke-width="0.22">DMSO</text>
<line x1="78.14" y1="444.8" x2="78.14" y2="447.5" stroke="#333" stroke-width="1"/>
<text x="80.44" y="448.6" font-size="10" text-anchor="end" fill="#222" transform="rotate(-90 80.44 448.6)" stroke="#222" stroke-width="0.22">LEN</text>
<line x1="98.54" y1="444.8" x2="98.54" y2="447.5" stroke="#333" stroke-width="1"/>
<text x="100.84" y="448.6" font-size="10" text-anchor="end" fill="#222" transform="rotate(-90 100.84 448.6)" stroke="#222" stroke-width="0.22">TAZ</text>
<line x1="118.94" y1="444.8" x2="118.94" y2="447.5" stroke="#333" stroke-width="1"/>
<text x="121.24" y="448.6" font-size="10" text-anchor="end" fill="#222" transform="rotate(-90 121.24 448.6)" stroke="#222" stroke-width="0.22">LEN+TAZ</text>
<line x1="57.74" y1="334.1" x2="119.34" y2="334.1" stroke="#111" stroke-width="1.2"/>
<text x="119.64" y="330.7" font-size="5.9" text-anchor="end" fill="#222" stroke="#222" stroke-width="0.14"><tspan font-style="italic">P</tspan> &lt; 0.001</text>
<line x1="78.14" y1="347.3" x2="119.34" y2="347.3" stroke="#111" stroke-width="1.2"/>
<text x="119.64" y="343.9" font-size="5.9" text-anchor="end" fill="#222" stroke="#222" stroke-width="0.14"><tspan font-style="italic">P</tspan> &lt; 0.001</text>
<line x1="98.54" y1="360.4" x2="119.34" y2="360.4" stroke="#111" stroke-width="1.2"/>
<text x="119.64" y="357" font-size="5.9" text-anchor="end" fill="#222" stroke="#222" stroke-width="0.14"><tspan font-style="italic">P</tspan> &lt; 0.001</text>
<text x="181.6" y="321.2" font-size="10.05" text-anchor="middle" fill="#111" stroke="#111" stroke-width="0.22">HT</text>
<rect x="140.89" y="369.22" width="18.4" height="70.28" fill="#4a4a4a" stroke="#111" stroke-width="1"/>
<line x1="150.09" y1="364.94" x2="150.09" y2="373.49" stroke="#111" stroke-width="1.1"/>
<line x1="147.79" y1="364.94" x2="152.39" y2="364.94" stroke="#111" stroke-width="1.1"/>
<line x1="147.79" y1="373.49" x2="152.39" y2="373.49" stroke="#111" stroke-width="1.1"/>
<rect x="161.29" y="392.3" width="18.4" height="47.2" fill="#5cb85c" stroke="#111" stroke-width="1"/>
<line x1="170.49" y1="390.08" x2="170.49" y2="394.53" stroke="#111" stroke-width="1.1"/>
<line x1="168.19" y1="390.08" x2="172.79" y2="390.08" stroke="#111" stroke-width="1.1"/>
<line x1="168.19" y1="394.53" x2="172.79" y2="394.53" stroke="#111" stroke-width="1.1"/>
<rect x="181.69" y="436.25" width="18.4" height="3.25" fill="#3f8fd2" stroke="#111" stroke-width="1"/>
<line x1="190.89" y1="435.74" x2="190.89" y2="436.76" stroke="#111" stroke-width="1.1"/>
<line x1="188.59" y1="435.74" x2="193.19" y2="435.74" stroke="#111" stroke-width="1.1"/>
<line x1="188.59" y1="436.76" x2="193.19" y2="436.76" stroke="#111" stroke-width="1.1"/>
<rect x="202.09" y="438.3" width="18.4" height="1.2" fill="#c0182b" stroke="#111" stroke-width="1"/>
<line x1="211.29" y1="438.05" x2="211.29" y2="438.56" stroke="#111" stroke-width="1.1"/>
<line x1="208.99" y1="438.05" x2="213.59" y2="438.05" stroke="#111" stroke-width="1.1"/>
<line x1="208.99" y1="438.56" x2="213.59" y2="438.56" stroke="#111" stroke-width="1.1"/>
<line x1="137.85" y1="444.8" x2="223.55" y2="444.8" stroke="#222" stroke-width="1.1"/>
<line x1="150.09" y1="444.8" x2="150.09" y2="447.5" stroke="#333" stroke-width="1"/>
<text x="152.39" y="448.6" font-size="10" text-anchor="end" fill="#222" transform="rotate(-90 152.39 448.6)" stroke="#222" stroke-width="0.22">DMSO</text>
<line x1="170.49" y1="444.8" x2="170.49" y2="447.5" stroke="#333" stroke-width="1"/>
<text x="172.79" y="448.6" font-size="10" text-anchor="end" fill="#222" transform="rotate(-90 172.79 448.6)" stroke="#222" stroke-width="0.22">LEN</text>
<line x1="190.89" y1="444.8" x2="190.89" y2="447.5" stroke="#333" stroke-width="1"/>
<text x="193.19" y="448.6" font-size="10" text-anchor="end" fill="#222" transform="rotate(-90 193.19 448.6)" stroke="#222" stroke-width="0.22">TAZ</text>
<line x1="211.29" y1="444.8" x2="211.29" y2="447.5" stroke="#333" stroke-width="1"/>
<text x="213.59" y="448.6" font-size="10" text-anchor="end" fill="#222" transform="rotate(-90 213.59 448.6)" stroke="#222" stroke-width="0.22">LEN+TAZ</text>
<line x1="150.09" y1="334.1" x2="211.69" y2="334.1" stroke="#111" stroke-width="1.2"/>
<text x="211.99" y="330.7" font-size="5.9" text-anchor="end" fill="#222" stroke="#222" stroke-width="0.14"><tspan font-style="italic">P</tspan> &lt; 0.001</text>
<line x1="170.49" y1="347.3" x2="211.69" y2="347.3" stroke="#111" stroke-width="1.2"/>
<text x="211.99" y="343.9" font-size="5.9" text-anchor="end" fill="#222" stroke="#222" stroke-width="0.14"><tspan font-style="italic">P</tspan> &lt; 0.001</text>
<line x1="190.89" y1="360.4" x2="211.69" y2="360.4" stroke="#111" stroke-width="1.2"/>
<text x="211.99" y="357" font-size="5.9" text-anchor="end" fill="#222" stroke="#222" stroke-width="0.14"><tspan font-style="italic">P</tspan> &lt; 0.001</text>
<text x="277.2" y="321.2" font-size="10.05" text-anchor="middle" fill="#111" stroke="#111" stroke-width="0.22">SU-DHL-5</text>
<rect x="233.24" y="373.84" width="18.4" height="65.66" fill="#4a4a4a" stroke="#111" stroke-width="1"/>
<line x1="242.44" y1="368.71" x2="242.44" y2="378.97" stroke="#111" stroke-width="1.1"/>
<line x1="240.14" y1="368.71" x2="244.74" y2="368.71" stroke="#111" stroke-width="1.1"/>
<line x1="240.14" y1="378.97" x2="244.74" y2="378.97" stroke="#111" stroke-width="1.1"/>
<rect x="253.64" y="368.88" width="18.4" height="70.62" fill="#5cb85c" stroke="#111" stroke-width="1"/>
<line x1="262.84" y1="366.31" x2="262.84" y2="371.44" stroke="#111" stroke-width="1.1"/>
<line x1="260.54" y1="366.31" x2="265.14" y2="366.31" stroke="#111" stroke-width="1.1"/>
<line x1="260.54" y1="371.44" x2="265.14" y2="371.44" stroke="#111" stroke-width="1.1"/>
<rect x="274.04" y="395.89" width="18.4" height="43.61" fill="#3f8fd2" stroke="#111" stroke-width="1"/>
<line x1="283.24" y1="391.11" x2="283.24" y2="400.68" stroke="#111" stroke-width="1.1"/>
<line x1="280.94" y1="391.11" x2="285.54" y2="391.11" stroke="#111" stroke-width="1.1"/>
<line x1="280.94" y1="400.68" x2="285.54" y2="400.68" stroke="#111" stroke-width="1.1"/>
<rect x="294.44" y="409.06" width="18.4" height="30.44" fill="#c0182b" stroke="#111" stroke-width="1"/>
<line x1="303.64" y1="406.84" x2="303.64" y2="411.29" stroke="#111" stroke-width="1.1"/>
<line x1="301.34" y1="406.84" x2="305.94" y2="406.84" stroke="#111" stroke-width="1.1"/>
<line x1="301.34" y1="411.29" x2="305.94" y2="411.29" stroke="#111" stroke-width="1.1"/>
<line x1="230.2" y1="444.8" x2="315.9" y2="444.8" stroke="#222" stroke-width="1.1"/>
<line x1="242.44" y1="444.8" x2="242.44" y2="447.5" stroke="#333" stroke-width="1"/>
<text x="244.74" y="448.6" font-size="10" text-anchor="end" fill="#222" transform="rotate(-90 244.74 448.6)" stroke="#222" stroke-width="0.22">DMSO</text>
<line x1="262.84" y1="444.8" x2="262.84" y2="447.5" stroke="#333" stroke-width="1"/>
<text x="265.14" y="448.6" font-size="10" text-anchor="end" fill="#222" transform="rotate(-90 265.14 448.6)" stroke="#222" stroke-width="0.22">LEN</text>
<line x1="283.24" y1="444.8" x2="283.24" y2="447.5" stroke="#333" stroke-width="1"/>
<text x="285.54" y="448.6" font-size="10" text-anchor="end" fill="#222" transform="rotate(-90 285.54 448.6)" stroke="#222" stroke-width="0.22">TAZ</text>
<line x1="303.64" y1="444.8" x2="303.64" y2="447.5" stroke="#333" stroke-width="1"/>
<text x="305.94" y="448.6" font-size="10" text-anchor="end" fill="#222" transform="rotate(-90 305.94 448.6)" stroke="#222" stroke-width="0.22">LEN+TAZ</text>
<line x1="242.44" y1="334.1" x2="304.04" y2="334.1" stroke="#111" stroke-width="1.2"/>
<text x="304.34" y="330.7" font-size="5.9" text-anchor="end" fill="#222" stroke="#222" stroke-width="0.14"><tspan font-style="italic">P</tspan> &lt; 0.001</text>
<line x1="262.84" y1="347.3" x2="304.04" y2="347.3" stroke="#111" stroke-width="1.2"/>
<text x="304.34" y="343.9" font-size="5.9" text-anchor="end" fill="#222" stroke="#222" stroke-width="0.14"><tspan font-style="italic">P</tspan> &lt; 0.001</text>
<line x1="283.24" y1="360.4" x2="304.04" y2="360.4" stroke="#111" stroke-width="1.2"/>
<text x="304.34" y="357" font-size="5.9" text-anchor="end" fill="#222" stroke="#222" stroke-width="0.14"><tspan font-style="italic">P</tspan> = 0.005</text>
<text x="365.4" y="321.2" font-size="10.05" text-anchor="middle" fill="#111" stroke="#111" stroke-width="0.22">RL</text>
<rect x="325.59" y="393.5" width="18.4" height="46" fill="#4a4a4a" stroke="#111" stroke-width="1"/>
<line x1="334.79" y1="392.3" x2="334.79" y2="394.7" stroke="#111" stroke-width="1.1"/>
<line x1="332.49" y1="392.3" x2="337.09" y2="392.3" stroke="#111" stroke-width="1.1"/>
<line x1="332.49" y1="394.7" x2="337.09" y2="394.7" stroke="#111" stroke-width="1.1"/>
<rect x="345.99" y="398.29" width="18.4" height="41.21" fill="#5cb85c" stroke="#111" stroke-width="1"/>
<line x1="355.19" y1="397.61" x2="355.19" y2="398.97" stroke="#111" stroke-width="1.1"/>
<line x1="352.89" y1="397.61" x2="357.49" y2="397.61" stroke="#111" stroke-width="1.1"/>
<line x1="352.89" y1="398.97" x2="357.49" y2="398.97" stroke="#111" stroke-width="1.1"/>
<rect x="366.39" y="403.42" width="18.4" height="36.08" fill="#3f8fd2" stroke="#111" stroke-width="1"/>
<line x1="375.59" y1="401.71" x2="375.59" y2="405.13" stroke="#111" stroke-width="1.1"/>
<line x1="373.29" y1="401.71" x2="377.89" y2="401.71" stroke="#111" stroke-width="1.1"/>
<line x1="373.29" y1="405.13" x2="377.89" y2="405.13" stroke="#111" stroke-width="1.1"/>
<rect x="386.79" y="435.05" width="18.4" height="4.45" fill="#c0182b" stroke="#111" stroke-width="1"/>
<line x1="395.99" y1="434.54" x2="395.99" y2="435.57" stroke="#111" stroke-width="1.1"/>
<line x1="393.69" y1="434.54" x2="398.29" y2="434.54" stroke="#111" stroke-width="1.1"/>
<line x1="393.69" y1="435.57" x2="398.29" y2="435.57" stroke="#111" stroke-width="1.1"/>
<line x1="322.55" y1="444.8" x2="408.25" y2="444.8" stroke="#222" stroke-width="1.1"/>
<line x1="334.79" y1="444.8" x2="334.79" y2="447.5" stroke="#333" stroke-width="1"/>
<text x="337.09" y="448.6" font-size="10" text-anchor="end" fill="#222" transform="rotate(-90 337.09 448.6)" stroke="#222" stroke-width="0.22">DMSO</text>
<line x1="355.19" y1="444.8" x2="355.19" y2="447.5" stroke="#333" stroke-width="1"/>
<text x="357.49" y="448.6" font-size="10" text-anchor="end" fill="#222" transform="rotate(-90 357.49 448.6)" stroke="#222" stroke-width="0.22">LEN</text>
<line x1="375.59" y1="444.8" x2="375.59" y2="447.5" stroke="#333" stroke-width="1"/>
<text x="377.89" y="448.6" font-size="10" text-anchor="end" fill="#222" transform="rotate(-90 377.89 448.6)" stroke="#222" stroke-width="0.22">TAZ</text>
<line x1="395.99" y1="444.8" x2="395.99" y2="447.5" stroke="#333" stroke-width="1"/>
<text x="398.29" y="448.6" font-size="10" text-anchor="end" fill="#222" transform="rotate(-90 398.29 448.6)" stroke="#222" stroke-width="0.22">LEN+TAZ</text>
<line x1="334.79" y1="334.1" x2="396.39" y2="334.1" stroke="#111" stroke-width="1.2"/>
<text x="396.69" y="330.7" font-size="5.9" text-anchor="end" fill="#222" stroke="#222" stroke-width="0.14"><tspan font-style="italic">P</tspan> &lt; 0.001</text>
<line x1="355.19" y1="347.3" x2="396.39" y2="347.3" stroke="#111" stroke-width="1.2"/>
<text x="396.69" y="343.9" font-size="5.9" text-anchor="end" fill="#222" stroke="#222" stroke-width="0.14"><tspan font-style="italic">P</tspan> &lt; 0.001</text>
<line x1="375.59" y1="360.4" x2="396.39" y2="360.4" stroke="#111" stroke-width="1.2"/>
<text x="396.69" y="357" font-size="5.9" text-anchor="end" fill="#222" stroke="#222" stroke-width="0.14"><tspan font-style="italic">P</tspan> &lt; 0.001</text>
<line x1="45.5" y1="335.2" x2="45.5" y2="445.3" stroke="#222" stroke-width="1.1"/>
<line x1="42.7" y1="439.5" x2="45.5" y2="439.5" stroke="#333" stroke-width="1"/>
<text x="39.2" y="442.9" font-size="9.5" text-anchor="end" fill="#262626" stroke="#262626" stroke-width="0.22">0</text>
<line x1="42.7" y1="405.3" x2="45.5" y2="405.3" stroke="#333" stroke-width="1"/>
<text x="39.2" y="408.7" font-size="9.5" text-anchor="end" fill="#262626" stroke="#262626" stroke-width="0.22">20</text>
<line x1="42.7" y1="371.1" x2="45.5" y2="371.1" stroke="#333" stroke-width="1"/>
<text x="39.2" y="374.5" font-size="9.5" text-anchor="end" fill="#262626" stroke="#262626" stroke-width="0.22">40</text>
<line x1="42.7" y1="336.9" x2="45.5" y2="336.9" stroke="#333" stroke-width="1"/>
<text x="39.2" y="340.3" font-size="9.5" text-anchor="end" fill="#262626" stroke="#262626" stroke-width="0.22">60</text>
<text x="21.7" y="390" font-size="10" text-anchor="middle" fill="#222" transform="rotate(-90 21.7 390)" stroke="#222" stroke-width="0.22">Percent cells in S-phase</text>
<line x1="46.05" y1="505" x2="46.05" y2="645.3" stroke="#ececec" stroke-width="0.9"/>
<line x1="51.68" y1="505" x2="51.68" y2="645.3" stroke="#ececec" stroke-width="0.55"/>
<line x1="57.31" y1="505" x2="57.31" y2="645.3" stroke="#ececec" stroke-width="0.9"/>
<line x1="62.94" y1="505" x2="62.94" y2="645.3" stroke="#ececec" stroke-width="0.55"/>
<line x1="68.57" y1="505" x2="68.57" y2="645.3" stroke="#ececec" stroke-width="0.9"/>
<line x1="74.2" y1="505" x2="74.2" y2="645.3" stroke="#ececec" stroke-width="0.55"/>
<line x1="79.83" y1="505" x2="79.83" y2="645.3" stroke="#ececec" stroke-width="0.9"/>
<line x1="85.46" y1="505" x2="85.46" y2="645.3" stroke="#ececec" stroke-width="0.55"/>
<line x1="91.09" y1="505" x2="91.09" y2="645.3" stroke="#ececec" stroke-width="0.9"/>
<line x1="96.72" y1="505" x2="96.72" y2="645.3" stroke="#ececec" stroke-width="0.55"/>
<line x1="102.35" y1="505" x2="102.35" y2="645.3" stroke="#ececec" stroke-width="0.9"/>
<line x1="107.98" y1="505" x2="107.98" y2="645.3" stroke="#ececec" stroke-width="0.55"/>
<line x1="113.61" y1="505" x2="113.61" y2="645.3" stroke="#ececec" stroke-width="0.9"/>
<line x1="119.24" y1="505" x2="119.24" y2="645.3" stroke="#ececec" stroke-width="0.55"/>
<line x1="124.87" y1="505" x2="124.87" y2="645.3" stroke="#ececec" stroke-width="0.9"/>
<line x1="130.5" y1="505" x2="130.5" y2="645.3" stroke="#ececec" stroke-width="0.55"/>
<line x1="136.13" y1="505" x2="136.13" y2="645.3" stroke="#ececec" stroke-width="0.9"/>
<line x1="141.76" y1="505" x2="141.76" y2="645.3" stroke="#ececec" stroke-width="0.55"/>
<line x1="147.39" y1="505" x2="147.39" y2="645.3" stroke="#ececec" stroke-width="0.9"/>
<line x1="153.02" y1="505" x2="153.02" y2="645.3" stroke="#ececec" stroke-width="0.55"/>
<line x1="158.65" y1="505" x2="158.65" y2="645.3" stroke="#ececec" stroke-width="0.9"/>
<line x1="164.28" y1="505" x2="164.28" y2="645.3" stroke="#ececec" stroke-width="0.55"/>
<line x1="169.91" y1="505" x2="169.91" y2="645.3" stroke="#ececec" stroke-width="0.9"/>
<line x1="175.54" y1="505" x2="175.54" y2="645.3" stroke="#ececec" stroke-width="0.55"/>
<line x1="181.17" y1="505" x2="181.17" y2="645.3" stroke="#ececec" stroke-width="0.9"/>
<line x1="186.8" y1="505" x2="186.8" y2="645.3" stroke="#ececec" stroke-width="0.55"/>
<line x1="192.43" y1="505" x2="192.43" y2="645.3" stroke="#ececec" stroke-width="0.9"/>
<line x1="198.06" y1="505" x2="198.06" y2="645.3" stroke="#ececec" stroke-width="0.55"/>
<line x1="203.69" y1="505" x2="203.69" y2="645.3" stroke="#ececec" stroke-width="0.9"/>
<line x1="209.32" y1="505" x2="209.32" y2="645.3" stroke="#ececec" stroke-width="0.55"/>
<line x1="43.3" y1="630.7" x2="212.9" y2="630.7" stroke="#ececec" stroke-width="0.5"/>
<line x1="43.3" y1="594.9" x2="212.9" y2="594.9" stroke="#ececec" stroke-width="0.5"/>
<line x1="43.3" y1="559.1" x2="212.9" y2="559.1" stroke="#ececec" stroke-width="0.5"/>
<line x1="43.3" y1="523.3" x2="212.9" y2="523.3" stroke="#ececec" stroke-width="0.5"/>
<line x1="43.3" y1="612.8" x2="212.9" y2="612.8" stroke="#ececec" stroke-width="0.9"/>
<line x1="43.3" y1="577" x2="212.9" y2="577" stroke="#ececec" stroke-width="0.9"/>
<line x1="43.3" y1="541.2" x2="212.9" y2="541.2" stroke="#ececec" stroke-width="0.9"/>
<line x1="43.3" y1="505" x2="212.9" y2="505" stroke="#9a9a9a" stroke-width="1"/>
<line x1="212.9" y1="505" x2="212.9" y2="645.3" stroke="#9a9a9a" stroke-width="1"/>
<line x1="43.3" y1="504.5" x2="43.3" y2="645.8" stroke="#7a7a7a" stroke-width="1"/>
<line x1="43.3" y1="645.3" x2="212.9" y2="645.3" stroke="#6a6a6a" stroke-width="1"/>
<line x1="41.1" y1="612.8" x2="43.3" y2="612.8" stroke="#444" stroke-width="0.8"/>
<text x="40" y="614.9" font-size="5.9" text-anchor="end" fill="#555" stroke="#555" stroke-width="0.14">500</text>
<line x1="41.1" y1="577" x2="43.3" y2="577" stroke="#444" stroke-width="0.8"/>
<text x="40" y="579.1" font-size="5.9" text-anchor="end" fill="#555" stroke="#555" stroke-width="0.14">1,000</text>
<line x1="41.1" y1="541.2" x2="43.3" y2="541.2" stroke="#444" stroke-width="0.8"/>
<text x="40" y="543.3" font-size="5.9" text-anchor="end" fill="#555" stroke="#555" stroke-width="0.14">1,500</text>
<line x1="41.1" y1="505.4" x2="43.3" y2="505.4" stroke="#444" stroke-width="0.8"/>
<text x="40" y="507.5" font-size="5.9" text-anchor="end" fill="#555" stroke="#555" stroke-width="0.14">2,000</text>
<line x1="46.05" y1="645.3" x2="46.05" y2="647.5" stroke="#444" stroke-width="0.8"/>
<text x="46.05" y="653.8" font-size="6.3" text-anchor="middle" fill="#555" stroke="#555" stroke-width="0.15">0</text>
<line x1="57.31" y1="645.3" x2="57.31" y2="647.5" stroke="#444" stroke-width="0.8"/>
<text x="57.31" y="653.8" font-size="6.3" text-anchor="middle" fill="#555" stroke="#555" stroke-width="0.15">2</text>
<line x1="68.57" y1="645.3" x2="68.57" y2="647.5" stroke="#444" stroke-width="0.8"/>
<text x="68.57" y="653.8" font-size="6.3" text-anchor="middle" fill="#555" stroke="#555" stroke-width="0.15">4</text>
<line x1="79.83" y1="645.3" x2="79.83" y2="647.5" stroke="#444" stroke-width="0.8"/>
<text x="79.83" y="653.8" font-size="6.3" text-anchor="middle" fill="#555" stroke="#555" stroke-width="0.15">6</text>
<line x1="91.09" y1="645.3" x2="91.09" y2="647.5" stroke="#444" stroke-width="0.8"/>
<text x="91.09" y="653.8" font-size="6.3" text-anchor="middle" fill="#555" stroke="#555" stroke-width="0.15">8</text>
<line x1="102.35" y1="645.3" x2="102.35" y2="647.5" stroke="#444" stroke-width="0.8"/>
<text x="102.35" y="653.8" font-size="6.3" text-anchor="middle" fill="#555" stroke="#555" stroke-width="0.15">10</text>
<line x1="113.61" y1="645.3" x2="113.61" y2="647.5" stroke="#444" stroke-width="0.8"/>
<text x="113.61" y="653.8" font-size="6.3" text-anchor="middle" fill="#555" stroke="#555" stroke-width="0.15">12</text>
<line x1="124.87" y1="645.3" x2="124.87" y2="647.5" stroke="#444" stroke-width="0.8"/>
<text x="124.87" y="653.8" font-size="6.3" text-anchor="middle" fill="#555" stroke="#555" stroke-width="0.15">14</text>
<line x1="136.13" y1="645.3" x2="136.13" y2="647.5" stroke="#444" stroke-width="0.8"/>
<text x="136.13" y="653.8" font-size="6.3" text-anchor="middle" fill="#555" stroke="#555" stroke-width="0.15">16</text>
<line x1="147.39" y1="645.3" x2="147.39" y2="647.5" stroke="#444" stroke-width="0.8"/>
<text x="147.39" y="653.8" font-size="6.3" text-anchor="middle" fill="#555" stroke="#555" stroke-width="0.15">18</text>
<line x1="158.65" y1="645.3" x2="158.65" y2="647.5" stroke="#444" stroke-width="0.8"/>
<text x="158.65" y="653.8" font-size="6.3" text-anchor="middle" fill="#555" stroke="#555" stroke-width="0.15">20</text>
<line x1="169.91" y1="645.3" x2="169.91" y2="647.5" stroke="#444" stroke-width="0.8"/>
<text x="169.91" y="653.8" font-size="6.3" text-anchor="middle" fill="#555" stroke="#555" stroke-width="0.15">22</text>
<line x1="181.17" y1="645.3" x2="181.17" y2="647.5" stroke="#444" stroke-width="0.8"/>
<text x="181.17" y="653.8" font-size="6.3" text-anchor="middle" fill="#555" stroke="#555" stroke-width="0.15">24</text>
<line x1="192.43" y1="645.3" x2="192.43" y2="647.5" stroke="#444" stroke-width="0.8"/>
<text x="192.43" y="653.8" font-size="6.3" text-anchor="middle" fill="#555" stroke="#555" stroke-width="0.15">26</text>
<line x1="203.69" y1="645.3" x2="203.69" y2="647.5" stroke="#444" stroke-width="0.8"/>
<text x="203.69" y="653.8" font-size="6.3" text-anchor="middle" fill="#555" stroke="#555" stroke-width="0.15">28</text>
<text x="126" y="661.5" font-size="7.2" text-anchor="middle" fill="#111" stroke="#111" stroke-width="0.18">Time (days on treatment)</text>
<text x="22.3" y="577.2" font-size="7.6" text-anchor="middle" fill="#111" transform="rotate(-90 22.3 577.2)" stroke="#111" stroke-width="0.19">Mean tumor volume (mm<tspan font-size="4.7" dy="-2.7">3</tspan><tspan dy="2.7">)</tspan></text>
<line x1="51.68" y1="637.21" x2="51.68" y2="640.37" stroke="#2e2e2e" stroke-width="1.3" stroke-opacity="0.55"/>
<line x1="57.31" y1="630.17" x2="57.31" y2="634.1" stroke="#2e2e2e" stroke-width="1.3" stroke-opacity="0.55"/>
<line x1="62.94" y1="624.54" x2="62.94" y2="629.13" stroke="#2e2e2e" stroke-width="1.3" stroke-opacity="0.55"/>
<line x1="68.57" y1="622.98" x2="68.57" y2="627.82" stroke="#2e2e2e" stroke-width="1.3" stroke-opacity="0.55"/>
<line x1="74.2" y1="620.43" x2="74.2" y2="625.65" stroke="#2e2e2e" stroke-width="1.3" stroke-opacity="0.55"/>
<line x1="79.83" y1="620.15" x2="79.83" y2="625.5" stroke="#2e2e2e" stroke-width="1.3" stroke-opacity="0.55"/>
<line x1="85.46" y1="617.05" x2="85.46" y2="622.87" stroke="#2e2e2e" stroke-width="1.3" stroke-opacity="0.55"/>
<line x1="91.09" y1="613.18" x2="91.09" y2="619.58" stroke="#2e2e2e" stroke-width="1.3" stroke-opacity="0.55"/>
<line x1="96.72" y1="612.73" x2="96.72" y2="619.31" stroke="#2e2e2e" stroke-width="1.3" stroke-opacity="0.55"/>
<line x1="102.35" y1="612.67" x2="102.35" y2="619.38" stroke="#2e2e2e" stroke-width="1.3" stroke-opacity="0.55"/>
<line x1="107.98" y1="610.68" x2="107.98" y2="617.78" stroke="#2e2e2e" stroke-width="1.3" stroke-opacity="0.55"/>
<line x1="113.61" y1="607.54" x2="113.61" y2="615.2" stroke="#2e2e2e" stroke-width="1.3" stroke-opacity="0.55"/>
<line x1="119.24" y1="601.3" x2="119.24" y2="609.98" stroke="#2e2e2e" stroke-width="1.3" stroke-opacity="0.55"/>
<line x1="124.87" y1="596.58" x2="124.87" y2="606.1" stroke="#2e2e2e" stroke-width="1.3" stroke-opacity="0.55"/>
<line x1="130.5" y1="583.34" x2="130.5" y2="595" stroke="#2e2e2e" stroke-width="1.3" stroke-opacity="0.55"/>
<line x1="136.13" y1="576.25" x2="136.13" y2="589.2" stroke="#2e2e2e" stroke-width="1.3" stroke-opacity="0.55"/>
<line x1="141.76" y1="570.69" x2="141.76" y2="584.74" stroke="#2e2e2e" stroke-width="1.3" stroke-opacity="0.55"/>
<line x1="147.39" y1="568.21" x2="147.39" y2="582.92" stroke="#2e2e2e" stroke-width="1.3" stroke-opacity="0.55"/>
<line x1="153.02" y1="559.11" x2="153.02" y2="575.56" stroke="#2e2e2e" stroke-width="1.3" stroke-opacity="0.55"/>
<line x1="158.65" y1="558.17" x2="158.65" y2="575.07" stroke="#2e2e2e" stroke-width="1.3" stroke-opacity="0.55"/>
<line x1="164.28" y1="542.76" x2="164.28" y2="562.56" stroke="#2e2e2e" stroke-width="1.3" stroke-opacity="0.55"/>
<line x1="169.91" y1="527.68" x2="169.91" y2="550.42" stroke="#2e2e2e" stroke-width="1.3" stroke-opacity="0.55"/>
<line x1="175.54" y1="528.25" x2="175.54" y2="551.29" stroke="#2e2e2e" stroke-width="1.3" stroke-opacity="0.55"/>
<line x1="181.17" y1="531.96" x2="181.17" y2="554.74" stroke="#2e2e2e" stroke-width="1.3" stroke-opacity="0.55"/>
<line x1="186.8" y1="534.11" x2="186.8" y2="556.88" stroke="#2e2e2e" stroke-width="1.3" stroke-opacity="0.55"/>
<line x1="192.43" y1="509.45" x2="192.43" y2="537.15" stroke="#2e2e2e" stroke-width="1.3" stroke-opacity="0.55"/>
<line x1="198.06" y1="528.96" x2="198.06" y2="553.44" stroke="#2e2e2e" stroke-width="1.3" stroke-opacity="0.55"/>
<line x1="203.69" y1="517.66" x2="203.69" y2="544.7" stroke="#2e2e2e" stroke-width="1.3" stroke-opacity="0.55"/>
<line x1="51.68" y1="637.26" x2="51.68" y2="640.32" stroke="#5fb06c" stroke-width="1.3" stroke-opacity="0.55"/>
<line x1="57.31" y1="631.83" x2="57.31" y2="635.44" stroke="#5fb06c" stroke-width="1.3" stroke-opacity="0.55"/>
<line x1="62.94" y1="627.14" x2="62.94" y2="631.25" stroke="#5fb06c" stroke-width="1.3" stroke-opacity="0.55"/>
<line x1="68.57" y1="621.53" x2="68.57" y2="626.26" stroke="#5fb06c" stroke-width="1.3" stroke-opacity="0.55"/>
<line x1="74.2" y1="619.53" x2="74.2" y2="624.54" stroke="#5fb06c" stroke-width="1.3" stroke-opacity="0.55"/>
<line x1="79.83" y1="619.48" x2="79.83" y2="624.59" stroke="#5fb06c" stroke-width="1.3" stroke-opacity="0.55"/>
<line x1="85.46" y1="616.48" x2="85.46" y2="622.01" stroke="#5fb06c" stroke-width="1.3" stroke-opacity="0.55"/>
<line x1="91.09" y1="613.01" x2="91.09" y2="619.03" stroke="#5fb06c" stroke-width="1.3" stroke-opacity="0.55"/>
<line x1="96.72" y1="612.19" x2="96.72" y2="618.42" stroke="#5fb06c" stroke-width="1.3" stroke-opacity="0.55"/>
<line x1="102.35" y1="611.75" x2="102.35" y2="618.14" stroke="#5fb06c" stroke-width="1.3" stroke-opacity="0.55"/>
<line x1="107.98" y1="609.41" x2="107.98" y2="616.19" stroke="#5fb06c" stroke-width="1.3" stroke-opacity="0.55"/>
<line x1="113.61" y1="606.29" x2="113.61" y2="613.59" stroke="#5fb06c" stroke-width="1.3" stroke-opacity="0.55"/>
<line x1="119.24" y1="601.63" x2="119.24" y2="609.65" stroke="#5fb06c" stroke-width="1.3" stroke-opacity="0.55"/>
<line x1="124.87" y1="598.49" x2="124.87" y2="607.07" stroke="#5fb06c" stroke-width="1.3" stroke-opacity="0.55"/>
<line x1="130.5" y1="589.19" x2="130.5" y2="599.18" stroke="#5fb06c" stroke-width="1.3" stroke-opacity="0.55"/>
<line x1="136.13" y1="581.41" x2="136.13" y2="592.64" stroke="#5fb06c" stroke-width="1.3" stroke-opacity="0.55"/>
<line x1="141.76" y1="570.51" x2="141.76" y2="583.49" stroke="#5fb06c" stroke-width="1.3" stroke-opacity="0.55"/>
<line x1="147.39" y1="571.93" x2="147.39" y2="584.94" stroke="#5fb06c" stroke-width="1.3" stroke-opacity="0.55"/>
<line x1="153.02" y1="571.03" x2="153.02" y2="584.4" stroke="#5fb06c" stroke-width="1.3" stroke-opacity="0.55"/>
<line x1="158.65" y1="572.84" x2="158.65" y2="586.18" stroke="#5fb06c" stroke-width="1.3" stroke-opacity="0.55"/>
<line x1="164.28" y1="565.35" x2="164.28" y2="580.06" stroke="#5fb06c" stroke-width="1.3" stroke-opacity="0.55"/>
<line x1="169.91" y1="555.89" x2="169.91" y2="572.33" stroke="#5fb06c" stroke-width="1.3" stroke-opacity="0.55"/>
<line x1="175.54" y1="554.57" x2="175.54" y2="571.5" stroke="#5fb06c" stroke-width="1.3" stroke-opacity="0.55"/>
<line x1="181.17" y1="554.42" x2="181.17" y2="571.66" stroke="#5fb06c" stroke-width="1.3" stroke-opacity="0.55"/>
<line x1="186.8" y1="549.58" x2="186.8" y2="567.9" stroke="#5fb06c" stroke-width="1.3" stroke-opacity="0.55"/>
<line x1="192.43" y1="549.42" x2="192.43" y2="568.06" stroke="#5fb06c" stroke-width="1.3" stroke-opacity="0.55"/>
<line x1="198.06" y1="539.86" x2="198.06" y2="560.44" stroke="#5fb06c" stroke-width="1.3" stroke-opacity="0.55"/>
<line x1="203.69" y1="560.47" x2="203.69" y2="577.78" stroke="#5fb06c" stroke-width="1.3" stroke-opacity="0.55"/>
<line x1="51.68" y1="637.26" x2="51.68" y2="640.32" stroke="#4a8cc0" stroke-width="1.3" stroke-opacity="0.55"/>
<line x1="57.31" y1="631.83" x2="57.31" y2="635.44" stroke="#4a8cc0" stroke-width="1.3" stroke-opacity="0.55"/>
<line x1="62.94" y1="628.2" x2="62.94" y2="632.2" stroke="#4a8cc0" stroke-width="1.3" stroke-opacity="0.55"/>
<line x1="68.57" y1="624.1" x2="68.57" y2="628.57" stroke="#4a8cc0" stroke-width="1.3" stroke-opacity="0.55"/>
<line x1="74.2" y1="622.02" x2="74.2" y2="626.78" stroke="#4a8cc0" stroke-width="1.3" stroke-opacity="0.55"/>
<line x1="79.83" y1="621.52" x2="79.83" y2="626.42" stroke="#4a8cc0" stroke-width="1.3" stroke-opacity="0.55"/>
<line x1="85.46" y1="617.99" x2="85.46" y2="623.36" stroke="#4a8cc0" stroke-width="1.3" stroke-opacity="0.55"/>
<line x1="91.09" y1="614.91" x2="91.09" y2="620.71" stroke="#4a8cc0" stroke-width="1.3" stroke-opacity="0.55"/>
<line x1="96.72" y1="614.09" x2="96.72" y2="620.1" stroke="#4a8cc0" stroke-width="1.3" stroke-opacity="0.55"/>
<line x1="102.35" y1="613.66" x2="102.35" y2="619.82" stroke="#4a8cc0" stroke-width="1.3" stroke-opacity="0.55"/>
<line x1="107.98" y1="611.69" x2="107.98" y2="618.2" stroke="#4a8cc0" stroke-width="1.3" stroke-opacity="0.55"/>
<line x1="113.61" y1="611.17" x2="113.61" y2="617.86" stroke="#4a8cc0" stroke-width="1.3" stroke-opacity="0.55"/>
<line x1="119.24" y1="608.36" x2="119.24" y2="615.52" stroke="#4a8cc0" stroke-width="1.3" stroke-opacity="0.55"/>
<line x1="124.87" y1="608.29" x2="124.87" y2="615.59" stroke="#4a8cc0" stroke-width="1.3" stroke-opacity="0.55"/>
<line x1="130.5" y1="589.96" x2="130.5" y2="599.84" stroke="#4a8cc0" stroke-width="1.3" stroke-opacity="0.55"/>
<line x1="136.13" y1="585.25" x2="136.13" y2="595.96" stroke="#4a8cc0" stroke-width="1.3" stroke-opacity="0.55"/>
<line x1="141.76" y1="582.84" x2="141.76" y2="594.08" stroke="#4a8cc0" stroke-width="1.3" stroke-opacity="0.55"/>
<line x1="147.39" y1="575.01" x2="147.39" y2="587.58" stroke="#4a8cc0" stroke-width="1.3" stroke-opacity="0.55"/>
<line x1="153.02" y1="560.21" x2="153.02" y2="575.17" stroke="#4a8cc0" stroke-width="1.3" stroke-opacity="0.55"/>
<line x1="158.65" y1="560.84" x2="158.65" y2="575.98" stroke="#4a8cc0" stroke-width="1.3" stroke-opacity="0.55"/>
<line x1="164.28" y1="557.59" x2="164.28" y2="573.5" stroke="#4a8cc0" stroke-width="1.3" stroke-opacity="0.55"/>
<line x1="169.91" y1="559.38" x2="169.91" y2="575.28" stroke="#4a8cc0" stroke-width="1.3" stroke-opacity="0.55"/>
<line x1="175.54" y1="559.63" x2="175.54" y2="575.76" stroke="#4a8cc0" stroke-width="1.3" stroke-opacity="0.55"/>
<line x1="181.17" y1="550.52" x2="181.17" y2="568.39" stroke="#4a8cc0" stroke-width="1.3" stroke-opacity="0.55"/>
<line x1="186.8" y1="535.45" x2="186.8" y2="556.11" stroke="#4a8cc0" stroke-width="1.3" stroke-opacity="0.55"/>
<line x1="192.43" y1="530.58" x2="192.43" y2="552.39" stroke="#4a8cc0" stroke-width="1.3" stroke-opacity="0.55"/>
<line x1="198.06" y1="543.38" x2="198.06" y2="563.36" stroke="#4a8cc0" stroke-width="1.3" stroke-opacity="0.55"/>
<line x1="203.69" y1="544.39" x2="203.69" y2="564.5" stroke="#4a8cc0" stroke-width="1.3" stroke-opacity="0.55"/>
<line x1="51.68" y1="637" x2="51.68" y2="640.58" stroke="#a01c3c" stroke-width="1.3" stroke-opacity="0.55"/>
<line x1="57.31" y1="634.43" x2="57.31" y2="638.42" stroke="#a01c3c" stroke-width="1.3" stroke-opacity="0.55"/>
<line x1="62.94" y1="631.77" x2="62.94" y2="636.21" stroke="#a01c3c" stroke-width="1.3" stroke-opacity="0.55"/>
<line x1="68.57" y1="631.5" x2="68.57" y2="636.06" stroke="#a01c3c" stroke-width="1.3" stroke-opacity="0.55"/>
<line x1="74.2" y1="627.58" x2="74.2" y2="632.82" stroke="#a01c3c" stroke-width="1.3" stroke-opacity="0.55"/>
<line x1="79.83" y1="627.29" x2="79.83" y2="632.67" stroke="#a01c3c" stroke-width="1.3" stroke-opacity="0.55"/>
<line x1="85.46" y1="626.38" x2="85.46" y2="632.01" stroke="#a01c3c" stroke-width="1.3" stroke-opacity="0.55"/>
<line x1="91.09" y1="626.33" x2="91.09" y2="632.06" stroke="#a01c3c" stroke-width="1.3" stroke-opacity="0.55"/>
<line x1="96.72" y1="626.28" x2="96.72" y2="632.12" stroke="#a01c3c" stroke-width="1.3" stroke-opacity="0.55"/>
<line x1="102.35" y1="627.79" x2="102.35" y2="633.46" stroke="#a01c3c" stroke-width="1.3" stroke-opacity="0.55"/>
<line x1="107.98" y1="625.22" x2="107.98" y2="631.45" stroke="#a01c3c" stroke-width="1.3" stroke-opacity="0.55"/>
<line x1="113.61" y1="622.71" x2="113.61" y2="629.52" stroke="#a01c3c" stroke-width="1.3" stroke-opacity="0.55"/>
<line x1="119.24" y1="626.93" x2="119.24" y2="633.04" stroke="#a01c3c" stroke-width="1.3" stroke-opacity="0.55"/>
<line x1="124.87" y1="627.59" x2="124.87" y2="633.66" stroke="#a01c3c" stroke-width="1.3" stroke-opacity="0.55"/>
<line x1="130.5" y1="621.49" x2="130.5" y2="628.88" stroke="#a01c3c" stroke-width="1.3" stroke-opacity="0.55"/>
<line x1="136.13" y1="620.15" x2="136.13" y2="627.93" stroke="#a01c3c" stroke-width="1.3" stroke-opacity="0.55"/>
<line x1="141.76" y1="616.8" x2="141.76" y2="625.41" stroke="#a01c3c" stroke-width="1.3" stroke-opacity="0.55"/>
<line x1="147.39" y1="610.7" x2="147.39" y2="620.77" stroke="#a01c3c" stroke-width="1.3" stroke-opacity="0.55"/>
<line x1="153.02" y1="609.81" x2="153.02" y2="620.23" stroke="#a01c3c" stroke-width="1.3" stroke-opacity="0.55"/>
<line x1="158.65" y1="603.83" x2="158.65" y2="615.76" stroke="#a01c3c" stroke-width="1.3" stroke-opacity="0.55"/>
<line x1="164.28" y1="604.21" x2="164.28" y2="616.24" stroke="#a01c3c" stroke-width="1.3" stroke-opacity="0.55"/>
<line x1="169.91" y1="601.67" x2="169.91" y2="614.48" stroke="#a01c3c" stroke-width="1.3" stroke-opacity="0.55"/>
<line x1="175.54" y1="595.14" x2="175.54" y2="609.7" stroke="#a01c3c" stroke-width="1.3" stroke-opacity="0.55"/>
<line x1="181.17" y1="593.95" x2="181.17" y2="609.03" stroke="#a01c3c" stroke-width="1.3" stroke-opacity="0.55"/>
<line x1="186.8" y1="580.02" x2="186.8" y2="598.75" stroke="#a01c3c" stroke-width="1.3" stroke-opacity="0.55"/>
<line x1="192.43" y1="582.88" x2="192.43" y2="601.19" stroke="#a01c3c" stroke-width="1.3" stroke-opacity="0.55"/>
<line x1="198.06" y1="569.85" x2="198.06" y2="591.74" stroke="#a01c3c" stroke-width="1.3" stroke-opacity="0.55"/>
<line x1="203.69" y1="569.66" x2="203.69" y2="591.93" stroke="#a01c3c" stroke-width="1.3" stroke-opacity="0.55"/>
<polyline points="51.68,638.79 57.31,632.13 62.94,626.83 68.57,625.4 74.2,623.04 79.83,622.82 85.46,619.96 91.09,616.38 96.72,616.02 102.35,616.02 107.98,614.23 113.61,611.37 119.24,605.64 124.87,601.34 130.5,589.17 136.13,582.73 141.76,577.72 147.39,575.57 153.02,567.33 158.65,566.62 164.28,552.66 169.91,539.05 175.54,539.77 181.17,543.35 186.8,545.5 192.43,523.3 198.06,541.2 203.69,531.18" fill="none" stroke="#2e2e2e" stroke-width="1.05"/>
<circle cx="51.68" cy="638.79" r="1.85" fill="#2e2e2e"/>
<circle cx="57.31" cy="632.13" r="1.85" fill="#2e2e2e"/>
<circle cx="62.94" cy="626.83" r="1.85" fill="#2e2e2e"/>
<circle cx="68.57" cy="625.4" r="1.85" fill="#2e2e2e"/>
<circle cx="74.2" cy="623.04" r="1.85" fill="#2e2e2e"/>
<circle cx="79.83" cy="622.82" r="1.85" fill="#2e2e2e"/>
<circle cx="85.46" cy="619.96" r="1.85" fill="#2e2e2e"/>
<circle cx="91.09" cy="616.38" r="1.85" fill="#2e2e2e"/>
<circle cx="96.72" cy="616.02" r="1.85" fill="#2e2e2e"/>
<circle cx="102.35" cy="616.02" r="1.85" fill="#2e2e2e"/>
<circle cx="107.98" cy="614.23" r="1.85" fill="#2e2e2e"/>
<circle cx="113.61" cy="611.37" r="1.85" fill="#2e2e2e"/>
<circle cx="119.24" cy="605.64" r="1.85" fill="#2e2e2e"/>
<circle cx="124.87" cy="601.34" r="1.85" fill="#2e2e2e"/>
<circle cx="130.5" cy="589.17" r="1.85" fill="#2e2e2e"/>
<circle cx="136.13" cy="582.73" r="1.85" fill="#2e2e2e"/>
<circle cx="141.76" cy="577.72" r="1.85" fill="#2e2e2e"/>
<circle cx="147.39" cy="575.57" r="1.85" fill="#2e2e2e"/>
<circle cx="153.02" cy="567.33" r="1.85" fill="#2e2e2e"/>
<circle cx="158.65" cy="566.62" r="1.85" fill="#2e2e2e"/>
<circle cx="164.28" cy="552.66" r="1.85" fill="#2e2e2e"/>
<circle cx="169.91" cy="539.05" r="1.85" fill="#2e2e2e"/>
<circle cx="175.54" cy="539.77" r="1.85" fill="#2e2e2e"/>
<circle cx="181.17" cy="543.35" r="1.85" fill="#2e2e2e"/>
<circle cx="186.8" cy="545.5" r="1.85" fill="#2e2e2e"/>
<circle cx="192.43" cy="523.3" r="1.85" fill="#2e2e2e"/>
<circle cx="198.06" cy="541.2" r="1.85" fill="#2e2e2e"/>
<circle cx="203.69" cy="531.18" r="1.85" fill="#2e2e2e"/>
<polyline points="51.68,638.79 57.31,633.64 62.94,629.2 68.57,623.9 74.2,622.04 79.83,622.04 85.46,619.24 91.09,616.02 96.72,615.31 102.35,614.95 107.98,612.8 113.61,609.94 119.24,605.64 124.87,602.78 130.5,594.18 136.13,587.02 141.76,577 147.39,578.43 153.02,577.72 158.65,579.51 164.28,572.7 169.91,564.11 175.54,563.04 181.17,563.04 186.8,558.74 192.43,558.74 198.06,550.15 203.69,569.12" fill="none" stroke="#5fb06c" stroke-width="1.05"/>
<circle cx="51.68" cy="638.79" r="1.85" fill="#5fb06c"/>
<circle cx="57.31" cy="633.64" r="1.85" fill="#5fb06c"/>
<circle cx="62.94" cy="629.2" r="1.85" fill="#5fb06c"/>
<circle cx="68.57" cy="623.9" r="1.85" fill="#5fb06c"/>
<circle cx="74.2" cy="622.04" r="1.85" fill="#5fb06c"/>
<circle cx="79.83" cy="622.04" r="1.85" fill="#5fb06c"/>
<circle cx="85.46" cy="619.24" r="1.85" fill="#5fb06c"/>
<circle cx="91.09" cy="616.02" r="1.85" fill="#5fb06c"/>
<circle cx="96.72" cy="615.31" r="1.85" fill="#5fb06c"/>
<circle cx="102.35" cy="614.95" r="1.85" fill="#5fb06c"/>
<circle cx="107.98" cy="612.8" r="1.85" fill="#5fb06c"/>
<circle cx="113.61" cy="609.94" r="1.85" fill="#5fb06c"/>
<circle cx="119.24" cy="605.64" r="1.85" fill="#5fb06c"/>
<circle cx="124.87" cy="602.78" r="1.85" fill="#5fb06c"/>
<circle cx="130.5" cy="594.18" r="1.85" fill="#5fb06c"/>
<circle cx="136.13" cy="587.02" r="1.85" fill="#5fb06c"/>
<circle cx="141.76" cy="577" r="1.85" fill="#5fb06c"/>
<circle cx="147.39" cy="578.43" r="1.85" fill="#5fb06c"/>
<circle cx="153.02" cy="577.72" r="1.85" fill="#5fb06c"/>
<circle cx="158.65" cy="579.51" r="1.85" fill="#5fb06c"/>
<circle cx="164.28" cy="572.7" r="1.85" fill="#5fb06c"/>
<circle cx="169.91" cy="564.11" r="1.85" fill="#5fb06c"/>
<circle cx="175.54" cy="563.04" r="1.85" fill="#5fb06c"/>
<circle cx="181.17" cy="563.04" r="1.85" fill="#5fb06c"/>
<circle cx="186.8" cy="558.74" r="1.85" fill="#5fb06c"/>
<circle cx="192.43" cy="558.74" r="1.85" fill="#5fb06c"/>
<circle cx="198.06" cy="550.15" r="1.85" fill="#5fb06c"/>
<circle cx="203.69" cy="569.12" r="1.85" fill="#5fb06c"/>
<polyline points="51.68,638.79 57.31,633.64 62.94,630.2 68.57,626.33 74.2,624.4 79.83,623.97 85.46,620.68 91.09,617.81 96.72,617.1 102.35,616.74 107.98,614.95 113.61,614.52 119.24,611.94 124.87,611.94 130.5,594.9 136.13,590.6 141.76,588.46 147.39,581.3 153.02,567.69 158.65,568.41 164.28,565.54 169.91,567.33 175.54,567.69 181.17,559.46 186.8,545.78 192.43,541.49 198.06,553.37 203.69,554.45" fill="none" stroke="#4a8cc0" stroke-width="1.05"/>
<circle cx="51.68" cy="638.79" r="1.85" fill="#4a8cc0"/>
<circle cx="57.31" cy="633.64" r="1.85" fill="#4a8cc0"/>
<circle cx="62.94" cy="630.2" r="1.85" fill="#4a8cc0"/>
<circle cx="68.57" cy="626.33" r="1.85" fill="#4a8cc0"/>
<circle cx="74.2" cy="624.4" r="1.85" fill="#4a8cc0"/>
<circle cx="79.83" cy="623.97" r="1.85" fill="#4a8cc0"/>
<circle cx="85.46" cy="620.68" r="1.85" fill="#4a8cc0"/>
<circle cx="91.09" cy="617.81" r="1.85" fill="#4a8cc0"/>
<circle cx="96.72" cy="617.1" r="1.85" fill="#4a8cc0"/>
<circle cx="102.35" cy="616.74" r="1.85" fill="#4a8cc0"/>
<circle cx="107.98" cy="614.95" r="1.85" fill="#4a8cc0"/>
<circle cx="113.61" cy="614.52" r="1.85" fill="#4a8cc0"/>
<circle cx="119.24" cy="611.94" r="1.85" fill="#4a8cc0"/>
<circle cx="124.87" cy="611.94" r="1.85" fill="#4a8cc0"/>
<circle cx="130.5" cy="594.9" r="1.85" fill="#4a8cc0"/>
<circle cx="136.13" cy="590.6" r="1.85" fill="#4a8cc0"/>
<circle cx="141.76" cy="588.46" r="1.85" fill="#4a8cc0"/>
<circle cx="147.39" cy="581.3" r="1.85" fill="#4a8cc0"/>
<circle cx="153.02" cy="567.69" r="1.85" fill="#4a8cc0"/>
<circle cx="158.65" cy="568.41" r="1.85" fill="#4a8cc0"/>
<circle cx="164.28" cy="565.54" r="1.85" fill="#4a8cc0"/>
<circle cx="169.91" cy="567.33" r="1.85" fill="#4a8cc0"/>
<circle cx="175.54" cy="567.69" r="1.85" fill="#4a8cc0"/>
<circle cx="181.17" cy="559.46" r="1.85" fill="#4a8cc0"/>
<circle cx="186.8" cy="545.78" r="1.85" fill="#4a8cc0"/>
<circle cx="192.43" cy="541.49" r="1.85" fill="#4a8cc0"/>
<circle cx="198.06" cy="553.37" r="1.85" fill="#4a8cc0"/>
<circle cx="203.69" cy="554.45" r="1.85" fill="#4a8cc0"/>
<polyline points="51.68,638.79 57.31,636.43 62.94,633.99 68.57,633.78 74.2,630.2 79.83,629.98 85.46,629.2 91.09,629.2 96.72,629.2 102.35,630.63 107.98,628.34 113.61,626.12 119.24,629.98 124.87,630.63 130.5,625.19 136.13,624.04 141.76,621.11 147.39,615.74 153.02,615.02 158.65,609.79 164.28,610.22 169.91,608.07 175.54,602.42 181.17,601.49 186.8,589.39 192.43,592.04 198.06,580.79 203.69,580.79" fill="none" stroke="#a01c3c" stroke-width="1.05"/>
<circle cx="51.68" cy="638.79" r="1.85" fill="#a01c3c"/>
<circle cx="57.31" cy="636.43" r="1.85" fill="#a01c3c"/>
<circle cx="62.94" cy="633.99" r="1.85" fill="#a01c3c"/>
<circle cx="68.57" cy="633.78" r="1.85" fill="#a01c3c"/>
<circle cx="74.2" cy="630.2" r="1.85" fill="#a01c3c"/>
<circle cx="79.83" cy="629.98" r="1.85" fill="#a01c3c"/>
<circle cx="85.46" cy="629.2" r="1.85" fill="#a01c3c"/>
<circle cx="91.09" cy="629.2" r="1.85" fill="#a01c3c"/>
<circle cx="96.72" cy="629.2" r="1.85" fill="#a01c3c"/>
<circle cx="102.35" cy="630.63" r="1.85" fill="#a01c3c"/>
<circle cx="107.98" cy="628.34" r="1.85" fill="#a01c3c"/>
<circle cx="113.61" cy="626.12" r="1.85" fill="#a01c3c"/>
<circle cx="119.24" cy="629.98" r="1.85" fill="#a01c3c"/>
<circle cx="124.87" cy="630.63" r="1.85" fill="#a01c3c"/>
<circle cx="130.5" cy="625.19" r="1.85" fill="#a01c3c"/>
<circle cx="136.13" cy="624.04" r="1.85" fill="#a01c3c"/>
<circle cx="141.76" cy="621.11" r="1.85" fill="#a01c3c"/>
<circle cx="147.39" cy="615.74" r="1.85" fill="#a01c3c"/>
<circle cx="153.02" cy="615.02" r="1.85" fill="#a01c3c"/>
<circle cx="158.65" cy="609.79" r="1.85" fill="#a01c3c"/>
<circle cx="164.28" cy="610.22" r="1.85" fill="#a01c3c"/>
<circle cx="169.91" cy="608.07" r="1.85" fill="#a01c3c"/>
<circle cx="175.54" cy="602.42" r="1.85" fill="#a01c3c"/>
<circle cx="181.17" cy="601.49" r="1.85" fill="#a01c3c"/>
<circle cx="186.8" cy="589.39" r="1.85" fill="#a01c3c"/>
<circle cx="192.43" cy="592.04" r="1.85" fill="#a01c3c"/>
<circle cx="198.06" cy="580.79" r="1.85" fill="#a01c3c"/>
<circle cx="203.69" cy="580.79" r="1.85" fill="#a01c3c"/>
<text x="203.6" y="636.8" font-size="10.6" text-anchor="end" fill="#111" stroke="#111" stroke-width="0.22" textLength="41.8" lengthAdjust="spacingAndGlyphs"><tspan font-style="italic">P</tspan> &lt; 0.001</text>
<text x="224" y="553.3" font-size="7.3" fill="#222" stroke="#222" stroke-width="0.18">Group</text>
<line x1="224.8" y1="563.7" x2="233.8" y2="563.7" stroke="#2e2e2e" stroke-width="0.9"/>
<circle cx="229.3" cy="563.7" r="1.4" fill="#2e2e2e"/>
<text x="237.3" y="565.9" font-size="6.1" fill="#222" stroke="#222" stroke-width="0.15">VEH</text>
<line x1="224.8" y1="574.8" x2="233.8" y2="574.8" stroke="#5fb06c" stroke-width="0.9"/>
<circle cx="229.3" cy="574.8" r="1.4" fill="#5fb06c"/>
<text x="237.3" y="577" font-size="6.1" fill="#222" stroke="#222" stroke-width="0.15">LEN</text>
<line x1="224.8" y1="586.3" x2="233.8" y2="586.3" stroke="#4a8cc0" stroke-width="0.9"/>
<circle cx="229.3" cy="586.3" r="1.4" fill="#4a8cc0"/>
<text x="237.3" y="588.5" font-size="6.1" fill="#222" stroke="#222" stroke-width="0.15">TAZ</text>
<line x1="224.8" y1="597.7" x2="233.8" y2="597.7" stroke="#a01c3c" stroke-width="0.9"/>
<circle cx="229.3" cy="597.7" r="1.4" fill="#a01c3c"/>
<text x="237.3" y="599.9" font-size="6.1" fill="#222" stroke="#222" stroke-width="0.15">LEN + TAZ</text>
<line x1="321.4" y1="504.3" x2="321.4" y2="610.8" stroke="#333" stroke-width="1"/>
<line x1="321.4" y1="610.3" x2="481.1" y2="610.3" stroke="#333" stroke-width="1"/>
<line x1="319.4" y1="604.8" x2="321.4" y2="604.8" stroke="#333" stroke-width="0.8"/>
<text x="318.1" y="606.7" font-size="5.4" text-anchor="end" fill="#333" stroke="#333" stroke-width="0.13">0.00</text>
<line x1="319.4" y1="580.8" x2="321.4" y2="580.8" stroke="#333" stroke-width="0.8"/>
<text x="318.1" y="582.7" font-size="5.4" text-anchor="end" fill="#333" stroke="#333" stroke-width="0.13">0.25</text>
<line x1="319.4" y1="556.8" x2="321.4" y2="556.8" stroke="#333" stroke-width="0.8"/>
<text x="318.1" y="558.7" font-size="5.4" text-anchor="end" fill="#333" stroke="#333" stroke-width="0.13">0.50</text>
<line x1="319.4" y1="532.8" x2="321.4" y2="532.8" stroke="#333" stroke-width="0.8"/>
<text x="318.1" y="534.7" font-size="5.4" text-anchor="end" fill="#333" stroke="#333" stroke-width="0.13">0.75</text>
<line x1="319.4" y1="508.8" x2="321.4" y2="508.8" stroke="#333" stroke-width="0.8"/>
<text x="318.1" y="510.7" font-size="5.4" text-anchor="end" fill="#333" stroke="#333" stroke-width="0.13">1.00</text>
<line x1="328.5" y1="610.3" x2="328.5" y2="612.3" stroke="#333" stroke-width="0.8"/>
<text x="328.5" y="617.6" font-size="5.8" text-anchor="middle" fill="#333" stroke="#333" stroke-width="0.14">0</text>
<line x1="338.5" y1="610.3" x2="338.5" y2="612.3" stroke="#333" stroke-width="0.8"/>
<text x="338.5" y="617.6" font-size="5.8" text-anchor="middle" fill="#333" stroke="#333" stroke-width="0.14">2</text>
<line x1="348.5" y1="610.3" x2="348.5" y2="612.3" stroke="#333" stroke-width="0.8"/>
<text x="348.5" y="617.6" font-size="5.8" text-anchor="middle" fill="#333" stroke="#333" stroke-width="0.14">4</text>
<line x1="358.5" y1="610.3" x2="358.5" y2="612.3" stroke="#333" stroke-width="0.8"/>
<text x="358.5" y="617.6" font-size="5.8" text-anchor="middle" fill="#333" stroke="#333" stroke-width="0.14">6</text>
<line x1="368.5" y1="610.3" x2="368.5" y2="612.3" stroke="#333" stroke-width="0.8"/>
<text x="368.5" y="617.6" font-size="5.8" text-anchor="middle" fill="#333" stroke="#333" stroke-width="0.14">8</text>
<line x1="378.5" y1="610.3" x2="378.5" y2="612.3" stroke="#333" stroke-width="0.8"/>
<text x="378.5" y="617.6" font-size="5.8" text-anchor="middle" fill="#333" stroke="#333" stroke-width="0.14">10</text>
<line x1="388.5" y1="610.3" x2="388.5" y2="612.3" stroke="#333" stroke-width="0.8"/>
<text x="388.5" y="617.6" font-size="5.8" text-anchor="middle" fill="#333" stroke="#333" stroke-width="0.14">12</text>
<line x1="398.5" y1="610.3" x2="398.5" y2="612.3" stroke="#333" stroke-width="0.8"/>
<text x="398.5" y="617.6" font-size="5.8" text-anchor="middle" fill="#333" stroke="#333" stroke-width="0.14">14</text>
<line x1="408.5" y1="610.3" x2="408.5" y2="612.3" stroke="#333" stroke-width="0.8"/>
<text x="408.5" y="617.6" font-size="5.8" text-anchor="middle" fill="#333" stroke="#333" stroke-width="0.14">16</text>
<line x1="418.5" y1="610.3" x2="418.5" y2="612.3" stroke="#333" stroke-width="0.8"/>
<text x="418.5" y="617.6" font-size="5.8" text-anchor="middle" fill="#333" stroke="#333" stroke-width="0.14">18</text>
<line x1="428.5" y1="610.3" x2="428.5" y2="612.3" stroke="#333" stroke-width="0.8"/>
<text x="428.5" y="617.6" font-size="5.8" text-anchor="middle" fill="#333" stroke="#333" stroke-width="0.14">20</text>
<line x1="438.5" y1="610.3" x2="438.5" y2="612.3" stroke="#333" stroke-width="0.8"/>
<text x="438.5" y="617.6" font-size="5.8" text-anchor="middle" fill="#333" stroke="#333" stroke-width="0.14">22</text>
<line x1="448.5" y1="610.3" x2="448.5" y2="612.3" stroke="#333" stroke-width="0.8"/>
<text x="448.5" y="617.6" font-size="5.8" text-anchor="middle" fill="#333" stroke="#333" stroke-width="0.14">24</text>
<line x1="458.5" y1="610.3" x2="458.5" y2="612.3" stroke="#333" stroke-width="0.8"/>
<text x="458.5" y="617.6" font-size="5.8" text-anchor="middle" fill="#333" stroke="#333" stroke-width="0.14">26</text>
<line x1="468.5" y1="610.3" x2="468.5" y2="612.3" stroke="#333" stroke-width="0.8"/>
<text x="468.5" y="617.6" font-size="5.8" text-anchor="middle" fill="#333" stroke="#333" stroke-width="0.14">28</text>
<text x="397.6" y="624.5" font-size="6.7" text-anchor="middle" fill="#111" stroke="#111" stroke-width="0.16">Time (days on treatment)</text>
<text x="302.5" y="557.4" font-size="6.7" text-anchor="middle" fill="#111" transform="rotate(-90 302.5 557.4)" stroke="#111" stroke-width="0.16">Survival probability</text>
<text x="331" y="600.5" font-size="9.8" fill="#111" stroke="#111" stroke-width="0.22"><tspan font-style="italic">P</tspan> = 0.021</text>
<polyline points="328.5,508.8 423.5,508.8 423.5,518.4 433.5,518.4 433.5,528 438.5,528 438.5,547.2 443.5,547.2 443.5,566.4 458.5,566.4 458.5,585.6 468.5,585.6 468.5,585.6" fill="none" stroke="#333333" stroke-width="1.3"/>
<polyline points="328.5,508.8 418.5,508.8 418.5,518.4 423.5,518.4 423.5,528 443.5,528 443.5,547.2 448.5,547.2 448.5,556.8 453.5,556.8 453.5,566.4 458.5,566.4 458.5,566.4" fill="none" stroke="#6cbf6c" stroke-width="1.3"/>
<polyline points="328.5,508.8 428.5,508.8 428.5,518.4 433.5,518.4 433.5,528 448.5,528 448.5,537.6 453.5,537.6 453.5,547.2 458.5,547.2 458.5,566.4 463.5,566.4 463.5,576 468.5,576 468.5,576" fill="none" stroke="#4a93c9" stroke-width="1.3"/>
<polyline points="328.5,508.8 363.5,508.8 363.5,518.4 468.5,518.4 468.5,604.8" fill="none" stroke="#b01c3c" stroke-width="1.5"/>
<text x="321.6" y="635.4" font-size="7.4" fill="#111" stroke="#111" stroke-width="0.18">Number at risk</text>
<text x="318.4" y="645.3" font-size="4.6" text-anchor="end" fill="#222" stroke="#222" stroke-width="0.11">Vehicle</text>
<text x="328.5" y="645.2" font-size="4.3" text-anchor="middle" fill="#333" stroke="none">10</text>
<text x="338.5" y="645.2" font-size="4.3" text-anchor="middle" fill="#333" stroke="none">10</text>
<text x="348.5" y="645.2" font-size="4.3" text-anchor="middle" fill="#333" stroke="none">10</text>
<text x="358.5" y="645.2" font-size="4.3" text-anchor="middle" fill="#333" stroke="none">10</text>
<text x="368.5" y="645.2" font-size="4.3" text-anchor="middle" fill="#333" stroke="none">10</text>
<text x="378.5" y="645.2" font-size="4.3" text-anchor="middle" fill="#333" stroke="none">10</text>
<text x="388.5" y="645.2" font-size="4.3" text-anchor="middle" fill="#333" stroke="none">10</text>
<text x="398.5" y="645.2" font-size="4.3" text-anchor="middle" fill="#333" stroke="none">10</text>
<text x="408.5" y="645.2" font-size="4.3" text-anchor="middle" fill="#333" stroke="none">10</text>
<text x="418.5" y="645.2" font-size="4.3" text-anchor="middle" fill="#333" stroke="none">10</text>
<text x="428.5" y="645.2" font-size="4.3" text-anchor="middle" fill="#333" stroke="none">9</text>
<text x="438.5" y="645.2" font-size="4.3" text-anchor="middle" fill="#333" stroke="none">8</text>
<text x="448.5" y="645.2" font-size="4.3" text-anchor="middle" fill="#333" stroke="none">4</text>
<text x="458.5" y="645.2" font-size="4.3" text-anchor="middle" fill="#333" stroke="none">4</text>
<text x="468.5" y="645.2" font-size="4.3" text-anchor="middle" fill="#333" stroke="none">2</text>
<text x="318.4" y="651.1" font-size="4.6" text-anchor="end" fill="#5cb85c" stroke="#5cb85c" stroke-width="0.11">LEN</text>
<text x="328.5" y="651" font-size="4.3" text-anchor="middle" fill="#333" stroke="none">10</text>
<text x="338.5" y="651" font-size="4.3" text-anchor="middle" fill="#333" stroke="none">10</text>
<text x="348.5" y="651" font-size="4.3" text-anchor="middle" fill="#333" stroke="none">10</text>
<text x="358.5" y="651" font-size="4.3" text-anchor="middle" fill="#333" stroke="none">10</text>
<text x="368.5" y="651" font-size="4.3" text-anchor="middle" fill="#333" stroke="none">10</text>
<text x="378.5" y="651" font-size="4.3" text-anchor="middle" fill="#333" stroke="none">10</text>
<text x="388.5" y="651" font-size="4.3" text-anchor="middle" fill="#333" stroke="none">10</text>
<text x="398.5" y="651" font-size="4.3" text-anchor="middle" fill="#333" stroke="none">10</text>
<text x="408.5" y="651" font-size="4.3" text-anchor="middle" fill="#333" stroke="none">10</text>
<text x="418.5" y="651" font-size="4.3" text-anchor="middle" fill="#333" stroke="none">10</text>
<text x="428.5" y="651" font-size="4.3" text-anchor="middle" fill="#333" stroke="none">8</text>
<text x="438.5" y="651" font-size="4.3" text-anchor="middle" fill="#333" stroke="none">8</text>
<text x="448.5" y="651" font-size="4.3" text-anchor="middle" fill="#333" stroke="none">6</text>
<text x="458.5" y="651" font-size="4.3" text-anchor="middle" fill="#333" stroke="none">4</text>
<text x="468.5" y="651" font-size="4.3" text-anchor="middle" fill="#333" stroke="none">3</text>
<text x="318.4" y="656.9" font-size="4.6" text-anchor="end" fill="#3f8fd2" stroke="#3f8fd2" stroke-width="0.11">TAZ</text>
<text x="328.5" y="656.8" font-size="4.3" text-anchor="middle" fill="#333" stroke="none">10</text>
<text x="338.5" y="656.8" font-size="4.3" text-anchor="middle" fill="#333" stroke="none">10</text>
<text x="348.5" y="656.8" font-size="4.3" text-anchor="middle" fill="#333" stroke="none">10</text>
<text x="358.5" y="656.8" font-size="4.3" text-anchor="middle" fill="#333" stroke="none">10</text>
<text x="368.5" y="656.8" font-size="4.3" text-anchor="middle" fill="#333" stroke="none">10</text>
<text x="378.5" y="656.8" font-size="4.3" text-anchor="middle" fill="#333" stroke="none">10</text>
<text x="388.5" y="656.8" font-size="4.3" text-anchor="middle" fill="#333" stroke="none">10</text>
<text x="398.5" y="656.8" font-size="4.3" text-anchor="middle" fill="#333" stroke="none">10</text>
<text x="408.5" y="656.8" font-size="4.3" text-anchor="middle" fill="#333" stroke="none">10</text>
<text x="418.5" y="656.8" font-size="4.3" text-anchor="middle" fill="#333" stroke="none">10</text>
<text x="428.5" y="656.8" font-size="4.3" text-anchor="middle" fill="#333" stroke="none">10</text>
<text x="438.5" y="656.8" font-size="4.3" text-anchor="middle" fill="#333" stroke="none">8</text>
<text x="448.5" y="656.8" font-size="4.3" text-anchor="middle" fill="#333" stroke="none">6</text>
<text x="458.5" y="656.8" font-size="4.3" text-anchor="middle" fill="#333" stroke="none">6</text>
<text x="468.5" y="656.8" font-size="4.3" text-anchor="middle" fill="#333" stroke="none">3</text>
<text x="318.4" y="662.7" font-size="4.6" text-anchor="end" fill="#c0182b" stroke="#c0182b" stroke-width="0.11">LEN + TAZ</text>
<text x="328.5" y="662.6" font-size="4.3" text-anchor="middle" fill="#333" stroke="none">10</text>
<text x="338.5" y="662.6" font-size="4.3" text-anchor="middle" fill="#333" stroke="none">10</text>
<text x="348.5" y="662.6" font-size="4.3" text-anchor="middle" fill="#333" stroke="none">10</text>
<text x="358.5" y="662.6" font-size="4.3" text-anchor="middle" fill="#333" stroke="none">10</text>
<text x="368.5" y="662.6" font-size="4.3" text-anchor="middle" fill="#333" stroke="none">9</text>
<text x="378.5" y="662.6" font-size="4.3" text-anchor="middle" fill="#333" stroke="none">9</text>
<text x="388.5" y="662.6" font-size="4.3" text-anchor="middle" fill="#333" stroke="none">9</text>
<text x="398.5" y="662.6" font-size="4.3" text-anchor="middle" fill="#333" stroke="none">9</text>
<text x="408.5" y="662.6" font-size="4.3" text-anchor="middle" fill="#333" stroke="none">9</text>
<text x="418.5" y="662.6" font-size="4.3" text-anchor="middle" fill="#333" stroke="none">9</text>
<text x="428.5" y="662.6" font-size="4.3" text-anchor="middle" fill="#333" stroke="none">9</text>
<text x="438.5" y="662.6" font-size="4.3" text-anchor="middle" fill="#333" stroke="none">9</text>
<text x="448.5" y="662.6" font-size="4.3" text-anchor="middle" fill="#333" stroke="none">9</text>
<text x="458.5" y="662.6" font-size="4.3" text-anchor="middle" fill="#333" stroke="none">9</text>
<text x="468.5" y="662.6" font-size="4.3" text-anchor="middle" fill="#333" stroke="none">9</text>
</svg>
</body></html>
